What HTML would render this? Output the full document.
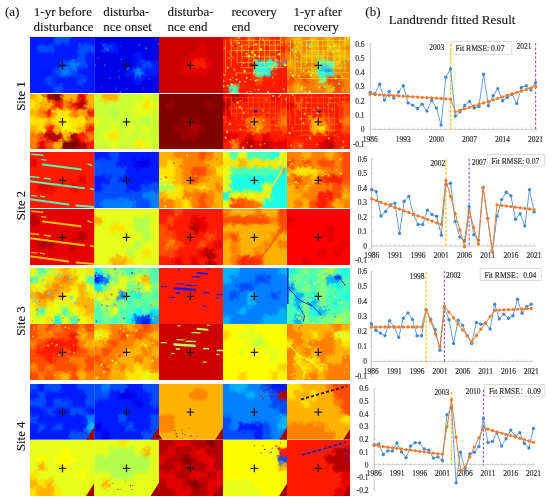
<!DOCTYPE html>
<html><head><meta charset="utf-8"><title>Landtrendr figure</title>
<style>
html,body{margin:0;padding:0;background:#fff;}
body{width:550px;height:503px;overflow:hidden;}
svg{display:block;}
text{font-family:"Liberation Serif", "Times New Roman", serif;}
.h{fill:#141414;stroke:#141414;stroke-width:0.12px;}
.s{fill:#333;stroke:#333;stroke-width:0.18px;}
.cjk{font-family:"Liberation Serif","Noto Serif CJK SC","Noto Sans CJK SC",serif;}
</style></head><body>
<svg width="550" height="503" viewBox="0 0 550 503">
<rect width="550" height="503" fill="#fff"/>
<text class="h" x="5.0" y="15.7" font-size="13">(a)</text>
<text class="h" x="33.8" y="15.6" font-size="13">1-yr before</text>
<text class="h" x="33.6" y="30.8" font-size="13">disturbance</text>
<text class="h" x="103.2" y="15.6" font-size="13">disturba-</text>
<text class="h" x="103.2" y="30.8" font-size="13">nce onset</text>
<text class="h" x="167.4" y="15.6" font-size="13">disturba-</text>
<text class="h" x="167.4" y="30.8" font-size="13">nce end</text>
<text class="h" x="231.4" y="15.6" font-size="13">recovery</text>
<text class="h" x="231.4" y="30.8" font-size="13">end</text>
<text class="h" x="293.4" y="15.6" font-size="13">1-yr after</text>
<text class="h" x="293.4" y="30.8" font-size="13">recovery</text>
<text class="h" x="365.3" y="16.0" font-size="13">(b)</text>
<text class="h" x="388.8" y="23.5" font-size="13.2">Landtrendr fitted Result</text>
<text transform="translate(25.3 96) rotate(-90)" text-anchor="middle" font-size="12.8" class="h">Site 1</text>
<text transform="translate(25.3 205.5) rotate(-90)" text-anchor="middle" font-size="12.8" class="h">Site 2</text>
<text transform="translate(25.3 321) rotate(-90)" text-anchor="middle" font-size="12.8" class="h">Site 3</text>
<text transform="translate(25.3 436.3) rotate(-90)" text-anchor="middle" font-size="12.8" class="h">Site 4</text>
<svg x="30" y="37" width="64.5" height="56" viewBox="0 0 64.5 56" overflow="hidden">
<rect width="64.5" height="56" fill="#001aff"/>
<g filter="url(#f00)">
<rect x="-8.50" y="-8.50" width="17.06" height="17.00" fill="#001aff"/>
<rect x="7.56" y="-8.50" width="9.06" height="17.00" fill="#001aff"/>
<rect x="15.62" y="-8.50" width="9.06" height="17.00" fill="#001aff"/>
<rect x="23.69" y="-8.50" width="9.06" height="17.00" fill="#004dff"/>
<rect x="31.75" y="-8.50" width="9.06" height="17.00" fill="#004dff"/>
<rect x="39.81" y="-8.50" width="9.06" height="17.00" fill="#001aff"/>
<rect x="47.88" y="-8.50" width="9.06" height="17.00" fill="#001aff"/>
<rect x="55.94" y="-8.50" width="17.06" height="17.00" fill="#001aff"/>
<rect x="-8.50" y="7.50" width="17.06" height="9.00" fill="#001aff"/>
<rect x="7.56" y="7.50" width="9.06" height="9.00" fill="#004dff"/>
<rect x="15.62" y="7.50" width="9.06" height="9.00" fill="#004dff"/>
<rect x="23.69" y="7.50" width="9.06" height="9.00" fill="#001aff"/>
<rect x="31.75" y="7.50" width="9.06" height="9.00" fill="#001aff"/>
<rect x="39.81" y="7.50" width="9.06" height="9.00" fill="#001aff"/>
<rect x="47.88" y="7.50" width="9.06" height="9.00" fill="#004dff"/>
<rect x="55.94" y="7.50" width="17.06" height="9.00" fill="#004dff"/>
<rect x="-8.50" y="15.50" width="17.06" height="9.00" fill="#001aff"/>
<rect x="7.56" y="15.50" width="9.06" height="9.00" fill="#001aff"/>
<rect x="15.62" y="15.50" width="9.06" height="9.00" fill="#001aff"/>
<rect x="23.69" y="15.50" width="9.06" height="9.00" fill="#001aff"/>
<rect x="31.75" y="15.50" width="9.06" height="9.00" fill="#001aff"/>
<rect x="39.81" y="15.50" width="9.06" height="9.00" fill="#001aff"/>
<rect x="47.88" y="15.50" width="9.06" height="9.00" fill="#004dff"/>
<rect x="55.94" y="15.50" width="17.06" height="9.00" fill="#001aff"/>
<rect x="-8.50" y="23.50" width="17.06" height="9.00" fill="#001aff"/>
<rect x="7.56" y="23.50" width="9.06" height="9.00" fill="#001aff"/>
<rect x="15.62" y="23.50" width="9.06" height="9.00" fill="#001aff"/>
<rect x="23.69" y="23.50" width="9.06" height="9.00" fill="#001aff"/>
<rect x="31.75" y="23.50" width="9.06" height="9.00" fill="#004dff"/>
<rect x="39.81" y="23.50" width="9.06" height="9.00" fill="#0080ff"/>
<rect x="47.88" y="23.50" width="9.06" height="9.00" fill="#004dff"/>
<rect x="55.94" y="23.50" width="17.06" height="9.00" fill="#001aff"/>
<rect x="-8.50" y="31.50" width="17.06" height="9.00" fill="#001aff"/>
<rect x="7.56" y="31.50" width="9.06" height="9.00" fill="#001aff"/>
<rect x="15.62" y="31.50" width="9.06" height="9.00" fill="#001aff"/>
<rect x="23.69" y="31.50" width="9.06" height="9.00" fill="#004dff"/>
<rect x="31.75" y="31.50" width="9.06" height="9.00" fill="#0080ff"/>
<rect x="39.81" y="31.50" width="9.06" height="9.00" fill="#004dff"/>
<rect x="47.88" y="31.50" width="9.06" height="9.00" fill="#001aff"/>
<rect x="55.94" y="31.50" width="17.06" height="9.00" fill="#001aff"/>
<rect x="-8.50" y="39.50" width="17.06" height="9.00" fill="#001aff"/>
<rect x="7.56" y="39.50" width="9.06" height="9.00" fill="#001aff"/>
<rect x="15.62" y="39.50" width="9.06" height="9.00" fill="#004dff"/>
<rect x="23.69" y="39.50" width="9.06" height="9.00" fill="#001aff"/>
<rect x="31.75" y="39.50" width="9.06" height="9.00" fill="#001aff"/>
<rect x="39.81" y="39.50" width="9.06" height="9.00" fill="#001aff"/>
<rect x="47.88" y="39.50" width="9.06" height="9.00" fill="#004dff"/>
<rect x="55.94" y="39.50" width="17.06" height="9.00" fill="#001aff"/>
<rect x="-8.50" y="47.50" width="17.06" height="17.00" fill="#001aff"/>
<rect x="7.56" y="47.50" width="9.06" height="17.00" fill="#001aff"/>
<rect x="15.62" y="47.50" width="9.06" height="17.00" fill="#001aff"/>
<rect x="23.69" y="47.50" width="9.06" height="17.00" fill="#004dff"/>
<rect x="31.75" y="47.50" width="9.06" height="17.00" fill="#001aff"/>
<rect x="39.81" y="47.50" width="9.06" height="17.00" fill="#001aff"/>
<rect x="47.88" y="47.50" width="9.06" height="17.00" fill="#001aff"/>
<rect x="55.94" y="47.50" width="17.06" height="17.00" fill="#001aff"/>
</g>
<defs><filter id="f00" x="-20%" y="-20%" width="140%" height="140%" color-interpolation-filters="sRGB"><feGaussianBlur stdDeviation="1.8" result="b"/><feTurbulence type="fractalNoise" baseFrequency="0.2" numOctaves="2" seed="1" result="n"/><feDisplacementMap in="b" in2="n" scale="8.0" xChannelSelector="R" yChannelSelector="G" result="d"/><feGaussianBlur in="d" stdDeviation="0.5"/></filter></defs>
<path d="M28.7 28.4H36.3M32.5 24.6V32.2" stroke="#1a1208" stroke-width="1.25" fill="none" opacity="0.92"/>
</svg>
<svg x="94.5" y="37" width="64.5" height="56" viewBox="0 0 64.5 56" overflow="hidden">
<rect width="64.5" height="56" fill="#0000e6"/>
<g filter="url(#f01)">
<rect x="-8.50" y="-8.50" width="17.06" height="17.00" fill="#0000e6"/>
<rect x="7.56" y="-8.50" width="9.06" height="17.00" fill="#0000e6"/>
<rect x="15.62" y="-8.50" width="9.06" height="17.00" fill="#0000e6"/>
<rect x="23.69" y="-8.50" width="9.06" height="17.00" fill="#0000e6"/>
<rect x="31.75" y="-8.50" width="9.06" height="17.00" fill="#0000e6"/>
<rect x="39.81" y="-8.50" width="9.06" height="17.00" fill="#0000e6"/>
<rect x="47.88" y="-8.50" width="9.06" height="17.00" fill="#0000e6"/>
<rect x="55.94" y="-8.50" width="17.06" height="17.00" fill="#0000e6"/>
<rect x="-8.50" y="7.50" width="17.06" height="9.00" fill="#0000e6"/>
<rect x="7.56" y="7.50" width="9.06" height="9.00" fill="#004dff"/>
<rect x="15.62" y="7.50" width="9.06" height="9.00" fill="#001aff"/>
<rect x="23.69" y="7.50" width="9.06" height="9.00" fill="#0000e6"/>
<rect x="31.75" y="7.50" width="9.06" height="9.00" fill="#0000e6"/>
<rect x="39.81" y="7.50" width="9.06" height="9.00" fill="#0000e6"/>
<rect x="47.88" y="7.50" width="9.06" height="9.00" fill="#0000e6"/>
<rect x="55.94" y="7.50" width="17.06" height="9.00" fill="#0000e6"/>
<rect x="-8.50" y="15.50" width="17.06" height="9.00" fill="#0000e6"/>
<rect x="7.56" y="15.50" width="9.06" height="9.00" fill="#0000e6"/>
<rect x="15.62" y="15.50" width="9.06" height="9.00" fill="#0000e6"/>
<rect x="23.69" y="15.50" width="9.06" height="9.00" fill="#0000e6"/>
<rect x="31.75" y="15.50" width="9.06" height="9.00" fill="#0000e6"/>
<rect x="39.81" y="15.50" width="9.06" height="9.00" fill="#001aff"/>
<rect x="47.88" y="15.50" width="9.06" height="9.00" fill="#0000e6"/>
<rect x="55.94" y="15.50" width="17.06" height="9.00" fill="#0000e6"/>
<rect x="-8.50" y="23.50" width="17.06" height="9.00" fill="#0000e6"/>
<rect x="7.56" y="23.50" width="9.06" height="9.00" fill="#0000e6"/>
<rect x="15.62" y="23.50" width="9.06" height="9.00" fill="#0000e6"/>
<rect x="23.69" y="23.50" width="9.06" height="9.00" fill="#0000e6"/>
<rect x="31.75" y="23.50" width="9.06" height="9.00" fill="#0000e6"/>
<rect x="39.81" y="23.50" width="9.06" height="9.00" fill="#001aff"/>
<rect x="47.88" y="23.50" width="9.06" height="9.00" fill="#004dff"/>
<rect x="55.94" y="23.50" width="17.06" height="9.00" fill="#001aff"/>
<rect x="-8.50" y="31.50" width="17.06" height="9.00" fill="#0000e6"/>
<rect x="7.56" y="31.50" width="9.06" height="9.00" fill="#0000e6"/>
<rect x="15.62" y="31.50" width="9.06" height="9.00" fill="#0000e6"/>
<rect x="23.69" y="31.50" width="9.06" height="9.00" fill="#0000e6"/>
<rect x="31.75" y="31.50" width="9.06" height="9.00" fill="#001aff"/>
<rect x="39.81" y="31.50" width="9.06" height="9.00" fill="#0080ff"/>
<rect x="47.88" y="31.50" width="9.06" height="9.00" fill="#001aff"/>
<rect x="55.94" y="31.50" width="17.06" height="9.00" fill="#001aff"/>
<rect x="-8.50" y="39.50" width="17.06" height="9.00" fill="#0000e6"/>
<rect x="7.56" y="39.50" width="9.06" height="9.00" fill="#0000e6"/>
<rect x="15.62" y="39.50" width="9.06" height="9.00" fill="#0000e6"/>
<rect x="23.69" y="39.50" width="9.06" height="9.00" fill="#0000e6"/>
<rect x="31.75" y="39.50" width="9.06" height="9.00" fill="#0000e6"/>
<rect x="39.81" y="39.50" width="9.06" height="9.00" fill="#001aff"/>
<rect x="47.88" y="39.50" width="9.06" height="9.00" fill="#0000e6"/>
<rect x="55.94" y="39.50" width="17.06" height="9.00" fill="#0000e6"/>
<rect x="-8.50" y="47.50" width="17.06" height="17.00" fill="#0000e6"/>
<rect x="7.56" y="47.50" width="9.06" height="17.00" fill="#0000e6"/>
<rect x="15.62" y="47.50" width="9.06" height="17.00" fill="#0000e6"/>
<rect x="23.69" y="47.50" width="9.06" height="17.00" fill="#0000e6"/>
<rect x="31.75" y="47.50" width="9.06" height="17.00" fill="#0000e6"/>
<rect x="39.81" y="47.50" width="9.06" height="17.00" fill="#0000e6"/>
<rect x="47.88" y="47.50" width="9.06" height="17.00" fill="#0000e6"/>
<rect x="55.94" y="47.50" width="17.06" height="17.00" fill="#0000e6"/>
</g>
<defs><filter id="f01" x="-20%" y="-20%" width="140%" height="140%" color-interpolation-filters="sRGB"><feGaussianBlur stdDeviation="1.8" result="b"/><feTurbulence type="fractalNoise" baseFrequency="0.2" numOctaves="2" seed="2" result="n"/><feDisplacementMap in="b" in2="n" scale="8.0" xChannelSelector="R" yChannelSelector="G" result="d"/><feGaussianBlur in="d" stdDeviation="0.5"/></filter></defs>
<defs><filter id="fb01_0" filterUnits="userSpaceOnUse" x="-10" y="-10" width="84.5" height="76" color-interpolation-filters="sRGB"><feGaussianBlur stdDeviation="0.5"/></filter></defs>
<g filter="url(#fb01_0)">
<circle cx="29.6" cy="20.9" r="0.58" fill="#1060ff" opacity="0.8"/><circle cx="0.4" cy="28.2" r="1.04" fill="#2080ff" opacity="0.8"/><circle cx="21.4" cy="52.4" r="0.92" fill="#1060ff" opacity="0.8"/><circle cx="24.3" cy="39.4" r="0.77" fill="#1060ff" opacity="0.8"/><circle cx="27.0" cy="9.4" r="0.53" fill="#2080ff" opacity="0.8"/><circle cx="32.4" cy="51.7" r="0.85" fill="#1060ff" opacity="0.8"/><circle cx="24.6" cy="41.8" r="0.56" fill="#30a0ff" opacity="0.8"/><circle cx="13.1" cy="12.6" r="0.98" fill="#2080ff" opacity="0.8"/><circle cx="49.4" cy="51.0" r="0.74" fill="#30a0ff" opacity="0.8"/><circle cx="51.8" cy="11.2" r="1.03" fill="#30a0ff" opacity="0.8"/><circle cx="3.5" cy="21.2" r="0.80" fill="#2080ff" opacity="0.8"/><circle cx="15.2" cy="41.2" r="1.01" fill="#1060ff" opacity="0.8"/><circle cx="0.2" cy="42.8" r="0.62" fill="#2080ff" opacity="0.8"/><circle cx="21.1" cy="50.0" r="0.58" fill="#2080ff" opacity="0.8"/><circle cx="32.1" cy="32.1" r="0.82" fill="#2080ff" opacity="0.8"/><circle cx="26.9" cy="22.3" r="0.88" fill="#2080ff" opacity="0.8"/><circle cx="44.9" cy="8.1" r="1.06" fill="#1060ff" opacity="0.8"/><circle cx="61.3" cy="3.0" r="0.83" fill="#1060ff" opacity="0.8"/><circle cx="54.5" cy="41.7" r="0.94" fill="#1060ff" opacity="0.8"/><circle cx="63.9" cy="6.8" r="0.92" fill="#2080ff" opacity="0.8"/><circle cx="10.4" cy="28.3" r="0.94" fill="#1060ff" opacity="0.8"/><circle cx="33.4" cy="31.7" r="0.91" fill="#30a0ff" opacity="0.8"/><circle cx="7.0" cy="49.4" r="0.72" fill="#2080ff" opacity="0.8"/><circle cx="25.7" cy="55.2" r="0.84" fill="#2080ff" opacity="0.8"/><circle cx="24.3" cy="34.0" r="0.50" fill="#2080ff" opacity="0.8"/>
</g>
<path d="M28.2 28.4H35.8M32.0 24.6V32.2" stroke="#1a1208" stroke-width="1.25" fill="none" opacity="0.92"/>
</svg>
<svg x="159" y="37" width="64" height="56" viewBox="0 0 64 56" overflow="hidden">
<rect width="64" height="56" fill="#cc0000"/>
<g filter="url(#f02)">
<rect x="-8.50" y="-8.50" width="17.00" height="17.00" fill="#cc0000"/>
<rect x="7.50" y="-8.50" width="9.00" height="17.00" fill="#cc0000"/>
<rect x="15.50" y="-8.50" width="9.00" height="17.00" fill="#cc0000"/>
<rect x="23.50" y="-8.50" width="9.00" height="17.00" fill="#cc0000"/>
<rect x="31.50" y="-8.50" width="9.00" height="17.00" fill="#cc0000"/>
<rect x="39.50" y="-8.50" width="9.00" height="17.00" fill="#cc0000"/>
<rect x="47.50" y="-8.50" width="9.00" height="17.00" fill="#cc0000"/>
<rect x="55.50" y="-8.50" width="17.00" height="17.00" fill="#cc0000"/>
<rect x="-8.50" y="7.50" width="17.00" height="9.00" fill="#cc0000"/>
<rect x="7.50" y="7.50" width="9.00" height="9.00" fill="#cc0000"/>
<rect x="15.50" y="7.50" width="9.00" height="9.00" fill="#cc0000"/>
<rect x="23.50" y="7.50" width="9.00" height="9.00" fill="#cc0000"/>
<rect x="31.50" y="7.50" width="9.00" height="9.00" fill="#cc0000"/>
<rect x="39.50" y="7.50" width="9.00" height="9.00" fill="#e50000"/>
<rect x="47.50" y="7.50" width="9.00" height="9.00" fill="#cc0000"/>
<rect x="55.50" y="7.50" width="17.00" height="9.00" fill="#cc0000"/>
<rect x="-8.50" y="15.50" width="17.00" height="9.00" fill="#cc0000"/>
<rect x="7.50" y="15.50" width="9.00" height="9.00" fill="#cc0000"/>
<rect x="15.50" y="15.50" width="9.00" height="9.00" fill="#cc0000"/>
<rect x="23.50" y="15.50" width="9.00" height="9.00" fill="#cc0000"/>
<rect x="31.50" y="15.50" width="9.00" height="9.00" fill="#e50000"/>
<rect x="39.50" y="15.50" width="9.00" height="9.00" fill="#e50000"/>
<rect x="47.50" y="15.50" width="9.00" height="9.00" fill="#cc0000"/>
<rect x="55.50" y="15.50" width="17.00" height="9.00" fill="#cc0000"/>
<rect x="-8.50" y="23.50" width="17.00" height="9.00" fill="#cc0000"/>
<rect x="7.50" y="23.50" width="9.00" height="9.00" fill="#cc0000"/>
<rect x="15.50" y="23.50" width="9.00" height="9.00" fill="#cc0000"/>
<rect x="23.50" y="23.50" width="9.00" height="9.00" fill="#e50000"/>
<rect x="31.50" y="23.50" width="9.00" height="9.00" fill="#ff1a00"/>
<rect x="39.50" y="23.50" width="9.00" height="9.00" fill="#ff1a00"/>
<rect x="47.50" y="23.50" width="9.00" height="9.00" fill="#e50000"/>
<rect x="55.50" y="23.50" width="17.00" height="9.00" fill="#cc0000"/>
<rect x="-8.50" y="31.50" width="17.00" height="9.00" fill="#cc0000"/>
<rect x="7.50" y="31.50" width="9.00" height="9.00" fill="#cc0000"/>
<rect x="15.50" y="31.50" width="9.00" height="9.00" fill="#cc0000"/>
<rect x="23.50" y="31.50" width="9.00" height="9.00" fill="#e50000"/>
<rect x="31.50" y="31.50" width="9.00" height="9.00" fill="#e50000"/>
<rect x="39.50" y="31.50" width="9.00" height="9.00" fill="#e50000"/>
<rect x="47.50" y="31.50" width="9.00" height="9.00" fill="#cc0000"/>
<rect x="55.50" y="31.50" width="17.00" height="9.00" fill="#cc0000"/>
<rect x="-8.50" y="39.50" width="17.00" height="9.00" fill="#cc0000"/>
<rect x="7.50" y="39.50" width="9.00" height="9.00" fill="#cc0000"/>
<rect x="15.50" y="39.50" width="9.00" height="9.00" fill="#cc0000"/>
<rect x="23.50" y="39.50" width="9.00" height="9.00" fill="#cc0000"/>
<rect x="31.50" y="39.50" width="9.00" height="9.00" fill="#cc0000"/>
<rect x="39.50" y="39.50" width="9.00" height="9.00" fill="#cc0000"/>
<rect x="47.50" y="39.50" width="9.00" height="9.00" fill="#cc0000"/>
<rect x="55.50" y="39.50" width="17.00" height="9.00" fill="#cc0000"/>
<rect x="-8.50" y="47.50" width="17.00" height="17.00" fill="#cc0000"/>
<rect x="7.50" y="47.50" width="9.00" height="17.00" fill="#cc0000"/>
<rect x="15.50" y="47.50" width="9.00" height="17.00" fill="#cc0000"/>
<rect x="23.50" y="47.50" width="9.00" height="17.00" fill="#cc0000"/>
<rect x="31.50" y="47.50" width="9.00" height="17.00" fill="#cc0000"/>
<rect x="39.50" y="47.50" width="9.00" height="17.00" fill="#cc0000"/>
<rect x="47.50" y="47.50" width="9.00" height="17.00" fill="#cc0000"/>
<rect x="55.50" y="47.50" width="17.00" height="17.00" fill="#cc0000"/>
</g>
<defs><filter id="f02" x="-20%" y="-20%" width="140%" height="140%" color-interpolation-filters="sRGB"><feGaussianBlur stdDeviation="1.8" result="b"/><feTurbulence type="fractalNoise" baseFrequency="0.2" numOctaves="2" seed="3" result="n"/><feDisplacementMap in="b" in2="n" scale="8.0" xChannelSelector="R" yChannelSelector="G" result="d"/><feGaussianBlur in="d" stdDeviation="0.5"/></filter></defs>
<path d="M27.6 28.4H35.2M31.4 24.6V32.2" stroke="#1a1208" stroke-width="1.25" fill="none" opacity="0.92"/>
</svg>
<svg x="223" y="37" width="64" height="56" viewBox="0 0 64 56" overflow="hidden">
<rect width="64" height="56" fill="#ff1a00"/>
<g filter="url(#f03)">
<rect x="-8.50" y="-8.50" width="17.00" height="17.00" fill="#ff1a00"/>
<rect x="7.50" y="-8.50" width="9.00" height="17.00" fill="#ff4c00"/>
<rect x="15.50" y="-8.50" width="9.00" height="17.00" fill="#ff1a00"/>
<rect x="23.50" y="-8.50" width="9.00" height="17.00" fill="#ff4c00"/>
<rect x="31.50" y="-8.50" width="9.00" height="17.00" fill="#ff1a00"/>
<rect x="39.50" y="-8.50" width="9.00" height="17.00" fill="#ff4c00"/>
<rect x="47.50" y="-8.50" width="9.00" height="17.00" fill="#ff1a00"/>
<rect x="55.50" y="-8.50" width="17.00" height="17.00" fill="#ff4c00"/>
<rect x="-8.50" y="7.50" width="17.00" height="9.00" fill="#ff1a00"/>
<rect x="7.50" y="7.50" width="9.00" height="9.00" fill="#ff1a00"/>
<rect x="15.50" y="7.50" width="9.00" height="9.00" fill="#ff4c00"/>
<rect x="23.50" y="7.50" width="9.00" height="9.00" fill="#ff1a00"/>
<rect x="31.50" y="7.50" width="9.00" height="9.00" fill="#ff4c00"/>
<rect x="39.50" y="7.50" width="9.00" height="9.00" fill="#ff1a00"/>
<rect x="47.50" y="7.50" width="9.00" height="9.00" fill="#ff4c00"/>
<rect x="55.50" y="7.50" width="17.00" height="9.00" fill="#ff1a00"/>
<rect x="-8.50" y="15.50" width="17.00" height="9.00" fill="#ff1a00"/>
<rect x="7.50" y="15.50" width="9.00" height="9.00" fill="#ff1a00"/>
<rect x="15.50" y="15.50" width="9.00" height="9.00" fill="#ff1a00"/>
<rect x="23.50" y="15.50" width="9.00" height="9.00" fill="#ff4c00"/>
<rect x="31.50" y="15.50" width="9.00" height="9.00" fill="#ff1a00"/>
<rect x="39.50" y="15.50" width="9.00" height="9.00" fill="#ff4c00"/>
<rect x="47.50" y="15.50" width="9.00" height="9.00" fill="#ff1a00"/>
<rect x="55.50" y="15.50" width="17.00" height="9.00" fill="#ff4c00"/>
<rect x="-8.50" y="23.50" width="17.00" height="9.00" fill="#ff1a00"/>
<rect x="7.50" y="23.50" width="9.00" height="9.00" fill="#ff1a00"/>
<rect x="15.50" y="23.50" width="9.00" height="9.00" fill="#ff1a00"/>
<rect x="23.50" y="23.50" width="9.00" height="9.00" fill="#ff1a00"/>
<rect x="31.50" y="23.50" width="9.00" height="9.00" fill="#1affe5"/>
<rect x="39.50" y="23.50" width="9.00" height="9.00" fill="#1affe5"/>
<rect x="47.50" y="23.50" width="9.00" height="9.00" fill="#4dffb2"/>
<rect x="55.50" y="23.50" width="17.00" height="9.00" fill="#ff1a00"/>
<rect x="-8.50" y="31.50" width="17.00" height="9.00" fill="#ff1a00"/>
<rect x="7.50" y="31.50" width="9.00" height="9.00" fill="#ff1a00"/>
<rect x="15.50" y="31.50" width="9.00" height="9.00" fill="#ff1a00"/>
<rect x="23.50" y="31.50" width="9.00" height="9.00" fill="#ff1a00"/>
<rect x="31.50" y="31.50" width="9.00" height="9.00" fill="#4dffb2"/>
<rect x="39.50" y="31.50" width="9.00" height="9.00" fill="#1affe5"/>
<rect x="47.50" y="31.50" width="9.00" height="9.00" fill="#ff1a00"/>
<rect x="55.50" y="31.50" width="17.00" height="9.00" fill="#ff1a00"/>
<rect x="-8.50" y="39.50" width="17.00" height="9.00" fill="#ff1a00"/>
<rect x="7.50" y="39.50" width="9.00" height="9.00" fill="#ff1a00"/>
<rect x="15.50" y="39.50" width="9.00" height="9.00" fill="#ff1a00"/>
<rect x="23.50" y="39.50" width="9.00" height="9.00" fill="#ff1a00"/>
<rect x="31.50" y="39.50" width="9.00" height="9.00" fill="#ff4c00"/>
<rect x="39.50" y="39.50" width="9.00" height="9.00" fill="#ff1a00"/>
<rect x="47.50" y="39.50" width="9.00" height="9.00" fill="#ff1a00"/>
<rect x="55.50" y="39.50" width="17.00" height="9.00" fill="#ff1a00"/>
<rect x="-8.50" y="47.50" width="17.00" height="17.00" fill="#ff1a00"/>
<rect x="7.50" y="47.50" width="9.00" height="17.00" fill="#4dffb2"/>
<rect x="15.50" y="47.50" width="9.00" height="17.00" fill="#ff1a00"/>
<rect x="23.50" y="47.50" width="9.00" height="17.00" fill="#ff1a00"/>
<rect x="31.50" y="47.50" width="9.00" height="17.00" fill="#ff1a00"/>
<rect x="39.50" y="47.50" width="9.00" height="17.00" fill="#ff1a00"/>
<rect x="47.50" y="47.50" width="9.00" height="17.00" fill="#ff1a00"/>
<rect x="55.50" y="47.50" width="17.00" height="17.00" fill="#ff1a00"/>
</g>
<defs><filter id="f03" x="-20%" y="-20%" width="140%" height="140%" color-interpolation-filters="sRGB"><feGaussianBlur stdDeviation="1.8" result="b"/><feTurbulence type="fractalNoise" baseFrequency="0.2" numOctaves="2" seed="4" result="n"/><feDisplacementMap in="b" in2="n" scale="8.0" xChannelSelector="R" yChannelSelector="G" result="d"/><feGaussianBlur in="d" stdDeviation="0.5"/></filter></defs>
<defs><filter id="fb03_0" filterUnits="userSpaceOnUse" x="-10" y="-10" width="84" height="76" color-interpolation-filters="sRGB"><feGaussianBlur stdDeviation="1.0"/></filter></defs>
<g filter="url(#fb03_0)">
<ellipse cx="39" cy="31" rx="6" ry="3.5" fill="#40e8f0" opacity="0.85"/>
<ellipse cx="44" cy="35" rx="3" ry="2" fill="#40e8f0" opacity="0.7"/>
<ellipse cx="8" cy="50" rx="2.5" ry="1.8" fill="#40e8f0" opacity="0.85"/>
<ellipse cx="61" cy="26" rx="2.5" ry="3.5" fill="#40e8f0" opacity="0.6"/>
</g>
<defs><filter id="fb03_1" filterUnits="userSpaceOnUse" x="-10" y="-10" width="84" height="76" color-interpolation-filters="sRGB"><feGaussianBlur stdDeviation="0.5"/></filter></defs>
<g filter="url(#fb03_1)">
<circle cx="8.6" cy="47.5" r="1.13" fill="#d0ff40" opacity="0.8"/><circle cx="7.5" cy="42.6" r="0.93" fill="#d0ff40" opacity="0.8"/><circle cx="50.5" cy="5.3" r="0.62" fill="#d0ff40" opacity="0.8"/><circle cx="27.7" cy="42.7" r="0.60" fill="#d0ff40" opacity="0.8"/><circle cx="17.0" cy="44.9" r="1.01" fill="#ffe040" opacity="0.8"/><circle cx="57.7" cy="1.7" r="0.62" fill="#ffb000" opacity="0.8"/><circle cx="0.6" cy="49.3" r="1.08" fill="#d0ff40" opacity="0.8"/><circle cx="46.5" cy="29.5" r="1.13" fill="#d0ff40" opacity="0.8"/><circle cx="35.4" cy="19.4" r="1.07" fill="#d0ff40" opacity="0.8"/><circle cx="60.9" cy="51.9" r="0.89" fill="#ffb000" opacity="0.8"/><circle cx="59.0" cy="5.6" r="1.04" fill="#ffb000" opacity="0.8"/><circle cx="55.0" cy="6.8" r="0.83" fill="#ffb000" opacity="0.8"/><circle cx="62.3" cy="28.0" r="1.28" fill="#ffb000" opacity="0.8"/><circle cx="53.1" cy="37.5" r="0.81" fill="#ffb000" opacity="0.8"/><circle cx="62.3" cy="28.0" r="1.26" fill="#d0ff40" opacity="0.8"/><circle cx="37.7" cy="1.9" r="0.77" fill="#d0ff40" opacity="0.8"/><circle cx="26.5" cy="9.7" r="0.98" fill="#ffb000" opacity="0.8"/><circle cx="49.7" cy="41.3" r="0.66" fill="#ffb000" opacity="0.8"/><circle cx="32.5" cy="43.6" r="0.96" fill="#d0ff40" opacity="0.8"/><circle cx="23.7" cy="41.0" r="0.93" fill="#d0ff40" opacity="0.8"/><circle cx="45.0" cy="55.1" r="1.02" fill="#d0ff40" opacity="0.8"/><circle cx="41.4" cy="9.4" r="0.76" fill="#ffe040" opacity="0.8"/><circle cx="49.3" cy="30.2" r="1.20" fill="#ffe040" opacity="0.8"/><circle cx="25.9" cy="19.3" r="1.19" fill="#d0ff40" opacity="0.8"/><circle cx="29.4" cy="15.1" r="0.98" fill="#ffb000" opacity="0.8"/><circle cx="0.4" cy="43.9" r="1.17" fill="#ffb000" opacity="0.8"/><circle cx="32.8" cy="7.2" r="1.14" fill="#ffe040" opacity="0.8"/><circle cx="27.3" cy="3.1" r="1.21" fill="#ffb000" opacity="0.8"/><circle cx="35.5" cy="52.7" r="0.89" fill="#d0ff40" opacity="0.8"/><circle cx="26.5" cy="0.1" r="0.98" fill="#ffb000" opacity="0.8"/><circle cx="21.2" cy="33.6" r="1.16" fill="#ffb000" opacity="0.8"/><circle cx="11.3" cy="32.7" r="1.20" fill="#ffb000" opacity="0.8"/><circle cx="51.0" cy="45.7" r="0.78" fill="#ffb000" opacity="0.8"/><circle cx="4.5" cy="48.6" r="0.92" fill="#d0ff40" opacity="0.8"/><circle cx="16.0" cy="6.1" r="1.04" fill="#d0ff40" opacity="0.8"/><circle cx="18.6" cy="9.4" r="0.78" fill="#ffe040" opacity="0.8"/><circle cx="42.0" cy="36.3" r="0.81" fill="#ffb000" opacity="0.8"/><circle cx="20.6" cy="26.5" r="0.62" fill="#d0ff40" opacity="0.8"/><circle cx="22.0" cy="44.6" r="0.78" fill="#d0ff40" opacity="0.8"/><circle cx="57.6" cy="28.6" r="0.75" fill="#ffb000" opacity="0.8"/><circle cx="27.6" cy="54.6" r="0.76" fill="#d0ff40" opacity="0.8"/><circle cx="9.4" cy="40.3" r="0.71" fill="#ffb000" opacity="0.8"/><circle cx="32.4" cy="23.9" r="1.18" fill="#ffb000" opacity="0.8"/><circle cx="51.1" cy="28.9" r="0.76" fill="#ffb000" opacity="0.8"/><circle cx="2.0" cy="37.8" r="1.16" fill="#ffb000" opacity="0.8"/><circle cx="40.4" cy="3.3" r="0.81" fill="#ffe040" opacity="0.8"/><circle cx="56.0" cy="17.2" r="1.20" fill="#d0ff40" opacity="0.8"/><circle cx="58.7" cy="16.7" r="0.71" fill="#ffb000" opacity="0.8"/><circle cx="16.2" cy="0.5" r="1.22" fill="#ffe040" opacity="0.8"/><circle cx="37.8" cy="12.2" r="1.23" fill="#d0ff40" opacity="0.8"/><circle cx="11.0" cy="48.6" r="1.28" fill="#ffb000" opacity="0.8"/><circle cx="39.9" cy="2.1" r="0.74" fill="#ffe040" opacity="0.8"/><circle cx="13.2" cy="37.8" r="0.90" fill="#ffe040" opacity="0.8"/><circle cx="31.5" cy="52.5" r="0.87" fill="#ffb000" opacity="0.8"/><circle cx="32.0" cy="18.2" r="1.21" fill="#d0ff40" opacity="0.8"/><circle cx="1.2" cy="11.2" r="0.83" fill="#ffb000" opacity="0.8"/><circle cx="50.1" cy="19.0" r="0.75" fill="#ffb000" opacity="0.8"/><circle cx="6.2" cy="21.2" r="0.98" fill="#ffb000" opacity="0.8"/><circle cx="34.2" cy="43.0" r="0.97" fill="#ffe040" opacity="0.8"/><circle cx="46.4" cy="4.7" r="0.72" fill="#ffb000" opacity="0.8"/><circle cx="13.6" cy="42.5" r="1.02" fill="#d0ff40" opacity="0.8"/><circle cx="23.6" cy="19.1" r="0.80" fill="#ffb000" opacity="0.8"/><circle cx="49.9" cy="40.0" r="0.94" fill="#ffb000" opacity="0.8"/><circle cx="35.3" cy="5.8" r="0.63" fill="#ffe040" opacity="0.8"/><circle cx="24.3" cy="55.5" r="0.70" fill="#ffe040" opacity="0.8"/><circle cx="21.8" cy="34.5" r="1.15" fill="#d0ff40" opacity="0.8"/><circle cx="4.9" cy="30.8" r="1.00" fill="#d0ff40" opacity="0.8"/><circle cx="23.4" cy="16.6" r="0.97" fill="#ffe040" opacity="0.8"/><circle cx="29.3" cy="15.5" r="1.15" fill="#d0ff40" opacity="0.8"/><circle cx="0.8" cy="37.5" r="0.66" fill="#ffe040" opacity="0.8"/>
</g>
<defs><filter id="fb03_2" filterUnits="userSpaceOnUse" x="-10" y="-10" width="84" height="76" color-interpolation-filters="sRGB"><feGaussianBlur stdDeviation="0.45"/></filter></defs>
<g filter="url(#fb03_2)">
<path d="M2.6 3.4V35.7M8.2 2.0V30.1M14.2 3.2V23.7M18.9 3.3V29.8M25.3 0.0V30.0M30.8 0.9V39.0M36.5 0.1V22.5M41.5 3.8V28.9M46.7 1.7V22.5M52.2 1.8V30.9M57.7 0.9V25.9M63.0 1.2V22.4M11.1 3.4H56.8M19.9 8.1H61.2M6.7 13.5H58.4M18.7 19.8H52.4M13.4 25.4H50.1M17.6 30.6H60.9M11.8 36.0H44.7M7 4.5L14 16M5 14L11 22" stroke="#ffe030" stroke-width="0.85" opacity="0.6" fill="none"/>
</g>
<path d="M27.6 28.4H35.2M31.4 24.6V32.2" stroke="#1a1208" stroke-width="1.25" fill="none" opacity="0.92"/>
</svg>
<svg x="287" y="37" width="63" height="56" viewBox="0 0 63 56" overflow="hidden">
<rect width="63" height="56" fill="#ff8000"/>
<g filter="url(#f04)">
<rect x="-8.50" y="-8.50" width="16.88" height="17.00" fill="#ff8000"/>
<rect x="7.38" y="-8.50" width="8.88" height="17.00" fill="#ffb300"/>
<rect x="15.25" y="-8.50" width="8.88" height="17.00" fill="#ff8000"/>
<rect x="23.12" y="-8.50" width="8.88" height="17.00" fill="#ffb300"/>
<rect x="31.00" y="-8.50" width="8.88" height="17.00" fill="#ff8000"/>
<rect x="38.88" y="-8.50" width="8.88" height="17.00" fill="#ffb300"/>
<rect x="46.75" y="-8.50" width="8.88" height="17.00" fill="#ff8000"/>
<rect x="54.62" y="-8.50" width="16.88" height="17.00" fill="#ffb300"/>
<rect x="-8.50" y="7.50" width="16.88" height="9.00" fill="#ff4c00"/>
<rect x="7.38" y="7.50" width="8.88" height="9.00" fill="#ffb300"/>
<rect x="15.25" y="7.50" width="8.88" height="9.00" fill="#ff8000"/>
<rect x="23.12" y="7.50" width="8.88" height="9.00" fill="#ffb300"/>
<rect x="31.00" y="7.50" width="8.88" height="9.00" fill="#ff8000"/>
<rect x="38.88" y="7.50" width="8.88" height="9.00" fill="#ffb300"/>
<rect x="46.75" y="7.50" width="8.88" height="9.00" fill="#ffb300"/>
<rect x="54.62" y="7.50" width="16.88" height="9.00" fill="#ff8000"/>
<rect x="-8.50" y="15.50" width="16.88" height="9.00" fill="#ff8000"/>
<rect x="7.38" y="15.50" width="8.88" height="9.00" fill="#ff8000"/>
<rect x="15.25" y="15.50" width="8.88" height="9.00" fill="#ffb300"/>
<rect x="23.12" y="15.50" width="8.88" height="9.00" fill="#ffb300"/>
<rect x="31.00" y="15.50" width="8.88" height="9.00" fill="#ffb300"/>
<rect x="38.88" y="15.50" width="8.88" height="9.00" fill="#ff8000"/>
<rect x="46.75" y="15.50" width="8.88" height="9.00" fill="#ffb300"/>
<rect x="54.62" y="15.50" width="16.88" height="9.00" fill="#ffb300"/>
<rect x="-8.50" y="23.50" width="16.88" height="9.00" fill="#ffb300"/>
<rect x="7.38" y="23.50" width="8.88" height="9.00" fill="#ff8000"/>
<rect x="15.25" y="23.50" width="8.88" height="9.00" fill="#ff8000"/>
<rect x="23.12" y="23.50" width="8.88" height="9.00" fill="#ff8000"/>
<rect x="31.00" y="23.50" width="8.88" height="9.00" fill="#4dffb2"/>
<rect x="38.88" y="23.50" width="8.88" height="9.00" fill="#4dffb2"/>
<rect x="46.75" y="23.50" width="8.88" height="9.00" fill="#ffb300"/>
<rect x="54.62" y="23.50" width="16.88" height="9.00" fill="#ff8000"/>
<rect x="-8.50" y="31.50" width="16.88" height="9.00" fill="#ff8000"/>
<rect x="7.38" y="31.50" width="8.88" height="9.00" fill="#ff8000"/>
<rect x="15.25" y="31.50" width="8.88" height="9.00" fill="#ff8000"/>
<rect x="23.12" y="31.50" width="8.88" height="9.00" fill="#ffb300"/>
<rect x="31.00" y="31.50" width="8.88" height="9.00" fill="#1affe5"/>
<rect x="38.88" y="31.50" width="8.88" height="9.00" fill="#1affe5"/>
<rect x="46.75" y="31.50" width="8.88" height="9.00" fill="#ff8000"/>
<rect x="54.62" y="31.50" width="16.88" height="9.00" fill="#ff8000"/>
<rect x="-8.50" y="39.50" width="16.88" height="9.00" fill="#ff4c00"/>
<rect x="7.38" y="39.50" width="8.88" height="9.00" fill="#ff8000"/>
<rect x="15.25" y="39.50" width="8.88" height="9.00" fill="#ff4c00"/>
<rect x="23.12" y="39.50" width="8.88" height="9.00" fill="#ff8000"/>
<rect x="31.00" y="39.50" width="8.88" height="9.00" fill="#80ff80"/>
<rect x="38.88" y="39.50" width="8.88" height="9.00" fill="#ff4c00"/>
<rect x="46.75" y="39.50" width="8.88" height="9.00" fill="#ff4c00"/>
<rect x="54.62" y="39.50" width="16.88" height="9.00" fill="#ff8000"/>
<rect x="-8.50" y="47.50" width="16.88" height="17.00" fill="#ff8000"/>
<rect x="7.38" y="47.50" width="8.88" height="17.00" fill="#ffb300"/>
<rect x="15.25" y="47.50" width="8.88" height="17.00" fill="#ff8000"/>
<rect x="23.12" y="47.50" width="8.88" height="17.00" fill="#ff8000"/>
<rect x="31.00" y="47.50" width="8.88" height="17.00" fill="#ff8000"/>
<rect x="38.88" y="47.50" width="8.88" height="17.00" fill="#ffb300"/>
<rect x="46.75" y="47.50" width="8.88" height="17.00" fill="#ff4c00"/>
<rect x="54.62" y="47.50" width="16.88" height="17.00" fill="#ff8000"/>
</g>
<defs><filter id="f04" x="-20%" y="-20%" width="140%" height="140%" color-interpolation-filters="sRGB"><feGaussianBlur stdDeviation="1.8" result="b"/><feTurbulence type="fractalNoise" baseFrequency="0.2" numOctaves="2" seed="5" result="n"/><feDisplacementMap in="b" in2="n" scale="8.0" xChannelSelector="R" yChannelSelector="G" result="d"/><feGaussianBlur in="d" stdDeviation="0.5"/></filter></defs>
<defs><filter id="fb04_0" filterUnits="userSpaceOnUse" x="-10" y="-10" width="83" height="76" color-interpolation-filters="sRGB"><feGaussianBlur stdDeviation="1.0"/></filter></defs>
<g filter="url(#fb04_0)">
<ellipse cx="38" cy="31.5" rx="6" ry="3.5" fill="#30b0f8" opacity="0.85"/>
<ellipse cx="42" cy="34" rx="3.5" ry="2.2" fill="#2080f0" opacity="0.7"/>
</g>
<defs><filter id="fb04_1" filterUnits="userSpaceOnUse" x="-10" y="-10" width="83" height="76" color-interpolation-filters="sRGB"><feGaussianBlur stdDeviation="0.5"/></filter></defs>
<g filter="url(#fb04_1)">
<circle cx="61.2" cy="53.1" r="0.64" fill="#c8ff40" opacity="0.8"/><circle cx="23.1" cy="9.5" r="1.17" fill="#ffe040" opacity="0.8"/><circle cx="16.1" cy="11.9" r="0.63" fill="#60f0c0" opacity="0.8"/><circle cx="10.1" cy="24.1" r="0.88" fill="#60f0c0" opacity="0.8"/><circle cx="55.1" cy="28.5" r="0.86" fill="#ffe040" opacity="0.8"/><circle cx="32.1" cy="50.5" r="1.21" fill="#ffe040" opacity="0.8"/><circle cx="29.8" cy="17.8" r="0.87" fill="#60f0c0" opacity="0.8"/><circle cx="10.5" cy="9.9" r="0.76" fill="#c8ff40" opacity="0.8"/><circle cx="20.8" cy="7.7" r="0.96" fill="#60f0c0" opacity="0.8"/><circle cx="43.2" cy="10.2" r="1.23" fill="#ffe040" opacity="0.8"/><circle cx="47.0" cy="50.8" r="1.13" fill="#60f0c0" opacity="0.8"/><circle cx="22.6" cy="54.9" r="1.27" fill="#c8ff40" opacity="0.8"/><circle cx="61.1" cy="22.4" r="1.12" fill="#60f0c0" opacity="0.8"/><circle cx="33.9" cy="27.4" r="1.25" fill="#60f0c0" opacity="0.8"/><circle cx="33.0" cy="44.6" r="1.06" fill="#ffe040" opacity="0.8"/><circle cx="57.6" cy="25.8" r="1.00" fill="#60f0c0" opacity="0.8"/><circle cx="46.3" cy="27.3" r="0.76" fill="#ffe040" opacity="0.8"/><circle cx="52.1" cy="46.8" r="1.21" fill="#60f0c0" opacity="0.8"/><circle cx="17.2" cy="51.0" r="0.82" fill="#60f0c0" opacity="0.8"/><circle cx="53.2" cy="31.5" r="0.96" fill="#60f0c0" opacity="0.8"/><circle cx="37.6" cy="17.5" r="0.75" fill="#60f0c0" opacity="0.8"/><circle cx="23.5" cy="38.3" r="1.22" fill="#ffe040" opacity="0.8"/><circle cx="46.5" cy="50.8" r="0.73" fill="#60f0c0" opacity="0.8"/><circle cx="6.8" cy="32.2" r="0.63" fill="#60f0c0" opacity="0.8"/><circle cx="14.5" cy="49.0" r="0.67" fill="#60f0c0" opacity="0.8"/><circle cx="8.7" cy="14.9" r="1.18" fill="#c8ff40" opacity="0.8"/><circle cx="27.1" cy="40.1" r="0.62" fill="#ffe040" opacity="0.8"/><circle cx="23.1" cy="14.0" r="0.62" fill="#c8ff40" opacity="0.8"/><circle cx="61.1" cy="1.4" r="1.11" fill="#c8ff40" opacity="0.8"/><circle cx="23.9" cy="7.2" r="1.26" fill="#60f0c0" opacity="0.8"/><circle cx="11.8" cy="38.7" r="0.87" fill="#c8ff40" opacity="0.8"/><circle cx="50.8" cy="13.9" r="1.28" fill="#c8ff40" opacity="0.8"/><circle cx="22.0" cy="34.5" r="1.12" fill="#c8ff40" opacity="0.8"/><circle cx="18.3" cy="27.4" r="0.82" fill="#60f0c0" opacity="0.8"/><circle cx="49.0" cy="41.4" r="1.23" fill="#ffe040" opacity="0.8"/><circle cx="55.2" cy="39.5" r="0.93" fill="#c8ff40" opacity="0.8"/><circle cx="6.0" cy="38.5" r="1.19" fill="#c8ff40" opacity="0.8"/><circle cx="28.7" cy="49.0" r="0.69" fill="#60f0c0" opacity="0.8"/><circle cx="50.0" cy="27.3" r="0.83" fill="#ffe040" opacity="0.8"/><circle cx="16.6" cy="33.9" r="0.89" fill="#c8ff40" opacity="0.8"/><circle cx="44.8" cy="53.7" r="1.07" fill="#ffe040" opacity="0.8"/><circle cx="2.1" cy="9.0" r="0.67" fill="#60f0c0" opacity="0.8"/><circle cx="14.8" cy="51.3" r="1.10" fill="#c8ff40" opacity="0.8"/><circle cx="63.6" cy="13.0" r="0.91" fill="#ffe040" opacity="0.8"/><circle cx="5.1" cy="12.8" r="1.15" fill="#60f0c0" opacity="0.8"/><circle cx="45.4" cy="14.4" r="0.90" fill="#60f0c0" opacity="0.8"/><circle cx="48.0" cy="8.5" r="0.87" fill="#c8ff40" opacity="0.8"/><circle cx="7.1" cy="40.5" r="0.77" fill="#c8ff40" opacity="0.8"/><circle cx="1.3" cy="42.0" r="0.67" fill="#c8ff40" opacity="0.8"/><circle cx="33.3" cy="26.0" r="0.82" fill="#60f0c0" opacity="0.8"/><circle cx="24.3" cy="38.3" r="1.13" fill="#c8ff40" opacity="0.8"/><circle cx="46.7" cy="24.3" r="0.96" fill="#60f0c0" opacity="0.8"/><circle cx="37.8" cy="49.4" r="1.25" fill="#60f0c0" opacity="0.8"/><circle cx="11.6" cy="5.3" r="1.16" fill="#ffe040" opacity="0.8"/><circle cx="1.2" cy="53.8" r="0.68" fill="#ffe040" opacity="0.8"/><circle cx="18.5" cy="55.1" r="0.86" fill="#c8ff40" opacity="0.8"/><circle cx="56.0" cy="23.1" r="0.67" fill="#c8ff40" opacity="0.8"/><circle cx="53.8" cy="37.7" r="0.61" fill="#ffe040" opacity="0.8"/><circle cx="3.8" cy="35.7" r="0.92" fill="#60f0c0" opacity="0.8"/><circle cx="39.3" cy="0.3" r="0.62" fill="#ffe040" opacity="0.8"/>
</g>
<defs><filter id="fb04_2" filterUnits="userSpaceOnUse" x="-10" y="-10" width="83" height="76" color-interpolation-filters="sRGB"><feGaussianBlur stdDeviation="0.45"/></filter></defs>
<g filter="url(#fb04_2)">
<path d="M3.5 3.8V25.3M8.0 3.3V38.8M14.2 1.2V36.2M19.6 2.3V27.3M24.9 1.6V38.5M31.1 3.8V35.0M35.9 1.1V24.9M40.9 1.9V30.5M46.9 3.6V34.6M52.6 0.9V24.7M57.8 0.5V34.3M63.6 2.7V27.8M15.9 3.5H58.7M15.3 9.0H59.8M19.6 13.8H63.2M15.1 19.1H58.3M10.6 25.0H53.8M10.0 31.0H60.6M17.7 35.8H62.0M11.4 41.5H62.4M7 4.5L14 16M5 14L11 22" stroke="#c8ff40" stroke-width="0.85" opacity="0.6" fill="none"/>
</g>
<path d="M27.5 28.4H35.1M31.3 24.6V32.2" stroke="#1a1208" stroke-width="1.25" fill="none" opacity="0.92"/>
</svg>
<svg x="30" y="94" width="64.5" height="55" viewBox="0 0 64.5 55" overflow="hidden">
<rect width="64.5" height="55" fill="#ffb300"/>
<g filter="url(#f10)">
<rect x="-8.50" y="-8.50" width="17.06" height="16.86" fill="#ffb300"/>
<rect x="7.56" y="-8.50" width="9.06" height="16.86" fill="#ffe500"/>
<rect x="15.62" y="-8.50" width="9.06" height="16.86" fill="#b30000"/>
<rect x="23.69" y="-8.50" width="9.06" height="16.86" fill="#800000"/>
<rect x="31.75" y="-8.50" width="9.06" height="16.86" fill="#ffb300"/>
<rect x="39.81" y="-8.50" width="9.06" height="16.86" fill="#ffb300"/>
<rect x="47.88" y="-8.50" width="9.06" height="16.86" fill="#e50000"/>
<rect x="55.94" y="-8.50" width="17.06" height="16.86" fill="#ffb300"/>
<rect x="-8.50" y="7.36" width="17.06" height="8.86" fill="#ffe500"/>
<rect x="7.56" y="7.36" width="9.06" height="8.86" fill="#ffb300"/>
<rect x="15.62" y="7.36" width="9.06" height="8.86" fill="#ffb300"/>
<rect x="23.69" y="7.36" width="9.06" height="8.86" fill="#ff1a00"/>
<rect x="31.75" y="7.36" width="9.06" height="8.86" fill="#ff8000"/>
<rect x="39.81" y="7.36" width="9.06" height="8.86" fill="#ff1a00"/>
<rect x="47.88" y="7.36" width="9.06" height="8.86" fill="#b30000"/>
<rect x="55.94" y="7.36" width="17.06" height="8.86" fill="#ffb300"/>
<rect x="-8.50" y="15.21" width="17.06" height="8.86" fill="#ffb300"/>
<rect x="7.56" y="15.21" width="9.06" height="8.86" fill="#ff8000"/>
<rect x="15.62" y="15.21" width="9.06" height="8.86" fill="#ff1a00"/>
<rect x="23.69" y="15.21" width="9.06" height="8.86" fill="#ffe500"/>
<rect x="31.75" y="15.21" width="9.06" height="8.86" fill="#ffe500"/>
<rect x="39.81" y="15.21" width="9.06" height="8.86" fill="#ff8000"/>
<rect x="47.88" y="15.21" width="9.06" height="8.86" fill="#ffb300"/>
<rect x="55.94" y="15.21" width="17.06" height="8.86" fill="#ff1a00"/>
<rect x="-8.50" y="23.07" width="17.06" height="8.86" fill="#ffe500"/>
<rect x="7.56" y="23.07" width="9.06" height="8.86" fill="#ffe500"/>
<rect x="15.62" y="23.07" width="9.06" height="8.86" fill="#ffb300"/>
<rect x="23.69" y="23.07" width="9.06" height="8.86" fill="#ffe500"/>
<rect x="31.75" y="23.07" width="9.06" height="8.86" fill="#ffff00"/>
<rect x="39.81" y="23.07" width="9.06" height="8.86" fill="#ffe500"/>
<rect x="47.88" y="23.07" width="9.06" height="8.86" fill="#ffe500"/>
<rect x="55.94" y="23.07" width="17.06" height="8.86" fill="#ffb300"/>
<rect x="-8.50" y="30.93" width="17.06" height="8.86" fill="#ffb300"/>
<rect x="7.56" y="30.93" width="9.06" height="8.86" fill="#ffe500"/>
<rect x="15.62" y="30.93" width="9.06" height="8.86" fill="#ff1a00"/>
<rect x="23.69" y="30.93" width="9.06" height="8.86" fill="#ffb300"/>
<rect x="31.75" y="30.93" width="9.06" height="8.86" fill="#ffff00"/>
<rect x="39.81" y="30.93" width="9.06" height="8.86" fill="#ffe500"/>
<rect x="47.88" y="30.93" width="9.06" height="8.86" fill="#ffb300"/>
<rect x="55.94" y="30.93" width="17.06" height="8.86" fill="#ff1a00"/>
<rect x="-8.50" y="38.79" width="17.06" height="8.86" fill="#ff8000"/>
<rect x="7.56" y="38.79" width="9.06" height="8.86" fill="#ff4c00"/>
<rect x="15.62" y="38.79" width="9.06" height="8.86" fill="#b30000"/>
<rect x="23.69" y="38.79" width="9.06" height="8.86" fill="#b30000"/>
<rect x="31.75" y="38.79" width="9.06" height="8.86" fill="#ffb300"/>
<rect x="39.81" y="38.79" width="9.06" height="8.86" fill="#b30000"/>
<rect x="47.88" y="38.79" width="9.06" height="8.86" fill="#ff1a00"/>
<rect x="55.94" y="38.79" width="17.06" height="8.86" fill="#ff8000"/>
<rect x="-8.50" y="46.64" width="17.06" height="16.86" fill="#ff8000"/>
<rect x="7.56" y="46.64" width="9.06" height="16.86" fill="#e50000"/>
<rect x="15.62" y="46.64" width="9.06" height="16.86" fill="#ff4c00"/>
<rect x="23.69" y="46.64" width="9.06" height="16.86" fill="#ffb300"/>
<rect x="31.75" y="46.64" width="9.06" height="16.86" fill="#800000"/>
<rect x="39.81" y="46.64" width="9.06" height="16.86" fill="#800000"/>
<rect x="47.88" y="46.64" width="9.06" height="16.86" fill="#b30000"/>
<rect x="55.94" y="46.64" width="17.06" height="16.86" fill="#ff1a00"/>
</g>
<defs><filter id="f10" x="-20%" y="-20%" width="140%" height="140%" color-interpolation-filters="sRGB"><feGaussianBlur stdDeviation="1.8" result="b"/><feTurbulence type="fractalNoise" baseFrequency="0.2" numOctaves="2" seed="6" result="n"/><feDisplacementMap in="b" in2="n" scale="8.0" xChannelSelector="R" yChannelSelector="G" result="d"/><feGaussianBlur in="d" stdDeviation="0.5"/></filter></defs>
<path d="M28.7 27.9H36.3M32.5 24.1V31.7" stroke="#1a1208" stroke-width="1.25" fill="none" opacity="0.92"/>
</svg>
<svg x="94.5" y="94" width="64.5" height="55" viewBox="0 0 64.5 55" overflow="hidden">
<rect width="64.5" height="55" fill="#ccff33"/>
<g filter="url(#f11)">
<rect x="-8.50" y="-8.50" width="17.06" height="16.86" fill="#ccff33"/>
<rect x="7.56" y="-8.50" width="9.06" height="16.86" fill="#ffb300"/>
<rect x="15.62" y="-8.50" width="9.06" height="16.86" fill="#ffb300"/>
<rect x="23.69" y="-8.50" width="9.06" height="16.86" fill="#ccff33"/>
<rect x="31.75" y="-8.50" width="9.06" height="16.86" fill="#ccff33"/>
<rect x="39.81" y="-8.50" width="9.06" height="16.86" fill="#ccff33"/>
<rect x="47.88" y="-8.50" width="9.06" height="16.86" fill="#e5ff1a"/>
<rect x="55.94" y="-8.50" width="17.06" height="16.86" fill="#ccff33"/>
<rect x="-8.50" y="7.36" width="17.06" height="8.86" fill="#ccff33"/>
<rect x="7.56" y="7.36" width="9.06" height="8.86" fill="#ccff33"/>
<rect x="15.62" y="7.36" width="9.06" height="8.86" fill="#ccff33"/>
<rect x="23.69" y="7.36" width="9.06" height="8.86" fill="#ccff33"/>
<rect x="31.75" y="7.36" width="9.06" height="8.86" fill="#ccff33"/>
<rect x="39.81" y="7.36" width="9.06" height="8.86" fill="#e5ff1a"/>
<rect x="47.88" y="7.36" width="9.06" height="8.86" fill="#ffe500"/>
<rect x="55.94" y="7.36" width="17.06" height="8.86" fill="#e5ff1a"/>
<rect x="-8.50" y="15.21" width="17.06" height="8.86" fill="#ccff33"/>
<rect x="7.56" y="15.21" width="9.06" height="8.86" fill="#ccff33"/>
<rect x="15.62" y="15.21" width="9.06" height="8.86" fill="#b3ff4c"/>
<rect x="23.69" y="15.21" width="9.06" height="8.86" fill="#ccff33"/>
<rect x="31.75" y="15.21" width="9.06" height="8.86" fill="#ccff33"/>
<rect x="39.81" y="15.21" width="9.06" height="8.86" fill="#e5ff1a"/>
<rect x="47.88" y="15.21" width="9.06" height="8.86" fill="#e5ff1a"/>
<rect x="55.94" y="15.21" width="17.06" height="8.86" fill="#ccff33"/>
<rect x="-8.50" y="23.07" width="17.06" height="8.86" fill="#e5ff1a"/>
<rect x="7.56" y="23.07" width="9.06" height="8.86" fill="#ccff33"/>
<rect x="15.62" y="23.07" width="9.06" height="8.86" fill="#ccff33"/>
<rect x="23.69" y="23.07" width="9.06" height="8.86" fill="#ccff33"/>
<rect x="31.75" y="23.07" width="9.06" height="8.86" fill="#ccff33"/>
<rect x="39.81" y="23.07" width="9.06" height="8.86" fill="#ccff33"/>
<rect x="47.88" y="23.07" width="9.06" height="8.86" fill="#b3ff4c"/>
<rect x="55.94" y="23.07" width="17.06" height="8.86" fill="#ccff33"/>
<rect x="-8.50" y="30.93" width="17.06" height="8.86" fill="#ccff33"/>
<rect x="7.56" y="30.93" width="9.06" height="8.86" fill="#ccff33"/>
<rect x="15.62" y="30.93" width="9.06" height="8.86" fill="#e5ff1a"/>
<rect x="23.69" y="30.93" width="9.06" height="8.86" fill="#ccff33"/>
<rect x="31.75" y="30.93" width="9.06" height="8.86" fill="#e5ff1a"/>
<rect x="39.81" y="30.93" width="9.06" height="8.86" fill="#ccff33"/>
<rect x="47.88" y="30.93" width="9.06" height="8.86" fill="#e5ff1a"/>
<rect x="55.94" y="30.93" width="17.06" height="8.86" fill="#ccff33"/>
<rect x="-8.50" y="38.79" width="17.06" height="8.86" fill="#ccff33"/>
<rect x="7.56" y="38.79" width="9.06" height="8.86" fill="#e5ff1a"/>
<rect x="15.62" y="38.79" width="9.06" height="8.86" fill="#ffe500"/>
<rect x="23.69" y="38.79" width="9.06" height="8.86" fill="#ccff33"/>
<rect x="31.75" y="38.79" width="9.06" height="8.86" fill="#ccff33"/>
<rect x="39.81" y="38.79" width="9.06" height="8.86" fill="#ccff33"/>
<rect x="47.88" y="38.79" width="9.06" height="8.86" fill="#ccff33"/>
<rect x="55.94" y="38.79" width="17.06" height="8.86" fill="#ccff33"/>
<rect x="-8.50" y="46.64" width="17.06" height="16.86" fill="#ccff33"/>
<rect x="7.56" y="46.64" width="9.06" height="16.86" fill="#ccff33"/>
<rect x="15.62" y="46.64" width="9.06" height="16.86" fill="#e5ff1a"/>
<rect x="23.69" y="46.64" width="9.06" height="16.86" fill="#ccff33"/>
<rect x="31.75" y="46.64" width="9.06" height="16.86" fill="#ccff33"/>
<rect x="39.81" y="46.64" width="9.06" height="16.86" fill="#ffe500"/>
<rect x="47.88" y="46.64" width="9.06" height="16.86" fill="#e5ff1a"/>
<rect x="55.94" y="46.64" width="17.06" height="16.86" fill="#ccff33"/>
</g>
<defs><filter id="f11" x="-20%" y="-20%" width="140%" height="140%" color-interpolation-filters="sRGB"><feGaussianBlur stdDeviation="1.8" result="b"/><feTurbulence type="fractalNoise" baseFrequency="0.2" numOctaves="2" seed="7" result="n"/><feDisplacementMap in="b" in2="n" scale="8.0" xChannelSelector="R" yChannelSelector="G" result="d"/><feGaussianBlur in="d" stdDeviation="0.5"/></filter></defs>
<path d="M28.2 27.9H35.8M32.0 24.1V31.7" stroke="#1a1208" stroke-width="1.25" fill="none" opacity="0.92"/>
</svg>
<svg x="159" y="94" width="64" height="55" viewBox="0 0 64 55" overflow="hidden">
<rect width="64" height="55" fill="#800000"/>
<g filter="url(#f12)">
<rect x="-8.50" y="-8.50" width="17.00" height="16.86" fill="#800000"/>
<rect x="7.50" y="-8.50" width="9.00" height="16.86" fill="#800000"/>
<rect x="15.50" y="-8.50" width="9.00" height="16.86" fill="#800000"/>
<rect x="23.50" y="-8.50" width="9.00" height="16.86" fill="#800000"/>
<rect x="31.50" y="-8.50" width="9.00" height="16.86" fill="#800000"/>
<rect x="39.50" y="-8.50" width="9.00" height="16.86" fill="#800000"/>
<rect x="47.50" y="-8.50" width="9.00" height="16.86" fill="#800000"/>
<rect x="55.50" y="-8.50" width="17.00" height="16.86" fill="#800000"/>
<rect x="-8.50" y="7.36" width="17.00" height="8.86" fill="#800000"/>
<rect x="7.50" y="7.36" width="9.00" height="8.86" fill="#990000"/>
<rect x="15.50" y="7.36" width="9.00" height="8.86" fill="#800000"/>
<rect x="23.50" y="7.36" width="9.00" height="8.86" fill="#800000"/>
<rect x="31.50" y="7.36" width="9.00" height="8.86" fill="#800000"/>
<rect x="39.50" y="7.36" width="9.00" height="8.86" fill="#800000"/>
<rect x="47.50" y="7.36" width="9.00" height="8.86" fill="#990000"/>
<rect x="55.50" y="7.36" width="17.00" height="8.86" fill="#800000"/>
<rect x="-8.50" y="15.21" width="17.00" height="8.86" fill="#800000"/>
<rect x="7.50" y="15.21" width="9.00" height="8.86" fill="#800000"/>
<rect x="15.50" y="15.21" width="9.00" height="8.86" fill="#800000"/>
<rect x="23.50" y="15.21" width="9.00" height="8.86" fill="#800000"/>
<rect x="31.50" y="15.21" width="9.00" height="8.86" fill="#800000"/>
<rect x="39.50" y="15.21" width="9.00" height="8.86" fill="#800000"/>
<rect x="47.50" y="15.21" width="9.00" height="8.86" fill="#800000"/>
<rect x="55.50" y="15.21" width="17.00" height="8.86" fill="#800000"/>
<rect x="-8.50" y="23.07" width="17.00" height="8.86" fill="#800000"/>
<rect x="7.50" y="23.07" width="9.00" height="8.86" fill="#800000"/>
<rect x="15.50" y="23.07" width="9.00" height="8.86" fill="#800000"/>
<rect x="23.50" y="23.07" width="9.00" height="8.86" fill="#990000"/>
<rect x="31.50" y="23.07" width="9.00" height="8.86" fill="#990000"/>
<rect x="39.50" y="23.07" width="9.00" height="8.86" fill="#800000"/>
<rect x="47.50" y="23.07" width="9.00" height="8.86" fill="#800000"/>
<rect x="55.50" y="23.07" width="17.00" height="8.86" fill="#800000"/>
<rect x="-8.50" y="30.93" width="17.00" height="8.86" fill="#800000"/>
<rect x="7.50" y="30.93" width="9.00" height="8.86" fill="#800000"/>
<rect x="15.50" y="30.93" width="9.00" height="8.86" fill="#990000"/>
<rect x="23.50" y="30.93" width="9.00" height="8.86" fill="#990000"/>
<rect x="31.50" y="30.93" width="9.00" height="8.86" fill="#b30000"/>
<rect x="39.50" y="30.93" width="9.00" height="8.86" fill="#990000"/>
<rect x="47.50" y="30.93" width="9.00" height="8.86" fill="#800000"/>
<rect x="55.50" y="30.93" width="17.00" height="8.86" fill="#800000"/>
<rect x="-8.50" y="38.79" width="17.00" height="8.86" fill="#800000"/>
<rect x="7.50" y="38.79" width="9.00" height="8.86" fill="#800000"/>
<rect x="15.50" y="38.79" width="9.00" height="8.86" fill="#800000"/>
<rect x="23.50" y="38.79" width="9.00" height="8.86" fill="#990000"/>
<rect x="31.50" y="38.79" width="9.00" height="8.86" fill="#990000"/>
<rect x="39.50" y="38.79" width="9.00" height="8.86" fill="#800000"/>
<rect x="47.50" y="38.79" width="9.00" height="8.86" fill="#800000"/>
<rect x="55.50" y="38.79" width="17.00" height="8.86" fill="#800000"/>
<rect x="-8.50" y="46.64" width="17.00" height="16.86" fill="#800000"/>
<rect x="7.50" y="46.64" width="9.00" height="16.86" fill="#800000"/>
<rect x="15.50" y="46.64" width="9.00" height="16.86" fill="#800000"/>
<rect x="23.50" y="46.64" width="9.00" height="16.86" fill="#800000"/>
<rect x="31.50" y="46.64" width="9.00" height="16.86" fill="#800000"/>
<rect x="39.50" y="46.64" width="9.00" height="16.86" fill="#800000"/>
<rect x="47.50" y="46.64" width="9.00" height="16.86" fill="#800000"/>
<rect x="55.50" y="46.64" width="17.00" height="16.86" fill="#800000"/>
</g>
<defs><filter id="f12" x="-20%" y="-20%" width="140%" height="140%" color-interpolation-filters="sRGB"><feGaussianBlur stdDeviation="1.8" result="b"/><feTurbulence type="fractalNoise" baseFrequency="0.2" numOctaves="2" seed="8" result="n"/><feDisplacementMap in="b" in2="n" scale="8.0" xChannelSelector="R" yChannelSelector="G" result="d"/><feGaussianBlur in="d" stdDeviation="0.5"/></filter></defs>
<path d="M27.6 27.9H35.2M31.4 24.1V31.7" stroke="#1a1208" stroke-width="1.25" fill="none" opacity="0.92"/>
</svg>
<svg x="223" y="94" width="64" height="55" viewBox="0 0 64 55" overflow="hidden">
<rect width="64" height="55" fill="#e50000"/>
<g filter="url(#f13)">
<rect x="-8.50" y="-8.50" width="17.00" height="16.86" fill="#e50000"/>
<rect x="7.50" y="-8.50" width="9.00" height="16.86" fill="#b30000"/>
<rect x="15.50" y="-8.50" width="9.00" height="16.86" fill="#e50000"/>
<rect x="23.50" y="-8.50" width="9.00" height="16.86" fill="#ff1a00"/>
<rect x="31.50" y="-8.50" width="9.00" height="16.86" fill="#ff1a00"/>
<rect x="39.50" y="-8.50" width="9.00" height="16.86" fill="#ff1a00"/>
<rect x="47.50" y="-8.50" width="9.00" height="16.86" fill="#e50000"/>
<rect x="55.50" y="-8.50" width="17.00" height="16.86" fill="#ff1a00"/>
<rect x="-8.50" y="7.36" width="17.00" height="8.86" fill="#b30000"/>
<rect x="7.50" y="7.36" width="9.00" height="8.86" fill="#ff1a00"/>
<rect x="15.50" y="7.36" width="9.00" height="8.86" fill="#ff1a00"/>
<rect x="23.50" y="7.36" width="9.00" height="8.86" fill="#ff1a00"/>
<rect x="31.50" y="7.36" width="9.00" height="8.86" fill="#ff1a00"/>
<rect x="39.50" y="7.36" width="9.00" height="8.86" fill="#ff1a00"/>
<rect x="47.50" y="7.36" width="9.00" height="8.86" fill="#ff1a00"/>
<rect x="55.50" y="7.36" width="17.00" height="8.86" fill="#ff1a00"/>
<rect x="-8.50" y="15.21" width="17.00" height="8.86" fill="#e50000"/>
<rect x="7.50" y="15.21" width="9.00" height="8.86" fill="#ff1a00"/>
<rect x="15.50" y="15.21" width="9.00" height="8.86" fill="#ff1a00"/>
<rect x="23.50" y="15.21" width="9.00" height="8.86" fill="#ff1a00"/>
<rect x="31.50" y="15.21" width="9.00" height="8.86" fill="#ff1a00"/>
<rect x="39.50" y="15.21" width="9.00" height="8.86" fill="#ff1a00"/>
<rect x="47.50" y="15.21" width="9.00" height="8.86" fill="#ff1a00"/>
<rect x="55.50" y="15.21" width="17.00" height="8.86" fill="#ff4c00"/>
<rect x="-8.50" y="23.07" width="17.00" height="8.86" fill="#ff1a00"/>
<rect x="7.50" y="23.07" width="9.00" height="8.86" fill="#ff1a00"/>
<rect x="15.50" y="23.07" width="9.00" height="8.86" fill="#ff1a00"/>
<rect x="23.50" y="23.07" width="9.00" height="8.86" fill="#ff8000"/>
<rect x="31.50" y="23.07" width="9.00" height="8.86" fill="#ff8000"/>
<rect x="39.50" y="23.07" width="9.00" height="8.86" fill="#ff4c00"/>
<rect x="47.50" y="23.07" width="9.00" height="8.86" fill="#ff1a00"/>
<rect x="55.50" y="23.07" width="17.00" height="8.86" fill="#ff8000"/>
<rect x="-8.50" y="30.93" width="17.00" height="8.86" fill="#ff1a00"/>
<rect x="7.50" y="30.93" width="9.00" height="8.86" fill="#ff1a00"/>
<rect x="15.50" y="30.93" width="9.00" height="8.86" fill="#ff1a00"/>
<rect x="23.50" y="30.93" width="9.00" height="8.86" fill="#ff4c00"/>
<rect x="31.50" y="30.93" width="9.00" height="8.86" fill="#ffb300"/>
<rect x="39.50" y="30.93" width="9.00" height="8.86" fill="#ff4c00"/>
<rect x="47.50" y="30.93" width="9.00" height="8.86" fill="#ff1a00"/>
<rect x="55.50" y="30.93" width="17.00" height="8.86" fill="#ff4c00"/>
<rect x="-8.50" y="38.79" width="17.00" height="8.86" fill="#e50000"/>
<rect x="7.50" y="38.79" width="9.00" height="8.86" fill="#e50000"/>
<rect x="15.50" y="38.79" width="9.00" height="8.86" fill="#ff1a00"/>
<rect x="23.50" y="38.79" width="9.00" height="8.86" fill="#e50000"/>
<rect x="31.50" y="38.79" width="9.00" height="8.86" fill="#ff1a00"/>
<rect x="39.50" y="38.79" width="9.00" height="8.86" fill="#e50000"/>
<rect x="47.50" y="38.79" width="9.00" height="8.86" fill="#ff1a00"/>
<rect x="55.50" y="38.79" width="17.00" height="8.86" fill="#ff1a00"/>
<rect x="-8.50" y="46.64" width="17.00" height="16.86" fill="#ff1a00"/>
<rect x="7.50" y="46.64" width="9.00" height="16.86" fill="#ff8000"/>
<rect x="15.50" y="46.64" width="9.00" height="16.86" fill="#e50000"/>
<rect x="23.50" y="46.64" width="9.00" height="16.86" fill="#b30000"/>
<rect x="31.50" y="46.64" width="9.00" height="16.86" fill="#e50000"/>
<rect x="39.50" y="46.64" width="9.00" height="16.86" fill="#b30000"/>
<rect x="47.50" y="46.64" width="9.00" height="16.86" fill="#e50000"/>
<rect x="55.50" y="46.64" width="17.00" height="16.86" fill="#e50000"/>
</g>
<defs><filter id="f13" x="-20%" y="-20%" width="140%" height="140%" color-interpolation-filters="sRGB"><feGaussianBlur stdDeviation="1.8" result="b"/><feTurbulence type="fractalNoise" baseFrequency="0.2" numOctaves="2" seed="9" result="n"/><feDisplacementMap in="b" in2="n" scale="8.0" xChannelSelector="R" yChannelSelector="G" result="d"/><feGaussianBlur in="d" stdDeviation="0.5"/></filter></defs>
<defs><filter id="fb13_0" filterUnits="userSpaceOnUse" x="-10" y="-10" width="84" height="75" color-interpolation-filters="sRGB"><feGaussianBlur stdDeviation="0.5"/></filter></defs>
<g filter="url(#fb13_0)">
<ellipse cx="32.6" cy="17.3" rx="2.2" ry="1.1" fill="#1010a0"/>
<circle cx="15.2" cy="30.5" r="0.86" fill="#ff7000" opacity="0.8"/><circle cx="30.3" cy="32.5" r="1.02" fill="#ffd000" opacity="0.8"/><circle cx="16.6" cy="13.1" r="1.30" fill="#ffd000" opacity="0.8"/><circle cx="34.6" cy="30.8" r="0.88" fill="#ffa000" opacity="0.8"/><circle cx="14.8" cy="8.5" r="1.25" fill="#ffd000" opacity="0.8"/><circle cx="47.4" cy="37.6" r="0.64" fill="#ff7000" opacity="0.8"/><circle cx="2.7" cy="43.7" r="1.18" fill="#ffd000" opacity="0.8"/><circle cx="30.3" cy="40.3" r="1.22" fill="#ff7000" opacity="0.8"/><circle cx="50.4" cy="23.9" r="1.11" fill="#ff7000" opacity="0.8"/><circle cx="28.5" cy="52.4" r="1.22" fill="#ffa000" opacity="0.8"/><circle cx="2.3" cy="27.7" r="0.78" fill="#ff7000" opacity="0.8"/><circle cx="27.9" cy="35.1" r="0.81" fill="#ff7000" opacity="0.8"/><circle cx="53.3" cy="32.1" r="0.97" fill="#ffd000" opacity="0.8"/><circle cx="37.4" cy="50.6" r="1.08" fill="#ffa000" opacity="0.8"/><circle cx="54.8" cy="55.5" r="1.07" fill="#ffa000" opacity="0.8"/><circle cx="44.7" cy="18.3" r="0.98" fill="#ff7000" opacity="0.8"/><circle cx="36.4" cy="40.0" r="0.75" fill="#ff7000" opacity="0.8"/><circle cx="17.1" cy="7.0" r="0.94" fill="#ff7000" opacity="0.8"/><circle cx="63.3" cy="5.0" r="1.16" fill="#ffd000" opacity="0.8"/><circle cx="57.4" cy="1.1" r="0.90" fill="#ffd000" opacity="0.8"/><circle cx="55.9" cy="2.5" r="1.03" fill="#ffa000" opacity="0.8"/><circle cx="24.2" cy="32.8" r="0.99" fill="#ffd000" opacity="0.8"/><circle cx="32.3" cy="55.9" r="0.82" fill="#ffa000" opacity="0.8"/><circle cx="6.9" cy="30.0" r="1.26" fill="#ffd000" opacity="0.8"/><circle cx="18.7" cy="14.7" r="1.08" fill="#ffd000" opacity="0.8"/><circle cx="20.1" cy="53.7" r="1.23" fill="#ffd000" opacity="0.8"/><circle cx="24.1" cy="48.7" r="0.87" fill="#ff7000" opacity="0.8"/><circle cx="43.6" cy="5.7" r="1.28" fill="#ff7000" opacity="0.8"/><circle cx="17.4" cy="35.5" r="1.10" fill="#ffd000" opacity="0.8"/><circle cx="28.0" cy="14.5" r="0.81" fill="#ffd000" opacity="0.8"/><circle cx="0.7" cy="23.3" r="1.01" fill="#ffa000" opacity="0.8"/><circle cx="24.1" cy="33.0" r="0.69" fill="#ff7000" opacity="0.8"/><circle cx="40.1" cy="26.1" r="1.08" fill="#ffd000" opacity="0.8"/><circle cx="39.0" cy="15.6" r="0.94" fill="#ff7000" opacity="0.8"/><circle cx="3.9" cy="37.9" r="1.27" fill="#ffd000" opacity="0.8"/><circle cx="40.2" cy="16.7" r="1.02" fill="#ffa000" opacity="0.8"/><circle cx="23.3" cy="17.5" r="0.86" fill="#ff7000" opacity="0.8"/><circle cx="16.9" cy="44.1" r="0.67" fill="#ffa000" opacity="0.8"/><circle cx="62.2" cy="38.3" r="0.69" fill="#ff7000" opacity="0.8"/><circle cx="14.2" cy="45.0" r="0.77" fill="#ffa000" opacity="0.8"/><circle cx="43.4" cy="36.4" r="0.67" fill="#ff7000" opacity="0.8"/><circle cx="20.6" cy="18.7" r="1.18" fill="#ffd000" opacity="0.8"/><circle cx="51.8" cy="53.8" r="0.66" fill="#ff7000" opacity="0.8"/><circle cx="41.6" cy="49.6" r="0.92" fill="#ffa000" opacity="0.8"/><circle cx="50.4" cy="1.9" r="1.27" fill="#ffd000" opacity="0.8"/>
</g>
<defs><filter id="fb13_1" filterUnits="userSpaceOnUse" x="-10" y="-10" width="84" height="75" color-interpolation-filters="sRGB"><feGaussianBlur stdDeviation="0.45"/></filter></defs>
<g filter="url(#fb13_1)">
<path d="M2.7 2.2V28.7M8.6 2.5V23.2M13.4 3.3V26.7M19.2 4.0V30.5M25.4 1.9V33.5M30.1 2.5V37.6M36.0 3.0V34.1M41.0 3.0V32.6M46.8 0.1V37.6M52.5 2.9V37.8M58.3 3.7V29.1M63.4 1.8V38.8M1.9 3.5H46.7M19.3 8.2H52.7M6.0 14.2H54.1M7.0 19.4H55.7M18.1 25.1H57.6M17.1 31.0H63.8M3.3 36.2H61.2M7 4.5L14 16M5 14L11 22" stroke="#ff9000" stroke-width="0.8" opacity="0.45" fill="none"/>
</g>
<path d="M27.6 27.9H35.2M31.4 24.1V31.7" stroke="#1a1208" stroke-width="1.25" fill="none" opacity="0.92"/>
</svg>
<svg x="287" y="94" width="63" height="55" viewBox="0 0 63 55" overflow="hidden">
<rect width="63" height="55" fill="#ff1a00"/>
<g filter="url(#f14)">
<rect x="-8.50" y="-8.50" width="16.88" height="16.86" fill="#ff1a00"/>
<rect x="7.38" y="-8.50" width="8.88" height="16.86" fill="#ff1a00"/>
<rect x="15.25" y="-8.50" width="8.88" height="16.86" fill="#ff1a00"/>
<rect x="23.12" y="-8.50" width="8.88" height="16.86" fill="#ff1a00"/>
<rect x="31.00" y="-8.50" width="8.88" height="16.86" fill="#ff1a00"/>
<rect x="38.88" y="-8.50" width="8.88" height="16.86" fill="#ff1a00"/>
<rect x="46.75" y="-8.50" width="8.88" height="16.86" fill="#ff1a00"/>
<rect x="54.62" y="-8.50" width="16.88" height="16.86" fill="#ff1a00"/>
<rect x="-8.50" y="7.36" width="16.88" height="8.86" fill="#e50000"/>
<rect x="7.38" y="7.36" width="8.88" height="8.86" fill="#ff4c00"/>
<rect x="15.25" y="7.36" width="8.88" height="8.86" fill="#ff1a00"/>
<rect x="23.12" y="7.36" width="8.88" height="8.86" fill="#ff1a00"/>
<rect x="31.00" y="7.36" width="8.88" height="8.86" fill="#ff1a00"/>
<rect x="38.88" y="7.36" width="8.88" height="8.86" fill="#ff1a00"/>
<rect x="46.75" y="7.36" width="8.88" height="8.86" fill="#ff1a00"/>
<rect x="54.62" y="7.36" width="16.88" height="8.86" fill="#ff4c00"/>
<rect x="-8.50" y="15.21" width="16.88" height="8.86" fill="#ff1a00"/>
<rect x="7.38" y="15.21" width="8.88" height="8.86" fill="#ff1a00"/>
<rect x="15.25" y="15.21" width="8.88" height="8.86" fill="#ff1a00"/>
<rect x="23.12" y="15.21" width="8.88" height="8.86" fill="#ff1a00"/>
<rect x="31.00" y="15.21" width="8.88" height="8.86" fill="#ff1a00"/>
<rect x="38.88" y="15.21" width="8.88" height="8.86" fill="#ff1a00"/>
<rect x="46.75" y="15.21" width="8.88" height="8.86" fill="#ff1a00"/>
<rect x="54.62" y="15.21" width="16.88" height="8.86" fill="#ff4c00"/>
<rect x="-8.50" y="23.07" width="16.88" height="8.86" fill="#ff1a00"/>
<rect x="7.38" y="23.07" width="8.88" height="8.86" fill="#ff1a00"/>
<rect x="15.25" y="23.07" width="8.88" height="8.86" fill="#ff1a00"/>
<rect x="23.12" y="23.07" width="8.88" height="8.86" fill="#ffb300"/>
<rect x="31.00" y="23.07" width="8.88" height="8.86" fill="#ff8000"/>
<rect x="38.88" y="23.07" width="8.88" height="8.86" fill="#ff4c00"/>
<rect x="46.75" y="23.07" width="8.88" height="8.86" fill="#ff1a00"/>
<rect x="54.62" y="23.07" width="16.88" height="8.86" fill="#ff8000"/>
<rect x="-8.50" y="30.93" width="16.88" height="8.86" fill="#ff1a00"/>
<rect x="7.38" y="30.93" width="8.88" height="8.86" fill="#ff1a00"/>
<rect x="15.25" y="30.93" width="8.88" height="8.86" fill="#ff1a00"/>
<rect x="23.12" y="30.93" width="8.88" height="8.86" fill="#ffb300"/>
<rect x="31.00" y="30.93" width="8.88" height="8.86" fill="#ffe500"/>
<rect x="38.88" y="30.93" width="8.88" height="8.86" fill="#ff4c00"/>
<rect x="46.75" y="30.93" width="8.88" height="8.86" fill="#ff1a00"/>
<rect x="54.62" y="30.93" width="16.88" height="8.86" fill="#ff4c00"/>
<rect x="-8.50" y="38.79" width="16.88" height="8.86" fill="#ff1a00"/>
<rect x="7.38" y="38.79" width="8.88" height="8.86" fill="#ff1a00"/>
<rect x="15.25" y="38.79" width="8.88" height="8.86" fill="#ff1a00"/>
<rect x="23.12" y="38.79" width="8.88" height="8.86" fill="#ff1a00"/>
<rect x="31.00" y="38.79" width="8.88" height="8.86" fill="#ff1a00"/>
<rect x="38.88" y="38.79" width="8.88" height="8.86" fill="#e50000"/>
<rect x="46.75" y="38.79" width="8.88" height="8.86" fill="#ff1a00"/>
<rect x="54.62" y="38.79" width="16.88" height="8.86" fill="#ff1a00"/>
<rect x="-8.50" y="46.64" width="16.88" height="16.86" fill="#ff1a00"/>
<rect x="7.38" y="46.64" width="8.88" height="16.86" fill="#ff4c00"/>
<rect x="15.25" y="46.64" width="8.88" height="16.86" fill="#ff1a00"/>
<rect x="23.12" y="46.64" width="8.88" height="16.86" fill="#ff1a00"/>
<rect x="31.00" y="46.64" width="8.88" height="16.86" fill="#e50000"/>
<rect x="38.88" y="46.64" width="8.88" height="16.86" fill="#b30000"/>
<rect x="46.75" y="46.64" width="8.88" height="16.86" fill="#ff1a00"/>
<rect x="54.62" y="46.64" width="16.88" height="16.86" fill="#ff1a00"/>
</g>
<defs><filter id="f14" x="-20%" y="-20%" width="140%" height="140%" color-interpolation-filters="sRGB"><feGaussianBlur stdDeviation="1.8" result="b"/><feTurbulence type="fractalNoise" baseFrequency="0.2" numOctaves="2" seed="10" result="n"/><feDisplacementMap in="b" in2="n" scale="8.0" xChannelSelector="R" yChannelSelector="G" result="d"/><feGaussianBlur in="d" stdDeviation="0.5"/></filter></defs>
<defs><filter id="fb14_0" filterUnits="userSpaceOnUse" x="-10" y="-10" width="83" height="75" color-interpolation-filters="sRGB"><feGaussianBlur stdDeviation="0.5"/></filter></defs>
<g filter="url(#fb14_0)">
<ellipse cx="32" cy="17.7" rx="2.2" ry="1.1" fill="#1010a0"/>
<circle cx="15.1" cy="5.8" r="0.88" fill="#ffa000" opacity="0.8"/><circle cx="5.8" cy="1.1" r="0.98" fill="#ffd000" opacity="0.8"/><circle cx="51.2" cy="42.8" r="0.76" fill="#ff7000" opacity="0.8"/><circle cx="23.1" cy="43.7" r="1.18" fill="#ffd000" opacity="0.8"/><circle cx="13.7" cy="51.9" r="1.18" fill="#ffd000" opacity="0.8"/><circle cx="51.2" cy="10.8" r="0.82" fill="#ff7000" opacity="0.8"/><circle cx="55.5" cy="53.8" r="1.19" fill="#ffd000" opacity="0.8"/><circle cx="5.5" cy="33.9" r="1.07" fill="#ff7000" opacity="0.8"/><circle cx="15.9" cy="13.9" r="0.80" fill="#ff7000" opacity="0.8"/><circle cx="53.8" cy="0.4" r="0.80" fill="#ff7000" opacity="0.8"/><circle cx="56.5" cy="47.5" r="0.96" fill="#ffd000" opacity="0.8"/><circle cx="27.1" cy="16.1" r="0.92" fill="#ffa000" opacity="0.8"/><circle cx="19.5" cy="45.5" r="0.63" fill="#ffa000" opacity="0.8"/><circle cx="29.6" cy="55.9" r="0.96" fill="#ff7000" opacity="0.8"/><circle cx="30.2" cy="19.2" r="1.30" fill="#ffa000" opacity="0.8"/><circle cx="4.3" cy="51.2" r="1.04" fill="#ffd000" opacity="0.8"/><circle cx="17.7" cy="19.9" r="1.12" fill="#ffd000" opacity="0.8"/><circle cx="40.6" cy="11.1" r="0.83" fill="#ffa000" opacity="0.8"/><circle cx="45.3" cy="15.5" r="1.01" fill="#ffa000" opacity="0.8"/><circle cx="7.8" cy="52.3" r="0.80" fill="#ffa000" opacity="0.8"/><circle cx="2.7" cy="39.0" r="1.23" fill="#ffd000" opacity="0.8"/><circle cx="47.0" cy="53.8" r="0.61" fill="#ffd000" opacity="0.8"/><circle cx="20.6" cy="8.6" r="1.06" fill="#ff7000" opacity="0.8"/><circle cx="43.5" cy="4.4" r="1.03" fill="#ffd000" opacity="0.8"/><circle cx="18.7" cy="14.0" r="1.02" fill="#ffa000" opacity="0.8"/><circle cx="21.2" cy="0.5" r="0.63" fill="#ffa000" opacity="0.8"/><circle cx="23.4" cy="45.0" r="1.30" fill="#ff7000" opacity="0.8"/><circle cx="6.2" cy="55.0" r="0.90" fill="#ffa000" opacity="0.8"/><circle cx="7.3" cy="3.5" r="1.12" fill="#ff7000" opacity="0.8"/><circle cx="43.3" cy="8.4" r="0.63" fill="#ffd000" opacity="0.8"/><circle cx="37.3" cy="18.0" r="0.62" fill="#ff7000" opacity="0.8"/><circle cx="18.7" cy="55.8" r="1.06" fill="#ffa000" opacity="0.8"/><circle cx="30.6" cy="13.5" r="0.89" fill="#ffa000" opacity="0.8"/><circle cx="14.0" cy="24.8" r="1.05" fill="#ffd000" opacity="0.8"/><circle cx="53.2" cy="27.9" r="0.62" fill="#ffd000" opacity="0.8"/><circle cx="16.2" cy="29.4" r="1.14" fill="#ffd000" opacity="0.8"/><circle cx="55.7" cy="7.9" r="0.64" fill="#ffd000" opacity="0.8"/><circle cx="36.2" cy="55.5" r="0.88" fill="#ff7000" opacity="0.8"/><circle cx="41.9" cy="44.3" r="1.12" fill="#ffd000" opacity="0.8"/><circle cx="24.8" cy="24.1" r="1.25" fill="#ff7000" opacity="0.8"/><circle cx="57.6" cy="51.8" r="0.84" fill="#ff7000" opacity="0.8"/><circle cx="30.2" cy="50.4" r="0.82" fill="#ffd000" opacity="0.8"/><circle cx="33.8" cy="36.7" r="1.08" fill="#ffd000" opacity="0.8"/><circle cx="21.7" cy="22.0" r="0.95" fill="#ffd000" opacity="0.8"/><circle cx="61.6" cy="37.4" r="0.63" fill="#ff7000" opacity="0.8"/>
</g>
<defs><filter id="fb14_1" filterUnits="userSpaceOnUse" x="-10" y="-10" width="83" height="75" color-interpolation-filters="sRGB"><feGaussianBlur stdDeviation="0.45"/></filter></defs>
<g filter="url(#fb14_1)">
<path d="M2.7 0.4V32.0M8.1 0.3V32.2M14.5 3.2V39.4M19.2 2.1V29.7M24.6 0.4V28.4M31.0 3.3V40.2M36.4 0.8V30.3M41.7 2.9V41.1M47.5 0.3V36.2M52.7 2.0V27.7M58.0 0.4V42.7M63.4 2.2V30.1M11.4 3.5H61.6M10.2 8.9H52.3M8.6 14.1H47.2M16.3 19.3H44.9M12.5 24.5H49.6M9.4 30.5H50.9M3.9 36.6H52.3M12.7 41.1H49.5M7 4.5L14 16M5 14L11 22" stroke="#ffa000" stroke-width="0.8" opacity="0.45" fill="none"/>
</g>
<path d="M27.5 27.9H35.1M31.3 24.1V31.7" stroke="#1a1208" stroke-width="1.25" fill="none" opacity="0.92"/>
</svg>
<svg x="30" y="152" width="64.5" height="56" viewBox="0 0 64.5 56" overflow="hidden">
<rect width="64.5" height="56" fill="#ff1a00"/>
<g filter="url(#f20)">
<rect x="-8.50" y="-8.50" width="17.06" height="17.00" fill="#ff1a00"/>
<rect x="7.56" y="-8.50" width="9.06" height="17.00" fill="#ff1a00"/>
<rect x="15.62" y="-8.50" width="9.06" height="17.00" fill="#ff1a00"/>
<rect x="23.69" y="-8.50" width="9.06" height="17.00" fill="#ff1a00"/>
<rect x="31.75" y="-8.50" width="9.06" height="17.00" fill="#ff1a00"/>
<rect x="39.81" y="-8.50" width="9.06" height="17.00" fill="#ff1a00"/>
<rect x="47.88" y="-8.50" width="9.06" height="17.00" fill="#ff1a00"/>
<rect x="55.94" y="-8.50" width="17.06" height="17.00" fill="#ff1a00"/>
<rect x="-8.50" y="7.50" width="17.06" height="9.00" fill="#e50000"/>
<rect x="7.56" y="7.50" width="9.06" height="9.00" fill="#ff1a00"/>
<rect x="15.62" y="7.50" width="9.06" height="9.00" fill="#ff1a00"/>
<rect x="23.69" y="7.50" width="9.06" height="9.00" fill="#ff1a00"/>
<rect x="31.75" y="7.50" width="9.06" height="9.00" fill="#ff1a00"/>
<rect x="39.81" y="7.50" width="9.06" height="9.00" fill="#ff1a00"/>
<rect x="47.88" y="7.50" width="9.06" height="9.00" fill="#ff1a00"/>
<rect x="55.94" y="7.50" width="17.06" height="9.00" fill="#ff1a00"/>
<rect x="-8.50" y="15.50" width="17.06" height="9.00" fill="#ff1a00"/>
<rect x="7.56" y="15.50" width="9.06" height="9.00" fill="#ff1a00"/>
<rect x="15.62" y="15.50" width="9.06" height="9.00" fill="#ff1a00"/>
<rect x="23.69" y="15.50" width="9.06" height="9.00" fill="#ff1a00"/>
<rect x="31.75" y="15.50" width="9.06" height="9.00" fill="#ff1a00"/>
<rect x="39.81" y="15.50" width="9.06" height="9.00" fill="#ff1a00"/>
<rect x="47.88" y="15.50" width="9.06" height="9.00" fill="#ff1a00"/>
<rect x="55.94" y="15.50" width="17.06" height="9.00" fill="#ff1a00"/>
<rect x="-8.50" y="23.50" width="17.06" height="9.00" fill="#ff1a00"/>
<rect x="7.56" y="23.50" width="9.06" height="9.00" fill="#ff1a00"/>
<rect x="15.62" y="23.50" width="9.06" height="9.00" fill="#ff1a00"/>
<rect x="23.69" y="23.50" width="9.06" height="9.00" fill="#ff1a00"/>
<rect x="31.75" y="23.50" width="9.06" height="9.00" fill="#ff1a00"/>
<rect x="39.81" y="23.50" width="9.06" height="9.00" fill="#ff1a00"/>
<rect x="47.88" y="23.50" width="9.06" height="9.00" fill="#e50000"/>
<rect x="55.94" y="23.50" width="17.06" height="9.00" fill="#ff1a00"/>
<rect x="-8.50" y="31.50" width="17.06" height="9.00" fill="#ff1a00"/>
<rect x="7.56" y="31.50" width="9.06" height="9.00" fill="#e50000"/>
<rect x="15.62" y="31.50" width="9.06" height="9.00" fill="#e50000"/>
<rect x="23.69" y="31.50" width="9.06" height="9.00" fill="#ff1a00"/>
<rect x="31.75" y="31.50" width="9.06" height="9.00" fill="#ff1a00"/>
<rect x="39.81" y="31.50" width="9.06" height="9.00" fill="#e50000"/>
<rect x="47.88" y="31.50" width="9.06" height="9.00" fill="#ff1a00"/>
<rect x="55.94" y="31.50" width="17.06" height="9.00" fill="#ff1a00"/>
<rect x="-8.50" y="39.50" width="17.06" height="9.00" fill="#ff1a00"/>
<rect x="7.56" y="39.50" width="9.06" height="9.00" fill="#ff1a00"/>
<rect x="15.62" y="39.50" width="9.06" height="9.00" fill="#ff1a00"/>
<rect x="23.69" y="39.50" width="9.06" height="9.00" fill="#ff1a00"/>
<rect x="31.75" y="39.50" width="9.06" height="9.00" fill="#ff1a00"/>
<rect x="39.81" y="39.50" width="9.06" height="9.00" fill="#ff1a00"/>
<rect x="47.88" y="39.50" width="9.06" height="9.00" fill="#ff1a00"/>
<rect x="55.94" y="39.50" width="17.06" height="9.00" fill="#ff1a00"/>
<rect x="-8.50" y="47.50" width="17.06" height="17.00" fill="#ff1a00"/>
<rect x="7.56" y="47.50" width="9.06" height="17.00" fill="#ff1a00"/>
<rect x="15.62" y="47.50" width="9.06" height="17.00" fill="#ff1a00"/>
<rect x="23.69" y="47.50" width="9.06" height="17.00" fill="#ff1a00"/>
<rect x="31.75" y="47.50" width="9.06" height="17.00" fill="#ff1a00"/>
<rect x="39.81" y="47.50" width="9.06" height="17.00" fill="#ff1a00"/>
<rect x="47.88" y="47.50" width="9.06" height="17.00" fill="#ff1a00"/>
<rect x="55.94" y="47.50" width="17.06" height="17.00" fill="#ff1a00"/>
</g>
<defs><filter id="f20" x="-20%" y="-20%" width="140%" height="140%" color-interpolation-filters="sRGB"><feGaussianBlur stdDeviation="1.8" result="b"/><feTurbulence type="fractalNoise" baseFrequency="0.2" numOctaves="2" seed="11" result="n"/><feDisplacementMap in="b" in2="n" scale="8.0" xChannelSelector="R" yChannelSelector="G" result="d"/><feGaussianBlur in="d" stdDeviation="0.5"/></filter></defs>
<defs><filter id="fb20_0" filterUnits="userSpaceOnUse" x="-10" y="-10" width="84.5" height="76" color-interpolation-filters="sRGB"><feGaussianBlur stdDeviation="0.45"/></filter></defs>
<g filter="url(#fb20_0)">
<line x1="1.7" y1="2.3" x2="12.8" y2="3.3" stroke="#58f4b0" stroke-width="1.4" stroke-linecap="round"/>
<line x1="12.8" y1="12.6" x2="50.6" y2="17.3" stroke="#58f4b0" stroke-width="2.0" stroke-linecap="round"/>
<line x1="58" y1="12.2" x2="61.7" y2="13.4" stroke="#58f4b0" stroke-width="1.4" stroke-linecap="round"/>
<line x1="0" y1="24.4" x2="8.7" y2="25.4" stroke="#58f4b0" stroke-width="1.5" stroke-linecap="round"/>
<line x1="14.5" y1="26.2" x2="20.4" y2="27.0" stroke="#58f4b0" stroke-width="1.5" stroke-linecap="round"/>
<line x1="0" y1="29.2" x2="54" y2="36.2" stroke="#58f4b0" stroke-width="2.1" stroke-linecap="round"/>
<line x1="60.5" y1="36.7" x2="64" y2="37.4" stroke="#58f4b0" stroke-width="1.5" stroke-linecap="round"/>
<line x1="1.5" y1="43.6" x2="7" y2="44.0" stroke="#58f4b0" stroke-width="1.2" stroke-linecap="round"/>
<line x1="10.5" y1="44.2" x2="14.5" y2="44.8" stroke="#58f4b0" stroke-width="1.2" stroke-linecap="round"/>
<line x1="0" y1="47.2" x2="38.4" y2="52.4" stroke="#58f4b0" stroke-width="2.0" stroke-linecap="round"/>
<line x1="46.5" y1="53.5" x2="64" y2="55.0" stroke="#58f4b0" stroke-width="1.8" stroke-linecap="round"/>
<line x1="11.6" y1="7.5" x2="15.7" y2="8.2" stroke="#58f4b0" stroke-width="1.2" stroke-linecap="round"/>
</g>
<path d="M28.7 28.4H36.3M32.5 24.6V32.2" stroke="#1a1208" stroke-width="1.25" fill="none" opacity="0.92"/>
</svg>
<svg x="94.5" y="152" width="64.5" height="56" viewBox="0 0 64.5 56" overflow="hidden">
<rect width="64.5" height="56" fill="#001aff"/>
<g filter="url(#f21)">
<rect x="-8.50" y="-8.50" width="17.06" height="17.00" fill="#001aff"/>
<rect x="7.56" y="-8.50" width="9.06" height="17.00" fill="#001aff"/>
<rect x="15.62" y="-8.50" width="9.06" height="17.00" fill="#004dff"/>
<rect x="23.69" y="-8.50" width="9.06" height="17.00" fill="#001aff"/>
<rect x="31.75" y="-8.50" width="9.06" height="17.00" fill="#001aff"/>
<rect x="39.81" y="-8.50" width="9.06" height="17.00" fill="#001aff"/>
<rect x="47.88" y="-8.50" width="9.06" height="17.00" fill="#001aff"/>
<rect x="55.94" y="-8.50" width="17.06" height="17.00" fill="#001aff"/>
<rect x="-8.50" y="7.50" width="17.06" height="9.00" fill="#004dff"/>
<rect x="7.56" y="7.50" width="9.06" height="9.00" fill="#004dff"/>
<rect x="15.62" y="7.50" width="9.06" height="9.00" fill="#004dff"/>
<rect x="23.69" y="7.50" width="9.06" height="9.00" fill="#001aff"/>
<rect x="31.75" y="7.50" width="9.06" height="9.00" fill="#001aff"/>
<rect x="39.81" y="7.50" width="9.06" height="9.00" fill="#0000e6"/>
<rect x="47.88" y="7.50" width="9.06" height="9.00" fill="#0000e6"/>
<rect x="55.94" y="7.50" width="17.06" height="9.00" fill="#001aff"/>
<rect x="-8.50" y="15.50" width="17.06" height="9.00" fill="#004dff"/>
<rect x="7.56" y="15.50" width="9.06" height="9.00" fill="#004dff"/>
<rect x="15.62" y="15.50" width="9.06" height="9.00" fill="#004dff"/>
<rect x="23.69" y="15.50" width="9.06" height="9.00" fill="#004dff"/>
<rect x="31.75" y="15.50" width="9.06" height="9.00" fill="#001aff"/>
<rect x="39.81" y="15.50" width="9.06" height="9.00" fill="#001aff"/>
<rect x="47.88" y="15.50" width="9.06" height="9.00" fill="#001aff"/>
<rect x="55.94" y="15.50" width="17.06" height="9.00" fill="#001aff"/>
<rect x="-8.50" y="23.50" width="17.06" height="9.00" fill="#001aff"/>
<rect x="7.56" y="23.50" width="9.06" height="9.00" fill="#001aff"/>
<rect x="15.62" y="23.50" width="9.06" height="9.00" fill="#004dff"/>
<rect x="23.69" y="23.50" width="9.06" height="9.00" fill="#001aff"/>
<rect x="31.75" y="23.50" width="9.06" height="9.00" fill="#001aff"/>
<rect x="39.81" y="23.50" width="9.06" height="9.00" fill="#001aff"/>
<rect x="47.88" y="23.50" width="9.06" height="9.00" fill="#001aff"/>
<rect x="55.94" y="23.50" width="17.06" height="9.00" fill="#001aff"/>
<rect x="-8.50" y="31.50" width="17.06" height="9.00" fill="#001aff"/>
<rect x="7.56" y="31.50" width="9.06" height="9.00" fill="#004dff"/>
<rect x="15.62" y="31.50" width="9.06" height="9.00" fill="#004dff"/>
<rect x="23.69" y="31.50" width="9.06" height="9.00" fill="#004dff"/>
<rect x="31.75" y="31.50" width="9.06" height="9.00" fill="#001aff"/>
<rect x="39.81" y="31.50" width="9.06" height="9.00" fill="#001aff"/>
<rect x="47.88" y="31.50" width="9.06" height="9.00" fill="#004dff"/>
<rect x="55.94" y="31.50" width="17.06" height="9.00" fill="#004dff"/>
<rect x="-8.50" y="39.50" width="17.06" height="9.00" fill="#004dff"/>
<rect x="7.56" y="39.50" width="9.06" height="9.00" fill="#004dff"/>
<rect x="15.62" y="39.50" width="9.06" height="9.00" fill="#004dff"/>
<rect x="23.69" y="39.50" width="9.06" height="9.00" fill="#004dff"/>
<rect x="31.75" y="39.50" width="9.06" height="9.00" fill="#004dff"/>
<rect x="39.81" y="39.50" width="9.06" height="9.00" fill="#004dff"/>
<rect x="47.88" y="39.50" width="9.06" height="9.00" fill="#0080ff"/>
<rect x="55.94" y="39.50" width="17.06" height="9.00" fill="#0080ff"/>
<rect x="-8.50" y="47.50" width="17.06" height="17.00" fill="#004dff"/>
<rect x="7.56" y="47.50" width="9.06" height="17.00" fill="#0080ff"/>
<rect x="15.62" y="47.50" width="9.06" height="17.00" fill="#0080ff"/>
<rect x="23.69" y="47.50" width="9.06" height="17.00" fill="#0080ff"/>
<rect x="31.75" y="47.50" width="9.06" height="17.00" fill="#0080ff"/>
<rect x="39.81" y="47.50" width="9.06" height="17.00" fill="#004dff"/>
<rect x="47.88" y="47.50" width="9.06" height="17.00" fill="#004dff"/>
<rect x="55.94" y="47.50" width="17.06" height="17.00" fill="#0080ff"/>
</g>
<defs><filter id="f21" x="-20%" y="-20%" width="140%" height="140%" color-interpolation-filters="sRGB"><feGaussianBlur stdDeviation="1.8" result="b"/><feTurbulence type="fractalNoise" baseFrequency="0.2" numOctaves="2" seed="12" result="n"/><feDisplacementMap in="b" in2="n" scale="8.0" xChannelSelector="R" yChannelSelector="G" result="d"/><feGaussianBlur in="d" stdDeviation="0.5"/></filter></defs>
<path d="M28.2 28.4H35.8M32.0 24.6V32.2" stroke="#1a1208" stroke-width="1.25" fill="none" opacity="0.92"/>
</svg>
<svg x="159" y="152" width="64" height="56" viewBox="0 0 64 56" overflow="hidden">
<rect width="64" height="56" fill="#ffb300"/>
<g filter="url(#f22)">
<rect x="-8.50" y="-8.50" width="17.00" height="17.00" fill="#ffb300"/>
<rect x="7.50" y="-8.50" width="9.00" height="17.00" fill="#ffb300"/>
<rect x="15.50" y="-8.50" width="9.00" height="17.00" fill="#ff8000"/>
<rect x="23.50" y="-8.50" width="9.00" height="17.00" fill="#ff8000"/>
<rect x="31.50" y="-8.50" width="9.00" height="17.00" fill="#ff8000"/>
<rect x="39.50" y="-8.50" width="9.00" height="17.00" fill="#ff4c00"/>
<rect x="47.50" y="-8.50" width="9.00" height="17.00" fill="#ff8000"/>
<rect x="55.50" y="-8.50" width="17.00" height="17.00" fill="#ffb300"/>
<rect x="-8.50" y="7.50" width="17.00" height="9.00" fill="#ffb300"/>
<rect x="7.50" y="7.50" width="9.00" height="9.00" fill="#ffe500"/>
<rect x="15.50" y="7.50" width="9.00" height="9.00" fill="#ffb300"/>
<rect x="23.50" y="7.50" width="9.00" height="9.00" fill="#ff8000"/>
<rect x="31.50" y="7.50" width="9.00" height="9.00" fill="#ff8000"/>
<rect x="39.50" y="7.50" width="9.00" height="9.00" fill="#ff8000"/>
<rect x="47.50" y="7.50" width="9.00" height="9.00" fill="#ffb300"/>
<rect x="55.50" y="7.50" width="17.00" height="9.00" fill="#ffb300"/>
<rect x="-8.50" y="15.50" width="17.00" height="9.00" fill="#ffe500"/>
<rect x="7.50" y="15.50" width="9.00" height="9.00" fill="#ffe500"/>
<rect x="15.50" y="15.50" width="9.00" height="9.00" fill="#ffb300"/>
<rect x="23.50" y="15.50" width="9.00" height="9.00" fill="#ff8000"/>
<rect x="31.50" y="15.50" width="9.00" height="9.00" fill="#ff4c00"/>
<rect x="39.50" y="15.50" width="9.00" height="9.00" fill="#ff4c00"/>
<rect x="47.50" y="15.50" width="9.00" height="9.00" fill="#ff8000"/>
<rect x="55.50" y="15.50" width="17.00" height="9.00" fill="#ffe500"/>
<rect x="-8.50" y="23.50" width="17.00" height="9.00" fill="#e5ff1a"/>
<rect x="7.50" y="23.50" width="9.00" height="9.00" fill="#ffe500"/>
<rect x="15.50" y="23.50" width="9.00" height="9.00" fill="#ffb300"/>
<rect x="23.50" y="23.50" width="9.00" height="9.00" fill="#ff8000"/>
<rect x="31.50" y="23.50" width="9.00" height="9.00" fill="#ff4c00"/>
<rect x="39.50" y="23.50" width="9.00" height="9.00" fill="#ff8000"/>
<rect x="47.50" y="23.50" width="9.00" height="9.00" fill="#ffb300"/>
<rect x="55.50" y="23.50" width="17.00" height="9.00" fill="#ffb300"/>
<rect x="-8.50" y="31.50" width="17.00" height="9.00" fill="#b3ff4c"/>
<rect x="7.50" y="31.50" width="9.00" height="9.00" fill="#b3ff4c"/>
<rect x="15.50" y="31.50" width="9.00" height="9.00" fill="#ffe500"/>
<rect x="23.50" y="31.50" width="9.00" height="9.00" fill="#ffb300"/>
<rect x="31.50" y="31.50" width="9.00" height="9.00" fill="#ffb300"/>
<rect x="39.50" y="31.50" width="9.00" height="9.00" fill="#ffe500"/>
<rect x="47.50" y="31.50" width="9.00" height="9.00" fill="#ffb300"/>
<rect x="55.50" y="31.50" width="17.00" height="9.00" fill="#ff8000"/>
<rect x="-8.50" y="39.50" width="17.00" height="9.00" fill="#ffb300"/>
<rect x="7.50" y="39.50" width="9.00" height="9.00" fill="#ffe500"/>
<rect x="15.50" y="39.50" width="9.00" height="9.00" fill="#ffe500"/>
<rect x="23.50" y="39.50" width="9.00" height="9.00" fill="#ff8000"/>
<rect x="31.50" y="39.50" width="9.00" height="9.00" fill="#ff8000"/>
<rect x="39.50" y="39.50" width="9.00" height="9.00" fill="#ff4c00"/>
<rect x="47.50" y="39.50" width="9.00" height="9.00" fill="#ff8000"/>
<rect x="55.50" y="39.50" width="17.00" height="9.00" fill="#ffb300"/>
<rect x="-8.50" y="47.50" width="17.00" height="17.00" fill="#ff8000"/>
<rect x="7.50" y="47.50" width="9.00" height="17.00" fill="#ff8000"/>
<rect x="15.50" y="47.50" width="9.00" height="17.00" fill="#ffb300"/>
<rect x="23.50" y="47.50" width="9.00" height="17.00" fill="#ffe500"/>
<rect x="31.50" y="47.50" width="9.00" height="17.00" fill="#ff8000"/>
<rect x="39.50" y="47.50" width="9.00" height="17.00" fill="#ff4c00"/>
<rect x="47.50" y="47.50" width="9.00" height="17.00" fill="#ff8000"/>
<rect x="55.50" y="47.50" width="17.00" height="17.00" fill="#ffb300"/>
</g>
<defs><filter id="f22" x="-20%" y="-20%" width="140%" height="140%" color-interpolation-filters="sRGB"><feGaussianBlur stdDeviation="1.8" result="b"/><feTurbulence type="fractalNoise" baseFrequency="0.2" numOctaves="2" seed="13" result="n"/><feDisplacementMap in="b" in2="n" scale="8.0" xChannelSelector="R" yChannelSelector="G" result="d"/><feGaussianBlur in="d" stdDeviation="0.5"/></filter></defs>
<defs><filter id="fb22_0" filterUnits="userSpaceOnUse" x="-10" y="-10" width="84" height="76" color-interpolation-filters="sRGB"><feGaussianBlur stdDeviation="0.5"/></filter></defs>
<g filter="url(#fb22_0)">
<circle cx="36.6" cy="24.0" r="1.00" fill="#ffe000" opacity="0.8"/><circle cx="29.6" cy="27.5" r="0.79" fill="#ffe000" opacity="0.8"/><circle cx="2.2" cy="27.4" r="0.65" fill="#ff6000" opacity="0.8"/><circle cx="2.9" cy="48.2" r="1.02" fill="#ff6000" opacity="0.8"/><circle cx="27.0" cy="46.3" r="0.78" fill="#ffe000" opacity="0.8"/><circle cx="43.9" cy="37.1" r="0.69" fill="#ffe000" opacity="0.8"/><circle cx="62.0" cy="34.3" r="0.63" fill="#ffe000" opacity="0.8"/><circle cx="15.1" cy="10.9" r="1.24" fill="#ff6000" opacity="0.8"/><circle cx="49.4" cy="13.5" r="1.07" fill="#ff6000" opacity="0.8"/><circle cx="27.9" cy="3.6" r="1.01" fill="#ffe000" opacity="0.8"/><circle cx="53.9" cy="54.3" r="0.77" fill="#ffe000" opacity="0.8"/><circle cx="31.8" cy="45.8" r="1.06" fill="#ffe000" opacity="0.8"/><circle cx="9.6" cy="31.8" r="0.86" fill="#ffe000" opacity="0.8"/><circle cx="7.2" cy="43.4" r="0.67" fill="#ffe000" opacity="0.8"/><circle cx="62.8" cy="10.7" r="0.84" fill="#ff6000" opacity="0.8"/><circle cx="28.5" cy="38.1" r="0.70" fill="#ffe000" opacity="0.8"/><circle cx="55.4" cy="15.0" r="0.81" fill="#ffe000" opacity="0.8"/><circle cx="49.8" cy="26.9" r="0.84" fill="#ff6000" opacity="0.8"/><circle cx="14.3" cy="30.5" r="0.63" fill="#ff6000" opacity="0.8"/><circle cx="15.5" cy="14.7" r="0.88" fill="#ffe000" opacity="0.8"/><circle cx="25.0" cy="48.7" r="1.07" fill="#ffe000" opacity="0.8"/><circle cx="47.1" cy="55.6" r="0.79" fill="#ff6000" opacity="0.8"/><circle cx="38.5" cy="3.5" r="0.94" fill="#ff6000" opacity="0.8"/><circle cx="57.5" cy="7.6" r="0.98" fill="#ff6000" opacity="0.8"/><circle cx="34.5" cy="27.4" r="0.72" fill="#ff6000" opacity="0.8"/><circle cx="6.3" cy="54.5" r="1.18" fill="#ffe000" opacity="0.8"/><circle cx="28.1" cy="3.6" r="0.84" fill="#ffe000" opacity="0.8"/><circle cx="7.0" cy="25.4" r="1.29" fill="#ff6000" opacity="0.8"/><circle cx="8.9" cy="48.3" r="1.14" fill="#ff6000" opacity="0.8"/><circle cx="22.0" cy="14.5" r="1.15" fill="#ff6000" opacity="0.8"/>
</g>
<path d="M27.6 28.4H35.2M31.4 24.6V32.2" stroke="#1a1208" stroke-width="1.25" fill="none" opacity="0.92"/>
</svg>
<svg x="223" y="152" width="64" height="56" viewBox="0 0 64 56" overflow="hidden">
<rect width="64" height="56" fill="#e5ff1a"/>
<g filter="url(#f23)">
<rect x="-8.50" y="-8.50" width="17.00" height="17.00" fill="#e5ff1a"/>
<rect x="7.50" y="-8.50" width="9.00" height="17.00" fill="#4dffb2"/>
<rect x="15.50" y="-8.50" width="9.00" height="17.00" fill="#e5ff1a"/>
<rect x="23.50" y="-8.50" width="9.00" height="17.00" fill="#4dffb2"/>
<rect x="31.50" y="-8.50" width="9.00" height="17.00" fill="#4dffb2"/>
<rect x="39.50" y="-8.50" width="9.00" height="17.00" fill="#4dffb2"/>
<rect x="47.50" y="-8.50" width="9.00" height="17.00" fill="#1affe5"/>
<rect x="55.50" y="-8.50" width="17.00" height="17.00" fill="#e5ff1a"/>
<rect x="-8.50" y="7.50" width="17.00" height="9.00" fill="#ffe500"/>
<rect x="7.50" y="7.50" width="9.00" height="9.00" fill="#ffe500"/>
<rect x="15.50" y="7.50" width="9.00" height="9.00" fill="#ffb300"/>
<rect x="23.50" y="7.50" width="9.00" height="9.00" fill="#ffe500"/>
<rect x="31.50" y="7.50" width="9.00" height="9.00" fill="#ffe500"/>
<rect x="39.50" y="7.50" width="9.00" height="9.00" fill="#ffe500"/>
<rect x="47.50" y="7.50" width="9.00" height="9.00" fill="#ffe500"/>
<rect x="55.50" y="7.50" width="17.00" height="9.00" fill="#e5ff1a"/>
<rect x="-8.50" y="15.50" width="17.00" height="9.00" fill="#e5ff1a"/>
<rect x="7.50" y="15.50" width="9.00" height="9.00" fill="#4dffb2"/>
<rect x="15.50" y="15.50" width="9.00" height="9.00" fill="#4dffb2"/>
<rect x="23.50" y="15.50" width="9.00" height="9.00" fill="#4dffb2"/>
<rect x="31.50" y="15.50" width="9.00" height="9.00" fill="#4dffb2"/>
<rect x="39.50" y="15.50" width="9.00" height="9.00" fill="#4dffb2"/>
<rect x="47.50" y="15.50" width="9.00" height="9.00" fill="#4dffb2"/>
<rect x="55.50" y="15.50" width="17.00" height="9.00" fill="#1affe5"/>
<rect x="-8.50" y="23.50" width="17.00" height="9.00" fill="#e5ff1a"/>
<rect x="7.50" y="23.50" width="9.00" height="9.00" fill="#1affe5"/>
<rect x="15.50" y="23.50" width="9.00" height="9.00" fill="#1affe5"/>
<rect x="23.50" y="23.50" width="9.00" height="9.00" fill="#1affe5"/>
<rect x="31.50" y="23.50" width="9.00" height="9.00" fill="#1affe5"/>
<rect x="39.50" y="23.50" width="9.00" height="9.00" fill="#1affe5"/>
<rect x="47.50" y="23.50" width="9.00" height="9.00" fill="#1affe5"/>
<rect x="55.50" y="23.50" width="17.00" height="9.00" fill="#1affe5"/>
<rect x="-8.50" y="31.50" width="17.00" height="9.00" fill="#e5ff1a"/>
<rect x="7.50" y="31.50" width="9.00" height="9.00" fill="#1affe5"/>
<rect x="15.50" y="31.50" width="9.00" height="9.00" fill="#1affe5"/>
<rect x="23.50" y="31.50" width="9.00" height="9.00" fill="#1affe5"/>
<rect x="31.50" y="31.50" width="9.00" height="9.00" fill="#1affe5"/>
<rect x="39.50" y="31.50" width="9.00" height="9.00" fill="#e5ff1a"/>
<rect x="47.50" y="31.50" width="9.00" height="9.00" fill="#1affe5"/>
<rect x="55.50" y="31.50" width="17.00" height="9.00" fill="#1affe5"/>
<rect x="-8.50" y="39.50" width="17.00" height="9.00" fill="#1affe5"/>
<rect x="7.50" y="39.50" width="9.00" height="9.00" fill="#e5ff1a"/>
<rect x="15.50" y="39.50" width="9.00" height="9.00" fill="#ffe500"/>
<rect x="23.50" y="39.50" width="9.00" height="9.00" fill="#e5ff1a"/>
<rect x="31.50" y="39.50" width="9.00" height="9.00" fill="#ffe500"/>
<rect x="39.50" y="39.50" width="9.00" height="9.00" fill="#e5ff1a"/>
<rect x="47.50" y="39.50" width="9.00" height="9.00" fill="#1affe5"/>
<rect x="55.50" y="39.50" width="17.00" height="9.00" fill="#1affe5"/>
<rect x="-8.50" y="47.50" width="17.00" height="17.00" fill="#e5ff1a"/>
<rect x="7.50" y="47.50" width="9.00" height="17.00" fill="#ff4c00"/>
<rect x="15.50" y="47.50" width="9.00" height="17.00" fill="#ff4c00"/>
<rect x="23.50" y="47.50" width="9.00" height="17.00" fill="#ff4c00"/>
<rect x="31.50" y="47.50" width="9.00" height="17.00" fill="#e5ff1a"/>
<rect x="39.50" y="47.50" width="9.00" height="17.00" fill="#1affe5"/>
<rect x="47.50" y="47.50" width="9.00" height="17.00" fill="#1affe5"/>
<rect x="55.50" y="47.50" width="17.00" height="17.00" fill="#1affe5"/>
</g>
<defs><filter id="f23" x="-20%" y="-20%" width="140%" height="140%" color-interpolation-filters="sRGB"><feGaussianBlur stdDeviation="1.8" result="b"/><feTurbulence type="fractalNoise" baseFrequency="0.2" numOctaves="2" seed="14" result="n"/><feDisplacementMap in="b" in2="n" scale="8.0" xChannelSelector="R" yChannelSelector="G" result="d"/><feGaussianBlur in="d" stdDeviation="0.5"/></filter></defs>
<defs><filter id="fb23_0" filterUnits="userSpaceOnUse" x="-10" y="-10" width="84" height="76" color-interpolation-filters="sRGB"><feGaussianBlur stdDeviation="1.3"/></filter></defs>
<g filter="url(#fb23_0)">
<ellipse cx="30" cy="53" rx="10" ry="4" fill="#ff6a00" opacity="0.9"/>
<ellipse cx="60" cy="18" rx="1.5" ry="4" fill="#ff8000" opacity="0.9"/>
</g>
<defs><filter id="fb23_1" filterUnits="userSpaceOnUse" x="-10" y="-10" width="84" height="76" color-interpolation-filters="sRGB"><feGaussianBlur stdDeviation="0.45"/></filter></defs>
<g filter="url(#fb23_1)">
<path d="M37 50 L50 33 L57 22 L60 14 L61 0" stroke="#f8e020" stroke-width="1.6" fill="none"/>
</g>
<path d="M27.6 28.4H35.2M31.4 24.6V32.2" stroke="#1a1208" stroke-width="1.25" fill="none" opacity="0.92"/>
</svg>
<svg x="287" y="152" width="63" height="56" viewBox="0 0 63 56" overflow="hidden">
<rect width="63" height="56" fill="#ff8000"/>
<g filter="url(#f24)">
<rect x="-8.50" y="-8.50" width="16.88" height="17.00" fill="#ff8000"/>
<rect x="7.38" y="-8.50" width="8.88" height="17.00" fill="#ff8000"/>
<rect x="15.25" y="-8.50" width="8.88" height="17.00" fill="#ffb300"/>
<rect x="23.12" y="-8.50" width="8.88" height="17.00" fill="#ff8000"/>
<rect x="31.00" y="-8.50" width="8.88" height="17.00" fill="#ff8000"/>
<rect x="38.88" y="-8.50" width="8.88" height="17.00" fill="#ffb300"/>
<rect x="46.75" y="-8.50" width="8.88" height="17.00" fill="#ff8000"/>
<rect x="54.62" y="-8.50" width="16.88" height="17.00" fill="#ff4c00"/>
<rect x="-8.50" y="7.50" width="16.88" height="9.00" fill="#ff4c00"/>
<rect x="7.38" y="7.50" width="8.88" height="9.00" fill="#ff8000"/>
<rect x="15.25" y="7.50" width="8.88" height="9.00" fill="#ff4c00"/>
<rect x="23.12" y="7.50" width="8.88" height="9.00" fill="#ff8000"/>
<rect x="31.00" y="7.50" width="8.88" height="9.00" fill="#ff4c00"/>
<rect x="38.88" y="7.50" width="8.88" height="9.00" fill="#ff4c00"/>
<rect x="46.75" y="7.50" width="8.88" height="9.00" fill="#ff8000"/>
<rect x="54.62" y="7.50" width="16.88" height="9.00" fill="#ff4c00"/>
<rect x="-8.50" y="15.50" width="16.88" height="9.00" fill="#ffb300"/>
<rect x="7.38" y="15.50" width="8.88" height="9.00" fill="#ffe500"/>
<rect x="15.25" y="15.50" width="8.88" height="9.00" fill="#ffe500"/>
<rect x="23.12" y="15.50" width="8.88" height="9.00" fill="#ffe500"/>
<rect x="31.00" y="15.50" width="8.88" height="9.00" fill="#ffb300"/>
<rect x="38.88" y="15.50" width="8.88" height="9.00" fill="#ff8000"/>
<rect x="46.75" y="15.50" width="8.88" height="9.00" fill="#ff8000"/>
<rect x="54.62" y="15.50" width="16.88" height="9.00" fill="#ff4c00"/>
<rect x="-8.50" y="23.50" width="16.88" height="9.00" fill="#ff8000"/>
<rect x="7.38" y="23.50" width="8.88" height="9.00" fill="#ff4c00"/>
<rect x="15.25" y="23.50" width="8.88" height="9.00" fill="#ff8000"/>
<rect x="23.12" y="23.50" width="8.88" height="9.00" fill="#ffb300"/>
<rect x="31.00" y="23.50" width="8.88" height="9.00" fill="#ff4c00"/>
<rect x="38.88" y="23.50" width="8.88" height="9.00" fill="#ff1a00"/>
<rect x="46.75" y="23.50" width="8.88" height="9.00" fill="#ff1a00"/>
<rect x="54.62" y="23.50" width="16.88" height="9.00" fill="#ff4c00"/>
<rect x="-8.50" y="31.50" width="16.88" height="9.00" fill="#ffb300"/>
<rect x="7.38" y="31.50" width="8.88" height="9.00" fill="#ff8000"/>
<rect x="15.25" y="31.50" width="8.88" height="9.00" fill="#ffb300"/>
<rect x="23.12" y="31.50" width="8.88" height="9.00" fill="#ff8000"/>
<rect x="31.00" y="31.50" width="8.88" height="9.00" fill="#ff8000"/>
<rect x="38.88" y="31.50" width="8.88" height="9.00" fill="#ff8000"/>
<rect x="46.75" y="31.50" width="8.88" height="9.00" fill="#ff4c00"/>
<rect x="54.62" y="31.50" width="16.88" height="9.00" fill="#ff8000"/>
<rect x="-8.50" y="39.50" width="16.88" height="9.00" fill="#ffb300"/>
<rect x="7.38" y="39.50" width="8.88" height="9.00" fill="#ffb300"/>
<rect x="15.25" y="39.50" width="8.88" height="9.00" fill="#ff8000"/>
<rect x="23.12" y="39.50" width="8.88" height="9.00" fill="#ff8000"/>
<rect x="31.00" y="39.50" width="8.88" height="9.00" fill="#ff1a00"/>
<rect x="38.88" y="39.50" width="8.88" height="9.00" fill="#ff1a00"/>
<rect x="46.75" y="39.50" width="8.88" height="9.00" fill="#ff4c00"/>
<rect x="54.62" y="39.50" width="16.88" height="9.00" fill="#ffb300"/>
<rect x="-8.50" y="47.50" width="16.88" height="17.00" fill="#ffb300"/>
<rect x="7.38" y="47.50" width="8.88" height="17.00" fill="#ff8000"/>
<rect x="15.25" y="47.50" width="8.88" height="17.00" fill="#ffb300"/>
<rect x="23.12" y="47.50" width="8.88" height="17.00" fill="#ff4c00"/>
<rect x="31.00" y="47.50" width="8.88" height="17.00" fill="#ff1a00"/>
<rect x="38.88" y="47.50" width="8.88" height="17.00" fill="#ff4c00"/>
<rect x="46.75" y="47.50" width="8.88" height="17.00" fill="#ffb300"/>
<rect x="54.62" y="47.50" width="16.88" height="17.00" fill="#ff8000"/>
</g>
<defs><filter id="f24" x="-20%" y="-20%" width="140%" height="140%" color-interpolation-filters="sRGB"><feGaussianBlur stdDeviation="1.8" result="b"/><feTurbulence type="fractalNoise" baseFrequency="0.2" numOctaves="2" seed="15" result="n"/><feDisplacementMap in="b" in2="n" scale="8.0" xChannelSelector="R" yChannelSelector="G" result="d"/><feGaussianBlur in="d" stdDeviation="0.5"/></filter></defs>
<defs><filter id="fb24_0" filterUnits="userSpaceOnUse" x="-10" y="-10" width="83" height="76" color-interpolation-filters="sRGB"><feGaussianBlur stdDeviation="0.5"/></filter></defs>
<g filter="url(#fb24_0)">
<circle cx="29.0" cy="31.3" r="1.25" fill="#ff3000" opacity="0.8"/><circle cx="28.9" cy="47.9" r="0.73" fill="#ff3000" opacity="0.8"/><circle cx="40.3" cy="44.4" r="0.67" fill="#ff3000" opacity="0.8"/><circle cx="9.1" cy="30.2" r="1.22" fill="#ffe000" opacity="0.8"/><circle cx="38.1" cy="22.2" r="0.92" fill="#ffe000" opacity="0.8"/><circle cx="39.9" cy="46.6" r="0.64" fill="#ffe000" opacity="0.8"/><circle cx="12.2" cy="13.5" r="0.62" fill="#ff3000" opacity="0.8"/><circle cx="20.9" cy="33.1" r="0.74" fill="#ffe000" opacity="0.8"/><circle cx="41.0" cy="28.0" r="1.06" fill="#ff3000" opacity="0.8"/><circle cx="41.9" cy="22.8" r="0.99" fill="#ffe000" opacity="0.8"/><circle cx="45.3" cy="17.7" r="0.76" fill="#ff3000" opacity="0.8"/><circle cx="1.9" cy="31.5" r="0.68" fill="#ffe000" opacity="0.8"/><circle cx="54.2" cy="21.6" r="1.27" fill="#ffe000" opacity="0.8"/><circle cx="13.7" cy="51.9" r="0.64" fill="#ff3000" opacity="0.8"/><circle cx="62.7" cy="22.3" r="0.65" fill="#ffe000" opacity="0.8"/><circle cx="49.8" cy="15.1" r="0.66" fill="#ff3000" opacity="0.8"/><circle cx="1.0" cy="23.0" r="1.25" fill="#ffe000" opacity="0.8"/><circle cx="15.8" cy="5.7" r="0.64" fill="#ff3000" opacity="0.8"/><circle cx="11.4" cy="31.3" r="0.91" fill="#ffe000" opacity="0.8"/><circle cx="63.1" cy="43.1" r="0.89" fill="#ff3000" opacity="0.8"/><circle cx="7.5" cy="23.6" r="0.75" fill="#ff3000" opacity="0.8"/><circle cx="55.3" cy="54.6" r="1.01" fill="#ffe000" opacity="0.8"/><circle cx="13.5" cy="22.1" r="1.20" fill="#ffe000" opacity="0.8"/><circle cx="2.7" cy="8.2" r="0.91" fill="#ffe000" opacity="0.8"/><circle cx="49.5" cy="18.4" r="0.81" fill="#ffe000" opacity="0.8"/><circle cx="4.8" cy="11.7" r="1.05" fill="#ffe000" opacity="0.8"/><circle cx="38.5" cy="20.8" r="0.92" fill="#ff3000" opacity="0.8"/><circle cx="53.3" cy="7.6" r="0.87" fill="#ffe000" opacity="0.8"/><circle cx="19.9" cy="12.8" r="1.03" fill="#ffe000" opacity="0.8"/><circle cx="10.1" cy="35.2" r="0.99" fill="#ff3000" opacity="0.8"/>
</g>
<path d="M27.5 28.4H35.1M31.3 24.6V32.2" stroke="#1a1208" stroke-width="1.25" fill="none" opacity="0.92"/>
</svg>
<svg x="30" y="209" width="64.5" height="56" viewBox="0 0 64.5 56" overflow="hidden">
<rect width="64.5" height="56" fill="#e50000"/>
<g filter="url(#f30)">
<rect x="-8.50" y="-8.50" width="17.06" height="17.00" fill="#e50000"/>
<rect x="7.56" y="-8.50" width="9.06" height="17.00" fill="#e50000"/>
<rect x="15.62" y="-8.50" width="9.06" height="17.00" fill="#e50000"/>
<rect x="23.69" y="-8.50" width="9.06" height="17.00" fill="#e50000"/>
<rect x="31.75" y="-8.50" width="9.06" height="17.00" fill="#e50000"/>
<rect x="39.81" y="-8.50" width="9.06" height="17.00" fill="#e50000"/>
<rect x="47.88" y="-8.50" width="9.06" height="17.00" fill="#e50000"/>
<rect x="55.94" y="-8.50" width="17.06" height="17.00" fill="#e50000"/>
<rect x="-8.50" y="7.50" width="17.06" height="9.00" fill="#b30000"/>
<rect x="7.56" y="7.50" width="9.06" height="9.00" fill="#e50000"/>
<rect x="15.62" y="7.50" width="9.06" height="9.00" fill="#e50000"/>
<rect x="23.69" y="7.50" width="9.06" height="9.00" fill="#e50000"/>
<rect x="31.75" y="7.50" width="9.06" height="9.00" fill="#e50000"/>
<rect x="39.81" y="7.50" width="9.06" height="9.00" fill="#e50000"/>
<rect x="47.88" y="7.50" width="9.06" height="9.00" fill="#e50000"/>
<rect x="55.94" y="7.50" width="17.06" height="9.00" fill="#e50000"/>
<rect x="-8.50" y="15.50" width="17.06" height="9.00" fill="#e50000"/>
<rect x="7.56" y="15.50" width="9.06" height="9.00" fill="#e50000"/>
<rect x="15.62" y="15.50" width="9.06" height="9.00" fill="#e50000"/>
<rect x="23.69" y="15.50" width="9.06" height="9.00" fill="#e50000"/>
<rect x="31.75" y="15.50" width="9.06" height="9.00" fill="#e50000"/>
<rect x="39.81" y="15.50" width="9.06" height="9.00" fill="#e50000"/>
<rect x="47.88" y="15.50" width="9.06" height="9.00" fill="#e50000"/>
<rect x="55.94" y="15.50" width="17.06" height="9.00" fill="#e50000"/>
<rect x="-8.50" y="23.50" width="17.06" height="9.00" fill="#e50000"/>
<rect x="7.56" y="23.50" width="9.06" height="9.00" fill="#e50000"/>
<rect x="15.62" y="23.50" width="9.06" height="9.00" fill="#e50000"/>
<rect x="23.69" y="23.50" width="9.06" height="9.00" fill="#e50000"/>
<rect x="31.75" y="23.50" width="9.06" height="9.00" fill="#e50000"/>
<rect x="39.81" y="23.50" width="9.06" height="9.00" fill="#e50000"/>
<rect x="47.88" y="23.50" width="9.06" height="9.00" fill="#b30000"/>
<rect x="55.94" y="23.50" width="17.06" height="9.00" fill="#e50000"/>
<rect x="-8.50" y="31.50" width="17.06" height="9.00" fill="#e50000"/>
<rect x="7.56" y="31.50" width="9.06" height="9.00" fill="#b30000"/>
<rect x="15.62" y="31.50" width="9.06" height="9.00" fill="#b30000"/>
<rect x="23.69" y="31.50" width="9.06" height="9.00" fill="#e50000"/>
<rect x="31.75" y="31.50" width="9.06" height="9.00" fill="#e50000"/>
<rect x="39.81" y="31.50" width="9.06" height="9.00" fill="#b30000"/>
<rect x="47.88" y="31.50" width="9.06" height="9.00" fill="#e50000"/>
<rect x="55.94" y="31.50" width="17.06" height="9.00" fill="#e50000"/>
<rect x="-8.50" y="39.50" width="17.06" height="9.00" fill="#e50000"/>
<rect x="7.56" y="39.50" width="9.06" height="9.00" fill="#e50000"/>
<rect x="15.62" y="39.50" width="9.06" height="9.00" fill="#e50000"/>
<rect x="23.69" y="39.50" width="9.06" height="9.00" fill="#e50000"/>
<rect x="31.75" y="39.50" width="9.06" height="9.00" fill="#e50000"/>
<rect x="39.81" y="39.50" width="9.06" height="9.00" fill="#e50000"/>
<rect x="47.88" y="39.50" width="9.06" height="9.00" fill="#e50000"/>
<rect x="55.94" y="39.50" width="17.06" height="9.00" fill="#e50000"/>
<rect x="-8.50" y="47.50" width="17.06" height="17.00" fill="#e50000"/>
<rect x="7.56" y="47.50" width="9.06" height="17.00" fill="#e50000"/>
<rect x="15.62" y="47.50" width="9.06" height="17.00" fill="#e50000"/>
<rect x="23.69" y="47.50" width="9.06" height="17.00" fill="#e50000"/>
<rect x="31.75" y="47.50" width="9.06" height="17.00" fill="#e50000"/>
<rect x="39.81" y="47.50" width="9.06" height="17.00" fill="#e50000"/>
<rect x="47.88" y="47.50" width="9.06" height="17.00" fill="#e50000"/>
<rect x="55.94" y="47.50" width="17.06" height="17.00" fill="#e50000"/>
</g>
<defs><filter id="f30" x="-20%" y="-20%" width="140%" height="140%" color-interpolation-filters="sRGB"><feGaussianBlur stdDeviation="1.8" result="b"/><feTurbulence type="fractalNoise" baseFrequency="0.2" numOctaves="2" seed="16" result="n"/><feDisplacementMap in="b" in2="n" scale="8.0" xChannelSelector="R" yChannelSelector="G" result="d"/><feGaussianBlur in="d" stdDeviation="0.5"/></filter></defs>
<defs><filter id="fb30_0" filterUnits="userSpaceOnUse" x="-10" y="-10" width="84.5" height="76" color-interpolation-filters="sRGB"><feGaussianBlur stdDeviation="0.45"/></filter></defs>
<g filter="url(#fb30_0)">
<line x1="1.7" y1="2.3" x2="12.8" y2="3.3" stroke="#ffb800" stroke-width="1.4" stroke-linecap="round"/>
<line x1="12.8" y1="12.6" x2="50.6" y2="17.3" stroke="#ffb800" stroke-width="2.0" stroke-linecap="round"/>
<line x1="58" y1="12.2" x2="61.7" y2="13.4" stroke="#ffb800" stroke-width="1.4" stroke-linecap="round"/>
<line x1="0" y1="24.4" x2="8.7" y2="25.4" stroke="#ffb800" stroke-width="1.5" stroke-linecap="round"/>
<line x1="14.5" y1="26.2" x2="20.4" y2="27.0" stroke="#ffb800" stroke-width="1.5" stroke-linecap="round"/>
<line x1="0" y1="29.2" x2="54" y2="36.2" stroke="#ffb800" stroke-width="2.1" stroke-linecap="round"/>
<line x1="60.5" y1="36.7" x2="64" y2="37.4" stroke="#ffb800" stroke-width="1.5" stroke-linecap="round"/>
<line x1="1.5" y1="43.6" x2="7" y2="44.0" stroke="#ffb800" stroke-width="1.2" stroke-linecap="round"/>
<line x1="10.5" y1="44.2" x2="14.5" y2="44.8" stroke="#ffb800" stroke-width="1.2" stroke-linecap="round"/>
<line x1="0" y1="47.2" x2="38.4" y2="52.4" stroke="#ffb800" stroke-width="2.0" stroke-linecap="round"/>
<line x1="46.5" y1="53.5" x2="64" y2="55.0" stroke="#ffb800" stroke-width="1.8" stroke-linecap="round"/>
<line x1="11.6" y1="7.5" x2="15.7" y2="8.2" stroke="#ffb800" stroke-width="1.2" stroke-linecap="round"/>
</g>
<path d="M28.7 28.4H36.3M32.5 24.6V32.2" stroke="#1a1208" stroke-width="1.25" fill="none" opacity="0.92"/>
</svg>
<svg x="94.5" y="209" width="64.5" height="56" viewBox="0 0 64.5 56" overflow="hidden">
<rect width="64.5" height="56" fill="#e5ff1a"/>
<g filter="url(#f31)">
<rect x="-8.50" y="-8.50" width="17.06" height="17.00" fill="#e5ff1a"/>
<rect x="7.56" y="-8.50" width="9.06" height="17.00" fill="#e5ff1a"/>
<rect x="15.62" y="-8.50" width="9.06" height="17.00" fill="#e5ff1a"/>
<rect x="23.69" y="-8.50" width="9.06" height="17.00" fill="#e5ff1a"/>
<rect x="31.75" y="-8.50" width="9.06" height="17.00" fill="#e5ff1a"/>
<rect x="39.81" y="-8.50" width="9.06" height="17.00" fill="#e5ff1a"/>
<rect x="47.88" y="-8.50" width="9.06" height="17.00" fill="#e5ff1a"/>
<rect x="55.94" y="-8.50" width="17.06" height="17.00" fill="#e5ff1a"/>
<rect x="-8.50" y="7.50" width="17.06" height="9.00" fill="#ffb300"/>
<rect x="7.56" y="7.50" width="9.06" height="9.00" fill="#e5ff1a"/>
<rect x="15.62" y="7.50" width="9.06" height="9.00" fill="#e5ff1a"/>
<rect x="23.69" y="7.50" width="9.06" height="9.00" fill="#e5ff1a"/>
<rect x="31.75" y="7.50" width="9.06" height="9.00" fill="#e5ff1a"/>
<rect x="39.81" y="7.50" width="9.06" height="9.00" fill="#b3ff4c"/>
<rect x="47.88" y="7.50" width="9.06" height="9.00" fill="#b3ff4c"/>
<rect x="55.94" y="7.50" width="17.06" height="9.00" fill="#e5ff1a"/>
<rect x="-8.50" y="15.50" width="17.06" height="9.00" fill="#e5ff1a"/>
<rect x="7.56" y="15.50" width="9.06" height="9.00" fill="#e5ff1a"/>
<rect x="15.62" y="15.50" width="9.06" height="9.00" fill="#ffe500"/>
<rect x="23.69" y="15.50" width="9.06" height="9.00" fill="#ffe500"/>
<rect x="31.75" y="15.50" width="9.06" height="9.00" fill="#e5ff1a"/>
<rect x="39.81" y="15.50" width="9.06" height="9.00" fill="#b3ff4c"/>
<rect x="47.88" y="15.50" width="9.06" height="9.00" fill="#b3ff4c"/>
<rect x="55.94" y="15.50" width="17.06" height="9.00" fill="#e5ff1a"/>
<rect x="-8.50" y="23.50" width="17.06" height="9.00" fill="#e5ff1a"/>
<rect x="7.56" y="23.50" width="9.06" height="9.00" fill="#e5ff1a"/>
<rect x="15.62" y="23.50" width="9.06" height="9.00" fill="#e5ff1a"/>
<rect x="23.69" y="23.50" width="9.06" height="9.00" fill="#e5ff1a"/>
<rect x="31.75" y="23.50" width="9.06" height="9.00" fill="#e5ff1a"/>
<rect x="39.81" y="23.50" width="9.06" height="9.00" fill="#e5ff1a"/>
<rect x="47.88" y="23.50" width="9.06" height="9.00" fill="#b3ff4c"/>
<rect x="55.94" y="23.50" width="17.06" height="9.00" fill="#e5ff1a"/>
<rect x="-8.50" y="31.50" width="17.06" height="9.00" fill="#e5ff1a"/>
<rect x="7.56" y="31.50" width="9.06" height="9.00" fill="#e5ff1a"/>
<rect x="15.62" y="31.50" width="9.06" height="9.00" fill="#e5ff1a"/>
<rect x="23.69" y="31.50" width="9.06" height="9.00" fill="#e5ff1a"/>
<rect x="31.75" y="31.50" width="9.06" height="9.00" fill="#e5ff1a"/>
<rect x="39.81" y="31.50" width="9.06" height="9.00" fill="#b3ff4c"/>
<rect x="47.88" y="31.50" width="9.06" height="9.00" fill="#e5ff1a"/>
<rect x="55.94" y="31.50" width="17.06" height="9.00" fill="#e5ff1a"/>
<rect x="-8.50" y="39.50" width="17.06" height="9.00" fill="#e5ff1a"/>
<rect x="7.56" y="39.50" width="9.06" height="9.00" fill="#e5ff1a"/>
<rect x="15.62" y="39.50" width="9.06" height="9.00" fill="#e5ff1a"/>
<rect x="23.69" y="39.50" width="9.06" height="9.00" fill="#e5ff1a"/>
<rect x="31.75" y="39.50" width="9.06" height="9.00" fill="#b3ff4c"/>
<rect x="39.81" y="39.50" width="9.06" height="9.00" fill="#e5ff1a"/>
<rect x="47.88" y="39.50" width="9.06" height="9.00" fill="#ffe500"/>
<rect x="55.94" y="39.50" width="17.06" height="9.00" fill="#e5ff1a"/>
<rect x="-8.50" y="47.50" width="17.06" height="17.00" fill="#e5ff1a"/>
<rect x="7.56" y="47.50" width="9.06" height="17.00" fill="#e5ff1a"/>
<rect x="15.62" y="47.50" width="9.06" height="17.00" fill="#ffb300"/>
<rect x="23.69" y="47.50" width="9.06" height="17.00" fill="#ffb300"/>
<rect x="31.75" y="47.50" width="9.06" height="17.00" fill="#ffe500"/>
<rect x="39.81" y="47.50" width="9.06" height="17.00" fill="#e5ff1a"/>
<rect x="47.88" y="47.50" width="9.06" height="17.00" fill="#e5ff1a"/>
<rect x="55.94" y="47.50" width="17.06" height="17.00" fill="#e5ff1a"/>
</g>
<defs><filter id="f31" x="-20%" y="-20%" width="140%" height="140%" color-interpolation-filters="sRGB"><feGaussianBlur stdDeviation="1.8" result="b"/><feTurbulence type="fractalNoise" baseFrequency="0.2" numOctaves="2" seed="17" result="n"/><feDisplacementMap in="b" in2="n" scale="8.0" xChannelSelector="R" yChannelSelector="G" result="d"/><feGaussianBlur in="d" stdDeviation="0.5"/></filter></defs>
<path d="M28.2 28.4H35.8M32.0 24.6V32.2" stroke="#1a1208" stroke-width="1.25" fill="none" opacity="0.92"/>
</svg>
<svg x="159" y="209" width="64" height="56" viewBox="0 0 64 56" overflow="hidden">
<rect width="64" height="56" fill="#ff1a00"/>
<g filter="url(#f32)">
<rect x="-8.50" y="-8.50" width="17.00" height="17.00" fill="#ff1a00"/>
<rect x="7.50" y="-8.50" width="9.00" height="17.00" fill="#ff1a00"/>
<rect x="15.50" y="-8.50" width="9.00" height="17.00" fill="#ff4c00"/>
<rect x="23.50" y="-8.50" width="9.00" height="17.00" fill="#ff1a00"/>
<rect x="31.50" y="-8.50" width="9.00" height="17.00" fill="#ff1a00"/>
<rect x="39.50" y="-8.50" width="9.00" height="17.00" fill="#ff1a00"/>
<rect x="47.50" y="-8.50" width="9.00" height="17.00" fill="#ff1a00"/>
<rect x="55.50" y="-8.50" width="17.00" height="17.00" fill="#ff1a00"/>
<rect x="-8.50" y="7.50" width="17.00" height="9.00" fill="#ff1a00"/>
<rect x="7.50" y="7.50" width="9.00" height="9.00" fill="#ff4c00"/>
<rect x="15.50" y="7.50" width="9.00" height="9.00" fill="#ff1a00"/>
<rect x="23.50" y="7.50" width="9.00" height="9.00" fill="#ff1a00"/>
<rect x="31.50" y="7.50" width="9.00" height="9.00" fill="#e50000"/>
<rect x="39.50" y="7.50" width="9.00" height="9.00" fill="#e50000"/>
<rect x="47.50" y="7.50" width="9.00" height="9.00" fill="#ff1a00"/>
<rect x="55.50" y="7.50" width="17.00" height="9.00" fill="#ff1a00"/>
<rect x="-8.50" y="15.50" width="17.00" height="9.00" fill="#ff4c00"/>
<rect x="7.50" y="15.50" width="9.00" height="9.00" fill="#ff1a00"/>
<rect x="15.50" y="15.50" width="9.00" height="9.00" fill="#ff1a00"/>
<rect x="23.50" y="15.50" width="9.00" height="9.00" fill="#ff1a00"/>
<rect x="31.50" y="15.50" width="9.00" height="9.00" fill="#b30000"/>
<rect x="39.50" y="15.50" width="9.00" height="9.00" fill="#e50000"/>
<rect x="47.50" y="15.50" width="9.00" height="9.00" fill="#ff1a00"/>
<rect x="55.50" y="15.50" width="17.00" height="9.00" fill="#ff1a00"/>
<rect x="-8.50" y="23.50" width="17.00" height="9.00" fill="#ff4c00"/>
<rect x="7.50" y="23.50" width="9.00" height="9.00" fill="#ff4c00"/>
<rect x="15.50" y="23.50" width="9.00" height="9.00" fill="#ff1a00"/>
<rect x="23.50" y="23.50" width="9.00" height="9.00" fill="#ff1a00"/>
<rect x="31.50" y="23.50" width="9.00" height="9.00" fill="#ff1a00"/>
<rect x="39.50" y="23.50" width="9.00" height="9.00" fill="#ff1a00"/>
<rect x="47.50" y="23.50" width="9.00" height="9.00" fill="#ff4c00"/>
<rect x="55.50" y="23.50" width="17.00" height="9.00" fill="#ff1a00"/>
<rect x="-8.50" y="31.50" width="17.00" height="9.00" fill="#ff4c00"/>
<rect x="7.50" y="31.50" width="9.00" height="9.00" fill="#ff8000"/>
<rect x="15.50" y="31.50" width="9.00" height="9.00" fill="#ff4c00"/>
<rect x="23.50" y="31.50" width="9.00" height="9.00" fill="#ff1a00"/>
<rect x="31.50" y="31.50" width="9.00" height="9.00" fill="#ff1a00"/>
<rect x="39.50" y="31.50" width="9.00" height="9.00" fill="#ff4c00"/>
<rect x="47.50" y="31.50" width="9.00" height="9.00" fill="#ff1a00"/>
<rect x="55.50" y="31.50" width="17.00" height="9.00" fill="#e50000"/>
<rect x="-8.50" y="39.50" width="17.00" height="9.00" fill="#ff4c00"/>
<rect x="7.50" y="39.50" width="9.00" height="9.00" fill="#ff4c00"/>
<rect x="15.50" y="39.50" width="9.00" height="9.00" fill="#ff1a00"/>
<rect x="23.50" y="39.50" width="9.00" height="9.00" fill="#ff1a00"/>
<rect x="31.50" y="39.50" width="9.00" height="9.00" fill="#ff1a00"/>
<rect x="39.50" y="39.50" width="9.00" height="9.00" fill="#e50000"/>
<rect x="47.50" y="39.50" width="9.00" height="9.00" fill="#b30000"/>
<rect x="55.50" y="39.50" width="17.00" height="9.00" fill="#ff1a00"/>
<rect x="-8.50" y="47.50" width="17.00" height="17.00" fill="#ff1a00"/>
<rect x="7.50" y="47.50" width="9.00" height="17.00" fill="#ff1a00"/>
<rect x="15.50" y="47.50" width="9.00" height="17.00" fill="#e50000"/>
<rect x="23.50" y="47.50" width="9.00" height="17.00" fill="#ff1a00"/>
<rect x="31.50" y="47.50" width="9.00" height="17.00" fill="#e50000"/>
<rect x="39.50" y="47.50" width="9.00" height="17.00" fill="#ff1a00"/>
<rect x="47.50" y="47.50" width="9.00" height="17.00" fill="#b30000"/>
<rect x="55.50" y="47.50" width="17.00" height="17.00" fill="#ff1a00"/>
</g>
<defs><filter id="f32" x="-20%" y="-20%" width="140%" height="140%" color-interpolation-filters="sRGB"><feGaussianBlur stdDeviation="1.8" result="b"/><feTurbulence type="fractalNoise" baseFrequency="0.2" numOctaves="2" seed="18" result="n"/><feDisplacementMap in="b" in2="n" scale="8.0" xChannelSelector="R" yChannelSelector="G" result="d"/><feGaussianBlur in="d" stdDeviation="0.5"/></filter></defs>
<path d="M27.6 28.4H35.2M31.4 24.6V32.2" stroke="#1a1208" stroke-width="1.25" fill="none" opacity="0.92"/>
</svg>
<svg x="223" y="209" width="64" height="56" viewBox="0 0 64 56" overflow="hidden">
<rect width="64" height="56" fill="#ff8000"/>
<g filter="url(#f33)">
<rect x="-8.50" y="-8.50" width="17.00" height="17.00" fill="#ff8000"/>
<rect x="7.50" y="-8.50" width="9.00" height="17.00" fill="#ffb300"/>
<rect x="15.50" y="-8.50" width="9.00" height="17.00" fill="#ffb300"/>
<rect x="23.50" y="-8.50" width="9.00" height="17.00" fill="#ffb300"/>
<rect x="31.50" y="-8.50" width="9.00" height="17.00" fill="#ff8000"/>
<rect x="39.50" y="-8.50" width="9.00" height="17.00" fill="#ffb300"/>
<rect x="47.50" y="-8.50" width="9.00" height="17.00" fill="#ffb300"/>
<rect x="55.50" y="-8.50" width="17.00" height="17.00" fill="#ff4c00"/>
<rect x="-8.50" y="7.50" width="17.00" height="9.00" fill="#ff4c00"/>
<rect x="7.50" y="7.50" width="9.00" height="9.00" fill="#ff4c00"/>
<rect x="15.50" y="7.50" width="9.00" height="9.00" fill="#ff4c00"/>
<rect x="23.50" y="7.50" width="9.00" height="9.00" fill="#ff4c00"/>
<rect x="31.50" y="7.50" width="9.00" height="9.00" fill="#ff4c00"/>
<rect x="39.50" y="7.50" width="9.00" height="9.00" fill="#ff4c00"/>
<rect x="47.50" y="7.50" width="9.00" height="9.00" fill="#ff8000"/>
<rect x="55.50" y="7.50" width="17.00" height="9.00" fill="#ff4c00"/>
<rect x="-8.50" y="15.50" width="17.00" height="9.00" fill="#ffb300"/>
<rect x="7.50" y="15.50" width="9.00" height="9.00" fill="#ffb300"/>
<rect x="15.50" y="15.50" width="9.00" height="9.00" fill="#ffb300"/>
<rect x="23.50" y="15.50" width="9.00" height="9.00" fill="#ffb300"/>
<rect x="31.50" y="15.50" width="9.00" height="9.00" fill="#ffb300"/>
<rect x="39.50" y="15.50" width="9.00" height="9.00" fill="#ffb300"/>
<rect x="47.50" y="15.50" width="9.00" height="9.00" fill="#ffb300"/>
<rect x="55.50" y="15.50" width="17.00" height="9.00" fill="#ff4c00"/>
<rect x="-8.50" y="23.50" width="17.00" height="9.00" fill="#ff8000"/>
<rect x="7.50" y="23.50" width="9.00" height="9.00" fill="#ff4c00"/>
<rect x="15.50" y="23.50" width="9.00" height="9.00" fill="#ffb300"/>
<rect x="23.50" y="23.50" width="9.00" height="9.00" fill="#ffb300"/>
<rect x="31.50" y="23.50" width="9.00" height="9.00" fill="#ffb300"/>
<rect x="39.50" y="23.50" width="9.00" height="9.00" fill="#ffb300"/>
<rect x="47.50" y="23.50" width="9.00" height="9.00" fill="#ff8000"/>
<rect x="55.50" y="23.50" width="17.00" height="9.00" fill="#ffb300"/>
<rect x="-8.50" y="31.50" width="17.00" height="9.00" fill="#ffb300"/>
<rect x="7.50" y="31.50" width="9.00" height="9.00" fill="#ff8000"/>
<rect x="15.50" y="31.50" width="9.00" height="9.00" fill="#ffb300"/>
<rect x="23.50" y="31.50" width="9.00" height="9.00" fill="#ffb300"/>
<rect x="31.50" y="31.50" width="9.00" height="9.00" fill="#ffb300"/>
<rect x="39.50" y="31.50" width="9.00" height="9.00" fill="#ff8000"/>
<rect x="47.50" y="31.50" width="9.00" height="9.00" fill="#ffb300"/>
<rect x="55.50" y="31.50" width="17.00" height="9.00" fill="#ff8000"/>
<rect x="-8.50" y="39.50" width="17.00" height="9.00" fill="#ffb300"/>
<rect x="7.50" y="39.50" width="9.00" height="9.00" fill="#ff8000"/>
<rect x="15.50" y="39.50" width="9.00" height="9.00" fill="#ffb300"/>
<rect x="23.50" y="39.50" width="9.00" height="9.00" fill="#ffb300"/>
<rect x="31.50" y="39.50" width="9.00" height="9.00" fill="#ff8000"/>
<rect x="39.50" y="39.50" width="9.00" height="9.00" fill="#ffb300"/>
<rect x="47.50" y="39.50" width="9.00" height="9.00" fill="#ffb300"/>
<rect x="55.50" y="39.50" width="17.00" height="9.00" fill="#ffb300"/>
<rect x="-8.50" y="47.50" width="17.00" height="17.00" fill="#ffb300"/>
<rect x="7.50" y="47.50" width="9.00" height="17.00" fill="#ff8000"/>
<rect x="15.50" y="47.50" width="9.00" height="17.00" fill="#ff1a00"/>
<rect x="23.50" y="47.50" width="9.00" height="17.00" fill="#ff1a00"/>
<rect x="31.50" y="47.50" width="9.00" height="17.00" fill="#ff4c00"/>
<rect x="39.50" y="47.50" width="9.00" height="17.00" fill="#ffb300"/>
<rect x="47.50" y="47.50" width="9.00" height="17.00" fill="#ffb300"/>
<rect x="55.50" y="47.50" width="17.00" height="17.00" fill="#ffb300"/>
</g>
<defs><filter id="f33" x="-20%" y="-20%" width="140%" height="140%" color-interpolation-filters="sRGB"><feGaussianBlur stdDeviation="1.8" result="b"/><feTurbulence type="fractalNoise" baseFrequency="0.2" numOctaves="2" seed="19" result="n"/><feDisplacementMap in="b" in2="n" scale="8.0" xChannelSelector="R" yChannelSelector="G" result="d"/><feGaussianBlur in="d" stdDeviation="0.5"/></filter></defs>
<defs><filter id="fb33_0" filterUnits="userSpaceOnUse" x="-10" y="-10" width="84" height="76" color-interpolation-filters="sRGB"><feGaussianBlur stdDeviation="1.3"/></filter></defs>
<g filter="url(#fb33_0)">
<ellipse cx="30" cy="53" rx="10" ry="4" fill="#ff3000" opacity="0.85"/>
</g>
<defs><filter id="fb33_1" filterUnits="userSpaceOnUse" x="-10" y="-10" width="84" height="76" color-interpolation-filters="sRGB"><feGaussianBlur stdDeviation="0.45"/></filter></defs>
<g filter="url(#fb33_1)">
<path d="M37 50 L50 33 L57 22 L60 14 L61 0" stroke="#ff5000" stroke-width="1.4" fill="none" opacity="0.8"/>
</g>
<path d="M27.6 28.4H35.2M31.4 24.6V32.2" stroke="#1a1208" stroke-width="1.25" fill="none" opacity="0.92"/>
</svg>
<svg x="287" y="209" width="63" height="56" viewBox="0 0 63 56" overflow="hidden">
<rect width="63" height="56" fill="#ff0000"/>
<g filter="url(#f34)">
<rect x="-8.50" y="-8.50" width="16.88" height="17.00" fill="#ff0000"/>
<rect x="7.38" y="-8.50" width="8.88" height="17.00" fill="#ff0000"/>
<rect x="15.25" y="-8.50" width="8.88" height="17.00" fill="#ff0000"/>
<rect x="23.12" y="-8.50" width="8.88" height="17.00" fill="#ff0000"/>
<rect x="31.00" y="-8.50" width="8.88" height="17.00" fill="#ff0000"/>
<rect x="38.88" y="-8.50" width="8.88" height="17.00" fill="#ff0000"/>
<rect x="46.75" y="-8.50" width="8.88" height="17.00" fill="#ff0000"/>
<rect x="54.62" y="-8.50" width="16.88" height="17.00" fill="#ff0000"/>
<rect x="-8.50" y="7.50" width="16.88" height="9.00" fill="#e50000"/>
<rect x="7.38" y="7.50" width="8.88" height="9.00" fill="#ff0000"/>
<rect x="15.25" y="7.50" width="8.88" height="9.00" fill="#ff0000"/>
<rect x="23.12" y="7.50" width="8.88" height="9.00" fill="#ff0000"/>
<rect x="31.00" y="7.50" width="8.88" height="9.00" fill="#ff0000"/>
<rect x="38.88" y="7.50" width="8.88" height="9.00" fill="#ff0000"/>
<rect x="46.75" y="7.50" width="8.88" height="9.00" fill="#ff0000"/>
<rect x="54.62" y="7.50" width="16.88" height="9.00" fill="#ff0000"/>
<rect x="-8.50" y="15.50" width="16.88" height="9.00" fill="#ff0000"/>
<rect x="7.38" y="15.50" width="8.88" height="9.00" fill="#ff0000"/>
<rect x="15.25" y="15.50" width="8.88" height="9.00" fill="#ff0000"/>
<rect x="23.12" y="15.50" width="8.88" height="9.00" fill="#ff0000"/>
<rect x="31.00" y="15.50" width="8.88" height="9.00" fill="#ff0000"/>
<rect x="38.88" y="15.50" width="8.88" height="9.00" fill="#e50000"/>
<rect x="46.75" y="15.50" width="8.88" height="9.00" fill="#ff0000"/>
<rect x="54.62" y="15.50" width="16.88" height="9.00" fill="#ff0000"/>
<rect x="-8.50" y="23.50" width="16.88" height="9.00" fill="#ff0000"/>
<rect x="7.38" y="23.50" width="8.88" height="9.00" fill="#ff0000"/>
<rect x="15.25" y="23.50" width="8.88" height="9.00" fill="#ff0000"/>
<rect x="23.12" y="23.50" width="8.88" height="9.00" fill="#ff0000"/>
<rect x="31.00" y="23.50" width="8.88" height="9.00" fill="#ff0000"/>
<rect x="38.88" y="23.50" width="8.88" height="9.00" fill="#e50000"/>
<rect x="46.75" y="23.50" width="8.88" height="9.00" fill="#ff0000"/>
<rect x="54.62" y="23.50" width="16.88" height="9.00" fill="#ff0000"/>
<rect x="-8.50" y="31.50" width="16.88" height="9.00" fill="#ff0000"/>
<rect x="7.38" y="31.50" width="8.88" height="9.00" fill="#ff0000"/>
<rect x="15.25" y="31.50" width="8.88" height="9.00" fill="#ff0000"/>
<rect x="23.12" y="31.50" width="8.88" height="9.00" fill="#ff0000"/>
<rect x="31.00" y="31.50" width="8.88" height="9.00" fill="#ff0000"/>
<rect x="38.88" y="31.50" width="8.88" height="9.00" fill="#ff0000"/>
<rect x="46.75" y="31.50" width="8.88" height="9.00" fill="#ff0000"/>
<rect x="54.62" y="31.50" width="16.88" height="9.00" fill="#e50000"/>
<rect x="-8.50" y="39.50" width="16.88" height="9.00" fill="#ff0000"/>
<rect x="7.38" y="39.50" width="8.88" height="9.00" fill="#ff0000"/>
<rect x="15.25" y="39.50" width="8.88" height="9.00" fill="#ff0000"/>
<rect x="23.12" y="39.50" width="8.88" height="9.00" fill="#ff0000"/>
<rect x="31.00" y="39.50" width="8.88" height="9.00" fill="#e50000"/>
<rect x="38.88" y="39.50" width="8.88" height="9.00" fill="#ff0000"/>
<rect x="46.75" y="39.50" width="8.88" height="9.00" fill="#e50000"/>
<rect x="54.62" y="39.50" width="16.88" height="9.00" fill="#ff0000"/>
<rect x="-8.50" y="47.50" width="16.88" height="17.00" fill="#ff0000"/>
<rect x="7.38" y="47.50" width="8.88" height="17.00" fill="#ff0000"/>
<rect x="15.25" y="47.50" width="8.88" height="17.00" fill="#e50000"/>
<rect x="23.12" y="47.50" width="8.88" height="17.00" fill="#ff0000"/>
<rect x="31.00" y="47.50" width="8.88" height="17.00" fill="#ff0000"/>
<rect x="38.88" y="47.50" width="8.88" height="17.00" fill="#ff0000"/>
<rect x="46.75" y="47.50" width="8.88" height="17.00" fill="#ff0000"/>
<rect x="54.62" y="47.50" width="16.88" height="17.00" fill="#ff0000"/>
</g>
<defs><filter id="f34" x="-20%" y="-20%" width="140%" height="140%" color-interpolation-filters="sRGB"><feGaussianBlur stdDeviation="1.8" result="b"/><feTurbulence type="fractalNoise" baseFrequency="0.2" numOctaves="2" seed="20" result="n"/><feDisplacementMap in="b" in2="n" scale="8.0" xChannelSelector="R" yChannelSelector="G" result="d"/><feGaussianBlur in="d" stdDeviation="0.5"/></filter></defs>
<path d="M27.5 28.4H35.1M31.3 24.6V32.2" stroke="#1a1208" stroke-width="1.25" fill="none" opacity="0.92"/>
</svg>
<svg x="30" y="268" width="64.5" height="56" viewBox="0 0 64.5 56" overflow="hidden">
<rect width="64.5" height="56" fill="#e5ff1a"/>
<g filter="url(#f40)">
<rect x="-8.50" y="-8.50" width="17.06" height="17.00" fill="#e5ff1a"/>
<rect x="7.56" y="-8.50" width="9.06" height="17.00" fill="#4dffb2"/>
<rect x="15.62" y="-8.50" width="9.06" height="17.00" fill="#b3ff4c"/>
<rect x="23.69" y="-8.50" width="9.06" height="17.00" fill="#ffe500"/>
<rect x="31.75" y="-8.50" width="9.06" height="17.00" fill="#ffb300"/>
<rect x="39.81" y="-8.50" width="9.06" height="17.00" fill="#ffe500"/>
<rect x="47.88" y="-8.50" width="9.06" height="17.00" fill="#e5ff1a"/>
<rect x="55.94" y="-8.50" width="17.06" height="17.00" fill="#ffe500"/>
<rect x="-8.50" y="7.50" width="17.06" height="9.00" fill="#4dffb2"/>
<rect x="7.56" y="7.50" width="9.06" height="9.00" fill="#e5ff1a"/>
<rect x="15.62" y="7.50" width="9.06" height="9.00" fill="#ffe500"/>
<rect x="23.69" y="7.50" width="9.06" height="9.00" fill="#ffb300"/>
<rect x="31.75" y="7.50" width="9.06" height="9.00" fill="#ff8000"/>
<rect x="39.81" y="7.50" width="9.06" height="9.00" fill="#ffb300"/>
<rect x="47.88" y="7.50" width="9.06" height="9.00" fill="#e5ff1a"/>
<rect x="55.94" y="7.50" width="17.06" height="9.00" fill="#4dffb2"/>
<rect x="-8.50" y="15.50" width="17.06" height="9.00" fill="#ffe500"/>
<rect x="7.56" y="15.50" width="9.06" height="9.00" fill="#e5ff1a"/>
<rect x="15.62" y="15.50" width="9.06" height="9.00" fill="#ffb300"/>
<rect x="23.69" y="15.50" width="9.06" height="9.00" fill="#ff8000"/>
<rect x="31.75" y="15.50" width="9.06" height="9.00" fill="#ffb300"/>
<rect x="39.81" y="15.50" width="9.06" height="9.00" fill="#ffe500"/>
<rect x="47.88" y="15.50" width="9.06" height="9.00" fill="#ffb300"/>
<rect x="55.94" y="15.50" width="17.06" height="9.00" fill="#e5ff1a"/>
<rect x="-8.50" y="23.50" width="17.06" height="9.00" fill="#ffb300"/>
<rect x="7.56" y="23.50" width="9.06" height="9.00" fill="#ff8000"/>
<rect x="15.62" y="23.50" width="9.06" height="9.00" fill="#ff8000"/>
<rect x="23.69" y="23.50" width="9.06" height="9.00" fill="#ffb300"/>
<rect x="31.75" y="23.50" width="9.06" height="9.00" fill="#ffe500"/>
<rect x="39.81" y="23.50" width="9.06" height="9.00" fill="#e5ff1a"/>
<rect x="47.88" y="23.50" width="9.06" height="9.00" fill="#ffb300"/>
<rect x="55.94" y="23.50" width="17.06" height="9.00" fill="#ffe500"/>
<rect x="-8.50" y="31.50" width="17.06" height="9.00" fill="#ffe500"/>
<rect x="7.56" y="31.50" width="9.06" height="9.00" fill="#ffb300"/>
<rect x="15.62" y="31.50" width="9.06" height="9.00" fill="#ffe500"/>
<rect x="23.69" y="31.50" width="9.06" height="9.00" fill="#e5ff1a"/>
<rect x="31.75" y="31.50" width="9.06" height="9.00" fill="#e5ff1a"/>
<rect x="39.81" y="31.50" width="9.06" height="9.00" fill="#ffe500"/>
<rect x="47.88" y="31.50" width="9.06" height="9.00" fill="#ffb300"/>
<rect x="55.94" y="31.50" width="17.06" height="9.00" fill="#ffb300"/>
<rect x="-8.50" y="39.50" width="17.06" height="9.00" fill="#e5ff1a"/>
<rect x="7.56" y="39.50" width="9.06" height="9.00" fill="#4dffb2"/>
<rect x="15.62" y="39.50" width="9.06" height="9.00" fill="#e5ff1a"/>
<rect x="23.69" y="39.50" width="9.06" height="9.00" fill="#e5ff1a"/>
<rect x="31.75" y="39.50" width="9.06" height="9.00" fill="#4dffb2"/>
<rect x="39.81" y="39.50" width="9.06" height="9.00" fill="#e5ff1a"/>
<rect x="47.88" y="39.50" width="9.06" height="9.00" fill="#ffe500"/>
<rect x="55.94" y="39.50" width="17.06" height="9.00" fill="#ffb300"/>
<rect x="-8.50" y="47.50" width="17.06" height="17.00" fill="#e5ff1a"/>
<rect x="7.56" y="47.50" width="9.06" height="17.00" fill="#e5ff1a"/>
<rect x="15.62" y="47.50" width="9.06" height="17.00" fill="#ffe500"/>
<rect x="23.69" y="47.50" width="9.06" height="17.00" fill="#1affe5"/>
<rect x="31.75" y="47.50" width="9.06" height="17.00" fill="#e5ff1a"/>
<rect x="39.81" y="47.50" width="9.06" height="17.00" fill="#4dffb2"/>
<rect x="47.88" y="47.50" width="9.06" height="17.00" fill="#e5ff1a"/>
<rect x="55.94" y="47.50" width="17.06" height="17.00" fill="#ffe500"/>
</g>
<defs><filter id="f40" x="-20%" y="-20%" width="140%" height="140%" color-interpolation-filters="sRGB"><feGaussianBlur stdDeviation="1.8" result="b"/><feTurbulence type="fractalNoise" baseFrequency="0.2" numOctaves="2" seed="21" result="n"/><feDisplacementMap in="b" in2="n" scale="8.0" xChannelSelector="R" yChannelSelector="G" result="d"/><feGaussianBlur in="d" stdDeviation="0.5"/></filter></defs>
<defs><filter id="fb40_0" filterUnits="userSpaceOnUse" x="-10" y="-10" width="84.5" height="76" color-interpolation-filters="sRGB"><feGaussianBlur stdDeviation="0.5"/></filter></defs>
<g filter="url(#fb40_0)">
<circle cx="39.9" cy="41.5" r="1.34" fill="#ffe000" opacity="0.8"/><circle cx="41.7" cy="29.7" r="1.37" fill="#40e0f0" opacity="0.8"/><circle cx="41.5" cy="50.5" r="0.79" fill="#ff8000" opacity="0.8"/><circle cx="55.6" cy="21.3" r="0.78" fill="#40e0f0" opacity="0.8"/><circle cx="0.8" cy="12.1" r="0.92" fill="#ff8000" opacity="0.8"/><circle cx="10.2" cy="44.6" r="0.81" fill="#ffe000" opacity="0.8"/><circle cx="28.5" cy="7.4" r="1.48" fill="#40e0f0" opacity="0.8"/><circle cx="13.4" cy="12.1" r="1.49" fill="#40e0f0" opacity="0.8"/><circle cx="18.5" cy="53.8" r="1.13" fill="#ffe000" opacity="0.8"/><circle cx="40.0" cy="10.2" r="1.47" fill="#40e0f0" opacity="0.8"/><circle cx="61.9" cy="50.0" r="0.94" fill="#ff8000" opacity="0.8"/><circle cx="26.6" cy="52.4" r="0.91" fill="#ff8000" opacity="0.8"/><circle cx="19.3" cy="33.8" r="0.70" fill="#ffe000" opacity="0.8"/><circle cx="45.3" cy="3.7" r="0.98" fill="#ff8000" opacity="0.8"/><circle cx="30.8" cy="17.7" r="1.08" fill="#ffe000" opacity="0.8"/><circle cx="11.3" cy="14.3" r="1.45" fill="#ffe000" opacity="0.8"/><circle cx="22.9" cy="22.6" r="1.14" fill="#ff8000" opacity="0.8"/><circle cx="23.4" cy="32.4" r="0.71" fill="#40e0f0" opacity="0.8"/><circle cx="45.3" cy="34.9" r="1.46" fill="#40e0f0" opacity="0.8"/><circle cx="48.4" cy="52.1" r="1.45" fill="#ff8000" opacity="0.8"/><circle cx="32.8" cy="50.0" r="0.90" fill="#ff8000" opacity="0.8"/><circle cx="6.9" cy="41.9" r="1.34" fill="#ff8000" opacity="0.8"/><circle cx="2.3" cy="53.0" r="0.77" fill="#ff8000" opacity="0.8"/><circle cx="32.8" cy="20.3" r="0.82" fill="#ff8000" opacity="0.8"/><circle cx="59.1" cy="30.5" r="0.95" fill="#ff8000" opacity="0.8"/><circle cx="19.6" cy="44.7" r="1.20" fill="#ffe000" opacity="0.8"/><circle cx="44.1" cy="55.8" r="0.83" fill="#40e0f0" opacity="0.8"/><circle cx="5.2" cy="33.6" r="1.44" fill="#40e0f0" opacity="0.8"/><circle cx="15.2" cy="33.3" r="1.36" fill="#ff8000" opacity="0.8"/><circle cx="41.7" cy="8.2" r="1.48" fill="#ffe000" opacity="0.8"/><circle cx="2.1" cy="27.6" r="1.37" fill="#40e0f0" opacity="0.8"/><circle cx="62.8" cy="31.6" r="0.81" fill="#ff8000" opacity="0.8"/><circle cx="6.8" cy="24.3" r="0.82" fill="#ff8000" opacity="0.8"/><circle cx="18.9" cy="25.4" r="1.50" fill="#40e0f0" opacity="0.8"/><circle cx="62.5" cy="25.4" r="1.09" fill="#ffe000" opacity="0.8"/><circle cx="20.3" cy="15.3" r="1.08" fill="#40e0f0" opacity="0.8"/><circle cx="7.2" cy="46.0" r="1.13" fill="#40e0f0" opacity="0.8"/><circle cx="40.1" cy="28.0" r="0.97" fill="#40e0f0" opacity="0.8"/><circle cx="31.5" cy="28.9" r="1.14" fill="#ffe000" opacity="0.8"/><circle cx="23.1" cy="44.0" r="1.32" fill="#ffe000" opacity="0.8"/><circle cx="37.6" cy="1.9" r="0.94" fill="#ffe000" opacity="0.8"/><circle cx="45.1" cy="15.7" r="1.09" fill="#ffe000" opacity="0.8"/><circle cx="45.8" cy="53.6" r="0.97" fill="#40e0f0" opacity="0.8"/><circle cx="37.2" cy="0.6" r="1.14" fill="#ff8000" opacity="0.8"/><circle cx="20.9" cy="15.3" r="0.93" fill="#ffe000" opacity="0.8"/><circle cx="41.4" cy="44.7" r="0.98" fill="#ffe000" opacity="0.8"/><circle cx="22.1" cy="52.5" r="1.03" fill="#40e0f0" opacity="0.8"/><circle cx="55.7" cy="38.5" r="1.48" fill="#ff8000" opacity="0.8"/><circle cx="33.2" cy="29.6" r="0.83" fill="#ff8000" opacity="0.8"/><circle cx="60.0" cy="26.7" r="1.25" fill="#ffe000" opacity="0.8"/>
</g>
<path d="M28.7 28.4H36.3M32.5 24.6V32.2" stroke="#1a1208" stroke-width="1.25" fill="none" opacity="0.92"/>
</svg>
<svg x="94.5" y="268" width="64.5" height="56" viewBox="0 0 64.5 56" overflow="hidden">
<rect width="64.5" height="56" fill="#1affe5"/>
<g filter="url(#f41)">
<rect x="-8.50" y="-8.50" width="17.06" height="17.00" fill="#1affe5"/>
<rect x="7.56" y="-8.50" width="9.06" height="17.00" fill="#80ff80"/>
<rect x="15.62" y="-8.50" width="9.06" height="17.00" fill="#b3ff4c"/>
<rect x="23.69" y="-8.50" width="9.06" height="17.00" fill="#80ff80"/>
<rect x="31.75" y="-8.50" width="9.06" height="17.00" fill="#4dffb2"/>
<rect x="39.81" y="-8.50" width="9.06" height="17.00" fill="#80ff80"/>
<rect x="47.88" y="-8.50" width="9.06" height="17.00" fill="#80ff80"/>
<rect x="55.94" y="-8.50" width="17.06" height="17.00" fill="#4dffb2"/>
<rect x="-8.50" y="7.50" width="17.06" height="9.00" fill="#001aff"/>
<rect x="7.56" y="7.50" width="9.06" height="9.00" fill="#0080ff"/>
<rect x="15.62" y="7.50" width="9.06" height="9.00" fill="#80ff80"/>
<rect x="23.69" y="7.50" width="9.06" height="9.00" fill="#e5ff1a"/>
<rect x="31.75" y="7.50" width="9.06" height="9.00" fill="#b3ff4c"/>
<rect x="39.81" y="7.50" width="9.06" height="9.00" fill="#e5ff1a"/>
<rect x="47.88" y="7.50" width="9.06" height="9.00" fill="#ffb300"/>
<rect x="55.94" y="7.50" width="17.06" height="9.00" fill="#4dffb2"/>
<rect x="-8.50" y="15.50" width="17.06" height="9.00" fill="#00e5ff"/>
<rect x="7.56" y="15.50" width="9.06" height="9.00" fill="#80ff80"/>
<rect x="15.62" y="15.50" width="9.06" height="9.00" fill="#e5ff1a"/>
<rect x="23.69" y="15.50" width="9.06" height="9.00" fill="#e5ff1a"/>
<rect x="31.75" y="15.50" width="9.06" height="9.00" fill="#80ff80"/>
<rect x="39.81" y="15.50" width="9.06" height="9.00" fill="#80ff80"/>
<rect x="47.88" y="15.50" width="9.06" height="9.00" fill="#e5ff1a"/>
<rect x="55.94" y="15.50" width="17.06" height="9.00" fill="#80ff80"/>
<rect x="-8.50" y="23.50" width="17.06" height="9.00" fill="#e5ff1a"/>
<rect x="7.56" y="23.50" width="9.06" height="9.00" fill="#ffe500"/>
<rect x="15.62" y="23.50" width="9.06" height="9.00" fill="#e5ff1a"/>
<rect x="23.69" y="23.50" width="9.06" height="9.00" fill="#0080ff"/>
<rect x="31.75" y="23.50" width="9.06" height="9.00" fill="#4dffb2"/>
<rect x="39.81" y="23.50" width="9.06" height="9.00" fill="#1affe5"/>
<rect x="47.88" y="23.50" width="9.06" height="9.00" fill="#80ff80"/>
<rect x="55.94" y="23.50" width="17.06" height="9.00" fill="#4dffb2"/>
<rect x="-8.50" y="31.50" width="17.06" height="9.00" fill="#80ff80"/>
<rect x="7.56" y="31.50" width="9.06" height="9.00" fill="#e5ff1a"/>
<rect x="15.62" y="31.50" width="9.06" height="9.00" fill="#80ff80"/>
<rect x="23.69" y="31.50" width="9.06" height="9.00" fill="#80ff80"/>
<rect x="31.75" y="31.50" width="9.06" height="9.00" fill="#4dffb2"/>
<rect x="39.81" y="31.50" width="9.06" height="9.00" fill="#80ff80"/>
<rect x="47.88" y="31.50" width="9.06" height="9.00" fill="#4dffb2"/>
<rect x="55.94" y="31.50" width="17.06" height="9.00" fill="#80ff80"/>
<rect x="-8.50" y="39.50" width="17.06" height="9.00" fill="#4dffb2"/>
<rect x="7.56" y="39.50" width="9.06" height="9.00" fill="#80ff80"/>
<rect x="15.62" y="39.50" width="9.06" height="9.00" fill="#e5ff1a"/>
<rect x="23.69" y="39.50" width="9.06" height="9.00" fill="#4dffb2"/>
<rect x="31.75" y="39.50" width="9.06" height="9.00" fill="#4dffb2"/>
<rect x="39.81" y="39.50" width="9.06" height="9.00" fill="#1affe5"/>
<rect x="47.88" y="39.50" width="9.06" height="9.00" fill="#4dffb2"/>
<rect x="55.94" y="39.50" width="17.06" height="9.00" fill="#00e5ff"/>
<rect x="-8.50" y="47.50" width="17.06" height="17.00" fill="#4dffb2"/>
<rect x="7.56" y="47.50" width="9.06" height="17.00" fill="#80ff80"/>
<rect x="15.62" y="47.50" width="9.06" height="17.00" fill="#4dffb2"/>
<rect x="23.69" y="47.50" width="9.06" height="17.00" fill="#80ff80"/>
<rect x="31.75" y="47.50" width="9.06" height="17.00" fill="#1affe5"/>
<rect x="39.81" y="47.50" width="9.06" height="17.00" fill="#004dff"/>
<rect x="47.88" y="47.50" width="9.06" height="17.00" fill="#001aff"/>
<rect x="55.94" y="47.50" width="17.06" height="17.00" fill="#00b2ff"/>
</g>
<defs><filter id="f41" x="-20%" y="-20%" width="140%" height="140%" color-interpolation-filters="sRGB"><feGaussianBlur stdDeviation="1.8" result="b"/><feTurbulence type="fractalNoise" baseFrequency="0.2" numOctaves="2" seed="22" result="n"/><feDisplacementMap in="b" in2="n" scale="8.0" xChannelSelector="R" yChannelSelector="G" result="d"/><feGaussianBlur in="d" stdDeviation="0.5"/></filter></defs>
<defs><filter id="fb41_0" filterUnits="userSpaceOnUse" x="-10" y="-10" width="84.5" height="76" color-interpolation-filters="sRGB"><feGaussianBlur stdDeviation="0.5"/></filter></defs>
<g filter="url(#fb41_0)">
<circle cx="50.8" cy="46.0" r="0.94" fill="#40e8e8" opacity="0.8"/><circle cx="2.4" cy="8.2" r="1.01" fill="#40e8e8" opacity="0.8"/><circle cx="20.4" cy="1.2" r="0.94" fill="#2060f0" opacity="0.8"/><circle cx="46.7" cy="23.2" r="0.98" fill="#ffe000" opacity="0.8"/><circle cx="12.4" cy="31.0" r="1.16" fill="#40e8e8" opacity="0.8"/><circle cx="42.4" cy="34.2" r="0.66" fill="#ff9000" opacity="0.8"/><circle cx="21.5" cy="5.2" r="1.16" fill="#40e8e8" opacity="0.8"/><circle cx="28.5" cy="5.3" r="0.74" fill="#40e8e8" opacity="0.8"/><circle cx="6.2" cy="2.6" r="1.23" fill="#40e8e8" opacity="0.8"/><circle cx="31.1" cy="46.6" r="0.74" fill="#ffe000" opacity="0.8"/><circle cx="40.5" cy="13.7" r="0.90" fill="#40e8e8" opacity="0.8"/><circle cx="37.7" cy="5.0" r="1.22" fill="#2060f0" opacity="0.8"/><circle cx="7.5" cy="37.1" r="0.82" fill="#2060f0" opacity="0.8"/><circle cx="24.3" cy="12.5" r="1.02" fill="#ffe000" opacity="0.8"/><circle cx="12.1" cy="9.5" r="1.05" fill="#40e8e8" opacity="0.8"/><circle cx="24.0" cy="29.5" r="0.80" fill="#ff9000" opacity="0.8"/><circle cx="3.4" cy="23.7" r="1.12" fill="#ff9000" opacity="0.8"/><circle cx="6.1" cy="24.7" r="1.16" fill="#ffe000" opacity="0.8"/><circle cx="57.1" cy="37.5" r="1.22" fill="#ff9000" opacity="0.8"/><circle cx="50.2" cy="21.3" r="0.65" fill="#ff9000" opacity="0.8"/><circle cx="30.1" cy="39.5" r="0.89" fill="#ffe000" opacity="0.8"/><circle cx="12.3" cy="38.1" r="0.92" fill="#2060f0" opacity="0.8"/><circle cx="1.2" cy="30.1" r="0.78" fill="#40e8e8" opacity="0.8"/><circle cx="12.0" cy="28.2" r="0.83" fill="#40e8e8" opacity="0.8"/><circle cx="62.8" cy="51.9" r="0.90" fill="#ff9000" opacity="0.8"/><circle cx="17.1" cy="26.6" r="0.93" fill="#2060f0" opacity="0.8"/><circle cx="46.2" cy="27.8" r="1.04" fill="#ff9000" opacity="0.8"/><circle cx="20.7" cy="36.9" r="1.28" fill="#ff9000" opacity="0.8"/><circle cx="44.4" cy="14.9" r="1.05" fill="#ff9000" opacity="0.8"/><circle cx="46.7" cy="8.9" r="1.18" fill="#ffe000" opacity="0.8"/><circle cx="39.9" cy="54.0" r="0.73" fill="#ffe000" opacity="0.8"/><circle cx="43.7" cy="20.8" r="1.29" fill="#ff9000" opacity="0.8"/><circle cx="54.6" cy="3.5" r="0.73" fill="#40e8e8" opacity="0.8"/><circle cx="39.3" cy="23.6" r="1.15" fill="#ff9000" opacity="0.8"/><circle cx="4.9" cy="13.0" r="0.86" fill="#2060f0" opacity="0.8"/><circle cx="43.6" cy="13.6" r="0.82" fill="#ffe000" opacity="0.8"/><circle cx="40.2" cy="5.5" r="0.67" fill="#ff9000" opacity="0.8"/><circle cx="29.6" cy="50.4" r="1.04" fill="#2060f0" opacity="0.8"/><circle cx="39.5" cy="51.8" r="0.71" fill="#40e8e8" opacity="0.8"/><circle cx="58.1" cy="50.0" r="0.92" fill="#ffe000" opacity="0.8"/><circle cx="50.6" cy="7.7" r="1.26" fill="#ff9000" opacity="0.8"/><circle cx="30.7" cy="24.6" r="0.99" fill="#ff9000" opacity="0.8"/><circle cx="45.6" cy="3.6" r="1.16" fill="#40e8e8" opacity="0.8"/><circle cx="18.3" cy="52.6" r="0.66" fill="#40e8e8" opacity="0.8"/><circle cx="17.9" cy="54.1" r="0.90" fill="#40e8e8" opacity="0.8"/><circle cx="2.0" cy="4.8" r="1.17" fill="#2060f0" opacity="0.8"/><circle cx="34.3" cy="1.8" r="0.72" fill="#40e8e8" opacity="0.8"/><circle cx="2.0" cy="53.3" r="1.12" fill="#2060f0" opacity="0.8"/><circle cx="44.8" cy="19.2" r="0.65" fill="#ffe000" opacity="0.8"/><circle cx="25.6" cy="7.6" r="1.12" fill="#ffe000" opacity="0.8"/>
</g>
<path d="M28.2 28.4H35.8M32.0 24.6V32.2" stroke="#1a1208" stroke-width="1.25" fill="none" opacity="0.92"/>
</svg>
<svg x="159" y="268" width="64" height="56" viewBox="0 0 64 56" overflow="hidden">
<rect width="64" height="56" fill="#ff1a00"/>
<g filter="url(#f42)">
<rect x="-8.50" y="-8.50" width="17.00" height="17.00" fill="#ff1a00"/>
<rect x="7.50" y="-8.50" width="9.00" height="17.00" fill="#ff1a00"/>
<rect x="15.50" y="-8.50" width="9.00" height="17.00" fill="#ff1a00"/>
<rect x="23.50" y="-8.50" width="9.00" height="17.00" fill="#ff1a00"/>
<rect x="31.50" y="-8.50" width="9.00" height="17.00" fill="#ff1a00"/>
<rect x="39.50" y="-8.50" width="9.00" height="17.00" fill="#ff1a00"/>
<rect x="47.50" y="-8.50" width="9.00" height="17.00" fill="#ff1a00"/>
<rect x="55.50" y="-8.50" width="17.00" height="17.00" fill="#ff1a00"/>
<rect x="-8.50" y="7.50" width="17.00" height="9.00" fill="#ff1a00"/>
<rect x="7.50" y="7.50" width="9.00" height="9.00" fill="#ff1a00"/>
<rect x="15.50" y="7.50" width="9.00" height="9.00" fill="#ff1a00"/>
<rect x="23.50" y="7.50" width="9.00" height="9.00" fill="#ff1a00"/>
<rect x="31.50" y="7.50" width="9.00" height="9.00" fill="#ff1a00"/>
<rect x="39.50" y="7.50" width="9.00" height="9.00" fill="#ff1a00"/>
<rect x="47.50" y="7.50" width="9.00" height="9.00" fill="#ff1a00"/>
<rect x="55.50" y="7.50" width="17.00" height="9.00" fill="#ff1a00"/>
<rect x="-8.50" y="15.50" width="17.00" height="9.00" fill="#ff1a00"/>
<rect x="7.50" y="15.50" width="9.00" height="9.00" fill="#ff1a00"/>
<rect x="15.50" y="15.50" width="9.00" height="9.00" fill="#ff1a00"/>
<rect x="23.50" y="15.50" width="9.00" height="9.00" fill="#ff1a00"/>
<rect x="31.50" y="15.50" width="9.00" height="9.00" fill="#ff1a00"/>
<rect x="39.50" y="15.50" width="9.00" height="9.00" fill="#ff1a00"/>
<rect x="47.50" y="15.50" width="9.00" height="9.00" fill="#ff1a00"/>
<rect x="55.50" y="15.50" width="17.00" height="9.00" fill="#ff1a00"/>
<rect x="-8.50" y="23.50" width="17.00" height="9.00" fill="#ff1a00"/>
<rect x="7.50" y="23.50" width="9.00" height="9.00" fill="#ff1a00"/>
<rect x="15.50" y="23.50" width="9.00" height="9.00" fill="#ff1a00"/>
<rect x="23.50" y="23.50" width="9.00" height="9.00" fill="#ff1a00"/>
<rect x="31.50" y="23.50" width="9.00" height="9.00" fill="#ff1a00"/>
<rect x="39.50" y="23.50" width="9.00" height="9.00" fill="#ff1a00"/>
<rect x="47.50" y="23.50" width="9.00" height="9.00" fill="#ff1a00"/>
<rect x="55.50" y="23.50" width="17.00" height="9.00" fill="#ff1a00"/>
<rect x="-8.50" y="31.50" width="17.00" height="9.00" fill="#ff1a00"/>
<rect x="7.50" y="31.50" width="9.00" height="9.00" fill="#ff1a00"/>
<rect x="15.50" y="31.50" width="9.00" height="9.00" fill="#ff1a00"/>
<rect x="23.50" y="31.50" width="9.00" height="9.00" fill="#ff1a00"/>
<rect x="31.50" y="31.50" width="9.00" height="9.00" fill="#ff1a00"/>
<rect x="39.50" y="31.50" width="9.00" height="9.00" fill="#ff1a00"/>
<rect x="47.50" y="31.50" width="9.00" height="9.00" fill="#ff1a00"/>
<rect x="55.50" y="31.50" width="17.00" height="9.00" fill="#ff1a00"/>
<rect x="-8.50" y="39.50" width="17.00" height="9.00" fill="#ff1a00"/>
<rect x="7.50" y="39.50" width="9.00" height="9.00" fill="#ff1a00"/>
<rect x="15.50" y="39.50" width="9.00" height="9.00" fill="#ff1a00"/>
<rect x="23.50" y="39.50" width="9.00" height="9.00" fill="#ff1a00"/>
<rect x="31.50" y="39.50" width="9.00" height="9.00" fill="#ff1a00"/>
<rect x="39.50" y="39.50" width="9.00" height="9.00" fill="#ff1a00"/>
<rect x="47.50" y="39.50" width="9.00" height="9.00" fill="#ff1a00"/>
<rect x="55.50" y="39.50" width="17.00" height="9.00" fill="#ff1a00"/>
<rect x="-8.50" y="47.50" width="17.00" height="17.00" fill="#ff1a00"/>
<rect x="7.50" y="47.50" width="9.00" height="17.00" fill="#ff1a00"/>
<rect x="15.50" y="47.50" width="9.00" height="17.00" fill="#ff1a00"/>
<rect x="23.50" y="47.50" width="9.00" height="17.00" fill="#ff1a00"/>
<rect x="31.50" y="47.50" width="9.00" height="17.00" fill="#ff1a00"/>
<rect x="39.50" y="47.50" width="9.00" height="17.00" fill="#ff1a00"/>
<rect x="47.50" y="47.50" width="9.00" height="17.00" fill="#ff1a00"/>
<rect x="55.50" y="47.50" width="17.00" height="17.00" fill="#ff1a00"/>
</g>
<defs><filter id="f42" x="-20%" y="-20%" width="140%" height="140%" color-interpolation-filters="sRGB"><feGaussianBlur stdDeviation="1.8" result="b"/><feTurbulence type="fractalNoise" baseFrequency="0.2" numOctaves="2" seed="23" result="n"/><feDisplacementMap in="b" in2="n" scale="8.0" xChannelSelector="R" yChannelSelector="G" result="d"/><feGaussianBlur in="d" stdDeviation="0.5"/></filter></defs>
<defs><filter id="fb42_0" filterUnits="userSpaceOnUse" x="-10" y="-10" width="84" height="76" color-interpolation-filters="sRGB"><feGaussianBlur stdDeviation="0.45"/></filter></defs>
<g filter="url(#fb42_0)">
<line x1="18.5" y1="1.7" x2="21" y2="1.9" stroke="#1818e8" stroke-width="1.04" stroke-linecap="round"/>
<line x1="48" y1="1.1" x2="50.8" y2="1.2" stroke="#1818e8" stroke-width="0.88" stroke-linecap="round"/>
<line x1="38.3" y1="4.8" x2="48.5" y2="5.8" stroke="#1818e8" stroke-width="1.76" stroke-linecap="round"/>
<line x1="33" y1="8.6" x2="41" y2="8.9" stroke="#1818e8" stroke-width="1.28" stroke-linecap="round"/>
<line x1="18" y1="15.7" x2="25.2" y2="16.0" stroke="#1818e8" stroke-width="1.12" stroke-linecap="round"/>
<line x1="27.2" y1="17.2" x2="36.3" y2="17.5" stroke="#1818e8" stroke-width="1.20" stroke-linecap="round"/>
<line x1="2.2" y1="18.6" x2="7.6" y2="18.7" stroke="#1818e8" stroke-width="1.04" stroke-linecap="round"/>
<line x1="15.6" y1="20.4" x2="35.6" y2="21.8" stroke="#1818e8" stroke-width="2.40" stroke-linecap="round"/>
<line x1="17.4" y1="25.0" x2="20.5" y2="25.0" stroke="#1818e8" stroke-width="1.28" stroke-linecap="round"/>
<line x1="44.7" y1="24.5" x2="49.5" y2="24.7" stroke="#1818e8" stroke-width="1.52" stroke-linecap="round"/>
<line x1="58.6" y1="26.4" x2="63.8" y2="26.5" stroke="#1818e8" stroke-width="1.52" stroke-linecap="round"/>
<line x1="12.6" y1="29.4" x2="15.3" y2="29.5" stroke="#1818e8" stroke-width="0.96" stroke-linecap="round"/>
<line x1="57.6" y1="30.4" x2="59.6" y2="30.5" stroke="#1818e8" stroke-width="1.12" stroke-linecap="round"/>
<line x1="44.2" y1="38.1" x2="47.2" y2="38.2" stroke="#1818e8" stroke-width="1.04" stroke-linecap="round"/>
</g>
<path d="M27.6 28.4H35.2M31.4 24.6V32.2" stroke="#1a1208" stroke-width="1.25" fill="none" opacity="0.92"/>
</svg>
<svg x="223" y="268" width="64" height="56" viewBox="0 0 64 56" overflow="hidden">
<rect width="64" height="56" fill="#00b2ff"/>
<g filter="url(#f43)">
<rect x="-8.50" y="-8.50" width="17.00" height="17.00" fill="#00b2ff"/>
<rect x="7.50" y="-8.50" width="9.00" height="17.00" fill="#00b2ff"/>
<rect x="15.50" y="-8.50" width="9.00" height="17.00" fill="#0080ff"/>
<rect x="23.50" y="-8.50" width="9.00" height="17.00" fill="#0080ff"/>
<rect x="31.50" y="-8.50" width="9.00" height="17.00" fill="#0080ff"/>
<rect x="39.50" y="-8.50" width="9.00" height="17.00" fill="#0080ff"/>
<rect x="47.50" y="-8.50" width="9.00" height="17.00" fill="#0080ff"/>
<rect x="55.50" y="-8.50" width="17.00" height="17.00" fill="#00b2ff"/>
<rect x="-8.50" y="7.50" width="17.00" height="9.00" fill="#00b2ff"/>
<rect x="7.50" y="7.50" width="9.00" height="9.00" fill="#0080ff"/>
<rect x="15.50" y="7.50" width="9.00" height="9.00" fill="#0080ff"/>
<rect x="23.50" y="7.50" width="9.00" height="9.00" fill="#0080ff"/>
<rect x="31.50" y="7.50" width="9.00" height="9.00" fill="#004dff"/>
<rect x="39.50" y="7.50" width="9.00" height="9.00" fill="#004dff"/>
<rect x="47.50" y="7.50" width="9.00" height="9.00" fill="#0080ff"/>
<rect x="55.50" y="7.50" width="17.00" height="9.00" fill="#0080ff"/>
<rect x="-8.50" y="15.50" width="17.00" height="9.00" fill="#0080ff"/>
<rect x="7.50" y="15.50" width="9.00" height="9.00" fill="#0080ff"/>
<rect x="15.50" y="15.50" width="9.00" height="9.00" fill="#004dff"/>
<rect x="23.50" y="15.50" width="9.00" height="9.00" fill="#004dff"/>
<rect x="31.50" y="15.50" width="9.00" height="9.00" fill="#0080ff"/>
<rect x="39.50" y="15.50" width="9.00" height="9.00" fill="#0080ff"/>
<rect x="47.50" y="15.50" width="9.00" height="9.00" fill="#0080ff"/>
<rect x="55.50" y="15.50" width="17.00" height="9.00" fill="#0080ff"/>
<rect x="-8.50" y="23.50" width="17.00" height="9.00" fill="#0080ff"/>
<rect x="7.50" y="23.50" width="9.00" height="9.00" fill="#004dff"/>
<rect x="15.50" y="23.50" width="9.00" height="9.00" fill="#0080ff"/>
<rect x="23.50" y="23.50" width="9.00" height="9.00" fill="#00b2ff"/>
<rect x="31.50" y="23.50" width="9.00" height="9.00" fill="#0080ff"/>
<rect x="39.50" y="23.50" width="9.00" height="9.00" fill="#0080ff"/>
<rect x="47.50" y="23.50" width="9.00" height="9.00" fill="#004dff"/>
<rect x="55.50" y="23.50" width="17.00" height="9.00" fill="#0080ff"/>
<rect x="-8.50" y="31.50" width="17.00" height="9.00" fill="#0080ff"/>
<rect x="7.50" y="31.50" width="9.00" height="9.00" fill="#0080ff"/>
<rect x="15.50" y="31.50" width="9.00" height="9.00" fill="#0080ff"/>
<rect x="23.50" y="31.50" width="9.00" height="9.00" fill="#00b2ff"/>
<rect x="31.50" y="31.50" width="9.00" height="9.00" fill="#0080ff"/>
<rect x="39.50" y="31.50" width="9.00" height="9.00" fill="#0080ff"/>
<rect x="47.50" y="31.50" width="9.00" height="9.00" fill="#0080ff"/>
<rect x="55.50" y="31.50" width="17.00" height="9.00" fill="#0080ff"/>
<rect x="-8.50" y="39.50" width="17.00" height="9.00" fill="#0080ff"/>
<rect x="7.50" y="39.50" width="9.00" height="9.00" fill="#0080ff"/>
<rect x="15.50" y="39.50" width="9.00" height="9.00" fill="#00b2ff"/>
<rect x="23.50" y="39.50" width="9.00" height="9.00" fill="#0080ff"/>
<rect x="31.50" y="39.50" width="9.00" height="9.00" fill="#0080ff"/>
<rect x="39.50" y="39.50" width="9.00" height="9.00" fill="#0080ff"/>
<rect x="47.50" y="39.50" width="9.00" height="9.00" fill="#0080ff"/>
<rect x="55.50" y="39.50" width="17.00" height="9.00" fill="#00b2ff"/>
<rect x="-8.50" y="47.50" width="17.00" height="17.00" fill="#00b2ff"/>
<rect x="7.50" y="47.50" width="9.00" height="17.00" fill="#0080ff"/>
<rect x="15.50" y="47.50" width="9.00" height="17.00" fill="#0080ff"/>
<rect x="23.50" y="47.50" width="9.00" height="17.00" fill="#0080ff"/>
<rect x="31.50" y="47.50" width="9.00" height="17.00" fill="#0080ff"/>
<rect x="39.50" y="47.50" width="9.00" height="17.00" fill="#00b2ff"/>
<rect x="47.50" y="47.50" width="9.00" height="17.00" fill="#00b2ff"/>
<rect x="55.50" y="47.50" width="17.00" height="17.00" fill="#00b2ff"/>
</g>
<defs><filter id="f43" x="-20%" y="-20%" width="140%" height="140%" color-interpolation-filters="sRGB"><feGaussianBlur stdDeviation="1.8" result="b"/><feTurbulence type="fractalNoise" baseFrequency="0.2" numOctaves="2" seed="24" result="n"/><feDisplacementMap in="b" in2="n" scale="8.0" xChannelSelector="R" yChannelSelector="G" result="d"/><feGaussianBlur in="d" stdDeviation="0.5"/></filter></defs>
<path d="M27.6 28.4H35.2M31.4 24.6V32.2" stroke="#1a1208" stroke-width="1.25" fill="none" opacity="0.92"/>
</svg>
<svg x="287" y="268" width="63" height="56" viewBox="0 0 63 56" overflow="hidden">
<rect width="63" height="56" fill="#1affe5"/>
<g filter="url(#f44)">
<rect x="-8.50" y="-8.50" width="16.88" height="17.00" fill="#1affe5"/>
<rect x="7.38" y="-8.50" width="8.88" height="17.00" fill="#4dffb2"/>
<rect x="15.25" y="-8.50" width="8.88" height="17.00" fill="#80ff80"/>
<rect x="23.12" y="-8.50" width="8.88" height="17.00" fill="#4dffb2"/>
<rect x="31.00" y="-8.50" width="8.88" height="17.00" fill="#80ff80"/>
<rect x="38.88" y="-8.50" width="8.88" height="17.00" fill="#b3ff4c"/>
<rect x="46.75" y="-8.50" width="8.88" height="17.00" fill="#4dffb2"/>
<rect x="54.62" y="-8.50" width="16.88" height="17.00" fill="#1affe5"/>
<rect x="-8.50" y="7.50" width="16.88" height="9.00" fill="#4dffb2"/>
<rect x="7.38" y="7.50" width="8.88" height="9.00" fill="#80ff80"/>
<rect x="15.25" y="7.50" width="8.88" height="9.00" fill="#4dffb2"/>
<rect x="23.12" y="7.50" width="8.88" height="9.00" fill="#4dffb2"/>
<rect x="31.00" y="7.50" width="8.88" height="9.00" fill="#80ff80"/>
<rect x="38.88" y="7.50" width="8.88" height="9.00" fill="#00b2ff"/>
<rect x="46.75" y="7.50" width="8.88" height="9.00" fill="#00b2ff"/>
<rect x="54.62" y="7.50" width="16.88" height="9.00" fill="#4dffb2"/>
<rect x="-8.50" y="15.50" width="16.88" height="9.00" fill="#0080ff"/>
<rect x="7.38" y="15.50" width="8.88" height="9.00" fill="#4dffb2"/>
<rect x="15.25" y="15.50" width="8.88" height="9.00" fill="#80ff80"/>
<rect x="23.12" y="15.50" width="8.88" height="9.00" fill="#4dffb2"/>
<rect x="31.00" y="15.50" width="8.88" height="9.00" fill="#80ff80"/>
<rect x="38.88" y="15.50" width="8.88" height="9.00" fill="#4dffb2"/>
<rect x="46.75" y="15.50" width="8.88" height="9.00" fill="#1affe5"/>
<rect x="54.62" y="15.50" width="16.88" height="9.00" fill="#4dffb2"/>
<rect x="-8.50" y="23.50" width="16.88" height="9.00" fill="#4dffb2"/>
<rect x="7.38" y="23.50" width="8.88" height="9.00" fill="#00b2ff"/>
<rect x="15.25" y="23.50" width="8.88" height="9.00" fill="#4dffb2"/>
<rect x="23.12" y="23.50" width="8.88" height="9.00" fill="#1affe5"/>
<rect x="31.00" y="23.50" width="8.88" height="9.00" fill="#80ff80"/>
<rect x="38.88" y="23.50" width="8.88" height="9.00" fill="#4dffb2"/>
<rect x="46.75" y="23.50" width="8.88" height="9.00" fill="#4dffb2"/>
<rect x="54.62" y="23.50" width="16.88" height="9.00" fill="#1affe5"/>
<rect x="-8.50" y="31.50" width="16.88" height="9.00" fill="#4dffb2"/>
<rect x="7.38" y="31.50" width="8.88" height="9.00" fill="#00b2ff"/>
<rect x="15.25" y="31.50" width="8.88" height="9.00" fill="#80ff80"/>
<rect x="23.12" y="31.50" width="8.88" height="9.00" fill="#00b2ff"/>
<rect x="31.00" y="31.50" width="8.88" height="9.00" fill="#80ff80"/>
<rect x="38.88" y="31.50" width="8.88" height="9.00" fill="#4dffb2"/>
<rect x="46.75" y="31.50" width="8.88" height="9.00" fill="#1affe5"/>
<rect x="54.62" y="31.50" width="16.88" height="9.00" fill="#4dffb2"/>
<rect x="-8.50" y="39.50" width="16.88" height="9.00" fill="#4dffb2"/>
<rect x="7.38" y="39.50" width="8.88" height="9.00" fill="#1affe5"/>
<rect x="15.25" y="39.50" width="8.88" height="9.00" fill="#80ff80"/>
<rect x="23.12" y="39.50" width="8.88" height="9.00" fill="#1affe5"/>
<rect x="31.00" y="39.50" width="8.88" height="9.00" fill="#00b2ff"/>
<rect x="38.88" y="39.50" width="8.88" height="9.00" fill="#4dffb2"/>
<rect x="46.75" y="39.50" width="8.88" height="9.00" fill="#4dffb2"/>
<rect x="54.62" y="39.50" width="16.88" height="9.00" fill="#80ff80"/>
<rect x="-8.50" y="47.50" width="16.88" height="17.00" fill="#4dffb2"/>
<rect x="7.38" y="47.50" width="8.88" height="17.00" fill="#00b2ff"/>
<rect x="15.25" y="47.50" width="8.88" height="17.00" fill="#80ff80"/>
<rect x="23.12" y="47.50" width="8.88" height="17.00" fill="#4dffb2"/>
<rect x="31.00" y="47.50" width="8.88" height="17.00" fill="#80ff80"/>
<rect x="38.88" y="47.50" width="8.88" height="17.00" fill="#80ff80"/>
<rect x="46.75" y="47.50" width="8.88" height="17.00" fill="#b3ff4c"/>
<rect x="54.62" y="47.50" width="16.88" height="17.00" fill="#80ff80"/>
</g>
<defs><filter id="f44" x="-20%" y="-20%" width="140%" height="140%" color-interpolation-filters="sRGB"><feGaussianBlur stdDeviation="1.8" result="b"/><feTurbulence type="fractalNoise" baseFrequency="0.2" numOctaves="2" seed="25" result="n"/><feDisplacementMap in="b" in2="n" scale="8.0" xChannelSelector="R" yChannelSelector="G" result="d"/><feGaussianBlur in="d" stdDeviation="0.5"/></filter></defs>
<defs><filter id="fb44_0" filterUnits="userSpaceOnUse" x="-10" y="-10" width="83" height="76" color-interpolation-filters="sRGB"><feGaussianBlur stdDeviation="0.8"/></filter></defs>
<g filter="url(#fb44_0)">
<ellipse cx="51" cy="9.5" rx="3.5" ry="2" fill="#1020d8"/>
</g>
<defs><filter id="fb44_1" filterUnits="userSpaceOnUse" x="-10" y="-10" width="83" height="76" color-interpolation-filters="sRGB"><feGaussianBlur stdDeviation="0.5"/></filter></defs>
<g filter="url(#fb44_1)">
<circle cx="24.4" cy="12.9" r="0.73" fill="#20c0f0" opacity="0.8"/><circle cx="37.0" cy="38.6" r="1.04" fill="#20c0f0" opacity="0.8"/><circle cx="54.5" cy="42.7" r="0.61" fill="#40e8f0" opacity="0.8"/><circle cx="42.3" cy="47.0" r="0.95" fill="#40e8f0" opacity="0.8"/><circle cx="63.1" cy="54.9" r="0.86" fill="#c0ff50" opacity="0.8"/><circle cx="41.9" cy="34.8" r="0.65" fill="#e8ff30" opacity="0.8"/><circle cx="27.7" cy="15.8" r="1.19" fill="#e8ff30" opacity="0.8"/><circle cx="46.5" cy="41.0" r="0.70" fill="#e8ff30" opacity="0.8"/><circle cx="7.9" cy="51.1" r="1.15" fill="#40e8f0" opacity="0.8"/><circle cx="3.4" cy="17.8" r="1.10" fill="#40e8f0" opacity="0.8"/><circle cx="27.8" cy="44.6" r="0.65" fill="#20c0f0" opacity="0.8"/><circle cx="9.3" cy="37.4" r="0.93" fill="#20c0f0" opacity="0.8"/><circle cx="55.0" cy="12.9" r="0.67" fill="#e8ff30" opacity="0.8"/><circle cx="29.3" cy="40.8" r="0.94" fill="#c0ff50" opacity="0.8"/><circle cx="34.5" cy="49.3" r="1.12" fill="#c0ff50" opacity="0.8"/><circle cx="11.3" cy="45.2" r="1.17" fill="#e8ff30" opacity="0.8"/><circle cx="63.1" cy="39.5" r="1.32" fill="#20c0f0" opacity="0.8"/><circle cx="41.9" cy="42.0" r="1.09" fill="#20c0f0" opacity="0.8"/><circle cx="38.5" cy="5.6" r="1.36" fill="#40e8f0" opacity="0.8"/><circle cx="28.0" cy="41.1" r="1.14" fill="#20c0f0" opacity="0.8"/><circle cx="50.5" cy="4.6" r="1.13" fill="#40e8f0" opacity="0.8"/><circle cx="59.5" cy="13.9" r="0.90" fill="#c0ff50" opacity="0.8"/><circle cx="51.7" cy="34.9" r="1.23" fill="#c0ff50" opacity="0.8"/><circle cx="48.1" cy="41.0" r="0.77" fill="#40e8f0" opacity="0.8"/><circle cx="13.7" cy="12.6" r="0.98" fill="#40e8f0" opacity="0.8"/><circle cx="4.1" cy="13.3" r="1.05" fill="#40e8f0" opacity="0.8"/><circle cx="31.5" cy="6.8" r="0.91" fill="#e8ff30" opacity="0.8"/><circle cx="52.6" cy="25.0" r="1.19" fill="#40e8f0" opacity="0.8"/><circle cx="35.4" cy="27.9" r="1.38" fill="#c0ff50" opacity="0.8"/><circle cx="52.6" cy="1.7" r="1.07" fill="#40e8f0" opacity="0.8"/><circle cx="40.9" cy="28.7" r="1.12" fill="#40e8f0" opacity="0.8"/><circle cx="26.3" cy="54.5" r="1.37" fill="#e8ff30" opacity="0.8"/><circle cx="32.6" cy="33.3" r="0.88" fill="#20c0f0" opacity="0.8"/><circle cx="59.0" cy="50.7" r="0.85" fill="#40e8f0" opacity="0.8"/><circle cx="16.6" cy="21.3" r="0.78" fill="#e8ff30" opacity="0.8"/><circle cx="55.6" cy="15.6" r="1.07" fill="#c0ff50" opacity="0.8"/><circle cx="25.8" cy="27.5" r="1.28" fill="#e8ff30" opacity="0.8"/><circle cx="32.0" cy="33.3" r="0.79" fill="#40e8f0" opacity="0.8"/><circle cx="57.8" cy="16.3" r="0.80" fill="#20c0f0" opacity="0.8"/><circle cx="60.2" cy="46.3" r="0.64" fill="#e8ff30" opacity="0.8"/><circle cx="48.5" cy="35.3" r="0.93" fill="#20c0f0" opacity="0.8"/><circle cx="20.6" cy="20.5" r="0.74" fill="#e8ff30" opacity="0.8"/><circle cx="14.2" cy="48.9" r="1.01" fill="#40e8f0" opacity="0.8"/><circle cx="1.7" cy="33.0" r="0.90" fill="#40e8f0" opacity="0.8"/><circle cx="52.7" cy="15.2" r="0.62" fill="#40e8f0" opacity="0.8"/><circle cx="24.7" cy="10.4" r="1.02" fill="#40e8f0" opacity="0.8"/><circle cx="31.3" cy="31.8" r="1.18" fill="#40e8f0" opacity="0.8"/><circle cx="23.6" cy="15.5" r="0.67" fill="#20c0f0" opacity="0.8"/><circle cx="1.1" cy="17.4" r="0.84" fill="#e8ff30" opacity="0.8"/><circle cx="34.8" cy="50.0" r="0.86" fill="#20c0f0" opacity="0.8"/><circle cx="48.2" cy="20.8" r="1.24" fill="#e8ff30" opacity="0.8"/><circle cx="4.6" cy="21.8" r="0.73" fill="#20c0f0" opacity="0.8"/><circle cx="11.1" cy="8.9" r="0.67" fill="#e8ff30" opacity="0.8"/><circle cx="20.2" cy="50.6" r="0.85" fill="#e8ff30" opacity="0.8"/><circle cx="12.5" cy="50.5" r="1.38" fill="#e8ff30" opacity="0.8"/><circle cx="57.4" cy="51.2" r="1.37" fill="#c0ff50" opacity="0.8"/><circle cx="33.7" cy="52.3" r="0.82" fill="#40e8f0" opacity="0.8"/><circle cx="48.2" cy="48.9" r="1.22" fill="#20c0f0" opacity="0.8"/><circle cx="31.0" cy="14.1" r="1.15" fill="#c0ff50" opacity="0.8"/><circle cx="36.6" cy="9.0" r="1.35" fill="#e8ff30" opacity="0.8"/><circle cx="48.2" cy="29.3" r="0.75" fill="#c0ff50" opacity="0.8"/><circle cx="18.0" cy="14.0" r="1.28" fill="#c0ff50" opacity="0.8"/><circle cx="18.3" cy="3.8" r="0.81" fill="#c0ff50" opacity="0.8"/><circle cx="10.0" cy="49.1" r="1.04" fill="#e8ff30" opacity="0.8"/><circle cx="23.9" cy="53.3" r="0.90" fill="#20c0f0" opacity="0.8"/><circle cx="38.4" cy="37.2" r="0.94" fill="#40e8f0" opacity="0.8"/><circle cx="2.4" cy="11.4" r="0.84" fill="#c0ff50" opacity="0.8"/><circle cx="1.4" cy="27.7" r="1.15" fill="#20c0f0" opacity="0.8"/><circle cx="54.9" cy="34.8" r="1.39" fill="#e8ff30" opacity="0.8"/><circle cx="40.6" cy="25.6" r="0.67" fill="#e8ff30" opacity="0.8"/>
</g>
<defs><filter id="fb44_2" filterUnits="userSpaceOnUse" x="-10" y="-10" width="83" height="76" color-interpolation-filters="sRGB"><feGaussianBlur stdDeviation="0.45"/></filter></defs>
<g filter="url(#fb44_2)">
<path d="M0 19.8 L5.8 24.4 L11 31.4 L18.6 35 L25.6 38.4 L30 42.5 L33.8 46.6" fill="none" stroke="#1838e0" stroke-width="1.0" stroke-linejoin="round" stroke-linecap="round"/>
<path d="M11.6 38.4 L14 42 L17.5 47.7 L16.3 53.5" fill="none" stroke="#1838e0" stroke-width="1.0" stroke-linejoin="round" stroke-linecap="round"/>
<path d="M48 9 L52 10 L54.7 12.8 L58.2 17.5" fill="none" stroke="#1838e0" stroke-width="1.0" stroke-linejoin="round" stroke-linecap="round"/>
<path d="M20 34 L25 37.5" fill="none" stroke="#1838e0" stroke-width="1.0" stroke-linejoin="round" stroke-linecap="round"/>
</g>
<defs><filter id="fb44_3" filterUnits="userSpaceOnUse" x="-10" y="-10" width="83" height="76" color-interpolation-filters="sRGB"><feGaussianBlur stdDeviation="0.4"/></filter></defs>
<g filter="url(#fb44_3)">
<path d="M0.8 0V36" stroke="#1030d0" stroke-width="1.6"/>
</g>
<path d="M27.5 28.4H35.1M31.3 24.6V32.2" stroke="#1a1208" stroke-width="1.25" fill="none" opacity="0.92"/>
</svg>
<svg x="30" y="324" width="64.5" height="56" viewBox="0 0 64.5 56" overflow="hidden">
<rect width="64.5" height="56" fill="#ff4c00"/>
<g filter="url(#f50)">
<rect x="-8.50" y="-8.50" width="17.06" height="17.00" fill="#ff4c00"/>
<rect x="7.56" y="-8.50" width="9.06" height="17.00" fill="#ff8000"/>
<rect x="15.62" y="-8.50" width="9.06" height="17.00" fill="#ff4c00"/>
<rect x="23.69" y="-8.50" width="9.06" height="17.00" fill="#ff8000"/>
<rect x="31.75" y="-8.50" width="9.06" height="17.00" fill="#ff4c00"/>
<rect x="39.81" y="-8.50" width="9.06" height="17.00" fill="#ff4c00"/>
<rect x="47.88" y="-8.50" width="9.06" height="17.00" fill="#ff8000"/>
<rect x="55.94" y="-8.50" width="17.06" height="17.00" fill="#ff4c00"/>
<rect x="-8.50" y="7.50" width="17.06" height="9.00" fill="#ff4c00"/>
<rect x="7.56" y="7.50" width="9.06" height="9.00" fill="#ff8000"/>
<rect x="15.62" y="7.50" width="9.06" height="9.00" fill="#ff8000"/>
<rect x="23.69" y="7.50" width="9.06" height="9.00" fill="#ff4c00"/>
<rect x="31.75" y="7.50" width="9.06" height="9.00" fill="#ff4c00"/>
<rect x="39.81" y="7.50" width="9.06" height="9.00" fill="#ff1a00"/>
<rect x="47.88" y="7.50" width="9.06" height="9.00" fill="#ffb300"/>
<rect x="55.94" y="7.50" width="17.06" height="9.00" fill="#ff8000"/>
<rect x="-8.50" y="15.50" width="17.06" height="9.00" fill="#ff8000"/>
<rect x="7.56" y="15.50" width="9.06" height="9.00" fill="#ff4c00"/>
<rect x="15.62" y="15.50" width="9.06" height="9.00" fill="#ff1a00"/>
<rect x="23.69" y="15.50" width="9.06" height="9.00" fill="#ff1a00"/>
<rect x="31.75" y="15.50" width="9.06" height="9.00" fill="#ff1a00"/>
<rect x="39.81" y="15.50" width="9.06" height="9.00" fill="#ff1a00"/>
<rect x="47.88" y="15.50" width="9.06" height="9.00" fill="#ff8000"/>
<rect x="55.94" y="15.50" width="17.06" height="9.00" fill="#ffb300"/>
<rect x="-8.50" y="23.50" width="17.06" height="9.00" fill="#ff4c00"/>
<rect x="7.56" y="23.50" width="9.06" height="9.00" fill="#ff1a00"/>
<rect x="15.62" y="23.50" width="9.06" height="9.00" fill="#ff1a00"/>
<rect x="23.69" y="23.50" width="9.06" height="9.00" fill="#ff1a00"/>
<rect x="31.75" y="23.50" width="9.06" height="9.00" fill="#ff4c00"/>
<rect x="39.81" y="23.50" width="9.06" height="9.00" fill="#ff1a00"/>
<rect x="47.88" y="23.50" width="9.06" height="9.00" fill="#ff4c00"/>
<rect x="55.94" y="23.50" width="17.06" height="9.00" fill="#ff8000"/>
<rect x="-8.50" y="31.50" width="17.06" height="9.00" fill="#ff4c00"/>
<rect x="7.56" y="31.50" width="9.06" height="9.00" fill="#ff4c00"/>
<rect x="15.62" y="31.50" width="9.06" height="9.00" fill="#ff1a00"/>
<rect x="23.69" y="31.50" width="9.06" height="9.00" fill="#ff4c00"/>
<rect x="31.75" y="31.50" width="9.06" height="9.00" fill="#ff4c00"/>
<rect x="39.81" y="31.50" width="9.06" height="9.00" fill="#ff8000"/>
<rect x="47.88" y="31.50" width="9.06" height="9.00" fill="#ff8000"/>
<rect x="55.94" y="31.50" width="17.06" height="9.00" fill="#ff4c00"/>
<rect x="-8.50" y="39.50" width="17.06" height="9.00" fill="#ff8000"/>
<rect x="7.56" y="39.50" width="9.06" height="9.00" fill="#ff4c00"/>
<rect x="15.62" y="39.50" width="9.06" height="9.00" fill="#ff8000"/>
<rect x="23.69" y="39.50" width="9.06" height="9.00" fill="#ff4c00"/>
<rect x="31.75" y="39.50" width="9.06" height="9.00" fill="#ff4c00"/>
<rect x="39.81" y="39.50" width="9.06" height="9.00" fill="#ff4c00"/>
<rect x="47.88" y="39.50" width="9.06" height="9.00" fill="#ff8000"/>
<rect x="55.94" y="39.50" width="17.06" height="9.00" fill="#ff4c00"/>
<rect x="-8.50" y="47.50" width="17.06" height="17.00" fill="#ff4c00"/>
<rect x="7.56" y="47.50" width="9.06" height="17.00" fill="#ff8000"/>
<rect x="15.62" y="47.50" width="9.06" height="17.00" fill="#ff4c00"/>
<rect x="23.69" y="47.50" width="9.06" height="17.00" fill="#ff8000"/>
<rect x="31.75" y="47.50" width="9.06" height="17.00" fill="#ffb300"/>
<rect x="39.81" y="47.50" width="9.06" height="17.00" fill="#ff4c00"/>
<rect x="47.88" y="47.50" width="9.06" height="17.00" fill="#ffb300"/>
<rect x="55.94" y="47.50" width="17.06" height="17.00" fill="#ff8000"/>
</g>
<defs><filter id="f50" x="-20%" y="-20%" width="140%" height="140%" color-interpolation-filters="sRGB"><feGaussianBlur stdDeviation="1.8" result="b"/><feTurbulence type="fractalNoise" baseFrequency="0.2" numOctaves="2" seed="26" result="n"/><feDisplacementMap in="b" in2="n" scale="8.0" xChannelSelector="R" yChannelSelector="G" result="d"/><feGaussianBlur in="d" stdDeviation="0.5"/></filter></defs>
<defs><filter id="fb50_0" filterUnits="userSpaceOnUse" x="-10" y="-10" width="84.5" height="76" color-interpolation-filters="sRGB"><feGaussianBlur stdDeviation="0.5"/></filter></defs>
<g filter="url(#fb50_0)">
<circle cx="20.7" cy="8.4" r="1.06" fill="#ffd000" opacity="0.8"/><circle cx="52.6" cy="5.3" r="1.01" fill="#ffd000" opacity="0.8"/><circle cx="2.4" cy="24.3" r="0.65" fill="#ffd000" opacity="0.8"/><circle cx="35.3" cy="3.3" r="1.00" fill="#ffd000" opacity="0.8"/><circle cx="40.4" cy="32.6" r="0.64" fill="#ff9000" opacity="0.8"/><circle cx="3.2" cy="12.4" r="0.99" fill="#ffd000" opacity="0.8"/><circle cx="18.5" cy="8.1" r="0.68" fill="#ff9000" opacity="0.8"/><circle cx="35.9" cy="38.2" r="0.67" fill="#ffd000" opacity="0.8"/><circle cx="23.8" cy="30.7" r="0.64" fill="#ffd000" opacity="0.8"/><circle cx="39.6" cy="27.8" r="0.97" fill="#ff9000" opacity="0.8"/><circle cx="29.8" cy="51.7" r="0.85" fill="#ffd000" opacity="0.8"/><circle cx="50.8" cy="39.1" r="0.77" fill="#ff9000" opacity="0.8"/><circle cx="33.6" cy="49.0" r="1.11" fill="#ff9000" opacity="0.8"/><circle cx="39.0" cy="4.1" r="0.96" fill="#ffd000" opacity="0.8"/><circle cx="48.5" cy="8.5" r="0.94" fill="#ffd000" opacity="0.8"/><circle cx="61.6" cy="4.3" r="0.99" fill="#ff9000" opacity="0.8"/><circle cx="21.8" cy="19.6" r="0.95" fill="#ff9000" opacity="0.8"/><circle cx="4.4" cy="5.2" r="0.79" fill="#ffd000" opacity="0.8"/><circle cx="3.9" cy="39.3" r="1.05" fill="#ff9000" opacity="0.8"/><circle cx="18.2" cy="21.6" r="1.07" fill="#ffd000" opacity="0.8"/><circle cx="60.2" cy="19.9" r="1.03" fill="#ff9000" opacity="0.8"/><circle cx="3.8" cy="43.0" r="0.69" fill="#ffd000" opacity="0.8"/><circle cx="25.5" cy="51.3" r="0.95" fill="#ffd000" opacity="0.8"/><circle cx="28.7" cy="30.8" r="1.22" fill="#ff9000" opacity="0.8"/><circle cx="55.3" cy="15.6" r="0.89" fill="#ff9000" opacity="0.8"/><circle cx="43.7" cy="21.3" r="0.76" fill="#ffd000" opacity="0.8"/><circle cx="11.3" cy="13.0" r="0.76" fill="#ff9000" opacity="0.8"/><circle cx="53.2" cy="10.2" r="0.80" fill="#ffd000" opacity="0.8"/><circle cx="26.8" cy="20.7" r="1.00" fill="#ffd000" opacity="0.8"/><circle cx="44.2" cy="28.9" r="1.03" fill="#ffd000" opacity="0.8"/><circle cx="29.2" cy="48.8" r="1.27" fill="#ff9000" opacity="0.8"/><circle cx="25.5" cy="22.1" r="0.94" fill="#ff9000" opacity="0.8"/><circle cx="4.0" cy="3.8" r="0.75" fill="#ffd000" opacity="0.8"/><circle cx="7.0" cy="33.6" r="0.67" fill="#ffd000" opacity="0.8"/><circle cx="34.3" cy="53.1" r="1.03" fill="#ffd000" opacity="0.8"/>
</g>
<path d="M28.7 28.4H36.3M32.5 24.6V32.2" stroke="#1a1208" stroke-width="1.25" fill="none" opacity="0.92"/>
</svg>
<svg x="94.5" y="324" width="64.5" height="56" viewBox="0 0 64.5 56" overflow="hidden">
<rect width="64.5" height="56" fill="#ffb300"/>
<g filter="url(#f51)">
<rect x="-8.50" y="-8.50" width="17.06" height="17.00" fill="#ffb300"/>
<rect x="7.56" y="-8.50" width="9.06" height="17.00" fill="#ffb300"/>
<rect x="15.62" y="-8.50" width="9.06" height="17.00" fill="#ff8000"/>
<rect x="23.69" y="-8.50" width="9.06" height="17.00" fill="#ff8000"/>
<rect x="31.75" y="-8.50" width="9.06" height="17.00" fill="#ffb300"/>
<rect x="39.81" y="-8.50" width="9.06" height="17.00" fill="#ff8000"/>
<rect x="47.88" y="-8.50" width="9.06" height="17.00" fill="#ff4c00"/>
<rect x="55.94" y="-8.50" width="17.06" height="17.00" fill="#ff8000"/>
<rect x="-8.50" y="7.50" width="17.06" height="9.00" fill="#e5ff1a"/>
<rect x="7.56" y="7.50" width="9.06" height="9.00" fill="#ffe500"/>
<rect x="15.62" y="7.50" width="9.06" height="9.00" fill="#ff8000"/>
<rect x="23.69" y="7.50" width="9.06" height="9.00" fill="#ff4c00"/>
<rect x="31.75" y="7.50" width="9.06" height="9.00" fill="#ff8000"/>
<rect x="39.81" y="7.50" width="9.06" height="9.00" fill="#ff4c00"/>
<rect x="47.88" y="7.50" width="9.06" height="9.00" fill="#ff8000"/>
<rect x="55.94" y="7.50" width="17.06" height="9.00" fill="#ffb300"/>
<rect x="-8.50" y="15.50" width="17.06" height="9.00" fill="#ffb300"/>
<rect x="7.56" y="15.50" width="9.06" height="9.00" fill="#ff8000"/>
<rect x="15.62" y="15.50" width="9.06" height="9.00" fill="#ff4c00"/>
<rect x="23.69" y="15.50" width="9.06" height="9.00" fill="#ff8000"/>
<rect x="31.75" y="15.50" width="9.06" height="9.00" fill="#ff8000"/>
<rect x="39.81" y="15.50" width="9.06" height="9.00" fill="#ffb300"/>
<rect x="47.88" y="15.50" width="9.06" height="9.00" fill="#ffb300"/>
<rect x="55.94" y="15.50" width="17.06" height="9.00" fill="#ff8000"/>
<rect x="-8.50" y="23.50" width="17.06" height="9.00" fill="#ff8000"/>
<rect x="7.56" y="23.50" width="9.06" height="9.00" fill="#ff4c00"/>
<rect x="15.62" y="23.50" width="9.06" height="9.00" fill="#ff8000"/>
<rect x="23.69" y="23.50" width="9.06" height="9.00" fill="#ff8000"/>
<rect x="31.75" y="23.50" width="9.06" height="9.00" fill="#ffb300"/>
<rect x="39.81" y="23.50" width="9.06" height="9.00" fill="#ffb300"/>
<rect x="47.88" y="23.50" width="9.06" height="9.00" fill="#ff8000"/>
<rect x="55.94" y="23.50" width="17.06" height="9.00" fill="#ffb300"/>
<rect x="-8.50" y="31.50" width="17.06" height="9.00" fill="#ff4c00"/>
<rect x="7.56" y="31.50" width="9.06" height="9.00" fill="#ff8000"/>
<rect x="15.62" y="31.50" width="9.06" height="9.00" fill="#ff8000"/>
<rect x="23.69" y="31.50" width="9.06" height="9.00" fill="#ffb300"/>
<rect x="31.75" y="31.50" width="9.06" height="9.00" fill="#ffb300"/>
<rect x="39.81" y="31.50" width="9.06" height="9.00" fill="#ff8000"/>
<rect x="47.88" y="31.50" width="9.06" height="9.00" fill="#ffb300"/>
<rect x="55.94" y="31.50" width="17.06" height="9.00" fill="#ff8000"/>
<rect x="-8.50" y="39.50" width="17.06" height="9.00" fill="#ff8000"/>
<rect x="7.56" y="39.50" width="9.06" height="9.00" fill="#ff4c00"/>
<rect x="15.62" y="39.50" width="9.06" height="9.00" fill="#ffb300"/>
<rect x="23.69" y="39.50" width="9.06" height="9.00" fill="#ff8000"/>
<rect x="31.75" y="39.50" width="9.06" height="9.00" fill="#ffb300"/>
<rect x="39.81" y="39.50" width="9.06" height="9.00" fill="#ffe500"/>
<rect x="47.88" y="39.50" width="9.06" height="9.00" fill="#ffb300"/>
<rect x="55.94" y="39.50" width="17.06" height="9.00" fill="#ff8000"/>
<rect x="-8.50" y="47.50" width="17.06" height="17.00" fill="#ff8000"/>
<rect x="7.56" y="47.50" width="9.06" height="17.00" fill="#ff8000"/>
<rect x="15.62" y="47.50" width="9.06" height="17.00" fill="#ffb300"/>
<rect x="23.69" y="47.50" width="9.06" height="17.00" fill="#ffb300"/>
<rect x="31.75" y="47.50" width="9.06" height="17.00" fill="#ffe500"/>
<rect x="39.81" y="47.50" width="9.06" height="17.00" fill="#ffe500"/>
<rect x="47.88" y="47.50" width="9.06" height="17.00" fill="#e5ff1a"/>
<rect x="55.94" y="47.50" width="17.06" height="17.00" fill="#ffe500"/>
</g>
<defs><filter id="f51" x="-20%" y="-20%" width="140%" height="140%" color-interpolation-filters="sRGB"><feGaussianBlur stdDeviation="1.8" result="b"/><feTurbulence type="fractalNoise" baseFrequency="0.2" numOctaves="2" seed="27" result="n"/><feDisplacementMap in="b" in2="n" scale="8.0" xChannelSelector="R" yChannelSelector="G" result="d"/><feGaussianBlur in="d" stdDeviation="0.5"/></filter></defs>
<defs><filter id="fb51_0" filterUnits="userSpaceOnUse" x="-10" y="-10" width="84.5" height="76" color-interpolation-filters="sRGB"><feGaussianBlur stdDeviation="0.5"/></filter></defs>
<g filter="url(#fb51_0)">
<circle cx="14.5" cy="53.9" r="0.69" fill="#d8ff40" opacity="0.8"/><circle cx="2.8" cy="7.7" r="1.17" fill="#d8ff40" opacity="0.8"/><circle cx="13.4" cy="35.9" r="0.92" fill="#ff4000" opacity="0.8"/><circle cx="25.0" cy="32.1" r="1.23" fill="#ff4000" opacity="0.8"/><circle cx="5.7" cy="13.1" r="0.61" fill="#ff4000" opacity="0.8"/><circle cx="33.3" cy="26.6" r="1.24" fill="#d8ff40" opacity="0.8"/><circle cx="7.3" cy="14.5" r="1.29" fill="#ffe000" opacity="0.8"/><circle cx="24.7" cy="46.5" r="0.68" fill="#ffe000" opacity="0.8"/><circle cx="21.7" cy="38.7" r="0.95" fill="#d8ff40" opacity="0.8"/><circle cx="33.1" cy="11.6" r="1.17" fill="#d8ff40" opacity="0.8"/><circle cx="4.1" cy="53.0" r="0.94" fill="#ffe000" opacity="0.8"/><circle cx="9.5" cy="48.2" r="0.92" fill="#d8ff40" opacity="0.8"/><circle cx="56.4" cy="16.0" r="0.85" fill="#ff4000" opacity="0.8"/><circle cx="8.6" cy="42.8" r="0.67" fill="#d8ff40" opacity="0.8"/><circle cx="20.1" cy="20.0" r="1.05" fill="#ff4000" opacity="0.8"/><circle cx="32.2" cy="11.1" r="0.71" fill="#d8ff40" opacity="0.8"/><circle cx="18.2" cy="36.8" r="1.17" fill="#d8ff40" opacity="0.8"/><circle cx="58.4" cy="30.5" r="0.84" fill="#ffe000" opacity="0.8"/><circle cx="18.9" cy="12.3" r="0.62" fill="#ff4000" opacity="0.8"/><circle cx="24.1" cy="46.7" r="1.22" fill="#ffe000" opacity="0.8"/><circle cx="42.1" cy="6.5" r="1.25" fill="#ffe000" opacity="0.8"/><circle cx="12.9" cy="42.9" r="0.81" fill="#ffe000" opacity="0.8"/><circle cx="51.0" cy="21.3" r="1.19" fill="#d8ff40" opacity="0.8"/><circle cx="27.9" cy="13.0" r="0.89" fill="#ff4000" opacity="0.8"/><circle cx="26.1" cy="4.5" r="0.65" fill="#d8ff40" opacity="0.8"/><circle cx="6.1" cy="4.8" r="0.67" fill="#d8ff40" opacity="0.8"/><circle cx="33.7" cy="8.6" r="1.26" fill="#ff4000" opacity="0.8"/><circle cx="45.3" cy="54.9" r="0.64" fill="#ffe000" opacity="0.8"/><circle cx="58.4" cy="19.1" r="1.06" fill="#ffe000" opacity="0.8"/><circle cx="47.6" cy="19.7" r="1.28" fill="#ffe000" opacity="0.8"/><circle cx="41.3" cy="27.9" r="0.64" fill="#d8ff40" opacity="0.8"/><circle cx="2.1" cy="54.0" r="1.13" fill="#d8ff40" opacity="0.8"/><circle cx="11.0" cy="18.9" r="0.90" fill="#ffe000" opacity="0.8"/><circle cx="5.3" cy="33.9" r="0.95" fill="#ff4000" opacity="0.8"/><circle cx="50.6" cy="21.3" r="0.68" fill="#d8ff40" opacity="0.8"/><circle cx="29.0" cy="7.1" r="0.91" fill="#d8ff40" opacity="0.8"/><circle cx="5.8" cy="52.0" r="0.99" fill="#ff4000" opacity="0.8"/><circle cx="29.1" cy="2.9" r="0.63" fill="#ffe000" opacity="0.8"/><circle cx="6.9" cy="40.6" r="1.10" fill="#d8ff40" opacity="0.8"/><circle cx="58.0" cy="36.7" r="1.18" fill="#d8ff40" opacity="0.8"/>
</g>
<path d="M28.2 28.4H35.8M32.0 24.6V32.2" stroke="#1a1208" stroke-width="1.25" fill="none" opacity="0.92"/>
</svg>
<svg x="159" y="324" width="64" height="56" viewBox="0 0 64 56" overflow="hidden">
<rect width="64" height="56" fill="#cc0000"/>
<g filter="url(#f52)">
<rect x="-8.50" y="-8.50" width="17.00" height="17.00" fill="#cc0000"/>
<rect x="7.50" y="-8.50" width="9.00" height="17.00" fill="#cc0000"/>
<rect x="15.50" y="-8.50" width="9.00" height="17.00" fill="#cc0000"/>
<rect x="23.50" y="-8.50" width="9.00" height="17.00" fill="#cc0000"/>
<rect x="31.50" y="-8.50" width="9.00" height="17.00" fill="#cc0000"/>
<rect x="39.50" y="-8.50" width="9.00" height="17.00" fill="#cc0000"/>
<rect x="47.50" y="-8.50" width="9.00" height="17.00" fill="#cc0000"/>
<rect x="55.50" y="-8.50" width="17.00" height="17.00" fill="#cc0000"/>
<rect x="-8.50" y="7.50" width="17.00" height="9.00" fill="#cc0000"/>
<rect x="7.50" y="7.50" width="9.00" height="9.00" fill="#cc0000"/>
<rect x="15.50" y="7.50" width="9.00" height="9.00" fill="#cc0000"/>
<rect x="23.50" y="7.50" width="9.00" height="9.00" fill="#cc0000"/>
<rect x="31.50" y="7.50" width="9.00" height="9.00" fill="#cc0000"/>
<rect x="39.50" y="7.50" width="9.00" height="9.00" fill="#cc0000"/>
<rect x="47.50" y="7.50" width="9.00" height="9.00" fill="#cc0000"/>
<rect x="55.50" y="7.50" width="17.00" height="9.00" fill="#cc0000"/>
<rect x="-8.50" y="15.50" width="17.00" height="9.00" fill="#cc0000"/>
<rect x="7.50" y="15.50" width="9.00" height="9.00" fill="#cc0000"/>
<rect x="15.50" y="15.50" width="9.00" height="9.00" fill="#cc0000"/>
<rect x="23.50" y="15.50" width="9.00" height="9.00" fill="#cc0000"/>
<rect x="31.50" y="15.50" width="9.00" height="9.00" fill="#cc0000"/>
<rect x="39.50" y="15.50" width="9.00" height="9.00" fill="#cc0000"/>
<rect x="47.50" y="15.50" width="9.00" height="9.00" fill="#cc0000"/>
<rect x="55.50" y="15.50" width="17.00" height="9.00" fill="#cc0000"/>
<rect x="-8.50" y="23.50" width="17.00" height="9.00" fill="#cc0000"/>
<rect x="7.50" y="23.50" width="9.00" height="9.00" fill="#cc0000"/>
<rect x="15.50" y="23.50" width="9.00" height="9.00" fill="#cc0000"/>
<rect x="23.50" y="23.50" width="9.00" height="9.00" fill="#cc0000"/>
<rect x="31.50" y="23.50" width="9.00" height="9.00" fill="#cc0000"/>
<rect x="39.50" y="23.50" width="9.00" height="9.00" fill="#cc0000"/>
<rect x="47.50" y="23.50" width="9.00" height="9.00" fill="#cc0000"/>
<rect x="55.50" y="23.50" width="17.00" height="9.00" fill="#cc0000"/>
<rect x="-8.50" y="31.50" width="17.00" height="9.00" fill="#cc0000"/>
<rect x="7.50" y="31.50" width="9.00" height="9.00" fill="#cc0000"/>
<rect x="15.50" y="31.50" width="9.00" height="9.00" fill="#cc0000"/>
<rect x="23.50" y="31.50" width="9.00" height="9.00" fill="#cc0000"/>
<rect x="31.50" y="31.50" width="9.00" height="9.00" fill="#cc0000"/>
<rect x="39.50" y="31.50" width="9.00" height="9.00" fill="#cc0000"/>
<rect x="47.50" y="31.50" width="9.00" height="9.00" fill="#cc0000"/>
<rect x="55.50" y="31.50" width="17.00" height="9.00" fill="#cc0000"/>
<rect x="-8.50" y="39.50" width="17.00" height="9.00" fill="#cc0000"/>
<rect x="7.50" y="39.50" width="9.00" height="9.00" fill="#cc0000"/>
<rect x="15.50" y="39.50" width="9.00" height="9.00" fill="#cc0000"/>
<rect x="23.50" y="39.50" width="9.00" height="9.00" fill="#cc0000"/>
<rect x="31.50" y="39.50" width="9.00" height="9.00" fill="#cc0000"/>
<rect x="39.50" y="39.50" width="9.00" height="9.00" fill="#cc0000"/>
<rect x="47.50" y="39.50" width="9.00" height="9.00" fill="#cc0000"/>
<rect x="55.50" y="39.50" width="17.00" height="9.00" fill="#cc0000"/>
<rect x="-8.50" y="47.50" width="17.00" height="17.00" fill="#cc0000"/>
<rect x="7.50" y="47.50" width="9.00" height="17.00" fill="#cc0000"/>
<rect x="15.50" y="47.50" width="9.00" height="17.00" fill="#cc0000"/>
<rect x="23.50" y="47.50" width="9.00" height="17.00" fill="#cc0000"/>
<rect x="31.50" y="47.50" width="9.00" height="17.00" fill="#cc0000"/>
<rect x="39.50" y="47.50" width="9.00" height="17.00" fill="#cc0000"/>
<rect x="47.50" y="47.50" width="9.00" height="17.00" fill="#cc0000"/>
<rect x="55.50" y="47.50" width="17.00" height="17.00" fill="#cc0000"/>
</g>
<defs><filter id="f52" x="-20%" y="-20%" width="140%" height="140%" color-interpolation-filters="sRGB"><feGaussianBlur stdDeviation="1.8" result="b"/><feTurbulence type="fractalNoise" baseFrequency="0.2" numOctaves="2" seed="28" result="n"/><feDisplacementMap in="b" in2="n" scale="8.0" xChannelSelector="R" yChannelSelector="G" result="d"/><feGaussianBlur in="d" stdDeviation="0.5"/></filter></defs>
<defs><filter id="fb52_0" filterUnits="userSpaceOnUse" x="-10" y="-10" width="84" height="76" color-interpolation-filters="sRGB"><feGaussianBlur stdDeviation="0.45"/></filter></defs>
<g filter="url(#fb52_0)">
<line x1="18.5" y1="1.7" x2="21" y2="1.9" stroke="#b4ff66" stroke-width="1.10" stroke-linecap="round"/>
<line x1="48" y1="1.1" x2="50.8" y2="1.2" stroke="#b4ff66" stroke-width="0.94" stroke-linecap="round"/>
<line x1="38.3" y1="4.8" x2="48.5" y2="5.8" stroke="#b4ff66" stroke-width="1.87" stroke-linecap="round"/>
<line x1="33" y1="8.6" x2="41" y2="8.9" stroke="#b4ff66" stroke-width="1.36" stroke-linecap="round"/>
<line x1="18" y1="15.7" x2="25.2" y2="16.0" stroke="#b4ff66" stroke-width="1.19" stroke-linecap="round"/>
<line x1="27.2" y1="17.2" x2="36.3" y2="17.5" stroke="#b4ff66" stroke-width="1.27" stroke-linecap="round"/>
<line x1="2.2" y1="18.6" x2="7.6" y2="18.7" stroke="#b4ff66" stroke-width="1.10" stroke-linecap="round"/>
<line x1="15.6" y1="20.4" x2="35.6" y2="21.8" stroke="#b4ff66" stroke-width="2.55" stroke-linecap="round"/>
<line x1="17.4" y1="25.0" x2="20.5" y2="25.0" stroke="#b4ff66" stroke-width="1.36" stroke-linecap="round"/>
<line x1="44.7" y1="24.5" x2="49.5" y2="24.7" stroke="#b4ff66" stroke-width="1.61" stroke-linecap="round"/>
<line x1="58.6" y1="26.4" x2="63.8" y2="26.5" stroke="#b4ff66" stroke-width="1.61" stroke-linecap="round"/>
<line x1="12.6" y1="29.4" x2="15.3" y2="29.5" stroke="#b4ff66" stroke-width="1.02" stroke-linecap="round"/>
<line x1="57.6" y1="30.4" x2="59.6" y2="30.5" stroke="#b4ff66" stroke-width="1.19" stroke-linecap="round"/>
<line x1="44.2" y1="38.1" x2="47.2" y2="38.2" stroke="#b4ff66" stroke-width="1.10" stroke-linecap="round"/>
</g>
<path d="M27.6 28.4H35.2M31.4 24.6V32.2" stroke="#1a1208" stroke-width="1.25" fill="none" opacity="0.92"/>
</svg>
<svg x="223" y="324" width="64" height="56" viewBox="0 0 64 56" overflow="hidden">
<rect width="64" height="56" fill="#ffff00"/>
<g filter="url(#f53)">
<rect x="-8.50" y="-8.50" width="17.00" height="17.00" fill="#ffff00"/>
<rect x="7.50" y="-8.50" width="9.00" height="17.00" fill="#ffff00"/>
<rect x="15.50" y="-8.50" width="9.00" height="17.00" fill="#ffff00"/>
<rect x="23.50" y="-8.50" width="9.00" height="17.00" fill="#e5ff1a"/>
<rect x="31.50" y="-8.50" width="9.00" height="17.00" fill="#ffff00"/>
<rect x="39.50" y="-8.50" width="9.00" height="17.00" fill="#ffff00"/>
<rect x="47.50" y="-8.50" width="9.00" height="17.00" fill="#ffff00"/>
<rect x="55.50" y="-8.50" width="17.00" height="17.00" fill="#ffff00"/>
<rect x="-8.50" y="7.50" width="17.00" height="9.00" fill="#ffd400"/>
<rect x="7.50" y="7.50" width="9.00" height="9.00" fill="#ffff00"/>
<rect x="15.50" y="7.50" width="9.00" height="9.00" fill="#e5ff1a"/>
<rect x="23.50" y="7.50" width="9.00" height="9.00" fill="#e5ff1a"/>
<rect x="31.50" y="7.50" width="9.00" height="9.00" fill="#e5ff1a"/>
<rect x="39.50" y="7.50" width="9.00" height="9.00" fill="#ffff00"/>
<rect x="47.50" y="7.50" width="9.00" height="9.00" fill="#ffff00"/>
<rect x="55.50" y="7.50" width="17.00" height="9.00" fill="#ffff00"/>
<rect x="-8.50" y="15.50" width="17.00" height="9.00" fill="#ffff00"/>
<rect x="7.50" y="15.50" width="9.00" height="9.00" fill="#ffff00"/>
<rect x="15.50" y="15.50" width="9.00" height="9.00" fill="#ffff00"/>
<rect x="23.50" y="15.50" width="9.00" height="9.00" fill="#e5ff1a"/>
<rect x="31.50" y="15.50" width="9.00" height="9.00" fill="#b3ff4c"/>
<rect x="39.50" y="15.50" width="9.00" height="9.00" fill="#e5ff1a"/>
<rect x="47.50" y="15.50" width="9.00" height="9.00" fill="#ffff00"/>
<rect x="55.50" y="15.50" width="17.00" height="9.00" fill="#ffff00"/>
<rect x="-8.50" y="23.50" width="17.00" height="9.00" fill="#ffff00"/>
<rect x="7.50" y="23.50" width="9.00" height="9.00" fill="#ffff00"/>
<rect x="15.50" y="23.50" width="9.00" height="9.00" fill="#e5ff1a"/>
<rect x="23.50" y="23.50" width="9.00" height="9.00" fill="#ffff00"/>
<rect x="31.50" y="23.50" width="9.00" height="9.00" fill="#ffff00"/>
<rect x="39.50" y="23.50" width="9.00" height="9.00" fill="#e5ff1a"/>
<rect x="47.50" y="23.50" width="9.00" height="9.00" fill="#e5ff1a"/>
<rect x="55.50" y="23.50" width="17.00" height="9.00" fill="#ffff00"/>
<rect x="-8.50" y="31.50" width="17.00" height="9.00" fill="#ffff00"/>
<rect x="7.50" y="31.50" width="9.00" height="9.00" fill="#ffff00"/>
<rect x="15.50" y="31.50" width="9.00" height="9.00" fill="#ffff00"/>
<rect x="23.50" y="31.50" width="9.00" height="9.00" fill="#ffff00"/>
<rect x="31.50" y="31.50" width="9.00" height="9.00" fill="#ffff00"/>
<rect x="39.50" y="31.50" width="9.00" height="9.00" fill="#ffff00"/>
<rect x="47.50" y="31.50" width="9.00" height="9.00" fill="#e5ff1a"/>
<rect x="55.50" y="31.50" width="17.00" height="9.00" fill="#ffff00"/>
<rect x="-8.50" y="39.50" width="17.00" height="9.00" fill="#ffff00"/>
<rect x="7.50" y="39.50" width="9.00" height="9.00" fill="#ffff00"/>
<rect x="15.50" y="39.50" width="9.00" height="9.00" fill="#ffff00"/>
<rect x="23.50" y="39.50" width="9.00" height="9.00" fill="#ffff00"/>
<rect x="31.50" y="39.50" width="9.00" height="9.00" fill="#ffff00"/>
<rect x="39.50" y="39.50" width="9.00" height="9.00" fill="#ffff00"/>
<rect x="47.50" y="39.50" width="9.00" height="9.00" fill="#ffff00"/>
<rect x="55.50" y="39.50" width="17.00" height="9.00" fill="#ffd400"/>
<rect x="-8.50" y="47.50" width="17.00" height="17.00" fill="#ffff00"/>
<rect x="7.50" y="47.50" width="9.00" height="17.00" fill="#ffff00"/>
<rect x="15.50" y="47.50" width="9.00" height="17.00" fill="#ffd400"/>
<rect x="23.50" y="47.50" width="9.00" height="17.00" fill="#ffff00"/>
<rect x="31.50" y="47.50" width="9.00" height="17.00" fill="#ffff00"/>
<rect x="39.50" y="47.50" width="9.00" height="17.00" fill="#ffff00"/>
<rect x="47.50" y="47.50" width="9.00" height="17.00" fill="#ffd400"/>
<rect x="55.50" y="47.50" width="17.00" height="17.00" fill="#ffff00"/>
</g>
<defs><filter id="f53" x="-20%" y="-20%" width="140%" height="140%" color-interpolation-filters="sRGB"><feGaussianBlur stdDeviation="1.8" result="b"/><feTurbulence type="fractalNoise" baseFrequency="0.2" numOctaves="2" seed="29" result="n"/><feDisplacementMap in="b" in2="n" scale="8.0" xChannelSelector="R" yChannelSelector="G" result="d"/><feGaussianBlur in="d" stdDeviation="0.5"/></filter></defs>
<path d="M27.6 28.4H35.2M31.4 24.6V32.2" stroke="#1a1208" stroke-width="1.25" fill="none" opacity="0.92"/>
</svg>
<svg x="287" y="324" width="63" height="56" viewBox="0 0 63 56" overflow="hidden">
<rect width="63" height="56" fill="#ff8000"/>
<g filter="url(#f54)">
<rect x="-8.50" y="-8.50" width="16.88" height="17.00" fill="#ff8000"/>
<rect x="7.38" y="-8.50" width="8.88" height="17.00" fill="#ffb300"/>
<rect x="15.25" y="-8.50" width="8.88" height="17.00" fill="#ffb300"/>
<rect x="23.12" y="-8.50" width="8.88" height="17.00" fill="#ffb300"/>
<rect x="31.00" y="-8.50" width="8.88" height="17.00" fill="#ffb300"/>
<rect x="38.88" y="-8.50" width="8.88" height="17.00" fill="#ffb300"/>
<rect x="46.75" y="-8.50" width="8.88" height="17.00" fill="#ff8000"/>
<rect x="54.62" y="-8.50" width="16.88" height="17.00" fill="#ffb300"/>
<rect x="-8.50" y="7.50" width="16.88" height="9.00" fill="#ff8000"/>
<rect x="7.38" y="7.50" width="8.88" height="9.00" fill="#ff8000"/>
<rect x="15.25" y="7.50" width="8.88" height="9.00" fill="#ffb300"/>
<rect x="23.12" y="7.50" width="8.88" height="9.00" fill="#ffe500"/>
<rect x="31.00" y="7.50" width="8.88" height="9.00" fill="#ffb300"/>
<rect x="38.88" y="7.50" width="8.88" height="9.00" fill="#ff8000"/>
<rect x="46.75" y="7.50" width="8.88" height="9.00" fill="#ffe500"/>
<rect x="54.62" y="7.50" width="16.88" height="9.00" fill="#e5ff1a"/>
<rect x="-8.50" y="15.50" width="16.88" height="9.00" fill="#ffe500"/>
<rect x="7.38" y="15.50" width="8.88" height="9.00" fill="#ff8000"/>
<rect x="15.25" y="15.50" width="8.88" height="9.00" fill="#ffb300"/>
<rect x="23.12" y="15.50" width="8.88" height="9.00" fill="#ff8000"/>
<rect x="31.00" y="15.50" width="8.88" height="9.00" fill="#ff8000"/>
<rect x="38.88" y="15.50" width="8.88" height="9.00" fill="#ff8000"/>
<rect x="46.75" y="15.50" width="8.88" height="9.00" fill="#ffb300"/>
<rect x="54.62" y="15.50" width="16.88" height="9.00" fill="#ffe500"/>
<rect x="-8.50" y="23.50" width="16.88" height="9.00" fill="#ff8000"/>
<rect x="7.38" y="23.50" width="8.88" height="9.00" fill="#ffb300"/>
<rect x="15.25" y="23.50" width="8.88" height="9.00" fill="#ff8000"/>
<rect x="23.12" y="23.50" width="8.88" height="9.00" fill="#ffb300"/>
<rect x="31.00" y="23.50" width="8.88" height="9.00" fill="#ff8000"/>
<rect x="38.88" y="23.50" width="8.88" height="9.00" fill="#ff8000"/>
<rect x="46.75" y="23.50" width="8.88" height="9.00" fill="#ffb300"/>
<rect x="54.62" y="23.50" width="16.88" height="9.00" fill="#ffb300"/>
<rect x="-8.50" y="31.50" width="16.88" height="9.00" fill="#ff8000"/>
<rect x="7.38" y="31.50" width="8.88" height="9.00" fill="#ffe500"/>
<rect x="15.25" y="31.50" width="8.88" height="9.00" fill="#ffb300"/>
<rect x="23.12" y="31.50" width="8.88" height="9.00" fill="#ffe500"/>
<rect x="31.00" y="31.50" width="8.88" height="9.00" fill="#ff8000"/>
<rect x="38.88" y="31.50" width="8.88" height="9.00" fill="#ffb300"/>
<rect x="46.75" y="31.50" width="8.88" height="9.00" fill="#ffb300"/>
<rect x="54.62" y="31.50" width="16.88" height="9.00" fill="#ff8000"/>
<rect x="-8.50" y="39.50" width="16.88" height="9.00" fill="#ff8000"/>
<rect x="7.38" y="39.50" width="8.88" height="9.00" fill="#ffb300"/>
<rect x="15.25" y="39.50" width="8.88" height="9.00" fill="#ffe500"/>
<rect x="23.12" y="39.50" width="8.88" height="9.00" fill="#ffb300"/>
<rect x="31.00" y="39.50" width="8.88" height="9.00" fill="#ffe500"/>
<rect x="38.88" y="39.50" width="8.88" height="9.00" fill="#ff8000"/>
<rect x="46.75" y="39.50" width="8.88" height="9.00" fill="#ff8000"/>
<rect x="54.62" y="39.50" width="16.88" height="9.00" fill="#ff8000"/>
<rect x="-8.50" y="47.50" width="16.88" height="17.00" fill="#ff8000"/>
<rect x="7.38" y="47.50" width="8.88" height="17.00" fill="#ffb300"/>
<rect x="15.25" y="47.50" width="8.88" height="17.00" fill="#ffb300"/>
<rect x="23.12" y="47.50" width="8.88" height="17.00" fill="#ff8000"/>
<rect x="31.00" y="47.50" width="8.88" height="17.00" fill="#ffb300"/>
<rect x="38.88" y="47.50" width="8.88" height="17.00" fill="#ff8000"/>
<rect x="46.75" y="47.50" width="8.88" height="17.00" fill="#ff8000"/>
<rect x="54.62" y="47.50" width="16.88" height="17.00" fill="#ff8000"/>
</g>
<defs><filter id="f54" x="-20%" y="-20%" width="140%" height="140%" color-interpolation-filters="sRGB"><feGaussianBlur stdDeviation="1.8" result="b"/><feTurbulence type="fractalNoise" baseFrequency="0.2" numOctaves="2" seed="30" result="n"/><feDisplacementMap in="b" in2="n" scale="8.0" xChannelSelector="R" yChannelSelector="G" result="d"/><feGaussianBlur in="d" stdDeviation="0.5"/></filter></defs>
<defs><filter id="fb54_0" filterUnits="userSpaceOnUse" x="-10" y="-10" width="83" height="76" color-interpolation-filters="sRGB"><feGaussianBlur stdDeviation="1.3"/></filter></defs>
<g filter="url(#fb54_0)">
<ellipse cx="52" cy="10.5" rx="4.5" ry="2.6" fill="#d8ff40"/>
</g>
<defs><filter id="fb54_1" filterUnits="userSpaceOnUse" x="-10" y="-10" width="83" height="76" color-interpolation-filters="sRGB"><feGaussianBlur stdDeviation="0.5"/></filter></defs>
<g filter="url(#fb54_1)">
<circle cx="40.9" cy="1.4" r="0.82" fill="#ffe030" opacity="0.8"/><circle cx="8.9" cy="5.7" r="1.19" fill="#ffc000" opacity="0.8"/><circle cx="5.6" cy="23.6" r="0.62" fill="#ffe030" opacity="0.8"/><circle cx="14.9" cy="33.7" r="1.05" fill="#ffc000" opacity="0.8"/><circle cx="41.6" cy="30.5" r="0.78" fill="#ffc000" opacity="0.8"/><circle cx="17.8" cy="48.7" r="1.21" fill="#ffe030" opacity="0.8"/><circle cx="44.7" cy="19.1" r="0.72" fill="#ff6000" opacity="0.8"/><circle cx="6.5" cy="21.3" r="0.89" fill="#ff6000" opacity="0.8"/><circle cx="38.6" cy="45.2" r="1.18" fill="#ffc000" opacity="0.8"/><circle cx="8.0" cy="51.6" r="0.66" fill="#ff6000" opacity="0.8"/><circle cx="53.1" cy="34.6" r="1.29" fill="#ffc000" opacity="0.8"/><circle cx="12.3" cy="3.9" r="1.13" fill="#ff6000" opacity="0.8"/><circle cx="63.1" cy="47.9" r="1.29" fill="#ff6000" opacity="0.8"/><circle cx="17.8" cy="35.6" r="0.89" fill="#ff6000" opacity="0.8"/><circle cx="22.7" cy="37.5" r="1.16" fill="#ffc000" opacity="0.8"/><circle cx="41.5" cy="34.1" r="0.74" fill="#ffc000" opacity="0.8"/><circle cx="15.7" cy="25.9" r="0.82" fill="#ffc000" opacity="0.8"/><circle cx="44.0" cy="12.3" r="0.86" fill="#ffe030" opacity="0.8"/><circle cx="14.7" cy="1.8" r="0.85" fill="#ff6000" opacity="0.8"/><circle cx="4.2" cy="51.1" r="1.05" fill="#ffc000" opacity="0.8"/><circle cx="20.1" cy="36.7" r="0.92" fill="#ffc000" opacity="0.8"/><circle cx="29.4" cy="14.8" r="0.80" fill="#ffc000" opacity="0.8"/><circle cx="34.5" cy="41.8" r="0.94" fill="#ffc000" opacity="0.8"/><circle cx="25.6" cy="12.3" r="1.40" fill="#ffc000" opacity="0.8"/><circle cx="31.6" cy="42.3" r="1.29" fill="#ffe030" opacity="0.8"/><circle cx="40.2" cy="44.4" r="0.94" fill="#ffe030" opacity="0.8"/><circle cx="24.6" cy="33.4" r="0.97" fill="#ff6000" opacity="0.8"/><circle cx="62.1" cy="48.2" r="0.61" fill="#ffc000" opacity="0.8"/><circle cx="7.3" cy="49.5" r="1.20" fill="#ffc000" opacity="0.8"/><circle cx="21.8" cy="16.4" r="0.73" fill="#ffe030" opacity="0.8"/><circle cx="61.0" cy="49.0" r="0.81" fill="#ffc000" opacity="0.8"/><circle cx="48.8" cy="28.4" r="0.69" fill="#ffc000" opacity="0.8"/><circle cx="19.1" cy="35.8" r="1.09" fill="#ffe030" opacity="0.8"/><circle cx="23.9" cy="9.0" r="1.36" fill="#ffc000" opacity="0.8"/><circle cx="58.8" cy="33.5" r="0.99" fill="#ffe030" opacity="0.8"/><circle cx="59.5" cy="49.2" r="1.27" fill="#ff6000" opacity="0.8"/><circle cx="15.3" cy="13.5" r="1.05" fill="#ffe030" opacity="0.8"/><circle cx="5.5" cy="27.2" r="0.66" fill="#ffc000" opacity="0.8"/><circle cx="49.0" cy="7.2" r="0.98" fill="#ffc000" opacity="0.8"/><circle cx="10.6" cy="29.5" r="1.09" fill="#ffe030" opacity="0.8"/><circle cx="59.5" cy="42.3" r="1.15" fill="#ffc000" opacity="0.8"/><circle cx="19.9" cy="55.7" r="1.12" fill="#ff6000" opacity="0.8"/><circle cx="57.6" cy="25.3" r="0.80" fill="#ffe030" opacity="0.8"/><circle cx="21.6" cy="32.9" r="0.78" fill="#ffe030" opacity="0.8"/><circle cx="0.5" cy="39.6" r="0.65" fill="#ffe030" opacity="0.8"/><circle cx="57.9" cy="48.1" r="0.66" fill="#ffe030" opacity="0.8"/><circle cx="17.8" cy="27.2" r="1.03" fill="#ffc000" opacity="0.8"/><circle cx="59.9" cy="32.0" r="0.98" fill="#ff6000" opacity="0.8"/><circle cx="51.7" cy="10.7" r="0.68" fill="#ff6000" opacity="0.8"/><circle cx="22.7" cy="23.0" r="1.29" fill="#ffe030" opacity="0.8"/>
</g>
<defs><filter id="fb54_2" filterUnits="userSpaceOnUse" x="-10" y="-10" width="83" height="76" color-interpolation-filters="sRGB"><feGaussianBlur stdDeviation="0.45"/></filter></defs>
<g filter="url(#fb54_2)">
<path d="M0 19.8 L5.8 24.4 L11 31.4 L18.6 35 L25.6 38.4 L30 42.5 L33.8 46.6" fill="none" stroke="#e8ff30" stroke-width="1.0" stroke-linejoin="round" stroke-linecap="round"/>
<path d="M11.6 38.4 L14 42 L17.5 47.7 L16.3 53.5" fill="none" stroke="#e8ff30" stroke-width="1.0" stroke-linejoin="round" stroke-linecap="round"/>
<path d="M48 9 L52 10 L54.7 12.8 L58.2 17.5" fill="none" stroke="#e8ff30" stroke-width="1.0" stroke-linejoin="round" stroke-linecap="round"/>
<path d="M20 34 L25 37.5" fill="none" stroke="#e8ff30" stroke-width="1.0" stroke-linejoin="round" stroke-linecap="round"/>
</g>
<path d="M27.5 28.4H35.1M31.3 24.6V32.2" stroke="#1a1208" stroke-width="1.25" fill="none" opacity="0.92"/>
</svg>
<svg x="30" y="384" width="64.5" height="55.5" viewBox="0 0 64.5 55.5" overflow="hidden">
<rect width="64.5" height="55.5" fill="#004dff"/>
<g filter="url(#f60)">
<rect x="-8.50" y="-8.50" width="17.06" height="16.93" fill="#004dff"/>
<rect x="7.56" y="-8.50" width="9.06" height="16.93" fill="#001aff"/>
<rect x="15.62" y="-8.50" width="9.06" height="16.93" fill="#004dff"/>
<rect x="23.69" y="-8.50" width="9.06" height="16.93" fill="#004dff"/>
<rect x="31.75" y="-8.50" width="9.06" height="16.93" fill="#001aff"/>
<rect x="39.81" y="-8.50" width="9.06" height="16.93" fill="#001aff"/>
<rect x="47.88" y="-8.50" width="9.06" height="16.93" fill="#004dff"/>
<rect x="55.94" y="-8.50" width="17.06" height="16.93" fill="#004dff"/>
<rect x="-8.50" y="7.43" width="17.06" height="8.93" fill="#001aff"/>
<rect x="7.56" y="7.43" width="9.06" height="8.93" fill="#004dff"/>
<rect x="15.62" y="7.43" width="9.06" height="8.93" fill="#001aff"/>
<rect x="23.69" y="7.43" width="9.06" height="8.93" fill="#001aff"/>
<rect x="31.75" y="7.43" width="9.06" height="8.93" fill="#001aff"/>
<rect x="39.81" y="7.43" width="9.06" height="8.93" fill="#001aff"/>
<rect x="47.88" y="7.43" width="9.06" height="8.93" fill="#001aff"/>
<rect x="55.94" y="7.43" width="17.06" height="8.93" fill="#004dff"/>
<rect x="-8.50" y="15.36" width="17.06" height="8.93" fill="#004dff"/>
<rect x="7.56" y="15.36" width="9.06" height="8.93" fill="#004dff"/>
<rect x="15.62" y="15.36" width="9.06" height="8.93" fill="#001aff"/>
<rect x="23.69" y="15.36" width="9.06" height="8.93" fill="#004dff"/>
<rect x="31.75" y="15.36" width="9.06" height="8.93" fill="#004dff"/>
<rect x="39.81" y="15.36" width="9.06" height="8.93" fill="#001aff"/>
<rect x="47.88" y="15.36" width="9.06" height="8.93" fill="#001aff"/>
<rect x="55.94" y="15.36" width="17.06" height="8.93" fill="#004dff"/>
<rect x="-8.50" y="23.29" width="17.06" height="8.93" fill="#001aff"/>
<rect x="7.56" y="23.29" width="9.06" height="8.93" fill="#001aff"/>
<rect x="15.62" y="23.29" width="9.06" height="8.93" fill="#004dff"/>
<rect x="23.69" y="23.29" width="9.06" height="8.93" fill="#001aff"/>
<rect x="31.75" y="23.29" width="9.06" height="8.93" fill="#001aff"/>
<rect x="39.81" y="23.29" width="9.06" height="8.93" fill="#004dff"/>
<rect x="47.88" y="23.29" width="9.06" height="8.93" fill="#004dff"/>
<rect x="55.94" y="23.29" width="17.06" height="8.93" fill="#001aff"/>
<rect x="-8.50" y="31.21" width="17.06" height="8.93" fill="#004dff"/>
<rect x="7.56" y="31.21" width="9.06" height="8.93" fill="#001aff"/>
<rect x="15.62" y="31.21" width="9.06" height="8.93" fill="#001aff"/>
<rect x="23.69" y="31.21" width="9.06" height="8.93" fill="#001aff"/>
<rect x="31.75" y="31.21" width="9.06" height="8.93" fill="#001aff"/>
<rect x="39.81" y="31.21" width="9.06" height="8.93" fill="#001aff"/>
<rect x="47.88" y="31.21" width="9.06" height="8.93" fill="#001aff"/>
<rect x="55.94" y="31.21" width="17.06" height="8.93" fill="#0080ff"/>
<rect x="-8.50" y="39.14" width="17.06" height="8.93" fill="#001aff"/>
<rect x="7.56" y="39.14" width="9.06" height="8.93" fill="#004dff"/>
<rect x="15.62" y="39.14" width="9.06" height="8.93" fill="#001aff"/>
<rect x="23.69" y="39.14" width="9.06" height="8.93" fill="#004dff"/>
<rect x="31.75" y="39.14" width="9.06" height="8.93" fill="#001aff"/>
<rect x="39.81" y="39.14" width="9.06" height="8.93" fill="#001aff"/>
<rect x="47.88" y="39.14" width="9.06" height="8.93" fill="#001aff"/>
<rect x="55.94" y="39.14" width="17.06" height="8.93" fill="#00b2ff"/>
<rect x="-8.50" y="47.07" width="17.06" height="16.93" fill="#001aff"/>
<rect x="7.56" y="47.07" width="9.06" height="16.93" fill="#001aff"/>
<rect x="15.62" y="47.07" width="9.06" height="16.93" fill="#001aff"/>
<rect x="23.69" y="47.07" width="9.06" height="16.93" fill="#001aff"/>
<rect x="31.75" y="47.07" width="9.06" height="16.93" fill="#001aff"/>
<rect x="39.81" y="47.07" width="9.06" height="16.93" fill="#004dff"/>
<rect x="47.88" y="47.07" width="9.06" height="16.93" fill="#004dff"/>
<rect x="55.94" y="47.07" width="17.06" height="16.93" fill="#004dff"/>
</g>
<defs><filter id="f60" x="-20%" y="-20%" width="140%" height="140%" color-interpolation-filters="sRGB"><feGaussianBlur stdDeviation="1.8" result="b"/><feTurbulence type="fractalNoise" baseFrequency="0.2" numOctaves="2" seed="31" result="n"/><feDisplacementMap in="b" in2="n" scale="8.0" xChannelSelector="R" yChannelSelector="G" result="d"/><feGaussianBlur in="d" stdDeviation="0.5"/></filter></defs>
<defs><filter id="fb60_0" filterUnits="userSpaceOnUse" x="-10" y="-10" width="84.5" height="75.5" color-interpolation-filters="sRGB"><feGaussianBlur stdDeviation="0.45"/></filter></defs>
<g filter="url(#fb60_0)">
<polygon points="55.7,56.5 64.5,42.7 64.5,56.5" fill="#a00000"/>
</g>
<path d="M28.7 28.1H36.3M32.5 24.3V31.9" stroke="#1a1208" stroke-width="1.25" fill="none" opacity="0.92"/>
</svg>
<svg x="94.5" y="384" width="64.5" height="55.5" viewBox="0 0 64.5 55.5" overflow="hidden">
<rect width="64.5" height="55.5" fill="#004dff"/>
<g filter="url(#f61)">
<rect x="-8.50" y="-8.50" width="17.06" height="16.93" fill="#004dff"/>
<rect x="7.56" y="-8.50" width="9.06" height="16.93" fill="#0080ff"/>
<rect x="15.62" y="-8.50" width="9.06" height="16.93" fill="#004dff"/>
<rect x="23.69" y="-8.50" width="9.06" height="16.93" fill="#004dff"/>
<rect x="31.75" y="-8.50" width="9.06" height="16.93" fill="#001aff"/>
<rect x="39.81" y="-8.50" width="9.06" height="16.93" fill="#001aff"/>
<rect x="47.88" y="-8.50" width="9.06" height="16.93" fill="#004dff"/>
<rect x="55.94" y="-8.50" width="17.06" height="16.93" fill="#004dff"/>
<rect x="-8.50" y="7.43" width="17.06" height="8.93" fill="#004dff"/>
<rect x="7.56" y="7.43" width="9.06" height="8.93" fill="#004dff"/>
<rect x="15.62" y="7.43" width="9.06" height="8.93" fill="#001aff"/>
<rect x="23.69" y="7.43" width="9.06" height="8.93" fill="#0000e6"/>
<rect x="31.75" y="7.43" width="9.06" height="8.93" fill="#0000e6"/>
<rect x="39.81" y="7.43" width="9.06" height="8.93" fill="#001aff"/>
<rect x="47.88" y="7.43" width="9.06" height="8.93" fill="#001aff"/>
<rect x="55.94" y="7.43" width="17.06" height="8.93" fill="#004dff"/>
<rect x="-8.50" y="15.36" width="17.06" height="8.93" fill="#001aff"/>
<rect x="7.56" y="15.36" width="9.06" height="8.93" fill="#001aff"/>
<rect x="15.62" y="15.36" width="9.06" height="8.93" fill="#001aff"/>
<rect x="23.69" y="15.36" width="9.06" height="8.93" fill="#001aff"/>
<rect x="31.75" y="15.36" width="9.06" height="8.93" fill="#001aff"/>
<rect x="39.81" y="15.36" width="9.06" height="8.93" fill="#0000e6"/>
<rect x="47.88" y="15.36" width="9.06" height="8.93" fill="#001aff"/>
<rect x="55.94" y="15.36" width="17.06" height="8.93" fill="#004dff"/>
<rect x="-8.50" y="23.29" width="17.06" height="8.93" fill="#001aff"/>
<rect x="7.56" y="23.29" width="9.06" height="8.93" fill="#001aff"/>
<rect x="15.62" y="23.29" width="9.06" height="8.93" fill="#001aff"/>
<rect x="23.69" y="23.29" width="9.06" height="8.93" fill="#001aff"/>
<rect x="31.75" y="23.29" width="9.06" height="8.93" fill="#001aff"/>
<rect x="39.81" y="23.29" width="9.06" height="8.93" fill="#001aff"/>
<rect x="47.88" y="23.29" width="9.06" height="8.93" fill="#001aff"/>
<rect x="55.94" y="23.29" width="17.06" height="8.93" fill="#001aff"/>
<rect x="-8.50" y="31.21" width="17.06" height="8.93" fill="#001aff"/>
<rect x="7.56" y="31.21" width="9.06" height="8.93" fill="#001aff"/>
<rect x="15.62" y="31.21" width="9.06" height="8.93" fill="#001aff"/>
<rect x="23.69" y="31.21" width="9.06" height="8.93" fill="#004dff"/>
<rect x="31.75" y="31.21" width="9.06" height="8.93" fill="#001aff"/>
<rect x="39.81" y="31.21" width="9.06" height="8.93" fill="#001aff"/>
<rect x="47.88" y="31.21" width="9.06" height="8.93" fill="#001aff"/>
<rect x="55.94" y="31.21" width="17.06" height="8.93" fill="#004dff"/>
<rect x="-8.50" y="39.14" width="17.06" height="8.93" fill="#0000e6"/>
<rect x="7.56" y="39.14" width="9.06" height="8.93" fill="#001aff"/>
<rect x="15.62" y="39.14" width="9.06" height="8.93" fill="#001aff"/>
<rect x="23.69" y="39.14" width="9.06" height="8.93" fill="#001aff"/>
<rect x="31.75" y="39.14" width="9.06" height="8.93" fill="#004dff"/>
<rect x="39.81" y="39.14" width="9.06" height="8.93" fill="#001aff"/>
<rect x="47.88" y="39.14" width="9.06" height="8.93" fill="#001aff"/>
<rect x="55.94" y="39.14" width="17.06" height="8.93" fill="#004dff"/>
<rect x="-8.50" y="47.07" width="17.06" height="16.93" fill="#001aff"/>
<rect x="7.56" y="47.07" width="9.06" height="16.93" fill="#0000e6"/>
<rect x="15.62" y="47.07" width="9.06" height="16.93" fill="#001aff"/>
<rect x="23.69" y="47.07" width="9.06" height="16.93" fill="#001aff"/>
<rect x="31.75" y="47.07" width="9.06" height="16.93" fill="#001aff"/>
<rect x="39.81" y="47.07" width="9.06" height="16.93" fill="#001aff"/>
<rect x="47.88" y="47.07" width="9.06" height="16.93" fill="#004dff"/>
<rect x="55.94" y="47.07" width="17.06" height="16.93" fill="#004dff"/>
</g>
<defs><filter id="f61" x="-20%" y="-20%" width="140%" height="140%" color-interpolation-filters="sRGB"><feGaussianBlur stdDeviation="1.8" result="b"/><feTurbulence type="fractalNoise" baseFrequency="0.2" numOctaves="2" seed="32" result="n"/><feDisplacementMap in="b" in2="n" scale="8.0" xChannelSelector="R" yChannelSelector="G" result="d"/><feGaussianBlur in="d" stdDeviation="0.5"/></filter></defs>
<defs><filter id="fb61_0" filterUnits="userSpaceOnUse" x="-10" y="-10" width="84.5" height="75.5" color-interpolation-filters="sRGB"><feGaussianBlur stdDeviation="0.45"/></filter></defs>
<g filter="url(#fb61_0)">
<polygon points="55.7,56.5 64.5,42.7 64.5,56.5" fill="#a00000"/>
</g>
<path d="M28.2 28.1H35.8M32.0 24.3V31.9" stroke="#1a1208" stroke-width="1.25" fill="none" opacity="0.92"/>
</svg>
<svg x="159" y="384" width="64" height="55.5" viewBox="0 0 64 55.5" overflow="hidden">
<rect width="64" height="55.5" fill="#ffb300"/>
<g filter="url(#f62)">
<rect x="-8.50" y="-8.50" width="17.00" height="16.93" fill="#ffb300"/>
<rect x="7.50" y="-8.50" width="9.00" height="16.93" fill="#ffb300"/>
<rect x="15.50" y="-8.50" width="9.00" height="16.93" fill="#ffb300"/>
<rect x="23.50" y="-8.50" width="9.00" height="16.93" fill="#ffb300"/>
<rect x="31.50" y="-8.50" width="9.00" height="16.93" fill="#ffb300"/>
<rect x="39.50" y="-8.50" width="9.00" height="16.93" fill="#ffb300"/>
<rect x="47.50" y="-8.50" width="9.00" height="16.93" fill="#ffb300"/>
<rect x="55.50" y="-8.50" width="17.00" height="16.93" fill="#ffb300"/>
<rect x="-8.50" y="7.43" width="17.00" height="8.93" fill="#ffb300"/>
<rect x="7.50" y="7.43" width="9.00" height="8.93" fill="#ffb300"/>
<rect x="15.50" y="7.43" width="9.00" height="8.93" fill="#ffb300"/>
<rect x="23.50" y="7.43" width="9.00" height="8.93" fill="#ffb300"/>
<rect x="31.50" y="7.43" width="9.00" height="8.93" fill="#ff8000"/>
<rect x="39.50" y="7.43" width="9.00" height="8.93" fill="#ff8000"/>
<rect x="47.50" y="7.43" width="9.00" height="8.93" fill="#ffb300"/>
<rect x="55.50" y="7.43" width="17.00" height="8.93" fill="#ffb300"/>
<rect x="-8.50" y="15.36" width="17.00" height="8.93" fill="#ffb300"/>
<rect x="7.50" y="15.36" width="9.00" height="8.93" fill="#ffb300"/>
<rect x="15.50" y="15.36" width="9.00" height="8.93" fill="#ffb300"/>
<rect x="23.50" y="15.36" width="9.00" height="8.93" fill="#ffb300"/>
<rect x="31.50" y="15.36" width="9.00" height="8.93" fill="#ffb300"/>
<rect x="39.50" y="15.36" width="9.00" height="8.93" fill="#ffb300"/>
<rect x="47.50" y="15.36" width="9.00" height="8.93" fill="#ffb300"/>
<rect x="55.50" y="15.36" width="17.00" height="8.93" fill="#ffb300"/>
<rect x="-8.50" y="23.29" width="17.00" height="8.93" fill="#ffb300"/>
<rect x="7.50" y="23.29" width="9.00" height="8.93" fill="#ffb300"/>
<rect x="15.50" y="23.29" width="9.00" height="8.93" fill="#ffb300"/>
<rect x="23.50" y="23.29" width="9.00" height="8.93" fill="#ffb300"/>
<rect x="31.50" y="23.29" width="9.00" height="8.93" fill="#ffb300"/>
<rect x="39.50" y="23.29" width="9.00" height="8.93" fill="#ffb300"/>
<rect x="47.50" y="23.29" width="9.00" height="8.93" fill="#ffb300"/>
<rect x="55.50" y="23.29" width="17.00" height="8.93" fill="#ffb300"/>
<rect x="-8.50" y="31.21" width="17.00" height="8.93" fill="#ff8000"/>
<rect x="7.50" y="31.21" width="9.00" height="8.93" fill="#ff8000"/>
<rect x="15.50" y="31.21" width="9.00" height="8.93" fill="#ffb300"/>
<rect x="23.50" y="31.21" width="9.00" height="8.93" fill="#ffb300"/>
<rect x="31.50" y="31.21" width="9.00" height="8.93" fill="#ffb300"/>
<rect x="39.50" y="31.21" width="9.00" height="8.93" fill="#ffb300"/>
<rect x="47.50" y="31.21" width="9.00" height="8.93" fill="#ffb300"/>
<rect x="55.50" y="31.21" width="17.00" height="8.93" fill="#ffb300"/>
<rect x="-8.50" y="39.14" width="17.00" height="8.93" fill="#ff8000"/>
<rect x="7.50" y="39.14" width="9.00" height="8.93" fill="#ff8000"/>
<rect x="15.50" y="39.14" width="9.00" height="8.93" fill="#ffb300"/>
<rect x="23.50" y="39.14" width="9.00" height="8.93" fill="#ffb300"/>
<rect x="31.50" y="39.14" width="9.00" height="8.93" fill="#ffb300"/>
<rect x="39.50" y="39.14" width="9.00" height="8.93" fill="#ffb300"/>
<rect x="47.50" y="39.14" width="9.00" height="8.93" fill="#ffb300"/>
<rect x="55.50" y="39.14" width="17.00" height="8.93" fill="#ffb300"/>
<rect x="-8.50" y="47.07" width="17.00" height="16.93" fill="#ffb300"/>
<rect x="7.50" y="47.07" width="9.00" height="16.93" fill="#ffb300"/>
<rect x="15.50" y="47.07" width="9.00" height="16.93" fill="#ffb300"/>
<rect x="23.50" y="47.07" width="9.00" height="16.93" fill="#ffb300"/>
<rect x="31.50" y="47.07" width="9.00" height="16.93" fill="#ffb300"/>
<rect x="39.50" y="47.07" width="9.00" height="16.93" fill="#ffb300"/>
<rect x="47.50" y="47.07" width="9.00" height="16.93" fill="#ffb300"/>
<rect x="55.50" y="47.07" width="17.00" height="16.93" fill="#ffb300"/>
</g>
<defs><filter id="f62" x="-20%" y="-20%" width="140%" height="140%" color-interpolation-filters="sRGB"><feGaussianBlur stdDeviation="1.8" result="b"/><feTurbulence type="fractalNoise" baseFrequency="0.2" numOctaves="2" seed="33" result="n"/><feDisplacementMap in="b" in2="n" scale="8.0" xChannelSelector="R" yChannelSelector="G" result="d"/><feGaussianBlur in="d" stdDeviation="0.5"/></filter></defs>
<defs><filter id="fb62_0" filterUnits="userSpaceOnUse" x="-10" y="-10" width="84" height="75.5" color-interpolation-filters="sRGB"><feGaussianBlur stdDeviation="0.9"/></filter></defs>
<g filter="url(#fb62_0)">
<ellipse cx="40.5" cy="10" rx="8" ry="5.8" fill="#ff8800"/>
<ellipse cx="5" cy="41" rx="11" ry="7.5" fill="#ff8800"/>
</g>
<defs><filter id="fb62_1" filterUnits="userSpaceOnUse" x="-10" y="-10" width="84" height="75.5" color-interpolation-filters="sRGB"><feGaussianBlur stdDeviation="0.5"/></filter></defs>
<g filter="url(#fb62_1)">
<circle cx="18.3" cy="52.3" r="0.65" fill="#803000" opacity="0.8"/><circle cx="35.9" cy="55.9" r="0.59" fill="#502000" opacity="0.8"/><circle cx="27.1" cy="46.8" r="0.40" fill="#803000" opacity="0.8"/><circle cx="38.3" cy="49.1" r="0.46" fill="#502000" opacity="0.8"/><circle cx="38.0" cy="52.3" r="0.57" fill="#803000" opacity="0.8"/><circle cx="30.0" cy="44.4" r="0.53" fill="#803000" opacity="0.8"/><circle cx="32.0" cy="51.8" r="0.78" fill="#502000" opacity="0.8"/><circle cx="18.0" cy="53.8" r="0.45" fill="#502000" opacity="0.8"/><circle cx="25.8" cy="50.6" r="0.54" fill="#803000" opacity="0.8"/><circle cx="17.9" cy="52.0" r="0.59" fill="#502000" opacity="0.8"/><circle cx="15.9" cy="46.4" r="0.67" fill="#502000" opacity="0.8"/><circle cx="17.2" cy="49.7" r="0.73" fill="#502000" opacity="0.8"/><circle cx="22.9" cy="45.8" r="0.61" fill="#803000" opacity="0.8"/><circle cx="23.5" cy="49.4" r="0.55" fill="#803000" opacity="0.8"/>
</g>
<defs><filter id="fb62_2" filterUnits="userSpaceOnUse" x="-10" y="-10" width="84" height="75.5" color-interpolation-filters="sRGB"><feGaussianBlur stdDeviation="0.45"/></filter></defs>
<g filter="url(#fb62_2)">
<polygon points="55.7,56.5 64.5,42.7 64.5,56.5" fill="#a00000"/>
<polygon points="-1,48.5 4,56.5 -1,56.5" fill="#900000"/>
</g>
<path d="M27.6 28.1H35.2M31.4 24.3V31.9" stroke="#1a1208" stroke-width="1.25" fill="none" opacity="0.92"/>
</svg>
<svg x="223" y="384" width="64" height="55.5" viewBox="0 0 64 55.5" overflow="hidden">
<rect width="64" height="55.5" fill="#0080ff"/>
<g filter="url(#f63)">
<rect x="-8.50" y="-8.50" width="17.00" height="16.93" fill="#0080ff"/>
<rect x="7.50" y="-8.50" width="9.00" height="16.93" fill="#00b2ff"/>
<rect x="15.50" y="-8.50" width="9.00" height="16.93" fill="#00b2ff"/>
<rect x="23.50" y="-8.50" width="9.00" height="16.93" fill="#0080ff"/>
<rect x="31.50" y="-8.50" width="9.00" height="16.93" fill="#0080ff"/>
<rect x="39.50" y="-8.50" width="9.00" height="16.93" fill="#004dff"/>
<rect x="47.50" y="-8.50" width="9.00" height="16.93" fill="#001aff"/>
<rect x="55.50" y="-8.50" width="17.00" height="16.93" fill="#001aff"/>
<rect x="-8.50" y="7.43" width="17.00" height="8.93" fill="#0080ff"/>
<rect x="7.50" y="7.43" width="9.00" height="8.93" fill="#0080ff"/>
<rect x="15.50" y="7.43" width="9.00" height="8.93" fill="#0080ff"/>
<rect x="23.50" y="7.43" width="9.00" height="8.93" fill="#00b2ff"/>
<rect x="31.50" y="7.43" width="9.00" height="8.93" fill="#0080ff"/>
<rect x="39.50" y="7.43" width="9.00" height="8.93" fill="#0080ff"/>
<rect x="47.50" y="7.43" width="9.00" height="8.93" fill="#004dff"/>
<rect x="55.50" y="7.43" width="17.00" height="8.93" fill="#b30000"/>
<rect x="-8.50" y="15.36" width="17.00" height="8.93" fill="#0080ff"/>
<rect x="7.50" y="15.36" width="9.00" height="8.93" fill="#0080ff"/>
<rect x="15.50" y="15.36" width="9.00" height="8.93" fill="#0080ff"/>
<rect x="23.50" y="15.36" width="9.00" height="8.93" fill="#0080ff"/>
<rect x="31.50" y="15.36" width="9.00" height="8.93" fill="#0080ff"/>
<rect x="39.50" y="15.36" width="9.00" height="8.93" fill="#0080ff"/>
<rect x="47.50" y="15.36" width="9.00" height="8.93" fill="#004dff"/>
<rect x="55.50" y="15.36" width="17.00" height="8.93" fill="#004dff"/>
<rect x="-8.50" y="23.29" width="17.00" height="8.93" fill="#0080ff"/>
<rect x="7.50" y="23.29" width="9.00" height="8.93" fill="#0080ff"/>
<rect x="15.50" y="23.29" width="9.00" height="8.93" fill="#0080ff"/>
<rect x="23.50" y="23.29" width="9.00" height="8.93" fill="#0080ff"/>
<rect x="31.50" y="23.29" width="9.00" height="8.93" fill="#0080ff"/>
<rect x="39.50" y="23.29" width="9.00" height="8.93" fill="#0080ff"/>
<rect x="47.50" y="23.29" width="9.00" height="8.93" fill="#0080ff"/>
<rect x="55.50" y="23.29" width="17.00" height="8.93" fill="#004dff"/>
<rect x="-8.50" y="31.21" width="17.00" height="8.93" fill="#004dff"/>
<rect x="7.50" y="31.21" width="9.00" height="8.93" fill="#0080ff"/>
<rect x="15.50" y="31.21" width="9.00" height="8.93" fill="#0080ff"/>
<rect x="23.50" y="31.21" width="9.00" height="8.93" fill="#0080ff"/>
<rect x="31.50" y="31.21" width="9.00" height="8.93" fill="#0080ff"/>
<rect x="39.50" y="31.21" width="9.00" height="8.93" fill="#0080ff"/>
<rect x="47.50" y="31.21" width="9.00" height="8.93" fill="#0080ff"/>
<rect x="55.50" y="31.21" width="17.00" height="8.93" fill="#00b2ff"/>
<rect x="-8.50" y="39.14" width="17.00" height="8.93" fill="#004dff"/>
<rect x="7.50" y="39.14" width="9.00" height="8.93" fill="#0080ff"/>
<rect x="15.50" y="39.14" width="9.00" height="8.93" fill="#001aff"/>
<rect x="23.50" y="39.14" width="9.00" height="8.93" fill="#001aff"/>
<rect x="31.50" y="39.14" width="9.00" height="8.93" fill="#001aff"/>
<rect x="39.50" y="39.14" width="9.00" height="8.93" fill="#004dff"/>
<rect x="47.50" y="39.14" width="9.00" height="8.93" fill="#0080ff"/>
<rect x="55.50" y="39.14" width="17.00" height="8.93" fill="#00b2ff"/>
<rect x="-8.50" y="47.07" width="17.00" height="16.93" fill="#004dff"/>
<rect x="7.50" y="47.07" width="9.00" height="16.93" fill="#004dff"/>
<rect x="15.50" y="47.07" width="9.00" height="16.93" fill="#004dff"/>
<rect x="23.50" y="47.07" width="9.00" height="16.93" fill="#004dff"/>
<rect x="31.50" y="47.07" width="9.00" height="16.93" fill="#001aff"/>
<rect x="39.50" y="47.07" width="9.00" height="16.93" fill="#004dff"/>
<rect x="47.50" y="47.07" width="9.00" height="16.93" fill="#0080ff"/>
<rect x="55.50" y="47.07" width="17.00" height="16.93" fill="#0080ff"/>
</g>
<defs><filter id="f63" x="-20%" y="-20%" width="140%" height="140%" color-interpolation-filters="sRGB"><feGaussianBlur stdDeviation="1.8" result="b"/><feTurbulence type="fractalNoise" baseFrequency="0.2" numOctaves="2" seed="34" result="n"/><feDisplacementMap in="b" in2="n" scale="8.0" xChannelSelector="R" yChannelSelector="G" result="d"/><feGaussianBlur in="d" stdDeviation="0.5"/></filter></defs>
<defs><filter id="fb63_0" filterUnits="userSpaceOnUse" x="-10" y="-10" width="84" height="75.5" color-interpolation-filters="sRGB"><feGaussianBlur stdDeviation="0.5"/></filter></defs>
<g filter="url(#fb63_0)">
<circle cx="38.0" cy="3.8" r="0.62" fill="#a01010" opacity="0.8"/><circle cx="48.9" cy="13.0" r="0.54" fill="#c02020" opacity="0.8"/><circle cx="57.9" cy="9.4" r="0.88" fill="#c02020" opacity="0.8"/><circle cx="45.6" cy="0.0" r="0.80" fill="#a01010" opacity="0.8"/><circle cx="49.6" cy="8.7" r="0.81" fill="#a01010" opacity="0.8"/><circle cx="57.8" cy="17.2" r="0.58" fill="#a01010" opacity="0.8"/><circle cx="44.7" cy="0.6" r="0.71" fill="#a01010" opacity="0.8"/><circle cx="47.4" cy="7.8" r="0.87" fill="#c02020" opacity="0.8"/><circle cx="41.9" cy="8.4" r="0.79" fill="#c02020" opacity="0.8"/><circle cx="40.4" cy="14.7" r="0.80" fill="#a01010" opacity="0.8"/><circle cx="56.0" cy="10.6" r="0.59" fill="#c02020" opacity="0.8"/><circle cx="38.0" cy="11.9" r="0.84" fill="#c02020" opacity="0.8"/><circle cx="47.1" cy="1.3" r="0.69" fill="#a01010" opacity="0.8"/><circle cx="47.6" cy="12.6" r="0.54" fill="#a01010" opacity="0.8"/>
</g>
<defs><filter id="fb63_1" filterUnits="userSpaceOnUse" x="-10" y="-10" width="84" height="75.5" color-interpolation-filters="sRGB"><feGaussianBlur stdDeviation="0.45"/></filter></defs>
<g filter="url(#fb63_1)">
<polygon points="55.7,56.5 64.5,42.7 64.5,56.5" fill="#a00000"/>
</g>
<path d="M27.6 28.1H35.2M31.4 24.3V31.9" stroke="#1a1208" stroke-width="1.25" fill="none" opacity="0.92"/>
</svg>
<svg x="287" y="384" width="63" height="55.5" viewBox="0 0 63 55.5" overflow="hidden">
<rect width="63" height="55.5" fill="#ffe500"/>
<g filter="url(#f64)">
<rect x="-8.50" y="-8.50" width="16.88" height="16.93" fill="#ffe500"/>
<rect x="7.38" y="-8.50" width="8.88" height="16.93" fill="#ffe500"/>
<rect x="15.25" y="-8.50" width="8.88" height="16.93" fill="#ffb300"/>
<rect x="23.12" y="-8.50" width="8.88" height="16.93" fill="#ffb300"/>
<rect x="31.00" y="-8.50" width="8.88" height="16.93" fill="#ffb300"/>
<rect x="38.88" y="-8.50" width="8.88" height="16.93" fill="#ff8000"/>
<rect x="46.75" y="-8.50" width="8.88" height="16.93" fill="#ff4c00"/>
<rect x="54.62" y="-8.50" width="16.88" height="16.93" fill="#ff4c00"/>
<rect x="-8.50" y="7.43" width="16.88" height="8.93" fill="#ffe500"/>
<rect x="7.38" y="7.43" width="8.88" height="8.93" fill="#ffb300"/>
<rect x="15.25" y="7.43" width="8.88" height="8.93" fill="#ffb300"/>
<rect x="23.12" y="7.43" width="8.88" height="8.93" fill="#ffe500"/>
<rect x="31.00" y="7.43" width="8.88" height="8.93" fill="#ffb300"/>
<rect x="38.88" y="7.43" width="8.88" height="8.93" fill="#ffb300"/>
<rect x="46.75" y="7.43" width="8.88" height="8.93" fill="#ff4c00"/>
<rect x="54.62" y="7.43" width="16.88" height="8.93" fill="#ff4c00"/>
<rect x="-8.50" y="15.36" width="16.88" height="8.93" fill="#ffb300"/>
<rect x="7.38" y="15.36" width="8.88" height="8.93" fill="#ffb300"/>
<rect x="15.25" y="15.36" width="8.88" height="8.93" fill="#ffe500"/>
<rect x="23.12" y="15.36" width="8.88" height="8.93" fill="#ffb300"/>
<rect x="31.00" y="15.36" width="8.88" height="8.93" fill="#ffb300"/>
<rect x="38.88" y="15.36" width="8.88" height="8.93" fill="#ffb300"/>
<rect x="46.75" y="15.36" width="8.88" height="8.93" fill="#ff8000"/>
<rect x="54.62" y="15.36" width="16.88" height="8.93" fill="#ff4c00"/>
<rect x="-8.50" y="23.29" width="16.88" height="8.93" fill="#ffb300"/>
<rect x="7.38" y="23.29" width="8.88" height="8.93" fill="#ffb300"/>
<rect x="15.25" y="23.29" width="8.88" height="8.93" fill="#ffb300"/>
<rect x="23.12" y="23.29" width="8.88" height="8.93" fill="#ffb300"/>
<rect x="31.00" y="23.29" width="8.88" height="8.93" fill="#ffb300"/>
<rect x="38.88" y="23.29" width="8.88" height="8.93" fill="#ffb300"/>
<rect x="46.75" y="23.29" width="8.88" height="8.93" fill="#ffb300"/>
<rect x="54.62" y="23.29" width="16.88" height="8.93" fill="#ff4c00"/>
<rect x="-8.50" y="31.21" width="16.88" height="8.93" fill="#ffb300"/>
<rect x="7.38" y="31.21" width="8.88" height="8.93" fill="#ffb300"/>
<rect x="15.25" y="31.21" width="8.88" height="8.93" fill="#ffb300"/>
<rect x="23.12" y="31.21" width="8.88" height="8.93" fill="#ffb300"/>
<rect x="31.00" y="31.21" width="8.88" height="8.93" fill="#ffb300"/>
<rect x="38.88" y="31.21" width="8.88" height="8.93" fill="#ffb300"/>
<rect x="46.75" y="31.21" width="8.88" height="8.93" fill="#ffb300"/>
<rect x="54.62" y="31.21" width="16.88" height="8.93" fill="#ffe500"/>
<rect x="-8.50" y="39.14" width="16.88" height="8.93" fill="#ff8000"/>
<rect x="7.38" y="39.14" width="8.88" height="8.93" fill="#ff8000"/>
<rect x="15.25" y="39.14" width="8.88" height="8.93" fill="#ff8000"/>
<rect x="23.12" y="39.14" width="8.88" height="8.93" fill="#ff8000"/>
<rect x="31.00" y="39.14" width="8.88" height="8.93" fill="#ff8000"/>
<rect x="38.88" y="39.14" width="8.88" height="8.93" fill="#ffb300"/>
<rect x="46.75" y="39.14" width="8.88" height="8.93" fill="#ffb300"/>
<rect x="54.62" y="39.14" width="16.88" height="8.93" fill="#ffb300"/>
<rect x="-8.50" y="47.07" width="16.88" height="16.93" fill="#ff8000"/>
<rect x="7.38" y="47.07" width="8.88" height="16.93" fill="#ff8000"/>
<rect x="15.25" y="47.07" width="8.88" height="16.93" fill="#ff8000"/>
<rect x="23.12" y="47.07" width="8.88" height="16.93" fill="#ff8000"/>
<rect x="31.00" y="47.07" width="8.88" height="16.93" fill="#ff8000"/>
<rect x="38.88" y="47.07" width="8.88" height="16.93" fill="#ff8000"/>
<rect x="46.75" y="47.07" width="8.88" height="16.93" fill="#ffb300"/>
<rect x="54.62" y="47.07" width="16.88" height="16.93" fill="#ffb300"/>
</g>
<defs><filter id="f64" x="-20%" y="-20%" width="140%" height="140%" color-interpolation-filters="sRGB"><feGaussianBlur stdDeviation="1.8" result="b"/><feTurbulence type="fractalNoise" baseFrequency="0.2" numOctaves="2" seed="35" result="n"/><feDisplacementMap in="b" in2="n" scale="8.0" xChannelSelector="R" yChannelSelector="G" result="d"/><feGaussianBlur in="d" stdDeviation="0.5"/></filter></defs>
<defs><filter id="fb64_0" filterUnits="userSpaceOnUse" x="-10" y="-10" width="83" height="75.5" color-interpolation-filters="sRGB"><feGaussianBlur stdDeviation="0.45"/></filter></defs>
<g filter="url(#fb64_0)">
<polygon points="55.7,56.5 64.5,42.7 64.5,56.5" fill="#a00000"/>
<path d="M14 15.5 L60 2" stroke="#5a1000" stroke-width="1.9" stroke-dasharray="3.2 2" fill="none"/>
</g>
<path d="M27.5 28.1H35.1M31.3 24.3V31.9" stroke="#1a1208" stroke-width="1.25" fill="none" opacity="0.92"/>
</svg>
<svg x="30" y="440" width="64.5" height="56" viewBox="0 0 64.5 56" overflow="hidden">
<rect width="64.5" height="56" fill="#e5ff1a"/>
<g filter="url(#f70)">
<rect x="-8.50" y="-8.50" width="17.06" height="17.00" fill="#e5ff1a"/>
<rect x="7.56" y="-8.50" width="9.06" height="17.00" fill="#e5ff1a"/>
<rect x="15.62" y="-8.50" width="9.06" height="17.00" fill="#e5ff1a"/>
<rect x="23.69" y="-8.50" width="9.06" height="17.00" fill="#e5ff1a"/>
<rect x="31.75" y="-8.50" width="9.06" height="17.00" fill="#e5ff1a"/>
<rect x="39.81" y="-8.50" width="9.06" height="17.00" fill="#e5ff1a"/>
<rect x="47.88" y="-8.50" width="9.06" height="17.00" fill="#e5ff1a"/>
<rect x="55.94" y="-8.50" width="17.06" height="17.00" fill="#e5ff1a"/>
<rect x="-8.50" y="7.50" width="17.06" height="9.00" fill="#e5ff1a"/>
<rect x="7.56" y="7.50" width="9.06" height="9.00" fill="#e5ff1a"/>
<rect x="15.62" y="7.50" width="9.06" height="9.00" fill="#e5ff1a"/>
<rect x="23.69" y="7.50" width="9.06" height="9.00" fill="#e5ff1a"/>
<rect x="31.75" y="7.50" width="9.06" height="9.00" fill="#ffff00"/>
<rect x="39.81" y="7.50" width="9.06" height="9.00" fill="#e5ff1a"/>
<rect x="47.88" y="7.50" width="9.06" height="9.00" fill="#e5ff1a"/>
<rect x="55.94" y="7.50" width="17.06" height="9.00" fill="#e5ff1a"/>
<rect x="-8.50" y="15.50" width="17.06" height="9.00" fill="#e5ff1a"/>
<rect x="7.56" y="15.50" width="9.06" height="9.00" fill="#ffff00"/>
<rect x="15.62" y="15.50" width="9.06" height="9.00" fill="#e5ff1a"/>
<rect x="23.69" y="15.50" width="9.06" height="9.00" fill="#ffff00"/>
<rect x="31.75" y="15.50" width="9.06" height="9.00" fill="#ffff00"/>
<rect x="39.81" y="15.50" width="9.06" height="9.00" fill="#ffff00"/>
<rect x="47.88" y="15.50" width="9.06" height="9.00" fill="#e5ff1a"/>
<rect x="55.94" y="15.50" width="17.06" height="9.00" fill="#e5ff1a"/>
<rect x="-8.50" y="23.50" width="17.06" height="9.00" fill="#e5ff1a"/>
<rect x="7.56" y="23.50" width="9.06" height="9.00" fill="#ffb300"/>
<rect x="15.62" y="23.50" width="9.06" height="9.00" fill="#e5ff1a"/>
<rect x="23.69" y="23.50" width="9.06" height="9.00" fill="#e5ff1a"/>
<rect x="31.75" y="23.50" width="9.06" height="9.00" fill="#ffff00"/>
<rect x="39.81" y="23.50" width="9.06" height="9.00" fill="#e5ff1a"/>
<rect x="47.88" y="23.50" width="9.06" height="9.00" fill="#e5ff1a"/>
<rect x="55.94" y="23.50" width="17.06" height="9.00" fill="#e5ff1a"/>
<rect x="-8.50" y="31.50" width="17.06" height="9.00" fill="#ffe500"/>
<rect x="7.56" y="31.50" width="9.06" height="9.00" fill="#e5ff1a"/>
<rect x="15.62" y="31.50" width="9.06" height="9.00" fill="#e5ff1a"/>
<rect x="23.69" y="31.50" width="9.06" height="9.00" fill="#e5ff1a"/>
<rect x="31.75" y="31.50" width="9.06" height="9.00" fill="#e5ff1a"/>
<rect x="39.81" y="31.50" width="9.06" height="9.00" fill="#e5ff1a"/>
<rect x="47.88" y="31.50" width="9.06" height="9.00" fill="#ffff00"/>
<rect x="55.94" y="31.50" width="17.06" height="9.00" fill="#e5ff1a"/>
<rect x="-8.50" y="39.50" width="17.06" height="9.00" fill="#ffb300"/>
<rect x="7.56" y="39.50" width="9.06" height="9.00" fill="#ffe500"/>
<rect x="15.62" y="39.50" width="9.06" height="9.00" fill="#ffb300"/>
<rect x="23.69" y="39.50" width="9.06" height="9.00" fill="#e5ff1a"/>
<rect x="31.75" y="39.50" width="9.06" height="9.00" fill="#e5ff1a"/>
<rect x="39.81" y="39.50" width="9.06" height="9.00" fill="#e5ff1a"/>
<rect x="47.88" y="39.50" width="9.06" height="9.00" fill="#e5ff1a"/>
<rect x="55.94" y="39.50" width="17.06" height="9.00" fill="#e5ff1a"/>
<rect x="-8.50" y="47.50" width="17.06" height="17.00" fill="#ffe500"/>
<rect x="7.56" y="47.50" width="9.06" height="17.00" fill="#ffb300"/>
<rect x="15.62" y="47.50" width="9.06" height="17.00" fill="#ffb300"/>
<rect x="23.69" y="47.50" width="9.06" height="17.00" fill="#ffe500"/>
<rect x="31.75" y="47.50" width="9.06" height="17.00" fill="#e5ff1a"/>
<rect x="39.81" y="47.50" width="9.06" height="17.00" fill="#e5ff1a"/>
<rect x="47.88" y="47.50" width="9.06" height="17.00" fill="#e5ff1a"/>
<rect x="55.94" y="47.50" width="17.06" height="17.00" fill="#e5ff1a"/>
</g>
<defs><filter id="f70" x="-20%" y="-20%" width="140%" height="140%" color-interpolation-filters="sRGB"><feGaussianBlur stdDeviation="1.8" result="b"/><feTurbulence type="fractalNoise" baseFrequency="0.2" numOctaves="2" seed="36" result="n"/><feDisplacementMap in="b" in2="n" scale="8.0" xChannelSelector="R" yChannelSelector="G" result="d"/><feGaussianBlur in="d" stdDeviation="0.5"/></filter></defs>
<defs><filter id="fb70_0" filterUnits="userSpaceOnUse" x="-10" y="-10" width="84.5" height="76" color-interpolation-filters="sRGB"><feGaussianBlur stdDeviation="0.45"/></filter></defs>
<g filter="url(#fb70_0)">
<polygon points="55.7,56.5 64.5,42.7 64.5,56.5" fill="#a00000"/>
</g>
<path d="M28.7 28.4H36.3M32.5 24.6V32.2" stroke="#1a1208" stroke-width="1.25" fill="none" opacity="0.92"/>
</svg>
<svg x="94.5" y="440" width="64.5" height="56" viewBox="0 0 64.5 56" overflow="hidden">
<rect width="64.5" height="56" fill="#e5ff1a"/>
<g filter="url(#f71)">
<rect x="-8.50" y="-8.50" width="17.06" height="17.00" fill="#e5ff1a"/>
<rect x="7.56" y="-8.50" width="9.06" height="17.00" fill="#e5ff1a"/>
<rect x="15.62" y="-8.50" width="9.06" height="17.00" fill="#e5ff1a"/>
<rect x="23.69" y="-8.50" width="9.06" height="17.00" fill="#ffe500"/>
<rect x="31.75" y="-8.50" width="9.06" height="17.00" fill="#e5ff1a"/>
<rect x="39.81" y="-8.50" width="9.06" height="17.00" fill="#e5ff1a"/>
<rect x="47.88" y="-8.50" width="9.06" height="17.00" fill="#e5ff1a"/>
<rect x="55.94" y="-8.50" width="17.06" height="17.00" fill="#e5ff1a"/>
<rect x="-8.50" y="7.50" width="17.06" height="9.00" fill="#e5ff1a"/>
<rect x="7.56" y="7.50" width="9.06" height="9.00" fill="#e5ff1a"/>
<rect x="15.62" y="7.50" width="9.06" height="9.00" fill="#b3ff4c"/>
<rect x="23.69" y="7.50" width="9.06" height="9.00" fill="#b3ff4c"/>
<rect x="31.75" y="7.50" width="9.06" height="9.00" fill="#b3ff4c"/>
<rect x="39.81" y="7.50" width="9.06" height="9.00" fill="#e5ff1a"/>
<rect x="47.88" y="7.50" width="9.06" height="9.00" fill="#ffb300"/>
<rect x="55.94" y="7.50" width="17.06" height="9.00" fill="#e5ff1a"/>
<rect x="-8.50" y="15.50" width="17.06" height="9.00" fill="#b3ff4c"/>
<rect x="7.56" y="15.50" width="9.06" height="9.00" fill="#b3ff4c"/>
<rect x="15.62" y="15.50" width="9.06" height="9.00" fill="#b3ff4c"/>
<rect x="23.69" y="15.50" width="9.06" height="9.00" fill="#b3ff4c"/>
<rect x="31.75" y="15.50" width="9.06" height="9.00" fill="#b3ff4c"/>
<rect x="39.81" y="15.50" width="9.06" height="9.00" fill="#b3ff4c"/>
<rect x="47.88" y="15.50" width="9.06" height="9.00" fill="#b3ff4c"/>
<rect x="55.94" y="15.50" width="17.06" height="9.00" fill="#e5ff1a"/>
<rect x="-8.50" y="23.50" width="17.06" height="9.00" fill="#b3ff4c"/>
<rect x="7.56" y="23.50" width="9.06" height="9.00" fill="#b3ff4c"/>
<rect x="15.62" y="23.50" width="9.06" height="9.00" fill="#b3ff4c"/>
<rect x="23.69" y="23.50" width="9.06" height="9.00" fill="#b3ff4c"/>
<rect x="31.75" y="23.50" width="9.06" height="9.00" fill="#b3ff4c"/>
<rect x="39.81" y="23.50" width="9.06" height="9.00" fill="#b3ff4c"/>
<rect x="47.88" y="23.50" width="9.06" height="9.00" fill="#b3ff4c"/>
<rect x="55.94" y="23.50" width="17.06" height="9.00" fill="#e5ff1a"/>
<rect x="-8.50" y="31.50" width="17.06" height="9.00" fill="#e5ff1a"/>
<rect x="7.56" y="31.50" width="9.06" height="9.00" fill="#e5ff1a"/>
<rect x="15.62" y="31.50" width="9.06" height="9.00" fill="#b3ff4c"/>
<rect x="23.69" y="31.50" width="9.06" height="9.00" fill="#b3ff4c"/>
<rect x="31.75" y="31.50" width="9.06" height="9.00" fill="#b3ff4c"/>
<rect x="39.81" y="31.50" width="9.06" height="9.00" fill="#e5ff1a"/>
<rect x="47.88" y="31.50" width="9.06" height="9.00" fill="#e5ff1a"/>
<rect x="55.94" y="31.50" width="17.06" height="9.00" fill="#e5ff1a"/>
<rect x="-8.50" y="39.50" width="17.06" height="9.00" fill="#e5ff1a"/>
<rect x="7.56" y="39.50" width="9.06" height="9.00" fill="#ffb300"/>
<rect x="15.62" y="39.50" width="9.06" height="9.00" fill="#e5ff1a"/>
<rect x="23.69" y="39.50" width="9.06" height="9.00" fill="#e5ff1a"/>
<rect x="31.75" y="39.50" width="9.06" height="9.00" fill="#e5ff1a"/>
<rect x="39.81" y="39.50" width="9.06" height="9.00" fill="#e5ff1a"/>
<rect x="47.88" y="39.50" width="9.06" height="9.00" fill="#e5ff1a"/>
<rect x="55.94" y="39.50" width="17.06" height="9.00" fill="#e5ff1a"/>
<rect x="-8.50" y="47.50" width="17.06" height="17.00" fill="#e5ff1a"/>
<rect x="7.56" y="47.50" width="9.06" height="17.00" fill="#e5ff1a"/>
<rect x="15.62" y="47.50" width="9.06" height="17.00" fill="#e5ff1a"/>
<rect x="23.69" y="47.50" width="9.06" height="17.00" fill="#e5ff1a"/>
<rect x="31.75" y="47.50" width="9.06" height="17.00" fill="#e5ff1a"/>
<rect x="39.81" y="47.50" width="9.06" height="17.00" fill="#e5ff1a"/>
<rect x="47.88" y="47.50" width="9.06" height="17.00" fill="#e5ff1a"/>
<rect x="55.94" y="47.50" width="17.06" height="17.00" fill="#e5ff1a"/>
</g>
<defs><filter id="f71" x="-20%" y="-20%" width="140%" height="140%" color-interpolation-filters="sRGB"><feGaussianBlur stdDeviation="1.8" result="b"/><feTurbulence type="fractalNoise" baseFrequency="0.2" numOctaves="2" seed="37" result="n"/><feDisplacementMap in="b" in2="n" scale="8.0" xChannelSelector="R" yChannelSelector="G" result="d"/><feGaussianBlur in="d" stdDeviation="0.5"/></filter></defs>
<defs><filter id="fb71_0" filterUnits="userSpaceOnUse" x="-10" y="-10" width="84.5" height="76" color-interpolation-filters="sRGB"><feGaussianBlur stdDeviation="0.5"/></filter></defs>
<g filter="url(#fb71_0)">
<circle cx="23.5" cy="49.4" r="0.65" fill="#2040c0" opacity="0.8"/><circle cx="35.9" cy="45.8" r="0.68" fill="#2040c0" opacity="0.8"/><circle cx="38.4" cy="45.5" r="0.58" fill="#2040c0" opacity="0.8"/><circle cx="8.4" cy="45.6" r="0.40" fill="#2040c0" opacity="0.8"/><circle cx="31.3" cy="41.4" r="0.42" fill="#2040c0" opacity="0.8"/><circle cx="30.9" cy="51.3" r="0.42" fill="#2040c0" opacity="0.8"/><circle cx="37.7" cy="49.4" r="0.59" fill="#2040c0" opacity="0.8"/><circle cx="18.4" cy="43.4" r="0.54" fill="#2040c0" opacity="0.8"/><circle cx="26.3" cy="49.2" r="0.52" fill="#2040c0" opacity="0.8"/><circle cx="13.3" cy="50.9" r="0.43" fill="#2040c0" opacity="0.8"/>
</g>
<defs><filter id="fb71_1" filterUnits="userSpaceOnUse" x="-10" y="-10" width="84.5" height="76" color-interpolation-filters="sRGB"><feGaussianBlur stdDeviation="0.45"/></filter></defs>
<g filter="url(#fb71_1)">
<polygon points="55.7,56.5 64.5,42.7 64.5,56.5" fill="#a00000"/>
</g>
<path d="M28.2 28.4H35.8M32.0 24.6V32.2" stroke="#1a1208" stroke-width="1.25" fill="none" opacity="0.92"/>
</svg>
<svg x="159" y="440" width="64" height="56" viewBox="0 0 64 56" overflow="hidden">
<rect width="64" height="56" fill="#b30000"/>
<g filter="url(#f72)">
<rect x="-8.50" y="-8.50" width="17.00" height="17.00" fill="#b30000"/>
<rect x="7.50" y="-8.50" width="9.00" height="17.00" fill="#b30000"/>
<rect x="15.50" y="-8.50" width="9.00" height="17.00" fill="#e50000"/>
<rect x="23.50" y="-8.50" width="9.00" height="17.00" fill="#e50000"/>
<rect x="31.50" y="-8.50" width="9.00" height="17.00" fill="#b30000"/>
<rect x="39.50" y="-8.50" width="9.00" height="17.00" fill="#b30000"/>
<rect x="47.50" y="-8.50" width="9.00" height="17.00" fill="#800000"/>
<rect x="55.50" y="-8.50" width="17.00" height="17.00" fill="#b30000"/>
<rect x="-8.50" y="7.50" width="17.00" height="9.00" fill="#b30000"/>
<rect x="7.50" y="7.50" width="9.00" height="9.00" fill="#e50000"/>
<rect x="15.50" y="7.50" width="9.00" height="9.00" fill="#b30000"/>
<rect x="23.50" y="7.50" width="9.00" height="9.00" fill="#b30000"/>
<rect x="31.50" y="7.50" width="9.00" height="9.00" fill="#e50000"/>
<rect x="39.50" y="7.50" width="9.00" height="9.00" fill="#e50000"/>
<rect x="47.50" y="7.50" width="9.00" height="9.00" fill="#b30000"/>
<rect x="55.50" y="7.50" width="17.00" height="9.00" fill="#b30000"/>
<rect x="-8.50" y="15.50" width="17.00" height="9.00" fill="#e50000"/>
<rect x="7.50" y="15.50" width="9.00" height="9.00" fill="#b30000"/>
<rect x="15.50" y="15.50" width="9.00" height="9.00" fill="#b30000"/>
<rect x="23.50" y="15.50" width="9.00" height="9.00" fill="#800000"/>
<rect x="31.50" y="15.50" width="9.00" height="9.00" fill="#b30000"/>
<rect x="39.50" y="15.50" width="9.00" height="9.00" fill="#e50000"/>
<rect x="47.50" y="15.50" width="9.00" height="9.00" fill="#e50000"/>
<rect x="55.50" y="15.50" width="17.00" height="9.00" fill="#b30000"/>
<rect x="-8.50" y="23.50" width="17.00" height="9.00" fill="#b30000"/>
<rect x="7.50" y="23.50" width="9.00" height="9.00" fill="#b30000"/>
<rect x="15.50" y="23.50" width="9.00" height="9.00" fill="#e50000"/>
<rect x="23.50" y="23.50" width="9.00" height="9.00" fill="#b30000"/>
<rect x="31.50" y="23.50" width="9.00" height="9.00" fill="#b30000"/>
<rect x="39.50" y="23.50" width="9.00" height="9.00" fill="#b30000"/>
<rect x="47.50" y="23.50" width="9.00" height="9.00" fill="#e50000"/>
<rect x="55.50" y="23.50" width="17.00" height="9.00" fill="#b30000"/>
<rect x="-8.50" y="31.50" width="17.00" height="9.00" fill="#e50000"/>
<rect x="7.50" y="31.50" width="9.00" height="9.00" fill="#e50000"/>
<rect x="15.50" y="31.50" width="9.00" height="9.00" fill="#b30000"/>
<rect x="23.50" y="31.50" width="9.00" height="9.00" fill="#b30000"/>
<rect x="31.50" y="31.50" width="9.00" height="9.00" fill="#e50000"/>
<rect x="39.50" y="31.50" width="9.00" height="9.00" fill="#e50000"/>
<rect x="47.50" y="31.50" width="9.00" height="9.00" fill="#b30000"/>
<rect x="55.50" y="31.50" width="17.00" height="9.00" fill="#e50000"/>
<rect x="-8.50" y="39.50" width="17.00" height="9.00" fill="#b30000"/>
<rect x="7.50" y="39.50" width="9.00" height="9.00" fill="#e50000"/>
<rect x="15.50" y="39.50" width="9.00" height="9.00" fill="#e50000"/>
<rect x="23.50" y="39.50" width="9.00" height="9.00" fill="#b30000"/>
<rect x="31.50" y="39.50" width="9.00" height="9.00" fill="#800000"/>
<rect x="39.50" y="39.50" width="9.00" height="9.00" fill="#b30000"/>
<rect x="47.50" y="39.50" width="9.00" height="9.00" fill="#e50000"/>
<rect x="55.50" y="39.50" width="17.00" height="9.00" fill="#e50000"/>
<rect x="-8.50" y="47.50" width="17.00" height="17.00" fill="#b30000"/>
<rect x="7.50" y="47.50" width="9.00" height="17.00" fill="#b30000"/>
<rect x="15.50" y="47.50" width="9.00" height="17.00" fill="#e50000"/>
<rect x="23.50" y="47.50" width="9.00" height="17.00" fill="#e50000"/>
<rect x="31.50" y="47.50" width="9.00" height="17.00" fill="#b30000"/>
<rect x="39.50" y="47.50" width="9.00" height="17.00" fill="#b30000"/>
<rect x="47.50" y="47.50" width="9.00" height="17.00" fill="#e50000"/>
<rect x="55.50" y="47.50" width="17.00" height="17.00" fill="#b30000"/>
</g>
<defs><filter id="f72" x="-20%" y="-20%" width="140%" height="140%" color-interpolation-filters="sRGB"><feGaussianBlur stdDeviation="1.8" result="b"/><feTurbulence type="fractalNoise" baseFrequency="0.2" numOctaves="2" seed="38" result="n"/><feDisplacementMap in="b" in2="n" scale="8.0" xChannelSelector="R" yChannelSelector="G" result="d"/><feGaussianBlur in="d" stdDeviation="0.5"/></filter></defs>
<defs><filter id="fb72_0" filterUnits="userSpaceOnUse" x="-10" y="-10" width="84" height="76" color-interpolation-filters="sRGB"><feGaussianBlur stdDeviation="0.45"/></filter></defs>
<g filter="url(#fb72_0)">
<polygon points="55.7,56.5 64.5,42.7 64.5,56.5" fill="#a00000"/>
</g>
<path d="M27.6 28.4H35.2M31.4 24.6V32.2" stroke="#1a1208" stroke-width="1.25" fill="none" opacity="0.92"/>
</svg>
<svg x="223" y="440" width="64" height="56" viewBox="0 0 64 56" overflow="hidden">
<rect width="64" height="56" fill="#ffff00"/>
<g filter="url(#f73)">
<rect x="-8.50" y="-8.50" width="17.00" height="17.00" fill="#ffff00"/>
<rect x="7.50" y="-8.50" width="9.00" height="17.00" fill="#ffff00"/>
<rect x="15.50" y="-8.50" width="9.00" height="17.00" fill="#ffff00"/>
<rect x="23.50" y="-8.50" width="9.00" height="17.00" fill="#ffff00"/>
<rect x="31.50" y="-8.50" width="9.00" height="17.00" fill="#ffff00"/>
<rect x="39.50" y="-8.50" width="9.00" height="17.00" fill="#ffff00"/>
<rect x="47.50" y="-8.50" width="9.00" height="17.00" fill="#ffff00"/>
<rect x="55.50" y="-8.50" width="17.00" height="17.00" fill="#ffff00"/>
<rect x="-8.50" y="7.50" width="17.00" height="9.00" fill="#ffff00"/>
<rect x="7.50" y="7.50" width="9.00" height="9.00" fill="#ffff00"/>
<rect x="15.50" y="7.50" width="9.00" height="9.00" fill="#ffff00"/>
<rect x="23.50" y="7.50" width="9.00" height="9.00" fill="#ffff00"/>
<rect x="31.50" y="7.50" width="9.00" height="9.00" fill="#ffff00"/>
<rect x="39.50" y="7.50" width="9.00" height="9.00" fill="#ffff00"/>
<rect x="47.50" y="7.50" width="9.00" height="9.00" fill="#ffff00"/>
<rect x="55.50" y="7.50" width="17.00" height="9.00" fill="#ff1a00"/>
<rect x="-8.50" y="15.50" width="17.00" height="9.00" fill="#ffff00"/>
<rect x="7.50" y="15.50" width="9.00" height="9.00" fill="#ffff00"/>
<rect x="15.50" y="15.50" width="9.00" height="9.00" fill="#ffff00"/>
<rect x="23.50" y="15.50" width="9.00" height="9.00" fill="#ffff00"/>
<rect x="31.50" y="15.50" width="9.00" height="9.00" fill="#ffff00"/>
<rect x="39.50" y="15.50" width="9.00" height="9.00" fill="#ffff00"/>
<rect x="47.50" y="15.50" width="9.00" height="9.00" fill="#ffff00"/>
<rect x="55.50" y="15.50" width="17.00" height="9.00" fill="#004dff"/>
<rect x="-8.50" y="23.50" width="17.00" height="9.00" fill="#ffff00"/>
<rect x="7.50" y="23.50" width="9.00" height="9.00" fill="#ffff00"/>
<rect x="15.50" y="23.50" width="9.00" height="9.00" fill="#ffff00"/>
<rect x="23.50" y="23.50" width="9.00" height="9.00" fill="#ffff00"/>
<rect x="31.50" y="23.50" width="9.00" height="9.00" fill="#ffff00"/>
<rect x="39.50" y="23.50" width="9.00" height="9.00" fill="#ffff00"/>
<rect x="47.50" y="23.50" width="9.00" height="9.00" fill="#ffff00"/>
<rect x="55.50" y="23.50" width="17.00" height="9.00" fill="#ffb300"/>
<rect x="-8.50" y="31.50" width="17.00" height="9.00" fill="#ffff00"/>
<rect x="7.50" y="31.50" width="9.00" height="9.00" fill="#ffff00"/>
<rect x="15.50" y="31.50" width="9.00" height="9.00" fill="#ffff00"/>
<rect x="23.50" y="31.50" width="9.00" height="9.00" fill="#ffff00"/>
<rect x="31.50" y="31.50" width="9.00" height="9.00" fill="#ffff00"/>
<rect x="39.50" y="31.50" width="9.00" height="9.00" fill="#ffff00"/>
<rect x="47.50" y="31.50" width="9.00" height="9.00" fill="#ffff00"/>
<rect x="55.50" y="31.50" width="17.00" height="9.00" fill="#ffff00"/>
<rect x="-8.50" y="39.50" width="17.00" height="9.00" fill="#e5ff1a"/>
<rect x="7.50" y="39.50" width="9.00" height="9.00" fill="#e5ff1a"/>
<rect x="15.50" y="39.50" width="9.00" height="9.00" fill="#e5ff1a"/>
<rect x="23.50" y="39.50" width="9.00" height="9.00" fill="#e5ff1a"/>
<rect x="31.50" y="39.50" width="9.00" height="9.00" fill="#ffff00"/>
<rect x="39.50" y="39.50" width="9.00" height="9.00" fill="#ffff00"/>
<rect x="47.50" y="39.50" width="9.00" height="9.00" fill="#ffff00"/>
<rect x="55.50" y="39.50" width="17.00" height="9.00" fill="#ffff00"/>
<rect x="-8.50" y="47.50" width="17.00" height="17.00" fill="#e5ff1a"/>
<rect x="7.50" y="47.50" width="9.00" height="17.00" fill="#e5ff1a"/>
<rect x="15.50" y="47.50" width="9.00" height="17.00" fill="#e5ff1a"/>
<rect x="23.50" y="47.50" width="9.00" height="17.00" fill="#e5ff1a"/>
<rect x="31.50" y="47.50" width="9.00" height="17.00" fill="#e5ff1a"/>
<rect x="39.50" y="47.50" width="9.00" height="17.00" fill="#ffff00"/>
<rect x="47.50" y="47.50" width="9.00" height="17.00" fill="#ffff00"/>
<rect x="55.50" y="47.50" width="17.00" height="17.00" fill="#ffff00"/>
</g>
<defs><filter id="f73" x="-20%" y="-20%" width="140%" height="140%" color-interpolation-filters="sRGB"><feGaussianBlur stdDeviation="1.8" result="b"/><feTurbulence type="fractalNoise" baseFrequency="0.2" numOctaves="2" seed="39" result="n"/><feDisplacementMap in="b" in2="n" scale="8.0" xChannelSelector="R" yChannelSelector="G" result="d"/><feGaussianBlur in="d" stdDeviation="0.5"/></filter></defs>
<defs><filter id="fb73_0" filterUnits="userSpaceOnUse" x="-10" y="-10" width="84" height="76" color-interpolation-filters="sRGB"><feGaussianBlur stdDeviation="0.5"/></filter></defs>
<g filter="url(#fb73_0)">
<circle cx="41.7" cy="9.6" r="0.75" fill="#2020d0" opacity="0.8"/><circle cx="38.2" cy="12.6" r="0.66" fill="#2020d0" opacity="0.8"/><circle cx="57.2" cy="12.9" r="0.78" fill="#2020d0" opacity="0.8"/><circle cx="56.7" cy="8.3" r="0.63" fill="#2020d0" opacity="0.8"/><circle cx="31.4" cy="5.7" r="0.65" fill="#2020d0" opacity="0.8"/><circle cx="48.2" cy="12.3" r="0.70" fill="#2020d0" opacity="0.8"/><circle cx="55.3" cy="8.7" r="0.70" fill="#2020d0" opacity="0.8"/><circle cx="52.9" cy="5.8" r="0.77" fill="#2020d0" opacity="0.8"/><circle cx="57.6" cy="2.8" r="0.61" fill="#2020d0" opacity="0.8"/><circle cx="49.2" cy="8.2" r="0.60" fill="#2020d0" opacity="0.8"/><circle cx="39.9" cy="5.7" r="0.62" fill="#2020d0" opacity="0.8"/><circle cx="46.1" cy="12.6" r="0.61" fill="#2020d0" opacity="0.8"/>
</g>
<defs><filter id="fb73_1" filterUnits="userSpaceOnUse" x="-10" y="-10" width="84" height="76" color-interpolation-filters="sRGB"><feGaussianBlur stdDeviation="0.45"/></filter></defs>
<g filter="url(#fb73_1)">
<polygon points="55.7,56.5 64.5,42.7 64.5,56.5" fill="#a00000"/>
</g>
<path d="M27.6 28.4H35.2M31.4 24.6V32.2" stroke="#1a1208" stroke-width="1.25" fill="none" opacity="0.92"/>
</svg>
<svg x="287" y="440" width="63" height="56" viewBox="0 0 63 56" overflow="hidden">
<rect width="63" height="56" fill="#ff1a00"/>
<g filter="url(#f74)">
<rect x="-8.50" y="-8.50" width="16.88" height="17.00" fill="#ff1a00"/>
<rect x="7.38" y="-8.50" width="8.88" height="17.00" fill="#ff1a00"/>
<rect x="15.25" y="-8.50" width="8.88" height="17.00" fill="#ff1a00"/>
<rect x="23.12" y="-8.50" width="8.88" height="17.00" fill="#ff1a00"/>
<rect x="31.00" y="-8.50" width="8.88" height="17.00" fill="#ff1a00"/>
<rect x="38.88" y="-8.50" width="8.88" height="17.00" fill="#ff1a00"/>
<rect x="46.75" y="-8.50" width="8.88" height="17.00" fill="#ff1a00"/>
<rect x="54.62" y="-8.50" width="16.88" height="17.00" fill="#ff1a00"/>
<rect x="-8.50" y="7.50" width="16.88" height="9.00" fill="#ff1a00"/>
<rect x="7.38" y="7.50" width="8.88" height="9.00" fill="#ff1a00"/>
<rect x="15.25" y="7.50" width="8.88" height="9.00" fill="#ff1a00"/>
<rect x="23.12" y="7.50" width="8.88" height="9.00" fill="#ff1a00"/>
<rect x="31.00" y="7.50" width="8.88" height="9.00" fill="#ff1a00"/>
<rect x="38.88" y="7.50" width="8.88" height="9.00" fill="#ff1a00"/>
<rect x="46.75" y="7.50" width="8.88" height="9.00" fill="#b30000"/>
<rect x="54.62" y="7.50" width="16.88" height="9.00" fill="#b30000"/>
<rect x="-8.50" y="15.50" width="16.88" height="9.00" fill="#ff1a00"/>
<rect x="7.38" y="15.50" width="8.88" height="9.00" fill="#ff1a00"/>
<rect x="15.25" y="15.50" width="8.88" height="9.00" fill="#ff1a00"/>
<rect x="23.12" y="15.50" width="8.88" height="9.00" fill="#ff1a00"/>
<rect x="31.00" y="15.50" width="8.88" height="9.00" fill="#ff1a00"/>
<rect x="38.88" y="15.50" width="8.88" height="9.00" fill="#b30000"/>
<rect x="46.75" y="15.50" width="8.88" height="9.00" fill="#b30000"/>
<rect x="54.62" y="15.50" width="16.88" height="9.00" fill="#b30000"/>
<rect x="-8.50" y="23.50" width="16.88" height="9.00" fill="#ff1a00"/>
<rect x="7.38" y="23.50" width="8.88" height="9.00" fill="#ff1a00"/>
<rect x="15.25" y="23.50" width="8.88" height="9.00" fill="#ff1a00"/>
<rect x="23.12" y="23.50" width="8.88" height="9.00" fill="#ff1a00"/>
<rect x="31.00" y="23.50" width="8.88" height="9.00" fill="#ff1a00"/>
<rect x="38.88" y="23.50" width="8.88" height="9.00" fill="#ff1a00"/>
<rect x="46.75" y="23.50" width="8.88" height="9.00" fill="#b30000"/>
<rect x="54.62" y="23.50" width="16.88" height="9.00" fill="#b30000"/>
<rect x="-8.50" y="31.50" width="16.88" height="9.00" fill="#ff1a00"/>
<rect x="7.38" y="31.50" width="8.88" height="9.00" fill="#ff1a00"/>
<rect x="15.25" y="31.50" width="8.88" height="9.00" fill="#ff1a00"/>
<rect x="23.12" y="31.50" width="8.88" height="9.00" fill="#ff1a00"/>
<rect x="31.00" y="31.50" width="8.88" height="9.00" fill="#ff1a00"/>
<rect x="38.88" y="31.50" width="8.88" height="9.00" fill="#ff1a00"/>
<rect x="46.75" y="31.50" width="8.88" height="9.00" fill="#ff1a00"/>
<rect x="54.62" y="31.50" width="16.88" height="9.00" fill="#e50000"/>
<rect x="-8.50" y="39.50" width="16.88" height="9.00" fill="#ff1a00"/>
<rect x="7.38" y="39.50" width="8.88" height="9.00" fill="#ff1a00"/>
<rect x="15.25" y="39.50" width="8.88" height="9.00" fill="#ff1a00"/>
<rect x="23.12" y="39.50" width="8.88" height="9.00" fill="#ff1a00"/>
<rect x="31.00" y="39.50" width="8.88" height="9.00" fill="#ff1a00"/>
<rect x="38.88" y="39.50" width="8.88" height="9.00" fill="#ff1a00"/>
<rect x="46.75" y="39.50" width="8.88" height="9.00" fill="#ff1a00"/>
<rect x="54.62" y="39.50" width="16.88" height="9.00" fill="#e50000"/>
<rect x="-8.50" y="47.50" width="16.88" height="17.00" fill="#ff1a00"/>
<rect x="7.38" y="47.50" width="8.88" height="17.00" fill="#ff1a00"/>
<rect x="15.25" y="47.50" width="8.88" height="17.00" fill="#ff1a00"/>
<rect x="23.12" y="47.50" width="8.88" height="17.00" fill="#ff1a00"/>
<rect x="31.00" y="47.50" width="8.88" height="17.00" fill="#ff1a00"/>
<rect x="38.88" y="47.50" width="8.88" height="17.00" fill="#ff1a00"/>
<rect x="46.75" y="47.50" width="8.88" height="17.00" fill="#e50000"/>
<rect x="54.62" y="47.50" width="16.88" height="17.00" fill="#e50000"/>
</g>
<defs><filter id="f74" x="-20%" y="-20%" width="140%" height="140%" color-interpolation-filters="sRGB"><feGaussianBlur stdDeviation="1.8" result="b"/><feTurbulence type="fractalNoise" baseFrequency="0.2" numOctaves="2" seed="40" result="n"/><feDisplacementMap in="b" in2="n" scale="8.0" xChannelSelector="R" yChannelSelector="G" result="d"/><feGaussianBlur in="d" stdDeviation="0.5"/></filter></defs>
<defs><filter id="fb74_0" filterUnits="userSpaceOnUse" x="-10" y="-10" width="83" height="76" color-interpolation-filters="sRGB"><feGaussianBlur stdDeviation="0.5"/></filter></defs>
<g filter="url(#fb74_0)">
<circle cx="58.1" cy="9.6" r="0.80" fill="#2020d0" opacity="0.8"/><circle cx="58.8" cy="9.6" r="0.72" fill="#2020d0" opacity="0.8"/><circle cx="58.9" cy="18.4" r="0.93" fill="#2020d0" opacity="0.8"/><circle cx="59.4" cy="18.3" r="0.86" fill="#2020d0" opacity="0.8"/><circle cx="64.0" cy="9.3" r="0.61" fill="#2020d0" opacity="0.8"/><circle cx="60.0" cy="10.9" r="0.80" fill="#2020d0" opacity="0.8"/><circle cx="59.3" cy="11.0" r="0.89" fill="#2020d0" opacity="0.8"/><circle cx="63.7" cy="19.7" r="0.78" fill="#2020d0" opacity="0.8"/>
</g>
<defs><filter id="fb74_1" filterUnits="userSpaceOnUse" x="-10" y="-10" width="83" height="76" color-interpolation-filters="sRGB"><feGaussianBlur stdDeviation="0.45"/></filter></defs>
<g filter="url(#fb74_1)">
<polygon points="55.7,56.5 64.5,42.7 64.5,56.5" fill="#a00000"/>
<path d="M15 15 L59 2.3" stroke="#1818c0" stroke-width="1.6" stroke-dasharray="3.5 2" fill="none"/>
</g>
<path d="M27.5 28.4H35.1M31.3 24.6V32.2" stroke="#1a1208" stroke-width="1.25" fill="none" opacity="0.92"/>
</svg>
<line x1="370.2" y1="43.6" x2="370.2" y2="143.7" stroke="#bababa" stroke-width="0.9"/>
<line x1="370.2" y1="143.7" x2="372.2" y2="143.7" stroke="#c8c8c8" stroke-width="0.7"/>
<text x="364.6" y="146.6" text-anchor="end" font-size="7.5" class="s">-0.1</text>
<line x1="370.2" y1="129.4" x2="372.2" y2="129.4" stroke="#c8c8c8" stroke-width="0.7"/>
<text x="364.6" y="132.3" text-anchor="end" font-size="7.5" class="s">0</text>
<line x1="370.2" y1="115.1" x2="372.2" y2="115.1" stroke="#c8c8c8" stroke-width="0.7"/>
<text x="364.6" y="118.0" text-anchor="end" font-size="7.5" class="s">0.1</text>
<line x1="370.2" y1="100.8" x2="372.2" y2="100.8" stroke="#c8c8c8" stroke-width="0.7"/>
<text x="364.6" y="103.7" text-anchor="end" font-size="7.5" class="s">0.2</text>
<line x1="370.2" y1="86.5" x2="372.2" y2="86.5" stroke="#c8c8c8" stroke-width="0.7"/>
<text x="364.6" y="89.4" text-anchor="end" font-size="7.5" class="s">0.3</text>
<line x1="370.2" y1="72.2" x2="372.2" y2="72.2" stroke="#c8c8c8" stroke-width="0.7"/>
<text x="364.6" y="75.1" text-anchor="end" font-size="7.5" class="s">0.4</text>
<line x1="370.2" y1="57.9" x2="372.2" y2="57.9" stroke="#c8c8c8" stroke-width="0.7"/>
<text x="364.6" y="60.8" text-anchor="end" font-size="7.5" class="s">0.5</text>
<line x1="370.2" y1="43.6" x2="372.2" y2="43.6" stroke="#c8c8c8" stroke-width="0.7"/>
<text x="364.6" y="46.5" text-anchor="end" font-size="7.5" class="s">0.6</text>
<line x1="370.2" y1="129.4" x2="537.6" y2="129.4" stroke="#c8c8c8" stroke-width="0.9"/>
<line x1="370.2" y1="129.4" x2="370.2" y2="127.4" stroke="#c8c8c8" stroke-width="0.7"/>
<line x1="374.9" y1="129.4" x2="374.9" y2="127.4" stroke="#c8c8c8" stroke-width="0.7"/>
<line x1="379.7" y1="129.4" x2="379.7" y2="127.4" stroke="#c8c8c8" stroke-width="0.7"/>
<line x1="384.4" y1="129.4" x2="384.4" y2="127.4" stroke="#c8c8c8" stroke-width="0.7"/>
<line x1="389.1" y1="129.4" x2="389.1" y2="127.4" stroke="#c8c8c8" stroke-width="0.7"/>
<line x1="393.8" y1="129.4" x2="393.8" y2="127.4" stroke="#c8c8c8" stroke-width="0.7"/>
<line x1="398.6" y1="129.4" x2="398.6" y2="127.4" stroke="#c8c8c8" stroke-width="0.7"/>
<line x1="403.3" y1="129.4" x2="403.3" y2="127.4" stroke="#c8c8c8" stroke-width="0.7"/>
<line x1="408.0" y1="129.4" x2="408.0" y2="127.4" stroke="#c8c8c8" stroke-width="0.7"/>
<line x1="412.7" y1="129.4" x2="412.7" y2="127.4" stroke="#c8c8c8" stroke-width="0.7"/>
<line x1="417.5" y1="129.4" x2="417.5" y2="127.4" stroke="#c8c8c8" stroke-width="0.7"/>
<line x1="422.2" y1="129.4" x2="422.2" y2="127.4" stroke="#c8c8c8" stroke-width="0.7"/>
<line x1="426.9" y1="129.4" x2="426.9" y2="127.4" stroke="#c8c8c8" stroke-width="0.7"/>
<line x1="431.7" y1="129.4" x2="431.7" y2="127.4" stroke="#c8c8c8" stroke-width="0.7"/>
<line x1="436.4" y1="129.4" x2="436.4" y2="127.4" stroke="#c8c8c8" stroke-width="0.7"/>
<line x1="441.1" y1="129.4" x2="441.1" y2="127.4" stroke="#c8c8c8" stroke-width="0.7"/>
<line x1="445.8" y1="129.4" x2="445.8" y2="127.4" stroke="#c8c8c8" stroke-width="0.7"/>
<line x1="450.6" y1="129.4" x2="450.6" y2="127.4" stroke="#c8c8c8" stroke-width="0.7"/>
<line x1="455.3" y1="129.4" x2="455.3" y2="127.4" stroke="#c8c8c8" stroke-width="0.7"/>
<line x1="460.0" y1="129.4" x2="460.0" y2="127.4" stroke="#c8c8c8" stroke-width="0.7"/>
<line x1="464.7" y1="129.4" x2="464.7" y2="127.4" stroke="#c8c8c8" stroke-width="0.7"/>
<line x1="469.5" y1="129.4" x2="469.5" y2="127.4" stroke="#c8c8c8" stroke-width="0.7"/>
<line x1="474.2" y1="129.4" x2="474.2" y2="127.4" stroke="#c8c8c8" stroke-width="0.7"/>
<line x1="478.9" y1="129.4" x2="478.9" y2="127.4" stroke="#c8c8c8" stroke-width="0.7"/>
<line x1="483.6" y1="129.4" x2="483.6" y2="127.4" stroke="#c8c8c8" stroke-width="0.7"/>
<line x1="488.4" y1="129.4" x2="488.4" y2="127.4" stroke="#c8c8c8" stroke-width="0.7"/>
<line x1="493.1" y1="129.4" x2="493.1" y2="127.4" stroke="#c8c8c8" stroke-width="0.7"/>
<line x1="497.8" y1="129.4" x2="497.8" y2="127.4" stroke="#c8c8c8" stroke-width="0.7"/>
<line x1="502.6" y1="129.4" x2="502.6" y2="127.4" stroke="#c8c8c8" stroke-width="0.7"/>
<line x1="507.3" y1="129.4" x2="507.3" y2="127.4" stroke="#c8c8c8" stroke-width="0.7"/>
<line x1="512.0" y1="129.4" x2="512.0" y2="127.4" stroke="#c8c8c8" stroke-width="0.7"/>
<line x1="516.7" y1="129.4" x2="516.7" y2="127.4" stroke="#c8c8c8" stroke-width="0.7"/>
<line x1="521.5" y1="129.4" x2="521.5" y2="127.4" stroke="#c8c8c8" stroke-width="0.7"/>
<line x1="526.2" y1="129.4" x2="526.2" y2="127.4" stroke="#c8c8c8" stroke-width="0.7"/>
<line x1="530.9" y1="129.4" x2="530.9" y2="127.4" stroke="#c8c8c8" stroke-width="0.7"/>
<line x1="535.6" y1="129.4" x2="535.6" y2="127.4" stroke="#c8c8c8" stroke-width="0.7"/>
<text x="370.2" y="141.9" text-anchor="middle" font-size="7.5" class="s">1986</text>
<text x="403.3" y="141.9" text-anchor="middle" font-size="7.5" class="s">1993</text>
<text x="436.4" y="141.9" text-anchor="middle" font-size="7.5" class="s">2000</text>
<text x="469.5" y="141.9" text-anchor="middle" font-size="7.5" class="s">2007</text>
<text x="502.6" y="141.9" text-anchor="middle" font-size="7.5" class="s">2014</text>
<text x="535.6" y="141.9" text-anchor="middle" font-size="7.5" class="s">2021</text>
<line x1="450.6" y1="44" x2="450.6" y2="130.4" stroke="#f5c000" stroke-width="1.15" stroke-dasharray="2.6 1.8"/>
<line x1="535.6" y1="43" x2="535.6" y2="130.4" stroke="#8a5ccf" stroke-width="1.15" stroke-dasharray="2.6 1.8"/>
<text x="429.3" y="49.8" font-size="7.4" class="s">2003</text>
<text x="516.6" y="49.4" font-size="7.4" class="s">2021</text>
<rect x="451.8" y="41.3" width="60" height="13" fill="#fff" stroke="#d4d4d4" stroke-width="0.8"/>
<text x="455.6" y="50.6" font-size="7.7" class="s">Fit RMSE: 0.07</text>
<polyline points="370.2,92.4 374.9,93.7 379.7,84.2 384.4,100.1 389.1,91.5 393.8,98.1 398.6,91.9 403.3,85.8 408.0,102.9 412.7,105.1 417.5,108.5 422.2,104.2 426.9,111.1 431.7,100.4 436.4,108.0 441.1,125.0 445.8,77.2 450.6,68.9 455.3,116.1 460.0,111.8 464.7,105.5 469.5,101.4 474.2,108.0 478.9,106.5 483.6,74.3 488.4,105.8 493.1,95.7 497.8,88.6 502.6,100.8 507.3,97.5 512.0,94.2 516.7,103.4 521.5,87.5 526.2,85.8 530.9,90.1 535.6,82.6" fill="none" stroke="#5b9bd5" stroke-width="0.95" stroke-linejoin="round"/>
<circle cx="370.2" cy="92.4" r="1.7" fill="#4a89c8"/>
<circle cx="374.9" cy="93.7" r="1.7" fill="#4a89c8"/>
<circle cx="379.7" cy="84.2" r="1.7" fill="#4a89c8"/>
<circle cx="384.4" cy="100.1" r="1.7" fill="#4a89c8"/>
<circle cx="389.1" cy="91.5" r="1.7" fill="#4a89c8"/>
<circle cx="393.8" cy="98.1" r="1.7" fill="#4a89c8"/>
<circle cx="398.6" cy="91.9" r="1.7" fill="#4a89c8"/>
<circle cx="403.3" cy="85.8" r="1.7" fill="#4a89c8"/>
<circle cx="408.0" cy="102.9" r="1.7" fill="#4a89c8"/>
<circle cx="412.7" cy="105.1" r="1.7" fill="#4a89c8"/>
<circle cx="417.5" cy="108.5" r="1.7" fill="#4a89c8"/>
<circle cx="422.2" cy="104.2" r="1.7" fill="#4a89c8"/>
<circle cx="426.9" cy="111.1" r="1.7" fill="#4a89c8"/>
<circle cx="431.7" cy="100.4" r="1.7" fill="#4a89c8"/>
<circle cx="436.4" cy="108.0" r="1.7" fill="#4a89c8"/>
<circle cx="441.1" cy="125.0" r="1.7" fill="#4a89c8"/>
<circle cx="445.8" cy="77.2" r="1.7" fill="#4a89c8"/>
<circle cx="450.6" cy="68.9" r="1.7" fill="#4a89c8"/>
<circle cx="455.3" cy="116.1" r="1.7" fill="#4a89c8"/>
<circle cx="460.0" cy="111.8" r="1.7" fill="#4a89c8"/>
<circle cx="464.7" cy="105.5" r="1.7" fill="#4a89c8"/>
<circle cx="469.5" cy="101.4" r="1.7" fill="#4a89c8"/>
<circle cx="474.2" cy="108.0" r="1.7" fill="#4a89c8"/>
<circle cx="478.9" cy="106.5" r="1.7" fill="#4a89c8"/>
<circle cx="483.6" cy="74.3" r="1.7" fill="#4a89c8"/>
<circle cx="488.4" cy="105.8" r="1.7" fill="#4a89c8"/>
<circle cx="493.1" cy="95.7" r="1.7" fill="#4a89c8"/>
<circle cx="497.8" cy="88.6" r="1.7" fill="#4a89c8"/>
<circle cx="502.6" cy="100.8" r="1.7" fill="#4a89c8"/>
<circle cx="507.3" cy="97.5" r="1.7" fill="#4a89c8"/>
<circle cx="512.0" cy="94.2" r="1.7" fill="#4a89c8"/>
<circle cx="516.7" cy="103.4" r="1.7" fill="#4a89c8"/>
<circle cx="521.5" cy="87.5" r="1.7" fill="#4a89c8"/>
<circle cx="526.2" cy="85.8" r="1.7" fill="#4a89c8"/>
<circle cx="530.9" cy="90.1" r="1.7" fill="#4a89c8"/>
<circle cx="535.6" cy="82.6" r="1.7" fill="#4a89c8"/>
<polyline points="370.2,94.2 374.9,94.5 379.7,94.8 384.4,95.1 389.1,95.4 393.8,95.7 398.6,95.9 403.3,96.2 408.0,96.5 412.7,96.8 417.5,97.1 422.2,97.4 426.9,97.7 431.7,97.9 436.4,98.2 441.1,98.5 445.8,98.8 450.6,99.1 455.3,111.8 460.0,110.3 464.7,108.8 469.5,107.3 474.2,105.9 478.9,104.4 483.6,102.9 488.4,101.4 493.1,99.9 497.8,98.4 502.6,96.9 507.3,95.4 512.0,93.9 516.7,92.5 521.5,91.0 526.2,89.5 530.9,88.0 535.6,86.5" fill="none" stroke="#ed7d31" stroke-width="1.0" stroke-linejoin="round"/>
<circle cx="370.2" cy="94.2" r="1.65" fill="#ed7d31"/>
<circle cx="374.9" cy="94.5" r="1.65" fill="#ed7d31"/>
<circle cx="379.7" cy="94.8" r="1.65" fill="#ed7d31"/>
<circle cx="384.4" cy="95.1" r="1.65" fill="#ed7d31"/>
<circle cx="389.1" cy="95.4" r="1.65" fill="#ed7d31"/>
<circle cx="393.8" cy="95.7" r="1.65" fill="#ed7d31"/>
<circle cx="398.6" cy="95.9" r="1.65" fill="#ed7d31"/>
<circle cx="403.3" cy="96.2" r="1.65" fill="#ed7d31"/>
<circle cx="408.0" cy="96.5" r="1.65" fill="#ed7d31"/>
<circle cx="412.7" cy="96.8" r="1.65" fill="#ed7d31"/>
<circle cx="417.5" cy="97.1" r="1.65" fill="#ed7d31"/>
<circle cx="422.2" cy="97.4" r="1.65" fill="#ed7d31"/>
<circle cx="426.9" cy="97.7" r="1.65" fill="#ed7d31"/>
<circle cx="431.7" cy="97.9" r="1.65" fill="#ed7d31"/>
<circle cx="436.4" cy="98.2" r="1.65" fill="#ed7d31"/>
<circle cx="441.1" cy="98.5" r="1.65" fill="#ed7d31"/>
<circle cx="445.8" cy="98.8" r="1.65" fill="#ed7d31"/>
<circle cx="450.6" cy="99.1" r="1.65" fill="#ed7d31"/>
<circle cx="455.3" cy="111.8" r="1.65" fill="#ed7d31"/>
<circle cx="460.0" cy="110.3" r="1.65" fill="#ed7d31"/>
<circle cx="464.7" cy="108.8" r="1.65" fill="#ed7d31"/>
<circle cx="469.5" cy="107.3" r="1.65" fill="#ed7d31"/>
<circle cx="474.2" cy="105.9" r="1.65" fill="#ed7d31"/>
<circle cx="478.9" cy="104.4" r="1.65" fill="#ed7d31"/>
<circle cx="483.6" cy="102.9" r="1.65" fill="#ed7d31"/>
<circle cx="488.4" cy="101.4" r="1.65" fill="#ed7d31"/>
<circle cx="493.1" cy="99.9" r="1.65" fill="#ed7d31"/>
<circle cx="497.8" cy="98.4" r="1.65" fill="#ed7d31"/>
<circle cx="502.6" cy="96.9" r="1.65" fill="#ed7d31"/>
<circle cx="507.3" cy="95.4" r="1.65" fill="#ed7d31"/>
<circle cx="512.0" cy="93.9" r="1.65" fill="#ed7d31"/>
<circle cx="516.7" cy="92.5" r="1.65" fill="#ed7d31"/>
<circle cx="521.5" cy="91.0" r="1.65" fill="#ed7d31"/>
<circle cx="526.2" cy="89.5" r="1.65" fill="#ed7d31"/>
<circle cx="530.9" cy="88.0" r="1.65" fill="#ed7d31"/>
<circle cx="535.6" cy="86.5" r="1.65" fill="#ed7d31"/>
<line x1="371.7" y1="158.7" x2="371.7" y2="260.6" stroke="#bababa" stroke-width="0.9"/>
<line x1="371.7" y1="260.6" x2="373.7" y2="260.6" stroke="#c8c8c8" stroke-width="0.7"/>
<text x="367.0" y="263.4" text-anchor="end" font-size="7.5" class="s">-0.1</text>
<line x1="371.7" y1="246.0" x2="373.7" y2="246.0" stroke="#c8c8c8" stroke-width="0.7"/>
<text x="367.0" y="248.9" text-anchor="end" font-size="7.5" class="s">0</text>
<line x1="371.7" y1="231.4" x2="373.7" y2="231.4" stroke="#c8c8c8" stroke-width="0.7"/>
<text x="367.0" y="234.3" text-anchor="end" font-size="7.5" class="s">0.1</text>
<line x1="371.7" y1="216.9" x2="373.7" y2="216.9" stroke="#c8c8c8" stroke-width="0.7"/>
<text x="367.0" y="219.8" text-anchor="end" font-size="7.5" class="s">0.2</text>
<line x1="371.7" y1="202.3" x2="373.7" y2="202.3" stroke="#c8c8c8" stroke-width="0.7"/>
<text x="367.0" y="205.2" text-anchor="end" font-size="7.5" class="s">0.3</text>
<line x1="371.7" y1="187.8" x2="373.7" y2="187.8" stroke="#c8c8c8" stroke-width="0.7"/>
<text x="367.0" y="190.7" text-anchor="end" font-size="7.5" class="s">0.4</text>
<line x1="371.7" y1="173.2" x2="373.7" y2="173.2" stroke="#c8c8c8" stroke-width="0.7"/>
<text x="367.0" y="176.2" text-anchor="end" font-size="7.5" class="s">0.5</text>
<line x1="371.7" y1="158.7" x2="373.7" y2="158.7" stroke="#c8c8c8" stroke-width="0.7"/>
<text x="367.0" y="161.6" text-anchor="end" font-size="7.5" class="s">0.6</text>
<line x1="371.7" y1="246.0" x2="536.1" y2="246.0" stroke="#c8c8c8" stroke-width="0.9"/>
<line x1="371.7" y1="246.0" x2="371.7" y2="244.0" stroke="#c8c8c8" stroke-width="0.7"/>
<line x1="376.3" y1="246.0" x2="376.3" y2="244.0" stroke="#c8c8c8" stroke-width="0.7"/>
<line x1="381.0" y1="246.0" x2="381.0" y2="244.0" stroke="#c8c8c8" stroke-width="0.7"/>
<line x1="385.6" y1="246.0" x2="385.6" y2="244.0" stroke="#c8c8c8" stroke-width="0.7"/>
<line x1="390.3" y1="246.0" x2="390.3" y2="244.0" stroke="#c8c8c8" stroke-width="0.7"/>
<line x1="394.9" y1="246.0" x2="394.9" y2="244.0" stroke="#c8c8c8" stroke-width="0.7"/>
<line x1="399.5" y1="246.0" x2="399.5" y2="244.0" stroke="#c8c8c8" stroke-width="0.7"/>
<line x1="404.2" y1="246.0" x2="404.2" y2="244.0" stroke="#c8c8c8" stroke-width="0.7"/>
<line x1="408.8" y1="246.0" x2="408.8" y2="244.0" stroke="#c8c8c8" stroke-width="0.7"/>
<line x1="413.5" y1="246.0" x2="413.5" y2="244.0" stroke="#c8c8c8" stroke-width="0.7"/>
<line x1="418.1" y1="246.0" x2="418.1" y2="244.0" stroke="#c8c8c8" stroke-width="0.7"/>
<line x1="422.7" y1="246.0" x2="422.7" y2="244.0" stroke="#c8c8c8" stroke-width="0.7"/>
<line x1="427.4" y1="246.0" x2="427.4" y2="244.0" stroke="#c8c8c8" stroke-width="0.7"/>
<line x1="432.0" y1="246.0" x2="432.0" y2="244.0" stroke="#c8c8c8" stroke-width="0.7"/>
<line x1="436.7" y1="246.0" x2="436.7" y2="244.0" stroke="#c8c8c8" stroke-width="0.7"/>
<line x1="441.3" y1="246.0" x2="441.3" y2="244.0" stroke="#c8c8c8" stroke-width="0.7"/>
<line x1="445.9" y1="246.0" x2="445.9" y2="244.0" stroke="#c8c8c8" stroke-width="0.7"/>
<line x1="450.6" y1="246.0" x2="450.6" y2="244.0" stroke="#c8c8c8" stroke-width="0.7"/>
<line x1="455.2" y1="246.0" x2="455.2" y2="244.0" stroke="#c8c8c8" stroke-width="0.7"/>
<line x1="459.9" y1="246.0" x2="459.9" y2="244.0" stroke="#c8c8c8" stroke-width="0.7"/>
<line x1="464.5" y1="246.0" x2="464.5" y2="244.0" stroke="#c8c8c8" stroke-width="0.7"/>
<line x1="469.1" y1="246.0" x2="469.1" y2="244.0" stroke="#c8c8c8" stroke-width="0.7"/>
<line x1="473.8" y1="246.0" x2="473.8" y2="244.0" stroke="#c8c8c8" stroke-width="0.7"/>
<line x1="478.4" y1="246.0" x2="478.4" y2="244.0" stroke="#c8c8c8" stroke-width="0.7"/>
<line x1="483.1" y1="246.0" x2="483.1" y2="244.0" stroke="#c8c8c8" stroke-width="0.7"/>
<line x1="487.7" y1="246.0" x2="487.7" y2="244.0" stroke="#c8c8c8" stroke-width="0.7"/>
<line x1="492.3" y1="246.0" x2="492.3" y2="244.0" stroke="#c8c8c8" stroke-width="0.7"/>
<line x1="497.0" y1="246.0" x2="497.0" y2="244.0" stroke="#c8c8c8" stroke-width="0.7"/>
<line x1="501.6" y1="246.0" x2="501.6" y2="244.0" stroke="#c8c8c8" stroke-width="0.7"/>
<line x1="506.3" y1="246.0" x2="506.3" y2="244.0" stroke="#c8c8c8" stroke-width="0.7"/>
<line x1="510.9" y1="246.0" x2="510.9" y2="244.0" stroke="#c8c8c8" stroke-width="0.7"/>
<line x1="515.5" y1="246.0" x2="515.5" y2="244.0" stroke="#c8c8c8" stroke-width="0.7"/>
<line x1="520.2" y1="246.0" x2="520.2" y2="244.0" stroke="#c8c8c8" stroke-width="0.7"/>
<line x1="524.8" y1="246.0" x2="524.8" y2="244.0" stroke="#c8c8c8" stroke-width="0.7"/>
<line x1="529.5" y1="246.0" x2="529.5" y2="244.0" stroke="#c8c8c8" stroke-width="0.7"/>
<line x1="534.1" y1="246.0" x2="534.1" y2="244.0" stroke="#c8c8c8" stroke-width="0.7"/>
<text x="371.7" y="258.0" text-anchor="middle" font-size="7.5" class="s">1986</text>
<text x="394.9" y="258.0" text-anchor="middle" font-size="7.5" class="s">1991</text>
<text x="418.1" y="258.0" text-anchor="middle" font-size="7.5" class="s">1996</text>
<text x="441.3" y="258.0" text-anchor="middle" font-size="7.5" class="s">2001</text>
<text x="464.5" y="258.0" text-anchor="middle" font-size="7.5" class="s">2006</text>
<text x="487.7" y="258.0" text-anchor="middle" font-size="7.5" class="s">2011</text>
<text x="510.9" y="258.0" text-anchor="middle" font-size="7.5" class="s">2016</text>
<text x="534.1" y="258.0" text-anchor="middle" font-size="7.5" class="s">2021</text>
<line x1="445.9" y1="159.2" x2="445.9" y2="247.0" stroke="#f5c000" stroke-width="1.15" stroke-dasharray="2.6 1.8"/>
<line x1="469.1" y1="158.6" x2="469.1" y2="247.0" stroke="#8a5ccf" stroke-width="1.15" stroke-dasharray="2.6 1.8"/>
<text x="430.4" y="166.3" font-size="7.4" class="s">2002</text>
<text x="471.7" y="165.2" font-size="7.4" class="s">2007</text>
<rect x="487.2" y="154.5" width="57.3" height="11.4" fill="#fff" stroke="#d4d4d4" stroke-width="0.8"/>
<text x="491.5" y="164.0" font-size="7.5" class="s">Fit RMSE: 0.07</text>
<polyline points="371.7,189.7 376.3,191.6 381.0,216.0 385.6,211.5 390.3,204.8 394.9,203.2 399.5,233.5 404.2,201.2 408.8,196.4 413.5,214.4 418.1,224.5 422.7,224.5 427.4,210.1 432.0,214.4 436.7,216.3 441.3,235.2 445.9,184.5 450.6,183.3 455.2,221.6 459.9,237.1 464.5,240.8 469.1,206.7 473.8,234.8 478.4,240.3 483.1,187.4 487.7,218.6 492.3,251.5 497.0,216.3 501.6,199.6 506.3,192.2 510.9,195.8 515.5,219.2 520.2,213.7 524.8,225.9 529.5,189.7 534.1,212.0" fill="none" stroke="#5b9bd5" stroke-width="0.95" stroke-linejoin="round"/>
<circle cx="371.7" cy="189.7" r="1.7" fill="#4a89c8"/>
<circle cx="376.3" cy="191.6" r="1.7" fill="#4a89c8"/>
<circle cx="381.0" cy="216.0" r="1.7" fill="#4a89c8"/>
<circle cx="385.6" cy="211.5" r="1.7" fill="#4a89c8"/>
<circle cx="390.3" cy="204.8" r="1.7" fill="#4a89c8"/>
<circle cx="394.9" cy="203.2" r="1.7" fill="#4a89c8"/>
<circle cx="399.5" cy="233.5" r="1.7" fill="#4a89c8"/>
<circle cx="404.2" cy="201.2" r="1.7" fill="#4a89c8"/>
<circle cx="408.8" cy="196.4" r="1.7" fill="#4a89c8"/>
<circle cx="413.5" cy="214.4" r="1.7" fill="#4a89c8"/>
<circle cx="418.1" cy="224.5" r="1.7" fill="#4a89c8"/>
<circle cx="422.7" cy="224.5" r="1.7" fill="#4a89c8"/>
<circle cx="427.4" cy="210.1" r="1.7" fill="#4a89c8"/>
<circle cx="432.0" cy="214.4" r="1.7" fill="#4a89c8"/>
<circle cx="436.7" cy="216.3" r="1.7" fill="#4a89c8"/>
<circle cx="441.3" cy="235.2" r="1.7" fill="#4a89c8"/>
<circle cx="445.9" cy="184.5" r="1.7" fill="#4a89c8"/>
<circle cx="450.6" cy="183.3" r="1.7" fill="#4a89c8"/>
<circle cx="455.2" cy="221.6" r="1.7" fill="#4a89c8"/>
<circle cx="459.9" cy="237.1" r="1.7" fill="#4a89c8"/>
<circle cx="464.5" cy="240.8" r="1.7" fill="#4a89c8"/>
<circle cx="469.1" cy="206.7" r="1.7" fill="#4a89c8"/>
<circle cx="473.8" cy="234.8" r="1.7" fill="#4a89c8"/>
<circle cx="478.4" cy="240.3" r="1.7" fill="#4a89c8"/>
<circle cx="483.1" cy="187.4" r="1.7" fill="#4a89c8"/>
<circle cx="487.7" cy="218.6" r="1.7" fill="#4a89c8"/>
<circle cx="492.3" cy="251.5" r="1.7" fill="#4a89c8"/>
<circle cx="497.0" cy="216.3" r="1.7" fill="#4a89c8"/>
<circle cx="501.6" cy="199.6" r="1.7" fill="#4a89c8"/>
<circle cx="506.3" cy="192.2" r="1.7" fill="#4a89c8"/>
<circle cx="510.9" cy="195.8" r="1.7" fill="#4a89c8"/>
<circle cx="515.5" cy="219.2" r="1.7" fill="#4a89c8"/>
<circle cx="520.2" cy="213.7" r="1.7" fill="#4a89c8"/>
<circle cx="524.8" cy="225.9" r="1.7" fill="#4a89c8"/>
<circle cx="529.5" cy="189.7" r="1.7" fill="#4a89c8"/>
<circle cx="534.1" cy="212.0" r="1.7" fill="#4a89c8"/>
<polyline points="371.7,198.9 376.3,200.6 381.0,202.3 385.6,204.0 390.3,205.7 394.9,207.4 399.5,209.1 404.2,210.8 408.8,212.5 413.5,214.2 418.1,215.9 422.7,217.6 427.4,219.3 432.0,221.1 436.7,222.8 441.3,224.5 445.9,180.4 450.6,196.4 455.2,213.7 459.9,230.0 464.5,246.7 469.1,210.8 473.8,227.5 478.4,244.0 483.1,187.4 487.7,218.6 492.3,251.5 497.0,204.8 501.6,205.4 506.3,206.0 510.9,206.6 515.5,207.2 520.2,207.8 524.8,208.4 529.5,209.0 534.1,209.6" fill="none" stroke="#ed7d31" stroke-width="1.0" stroke-linejoin="round"/>
<circle cx="371.7" cy="198.9" r="1.65" fill="#ed7d31"/>
<circle cx="376.3" cy="200.6" r="1.65" fill="#ed7d31"/>
<circle cx="381.0" cy="202.3" r="1.65" fill="#ed7d31"/>
<circle cx="385.6" cy="204.0" r="1.65" fill="#ed7d31"/>
<circle cx="390.3" cy="205.7" r="1.65" fill="#ed7d31"/>
<circle cx="394.9" cy="207.4" r="1.65" fill="#ed7d31"/>
<circle cx="399.5" cy="209.1" r="1.65" fill="#ed7d31"/>
<circle cx="404.2" cy="210.8" r="1.65" fill="#ed7d31"/>
<circle cx="408.8" cy="212.5" r="1.65" fill="#ed7d31"/>
<circle cx="413.5" cy="214.2" r="1.65" fill="#ed7d31"/>
<circle cx="418.1" cy="215.9" r="1.65" fill="#ed7d31"/>
<circle cx="422.7" cy="217.6" r="1.65" fill="#ed7d31"/>
<circle cx="427.4" cy="219.3" r="1.65" fill="#ed7d31"/>
<circle cx="432.0" cy="221.1" r="1.65" fill="#ed7d31"/>
<circle cx="436.7" cy="222.8" r="1.65" fill="#ed7d31"/>
<circle cx="441.3" cy="224.5" r="1.65" fill="#ed7d31"/>
<circle cx="445.9" cy="180.4" r="1.65" fill="#ed7d31"/>
<circle cx="450.6" cy="196.4" r="1.65" fill="#ed7d31"/>
<circle cx="455.2" cy="213.7" r="1.65" fill="#ed7d31"/>
<circle cx="459.9" cy="230.0" r="1.65" fill="#ed7d31"/>
<circle cx="464.5" cy="246.7" r="1.65" fill="#ed7d31"/>
<circle cx="469.1" cy="210.8" r="1.65" fill="#ed7d31"/>
<circle cx="473.8" cy="227.5" r="1.65" fill="#ed7d31"/>
<circle cx="478.4" cy="244.0" r="1.65" fill="#ed7d31"/>
<circle cx="483.1" cy="187.4" r="1.65" fill="#ed7d31"/>
<circle cx="487.7" cy="218.6" r="1.65" fill="#ed7d31"/>
<circle cx="492.3" cy="251.5" r="1.65" fill="#ed7d31"/>
<circle cx="497.0" cy="204.8" r="1.65" fill="#ed7d31"/>
<circle cx="501.6" cy="205.4" r="1.65" fill="#ed7d31"/>
<circle cx="506.3" cy="206.0" r="1.65" fill="#ed7d31"/>
<circle cx="510.9" cy="206.6" r="1.65" fill="#ed7d31"/>
<circle cx="515.5" cy="207.2" r="1.65" fill="#ed7d31"/>
<circle cx="520.2" cy="207.8" r="1.65" fill="#ed7d31"/>
<circle cx="524.8" cy="208.4" r="1.65" fill="#ed7d31"/>
<circle cx="529.5" cy="209.0" r="1.65" fill="#ed7d31"/>
<circle cx="534.1" cy="209.6" r="1.65" fill="#ed7d31"/>
<line x1="371.3" y1="271.2" x2="371.3" y2="376.6" stroke="#bababa" stroke-width="0.9"/>
<line x1="371.3" y1="376.6" x2="373.3" y2="376.6" stroke="#c8c8c8" stroke-width="0.7"/>
<text x="367.0" y="379.4" text-anchor="end" font-size="7.5" class="s">-0.1</text>
<line x1="371.3" y1="361.5" x2="373.3" y2="361.5" stroke="#c8c8c8" stroke-width="0.7"/>
<text x="367.0" y="364.4" text-anchor="end" font-size="7.5" class="s">0</text>
<line x1="371.3" y1="346.4" x2="373.3" y2="346.4" stroke="#c8c8c8" stroke-width="0.7"/>
<text x="367.0" y="349.3" text-anchor="end" font-size="7.5" class="s">0.1</text>
<line x1="371.3" y1="331.4" x2="373.3" y2="331.4" stroke="#c8c8c8" stroke-width="0.7"/>
<text x="367.0" y="334.3" text-anchor="end" font-size="7.5" class="s">0.2</text>
<line x1="371.3" y1="316.4" x2="373.3" y2="316.4" stroke="#c8c8c8" stroke-width="0.7"/>
<text x="367.0" y="319.2" text-anchor="end" font-size="7.5" class="s">0.3</text>
<line x1="371.3" y1="301.3" x2="373.3" y2="301.3" stroke="#c8c8c8" stroke-width="0.7"/>
<text x="367.0" y="304.2" text-anchor="end" font-size="7.5" class="s">0.4</text>
<line x1="371.3" y1="286.2" x2="373.3" y2="286.2" stroke="#c8c8c8" stroke-width="0.7"/>
<text x="367.0" y="289.1" text-anchor="end" font-size="7.5" class="s">0.5</text>
<line x1="371.3" y1="271.2" x2="373.3" y2="271.2" stroke="#c8c8c8" stroke-width="0.7"/>
<text x="367.0" y="274.1" text-anchor="end" font-size="7.5" class="s">0.6</text>
<line x1="371.3" y1="361.5" x2="533.2" y2="361.5" stroke="#c8c8c8" stroke-width="0.9"/>
<line x1="371.3" y1="361.5" x2="371.3" y2="359.5" stroke="#c8c8c8" stroke-width="0.7"/>
<line x1="375.9" y1="361.5" x2="375.9" y2="359.5" stroke="#c8c8c8" stroke-width="0.7"/>
<line x1="380.4" y1="361.5" x2="380.4" y2="359.5" stroke="#c8c8c8" stroke-width="0.7"/>
<line x1="385.0" y1="361.5" x2="385.0" y2="359.5" stroke="#c8c8c8" stroke-width="0.7"/>
<line x1="389.6" y1="361.5" x2="389.6" y2="359.5" stroke="#c8c8c8" stroke-width="0.7"/>
<line x1="394.2" y1="361.5" x2="394.2" y2="359.5" stroke="#c8c8c8" stroke-width="0.7"/>
<line x1="398.7" y1="361.5" x2="398.7" y2="359.5" stroke="#c8c8c8" stroke-width="0.7"/>
<line x1="403.3" y1="361.5" x2="403.3" y2="359.5" stroke="#c8c8c8" stroke-width="0.7"/>
<line x1="407.9" y1="361.5" x2="407.9" y2="359.5" stroke="#c8c8c8" stroke-width="0.7"/>
<line x1="412.4" y1="361.5" x2="412.4" y2="359.5" stroke="#c8c8c8" stroke-width="0.7"/>
<line x1="417.0" y1="361.5" x2="417.0" y2="359.5" stroke="#c8c8c8" stroke-width="0.7"/>
<line x1="421.6" y1="361.5" x2="421.6" y2="359.5" stroke="#c8c8c8" stroke-width="0.7"/>
<line x1="426.1" y1="361.5" x2="426.1" y2="359.5" stroke="#c8c8c8" stroke-width="0.7"/>
<line x1="430.7" y1="361.5" x2="430.7" y2="359.5" stroke="#c8c8c8" stroke-width="0.7"/>
<line x1="435.3" y1="361.5" x2="435.3" y2="359.5" stroke="#c8c8c8" stroke-width="0.7"/>
<line x1="439.9" y1="361.5" x2="439.9" y2="359.5" stroke="#c8c8c8" stroke-width="0.7"/>
<line x1="444.4" y1="361.5" x2="444.4" y2="359.5" stroke="#c8c8c8" stroke-width="0.7"/>
<line x1="449.0" y1="361.5" x2="449.0" y2="359.5" stroke="#c8c8c8" stroke-width="0.7"/>
<line x1="453.6" y1="361.5" x2="453.6" y2="359.5" stroke="#c8c8c8" stroke-width="0.7"/>
<line x1="458.1" y1="361.5" x2="458.1" y2="359.5" stroke="#c8c8c8" stroke-width="0.7"/>
<line x1="462.7" y1="361.5" x2="462.7" y2="359.5" stroke="#c8c8c8" stroke-width="0.7"/>
<line x1="467.3" y1="361.5" x2="467.3" y2="359.5" stroke="#c8c8c8" stroke-width="0.7"/>
<line x1="471.8" y1="361.5" x2="471.8" y2="359.5" stroke="#c8c8c8" stroke-width="0.7"/>
<line x1="476.4" y1="361.5" x2="476.4" y2="359.5" stroke="#c8c8c8" stroke-width="0.7"/>
<line x1="481.0" y1="361.5" x2="481.0" y2="359.5" stroke="#c8c8c8" stroke-width="0.7"/>
<line x1="485.6" y1="361.5" x2="485.6" y2="359.5" stroke="#c8c8c8" stroke-width="0.7"/>
<line x1="490.1" y1="361.5" x2="490.1" y2="359.5" stroke="#c8c8c8" stroke-width="0.7"/>
<line x1="494.7" y1="361.5" x2="494.7" y2="359.5" stroke="#c8c8c8" stroke-width="0.7"/>
<line x1="499.3" y1="361.5" x2="499.3" y2="359.5" stroke="#c8c8c8" stroke-width="0.7"/>
<line x1="503.8" y1="361.5" x2="503.8" y2="359.5" stroke="#c8c8c8" stroke-width="0.7"/>
<line x1="508.4" y1="361.5" x2="508.4" y2="359.5" stroke="#c8c8c8" stroke-width="0.7"/>
<line x1="513.0" y1="361.5" x2="513.0" y2="359.5" stroke="#c8c8c8" stroke-width="0.7"/>
<line x1="517.5" y1="361.5" x2="517.5" y2="359.5" stroke="#c8c8c8" stroke-width="0.7"/>
<line x1="522.1" y1="361.5" x2="522.1" y2="359.5" stroke="#c8c8c8" stroke-width="0.7"/>
<line x1="526.7" y1="361.5" x2="526.7" y2="359.5" stroke="#c8c8c8" stroke-width="0.7"/>
<line x1="531.2" y1="361.5" x2="531.2" y2="359.5" stroke="#c8c8c8" stroke-width="0.7"/>
<text x="371.3" y="374.1" text-anchor="middle" font-size="7.5" class="s">1986</text>
<text x="394.2" y="374.1" text-anchor="middle" font-size="7.5" class="s">1991</text>
<text x="417.0" y="374.1" text-anchor="middle" font-size="7.5" class="s">1996</text>
<text x="439.9" y="374.1" text-anchor="middle" font-size="7.5" class="s">2001</text>
<text x="462.7" y="374.1" text-anchor="middle" font-size="7.5" class="s">2006</text>
<text x="485.6" y="374.1" text-anchor="middle" font-size="7.5" class="s">2011</text>
<text x="508.4" y="374.1" text-anchor="middle" font-size="7.5" class="s">2016</text>
<text x="531.2" y="374.1" text-anchor="middle" font-size="7.5" class="s">2021</text>
<line x1="426.1" y1="272" x2="426.1" y2="362.5" stroke="#f5c000" stroke-width="1.15" stroke-dasharray="2.6 1.8"/>
<line x1="444.4" y1="271" x2="444.4" y2="362.5" stroke="#8a5ccf" stroke-width="1.15" stroke-dasharray="2.6 1.8"/>
<text x="409.7" y="279.3" font-size="7.4" class="s">1998</text>
<text x="446.0" y="277.6" font-size="7.4" class="s">2002</text>
<rect x="480.2" y="268.4" width="61" height="12" fill="#fff" stroke="#d4d4d4" stroke-width="0.8"/>
<text x="484.5" y="277.8" font-size="7.6" class="s">Fit RMSE<tspan class="cjk">：</tspan>0.04</text>
<polyline points="371.3,323.7 375.9,330.2 380.4,333.1 385.0,335.6 389.6,320.6 394.2,327.0 398.7,337.4 403.3,318.2 407.9,312.9 412.4,319.4 417.0,335.8 421.6,335.8 426.1,309.7 430.7,319.4 435.3,329.7 439.9,350.2 444.4,307.3 449.0,319.8 453.6,343.4 458.1,320.1 462.7,325.4 467.3,335.8 471.8,343.4 476.4,322.5 481.0,324.2 485.6,323.4 490.1,329.0 494.7,304.2 499.3,318.9 503.8,314.1 508.4,318.2 513.0,315.7 517.5,299.3 522.1,313.3 526.7,306.6 531.2,304.2" fill="none" stroke="#5b9bd5" stroke-width="0.95" stroke-linejoin="round"/>
<circle cx="371.3" cy="323.7" r="1.7" fill="#4a89c8"/>
<circle cx="375.9" cy="330.2" r="1.7" fill="#4a89c8"/>
<circle cx="380.4" cy="333.1" r="1.7" fill="#4a89c8"/>
<circle cx="385.0" cy="335.6" r="1.7" fill="#4a89c8"/>
<circle cx="389.6" cy="320.6" r="1.7" fill="#4a89c8"/>
<circle cx="394.2" cy="327.0" r="1.7" fill="#4a89c8"/>
<circle cx="398.7" cy="337.4" r="1.7" fill="#4a89c8"/>
<circle cx="403.3" cy="318.2" r="1.7" fill="#4a89c8"/>
<circle cx="407.9" cy="312.9" r="1.7" fill="#4a89c8"/>
<circle cx="412.4" cy="319.4" r="1.7" fill="#4a89c8"/>
<circle cx="417.0" cy="335.8" r="1.7" fill="#4a89c8"/>
<circle cx="421.6" cy="335.8" r="1.7" fill="#4a89c8"/>
<circle cx="426.1" cy="309.7" r="1.7" fill="#4a89c8"/>
<circle cx="430.7" cy="319.4" r="1.7" fill="#4a89c8"/>
<circle cx="435.3" cy="329.7" r="1.7" fill="#4a89c8"/>
<circle cx="439.9" cy="350.2" r="1.7" fill="#4a89c8"/>
<circle cx="444.4" cy="307.3" r="1.7" fill="#4a89c8"/>
<circle cx="449.0" cy="319.8" r="1.7" fill="#4a89c8"/>
<circle cx="453.6" cy="343.4" r="1.7" fill="#4a89c8"/>
<circle cx="458.1" cy="320.1" r="1.7" fill="#4a89c8"/>
<circle cx="462.7" cy="325.4" r="1.7" fill="#4a89c8"/>
<circle cx="467.3" cy="335.8" r="1.7" fill="#4a89c8"/>
<circle cx="471.8" cy="343.4" r="1.7" fill="#4a89c8"/>
<circle cx="476.4" cy="322.5" r="1.7" fill="#4a89c8"/>
<circle cx="481.0" cy="324.2" r="1.7" fill="#4a89c8"/>
<circle cx="485.6" cy="323.4" r="1.7" fill="#4a89c8"/>
<circle cx="490.1" cy="329.0" r="1.7" fill="#4a89c8"/>
<circle cx="494.7" cy="304.2" r="1.7" fill="#4a89c8"/>
<circle cx="499.3" cy="318.9" r="1.7" fill="#4a89c8"/>
<circle cx="503.8" cy="314.1" r="1.7" fill="#4a89c8"/>
<circle cx="508.4" cy="318.2" r="1.7" fill="#4a89c8"/>
<circle cx="513.0" cy="315.7" r="1.7" fill="#4a89c8"/>
<circle cx="517.5" cy="299.3" r="1.7" fill="#4a89c8"/>
<circle cx="522.1" cy="313.3" r="1.7" fill="#4a89c8"/>
<circle cx="526.7" cy="306.6" r="1.7" fill="#4a89c8"/>
<circle cx="531.2" cy="304.2" r="1.7" fill="#4a89c8"/>
<polyline points="371.3,327.0 375.9,327.0 380.4,327.0 385.0,327.0 389.6,327.0 394.2,327.0 398.7,327.0 403.3,327.0 407.9,327.0 412.4,327.0 417.0,327.0 421.6,327.0 426.1,309.7 430.7,320.9 435.3,333.8 439.9,347.1 444.4,306.1 449.0,312.1 453.6,318.0 458.1,324.0 462.7,329.9 467.3,335.8 471.8,341.8 476.4,335.5 481.0,329.2 485.6,322.9 490.1,316.6 494.7,310.3 499.3,310.1 503.8,309.9 508.4,309.7 513.0,309.4 517.5,309.2 522.1,309.0 526.7,308.7 531.2,308.5" fill="none" stroke="#ed7d31" stroke-width="1.0" stroke-linejoin="round"/>
<circle cx="371.3" cy="327.0" r="1.65" fill="#ed7d31"/>
<circle cx="375.9" cy="327.0" r="1.65" fill="#ed7d31"/>
<circle cx="380.4" cy="327.0" r="1.65" fill="#ed7d31"/>
<circle cx="385.0" cy="327.0" r="1.65" fill="#ed7d31"/>
<circle cx="389.6" cy="327.0" r="1.65" fill="#ed7d31"/>
<circle cx="394.2" cy="327.0" r="1.65" fill="#ed7d31"/>
<circle cx="398.7" cy="327.0" r="1.65" fill="#ed7d31"/>
<circle cx="403.3" cy="327.0" r="1.65" fill="#ed7d31"/>
<circle cx="407.9" cy="327.0" r="1.65" fill="#ed7d31"/>
<circle cx="412.4" cy="327.0" r="1.65" fill="#ed7d31"/>
<circle cx="417.0" cy="327.0" r="1.65" fill="#ed7d31"/>
<circle cx="421.6" cy="327.0" r="1.65" fill="#ed7d31"/>
<circle cx="426.1" cy="309.7" r="1.65" fill="#ed7d31"/>
<circle cx="430.7" cy="320.9" r="1.65" fill="#ed7d31"/>
<circle cx="435.3" cy="333.8" r="1.65" fill="#ed7d31"/>
<circle cx="439.9" cy="347.1" r="1.65" fill="#ed7d31"/>
<circle cx="444.4" cy="306.1" r="1.65" fill="#ed7d31"/>
<circle cx="449.0" cy="312.1" r="1.65" fill="#ed7d31"/>
<circle cx="453.6" cy="318.0" r="1.65" fill="#ed7d31"/>
<circle cx="458.1" cy="324.0" r="1.65" fill="#ed7d31"/>
<circle cx="462.7" cy="329.9" r="1.65" fill="#ed7d31"/>
<circle cx="467.3" cy="335.8" r="1.65" fill="#ed7d31"/>
<circle cx="471.8" cy="341.8" r="1.65" fill="#ed7d31"/>
<circle cx="476.4" cy="335.5" r="1.65" fill="#ed7d31"/>
<circle cx="481.0" cy="329.2" r="1.65" fill="#ed7d31"/>
<circle cx="485.6" cy="322.9" r="1.65" fill="#ed7d31"/>
<circle cx="490.1" cy="316.6" r="1.65" fill="#ed7d31"/>
<circle cx="494.7" cy="310.3" r="1.65" fill="#ed7d31"/>
<circle cx="499.3" cy="310.1" r="1.65" fill="#ed7d31"/>
<circle cx="503.8" cy="309.9" r="1.65" fill="#ed7d31"/>
<circle cx="508.4" cy="309.7" r="1.65" fill="#ed7d31"/>
<circle cx="513.0" cy="309.4" r="1.65" fill="#ed7d31"/>
<circle cx="517.5" cy="309.2" r="1.65" fill="#ed7d31"/>
<circle cx="522.1" cy="309.0" r="1.65" fill="#ed7d31"/>
<circle cx="526.7" cy="308.7" r="1.65" fill="#ed7d31"/>
<circle cx="531.2" cy="308.5" r="1.65" fill="#ed7d31"/>
<line x1="374.2" y1="388.2" x2="374.2" y2="490.2" stroke="#bababa" stroke-width="0.9"/>
<line x1="374.2" y1="490.2" x2="376.2" y2="490.2" stroke="#c8c8c8" stroke-width="0.7"/>
<text x="368.6" y="493.1" text-anchor="end" font-size="7.5" class="s">-0.2</text>
<line x1="374.2" y1="477.4" x2="376.2" y2="477.4" stroke="#c8c8c8" stroke-width="0.7"/>
<text x="368.6" y="480.3" text-anchor="end" font-size="7.5" class="s">-0.1</text>
<line x1="374.2" y1="464.7" x2="376.2" y2="464.7" stroke="#c8c8c8" stroke-width="0.7"/>
<text x="368.6" y="467.6" text-anchor="end" font-size="7.5" class="s">0</text>
<line x1="374.2" y1="451.9" x2="376.2" y2="451.9" stroke="#c8c8c8" stroke-width="0.7"/>
<text x="368.6" y="454.8" text-anchor="end" font-size="7.5" class="s">0.1</text>
<line x1="374.2" y1="439.2" x2="376.2" y2="439.2" stroke="#c8c8c8" stroke-width="0.7"/>
<text x="368.6" y="442.1" text-anchor="end" font-size="7.5" class="s">0.2</text>
<line x1="374.2" y1="426.4" x2="376.2" y2="426.4" stroke="#c8c8c8" stroke-width="0.7"/>
<text x="368.6" y="429.3" text-anchor="end" font-size="7.5" class="s">0.3</text>
<line x1="374.2" y1="413.7" x2="376.2" y2="413.7" stroke="#c8c8c8" stroke-width="0.7"/>
<text x="368.6" y="416.6" text-anchor="end" font-size="7.5" class="s">0.4</text>
<line x1="374.2" y1="400.9" x2="376.2" y2="400.9" stroke="#c8c8c8" stroke-width="0.7"/>
<text x="368.6" y="403.8" text-anchor="end" font-size="7.5" class="s">0.5</text>
<line x1="374.2" y1="388.2" x2="376.2" y2="388.2" stroke="#c8c8c8" stroke-width="0.7"/>
<text x="368.6" y="391.1" text-anchor="end" font-size="7.5" class="s">0.6</text>
<line x1="374.2" y1="464.7" x2="535.5" y2="464.7" stroke="#c8c8c8" stroke-width="0.9"/>
<line x1="374.2" y1="464.7" x2="374.2" y2="462.7" stroke="#c8c8c8" stroke-width="0.7"/>
<line x1="378.8" y1="464.7" x2="378.8" y2="462.7" stroke="#c8c8c8" stroke-width="0.7"/>
<line x1="383.3" y1="464.7" x2="383.3" y2="462.7" stroke="#c8c8c8" stroke-width="0.7"/>
<line x1="387.8" y1="464.7" x2="387.8" y2="462.7" stroke="#c8c8c8" stroke-width="0.7"/>
<line x1="392.4" y1="464.7" x2="392.4" y2="462.7" stroke="#c8c8c8" stroke-width="0.7"/>
<line x1="396.9" y1="464.7" x2="396.9" y2="462.7" stroke="#c8c8c8" stroke-width="0.7"/>
<line x1="401.5" y1="464.7" x2="401.5" y2="462.7" stroke="#c8c8c8" stroke-width="0.7"/>
<line x1="406.1" y1="464.7" x2="406.1" y2="462.7" stroke="#c8c8c8" stroke-width="0.7"/>
<line x1="410.6" y1="464.7" x2="410.6" y2="462.7" stroke="#c8c8c8" stroke-width="0.7"/>
<line x1="415.1" y1="464.7" x2="415.1" y2="462.7" stroke="#c8c8c8" stroke-width="0.7"/>
<line x1="419.7" y1="464.7" x2="419.7" y2="462.7" stroke="#c8c8c8" stroke-width="0.7"/>
<line x1="424.2" y1="464.7" x2="424.2" y2="462.7" stroke="#c8c8c8" stroke-width="0.7"/>
<line x1="428.8" y1="464.7" x2="428.8" y2="462.7" stroke="#c8c8c8" stroke-width="0.7"/>
<line x1="433.3" y1="464.7" x2="433.3" y2="462.7" stroke="#c8c8c8" stroke-width="0.7"/>
<line x1="437.9" y1="464.7" x2="437.9" y2="462.7" stroke="#c8c8c8" stroke-width="0.7"/>
<line x1="442.4" y1="464.7" x2="442.4" y2="462.7" stroke="#c8c8c8" stroke-width="0.7"/>
<line x1="447.0" y1="464.7" x2="447.0" y2="462.7" stroke="#c8c8c8" stroke-width="0.7"/>
<line x1="451.5" y1="464.7" x2="451.5" y2="462.7" stroke="#c8c8c8" stroke-width="0.7"/>
<line x1="456.1" y1="464.7" x2="456.1" y2="462.7" stroke="#c8c8c8" stroke-width="0.7"/>
<line x1="460.6" y1="464.7" x2="460.6" y2="462.7" stroke="#c8c8c8" stroke-width="0.7"/>
<line x1="465.2" y1="464.7" x2="465.2" y2="462.7" stroke="#c8c8c8" stroke-width="0.7"/>
<line x1="469.8" y1="464.7" x2="469.8" y2="462.7" stroke="#c8c8c8" stroke-width="0.7"/>
<line x1="474.3" y1="464.7" x2="474.3" y2="462.7" stroke="#c8c8c8" stroke-width="0.7"/>
<line x1="478.8" y1="464.7" x2="478.8" y2="462.7" stroke="#c8c8c8" stroke-width="0.7"/>
<line x1="483.4" y1="464.7" x2="483.4" y2="462.7" stroke="#c8c8c8" stroke-width="0.7"/>
<line x1="487.9" y1="464.7" x2="487.9" y2="462.7" stroke="#c8c8c8" stroke-width="0.7"/>
<line x1="492.5" y1="464.7" x2="492.5" y2="462.7" stroke="#c8c8c8" stroke-width="0.7"/>
<line x1="497.0" y1="464.7" x2="497.0" y2="462.7" stroke="#c8c8c8" stroke-width="0.7"/>
<line x1="501.6" y1="464.7" x2="501.6" y2="462.7" stroke="#c8c8c8" stroke-width="0.7"/>
<line x1="506.1" y1="464.7" x2="506.1" y2="462.7" stroke="#c8c8c8" stroke-width="0.7"/>
<line x1="510.7" y1="464.7" x2="510.7" y2="462.7" stroke="#c8c8c8" stroke-width="0.7"/>
<line x1="515.2" y1="464.7" x2="515.2" y2="462.7" stroke="#c8c8c8" stroke-width="0.7"/>
<line x1="519.8" y1="464.7" x2="519.8" y2="462.7" stroke="#c8c8c8" stroke-width="0.7"/>
<line x1="524.4" y1="464.7" x2="524.4" y2="462.7" stroke="#c8c8c8" stroke-width="0.7"/>
<line x1="528.9" y1="464.7" x2="528.9" y2="462.7" stroke="#c8c8c8" stroke-width="0.7"/>
<line x1="533.5" y1="464.7" x2="533.5" y2="462.7" stroke="#c8c8c8" stroke-width="0.7"/>
<text x="374.2" y="475.9" text-anchor="middle" font-size="7.5" class="s">1986</text>
<text x="396.9" y="475.9" text-anchor="middle" font-size="7.5" class="s">1991</text>
<text x="419.7" y="475.9" text-anchor="middle" font-size="7.5" class="s">1996</text>
<text x="442.4" y="475.9" text-anchor="middle" font-size="7.5" class="s">2001</text>
<text x="465.2" y="475.9" text-anchor="middle" font-size="7.5" class="s">2006</text>
<text x="487.9" y="475.9" text-anchor="middle" font-size="7.5" class="s">2011</text>
<text x="510.7" y="475.9" text-anchor="middle" font-size="7.5" class="s">2016</text>
<text x="533.5" y="475.9" text-anchor="middle" font-size="7.5" class="s">2021</text>
<line x1="451.5" y1="392" x2="451.5" y2="465.7" stroke="#f5c000" stroke-width="1.15" stroke-dasharray="2.6 1.8"/>
<line x1="483.4" y1="389.6" x2="483.4" y2="465.7" stroke="#8a5ccf" stroke-width="1.15" stroke-dasharray="2.6 1.8"/>
<text x="434.4" y="394.8" font-size="7.4" class="s">2003</text>
<text x="465.7" y="394.3" font-size="7.4" class="s">2010</text>
<rect x="484.5" y="384.5" width="60.4" height="11.7" fill="#fff" stroke="#d4d4d4" stroke-width="0.8"/>
<text x="488.9" y="394.4" font-size="7.6" class="s">Fit RMSE<tspan class="cjk">：</tspan>0.09</text>
<polyline points="374.2,444.8 378.8,444.0 383.3,454.5 387.8,450.9 392.4,450.9 396.9,443.0 401.5,451.9 406.1,457.7 410.6,446.0 415.1,442.8 419.7,443.0 424.2,448.9 428.8,450.2 433.3,458.1 437.9,456.9 442.4,460.5 447.0,414.7 451.5,407.6 456.1,482.9 460.6,452.2 465.2,470.4 469.8,453.9 474.3,452.2 478.8,446.6 483.4,418.5 487.9,442.4 492.5,441.4 497.0,432.8 501.6,446.0 506.1,438.7 510.7,430.1 515.2,436.3 519.8,432.6 524.4,443.5 528.9,448.0 533.5,428.5" fill="none" stroke="#5b9bd5" stroke-width="0.95" stroke-linejoin="round"/>
<circle cx="374.2" cy="444.8" r="1.7" fill="#4a89c8"/>
<circle cx="378.8" cy="444.0" r="1.7" fill="#4a89c8"/>
<circle cx="383.3" cy="454.5" r="1.7" fill="#4a89c8"/>
<circle cx="387.8" cy="450.9" r="1.7" fill="#4a89c8"/>
<circle cx="392.4" cy="450.9" r="1.7" fill="#4a89c8"/>
<circle cx="396.9" cy="443.0" r="1.7" fill="#4a89c8"/>
<circle cx="401.5" cy="451.9" r="1.7" fill="#4a89c8"/>
<circle cx="406.1" cy="457.7" r="1.7" fill="#4a89c8"/>
<circle cx="410.6" cy="446.0" r="1.7" fill="#4a89c8"/>
<circle cx="415.1" cy="442.8" r="1.7" fill="#4a89c8"/>
<circle cx="419.7" cy="443.0" r="1.7" fill="#4a89c8"/>
<circle cx="424.2" cy="448.9" r="1.7" fill="#4a89c8"/>
<circle cx="428.8" cy="450.2" r="1.7" fill="#4a89c8"/>
<circle cx="433.3" cy="458.1" r="1.7" fill="#4a89c8"/>
<circle cx="437.9" cy="456.9" r="1.7" fill="#4a89c8"/>
<circle cx="442.4" cy="460.5" r="1.7" fill="#4a89c8"/>
<circle cx="447.0" cy="414.7" r="1.7" fill="#4a89c8"/>
<circle cx="451.5" cy="407.6" r="1.7" fill="#4a89c8"/>
<circle cx="456.1" cy="482.9" r="1.7" fill="#4a89c8"/>
<circle cx="460.6" cy="452.2" r="1.7" fill="#4a89c8"/>
<circle cx="465.2" cy="470.4" r="1.7" fill="#4a89c8"/>
<circle cx="469.8" cy="453.9" r="1.7" fill="#4a89c8"/>
<circle cx="474.3" cy="452.2" r="1.7" fill="#4a89c8"/>
<circle cx="478.8" cy="446.6" r="1.7" fill="#4a89c8"/>
<circle cx="483.4" cy="418.5" r="1.7" fill="#4a89c8"/>
<circle cx="487.9" cy="442.4" r="1.7" fill="#4a89c8"/>
<circle cx="492.5" cy="441.4" r="1.7" fill="#4a89c8"/>
<circle cx="497.0" cy="432.8" r="1.7" fill="#4a89c8"/>
<circle cx="501.6" cy="446.0" r="1.7" fill="#4a89c8"/>
<circle cx="506.1" cy="438.7" r="1.7" fill="#4a89c8"/>
<circle cx="510.7" cy="430.1" r="1.7" fill="#4a89c8"/>
<circle cx="515.2" cy="436.3" r="1.7" fill="#4a89c8"/>
<circle cx="519.8" cy="432.6" r="1.7" fill="#4a89c8"/>
<circle cx="524.4" cy="443.5" r="1.7" fill="#4a89c8"/>
<circle cx="528.9" cy="448.0" r="1.7" fill="#4a89c8"/>
<circle cx="533.5" cy="428.5" r="1.7" fill="#4a89c8"/>
<polyline points="374.2,445.4 378.8,446.0 383.3,446.6 387.8,447.2 392.4,447.8 396.9,448.4 401.5,449.0 406.1,449.6 410.6,450.1 415.1,450.7 419.7,451.3 424.2,451.9 428.8,452.5 433.3,453.1 437.9,453.7 442.4,454.2 447.0,426.8 451.5,399.8 456.1,437.2 460.6,470.4 465.2,467.4 469.8,456.9 474.3,447.1 478.8,437.8 483.4,427.9 487.9,429.2 492.5,430.5 497.0,431.8 501.6,433.1 506.1,434.4 510.7,435.7 515.2,437.0 519.8,438.3 524.4,439.6 528.9,441.0 533.5,442.3" fill="none" stroke="#ed7d31" stroke-width="1.0" stroke-linejoin="round"/>
<circle cx="374.2" cy="445.4" r="1.65" fill="#ed7d31"/>
<circle cx="378.8" cy="446.0" r="1.65" fill="#ed7d31"/>
<circle cx="383.3" cy="446.6" r="1.65" fill="#ed7d31"/>
<circle cx="387.8" cy="447.2" r="1.65" fill="#ed7d31"/>
<circle cx="392.4" cy="447.8" r="1.65" fill="#ed7d31"/>
<circle cx="396.9" cy="448.4" r="1.65" fill="#ed7d31"/>
<circle cx="401.5" cy="449.0" r="1.65" fill="#ed7d31"/>
<circle cx="406.1" cy="449.6" r="1.65" fill="#ed7d31"/>
<circle cx="410.6" cy="450.1" r="1.65" fill="#ed7d31"/>
<circle cx="415.1" cy="450.7" r="1.65" fill="#ed7d31"/>
<circle cx="419.7" cy="451.3" r="1.65" fill="#ed7d31"/>
<circle cx="424.2" cy="451.9" r="1.65" fill="#ed7d31"/>
<circle cx="428.8" cy="452.5" r="1.65" fill="#ed7d31"/>
<circle cx="433.3" cy="453.1" r="1.65" fill="#ed7d31"/>
<circle cx="437.9" cy="453.7" r="1.65" fill="#ed7d31"/>
<circle cx="442.4" cy="454.2" r="1.65" fill="#ed7d31"/>
<circle cx="447.0" cy="426.8" r="1.65" fill="#ed7d31"/>
<circle cx="451.5" cy="399.8" r="1.65" fill="#ed7d31"/>
<circle cx="456.1" cy="437.2" r="1.65" fill="#ed7d31"/>
<circle cx="460.6" cy="470.4" r="1.65" fill="#ed7d31"/>
<circle cx="465.2" cy="467.4" r="1.65" fill="#ed7d31"/>
<circle cx="469.8" cy="456.9" r="1.65" fill="#ed7d31"/>
<circle cx="474.3" cy="447.1" r="1.65" fill="#ed7d31"/>
<circle cx="478.8" cy="437.8" r="1.65" fill="#ed7d31"/>
<circle cx="483.4" cy="427.9" r="1.65" fill="#ed7d31"/>
<circle cx="487.9" cy="429.2" r="1.65" fill="#ed7d31"/>
<circle cx="492.5" cy="430.5" r="1.65" fill="#ed7d31"/>
<circle cx="497.0" cy="431.8" r="1.65" fill="#ed7d31"/>
<circle cx="501.6" cy="433.1" r="1.65" fill="#ed7d31"/>
<circle cx="506.1" cy="434.4" r="1.65" fill="#ed7d31"/>
<circle cx="510.7" cy="435.7" r="1.65" fill="#ed7d31"/>
<circle cx="515.2" cy="437.0" r="1.65" fill="#ed7d31"/>
<circle cx="519.8" cy="438.3" r="1.65" fill="#ed7d31"/>
<circle cx="524.4" cy="439.6" r="1.65" fill="#ed7d31"/>
<circle cx="528.9" cy="441.0" r="1.65" fill="#ed7d31"/>
<circle cx="533.5" cy="442.3" r="1.65" fill="#ed7d31"/>
</svg></body></html>
